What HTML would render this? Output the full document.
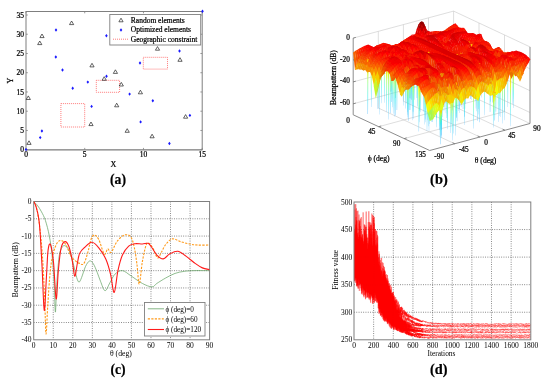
<!DOCTYPE html>
<html><head><meta charset="utf-8"><style>
html,body{margin:0;padding:0;background:#fff;}
svg{display:block;}
text{stroke:#000;stroke-width:0.22px;}
text.l{stroke:none;}
</style></head><body>
<svg width="550" height="384" viewBox="0 0 550 384" font-family="Liberation Serif, serif" fill="#000">
<defs>
<clipPath id="clipc"><rect x="33.7" y="201.5" width="175.9" height="138.3"/></clipPath>
<clipPath id="clipd"><rect x="354" y="202" width="176.8" height="137.8"/></clipPath>
</defs>
<rect width="550" height="384" fill="#fff"/>
<rect x="26" y="11.5" width="176.2" height="138.2" fill="none" stroke="#7f7f7f" stroke-width="1"/>
<path d="M26 149.7H202.2" stroke="#9a9a9a" stroke-width="1.6"/>
<path d="M26 149.7v-1.8M26 11.5v1.8" stroke="#7f7f7f" stroke-width="0.8"/>
<text x="26" y="157.4" font-size="7.5" text-anchor="middle" >0</text>
<path d="M84.73 149.7v-1.8M84.73 11.5v1.8" stroke="#7f7f7f" stroke-width="0.8"/>
<text x="84.73" y="157.4" font-size="7.5" text-anchor="middle" >5</text>
<path d="M143.47 149.7v-1.8M143.47 11.5v1.8" stroke="#7f7f7f" stroke-width="0.8"/>
<text x="143.47" y="157.4" font-size="7.5" text-anchor="middle" >10</text>
<path d="M202.2 149.7v-1.8M202.2 11.5v1.8" stroke="#7f7f7f" stroke-width="0.8"/>
<text x="202.2" y="157.4" font-size="7.5" text-anchor="middle" >15</text>
<path d="M26 149.7h1.8M202.2 149.7h-1.8" stroke="#7f7f7f" stroke-width="0.8"/>
<text x="23.9" y="152.3" font-size="7.5" text-anchor="end" >0</text>
<path d="M26 130.46h1.8M202.2 130.46h-1.8" stroke="#7f7f7f" stroke-width="0.8"/>
<text x="23.9" y="133.06" font-size="7.5" text-anchor="end" >5</text>
<path d="M26 111.21h1.8M202.2 111.21h-1.8" stroke="#7f7f7f" stroke-width="0.8"/>
<text x="23.9" y="113.81" font-size="7.5" text-anchor="end" >10</text>
<path d="M26 91.97h1.8M202.2 91.97h-1.8" stroke="#7f7f7f" stroke-width="0.8"/>
<text x="23.9" y="94.57" font-size="7.5" text-anchor="end" >15</text>
<path d="M26 72.73h1.8M202.2 72.73h-1.8" stroke="#7f7f7f" stroke-width="0.8"/>
<text x="23.9" y="75.33" font-size="7.5" text-anchor="end" >20</text>
<path d="M26 53.49h1.8M202.2 53.49h-1.8" stroke="#7f7f7f" stroke-width="0.8"/>
<text x="23.9" y="56.09" font-size="7.5" text-anchor="end" >25</text>
<path d="M26 34.24h1.8M202.2 34.24h-1.8" stroke="#7f7f7f" stroke-width="0.8"/>
<text x="23.9" y="36.84" font-size="7.5" text-anchor="end" >30</text>
<path d="M26 15h1.8M202.2 15h-1.8" stroke="#7f7f7f" stroke-width="0.8"/>
<text x="23.9" y="17.6" font-size="7.5" text-anchor="end" >35</text>
<text x="113.5" y="166.5" font-size="8" text-anchor="middle" >X</text>
<text transform="translate(13.2 80.5) rotate(-90)" font-size="8" text-anchor="middle">Y</text>
<text x="110" y="184.1" font-size="15" font-weight="bold" textLength="16" lengthAdjust="spacingAndGlyphs">(a)</text>
<rect x="60.9" y="103.6" width="23.8" height="23.4" fill="none" stroke="#ff5a5a" stroke-width="0.8" stroke-dasharray="1 1"/>
<rect x="96.3" y="80.3" width="23.3" height="12" fill="none" stroke="#ff5a5a" stroke-width="0.8" stroke-dasharray="1 1"/>
<rect x="143.3" y="57.3" width="24.2" height="11.8" fill="none" stroke="#ff5a5a" stroke-width="0.8" stroke-dasharray="1 1"/>
<path d="M42 34L44.1 37.6L39.9 37.6ZM39.75 41L41.85 44.6L37.65 44.6ZM71.6 21L73.7 24.6L69.5 24.6ZM92 63.3L94.1 66.9L89.9 66.9ZM104.2 76.7L106.3 80.3L102.1 80.3ZM115.4 69.8L117.5 73.4L113.3 73.4ZM121.3 82.4L123.4 86L119.2 86ZM140.4 90.2L142.5 93.8L138.3 93.8ZM157.5 46.6L159.6 50.2L155.4 50.2ZM180 57.7L182.1 61.3L177.9 61.3ZM28.3 95.9L30.4 99.5L26.2 99.5ZM29 140.8L31.1 144.4L26.9 144.4ZM91 122L93.1 125.6L88.9 125.6ZM116.7 103.2L118.8 106.8L114.6 106.8ZM127.2 128.7L129.3 132.3L125.1 132.3ZM152.1 134.2L154.2 137.8L150 137.8ZM185.6 114.6L187.7 118.2L183.5 118.2Z" fill="none" stroke="#222" stroke-width="0.7"/>
<path fill="#1a1aff" d="M56 28.3L57.3 30L56 31.7L54.7 30ZM106.4 34L107.7 35.7L106.4 37.4L105.1 35.7ZM55.8 55.3L57.1 57L55.8 58.7L54.5 57ZM62.5 68.3L63.8 70L62.5 71.7L61.2 70ZM72.7 86.5L74 88.2L72.7 89.9L71.4 88.2ZM87.8 80.4L89.1 82.1L87.8 83.8L86.5 82.1ZM106.5 74.6L107.8 76.3L106.5 78L105.2 76.3ZM140 61.3L141.3 63L140 64.7L138.7 63ZM179.5 49.3L180.8 51L179.5 52.7L178.2 51ZM129.6 92.4L130.9 94.1L129.6 95.8L128.3 94.1ZM152.8 99.1L154.1 100.8L152.8 102.5L151.5 100.8ZM140.6 120.2L141.9 121.9L140.6 123.6L139.3 121.9ZM169.4 141.8L170.7 143.5L169.4 145.2L168.1 143.5ZM189.9 113.7L191.2 115.4L189.9 117.1L188.6 115.4ZM91.6 104.7L92.9 106.4L91.6 108.1L90.3 106.4ZM41.9 129.3L43.2 131L41.9 132.7L40.6 131ZM40.2 135.9L41.5 137.6L40.2 139.3L38.9 137.6ZM26 147.9L27.3 149.6L26 151.3L24.7 149.6ZM202.5 9.6L203.8 11.3L202.5 13L201.2 11.3Z"/>
<rect x="109.8" y="14.5" width="90.9" height="30.5" fill="#fff" stroke="#7f7f7f" stroke-width="0.9"/>
<path d="M121 18.2L123.1 21.8L118.9 21.8Z" fill="none" stroke="#222" stroke-width="0.7"/>
<path fill="#1a1aff" d="M121 28.3L122.3 30L121 31.7L119.7 30Z"/>
<path d="M113 39.2h15" stroke="#ff5a5a" stroke-width="0.8" stroke-dasharray="1 1"/>
<text x="130.8" y="22.6" font-size="7.5" text-anchor="start" >Random elements</text>
<text x="130.8" y="32.2" font-size="7.5" text-anchor="start" >Optimized elements</text>
<text x="130.8" y="41.6" font-size="7.5" text-anchor="start" >Geographic constraint</text>
<path d="M53.24 201.5V339.8M72.79 201.5V339.8M92.33 201.5V339.8M111.88 201.5V339.8M131.42 201.5V339.8M150.97 201.5V339.8M170.51 201.5V339.8M190.06 201.5V339.8M33.7 218.79H209.6M33.7 236.07H209.6M33.7 253.36H209.6M33.7 270.65H209.6M33.7 287.94H209.6M33.7 305.23H209.6M33.7 322.51H209.6" stroke="#3a3a3a" stroke-width="0.65" stroke-dasharray="0.9 1.4"/>
<rect x="33.7" y="201.5" width="175.9" height="138.3" fill="none" stroke="#7f7f7f" stroke-width="1"/>
<text class="l" x="33.7" y="347.9" font-size="7.5" text-anchor="middle" >0</text>
<text class="l" x="53.24" y="347.9" font-size="7.5" text-anchor="middle" >10</text>
<text class="l" x="72.79" y="347.9" font-size="7.5" text-anchor="middle" >20</text>
<text class="l" x="92.33" y="347.9" font-size="7.5" text-anchor="middle" >30</text>
<text class="l" x="111.88" y="347.9" font-size="7.5" text-anchor="middle" >40</text>
<text class="l" x="131.42" y="347.9" font-size="7.5" text-anchor="middle" >50</text>
<text class="l" x="150.97" y="347.9" font-size="7.5" text-anchor="middle" >60</text>
<text class="l" x="170.51" y="347.9" font-size="7.5" text-anchor="middle" >70</text>
<text class="l" x="190.06" y="347.9" font-size="7.5" text-anchor="middle" >80</text>
<text class="l" x="209.6" y="347.9" font-size="7.5" text-anchor="middle" >90</text>
<text class="l" x="31.5" y="204" font-size="7.5" text-anchor="end" >0</text>
<text class="l" x="31.5" y="221.29" font-size="7.5" text-anchor="end" >-5</text>
<text class="l" x="31.5" y="238.57" font-size="7.5" text-anchor="end" >-10</text>
<text class="l" x="31.5" y="255.86" font-size="7.5" text-anchor="end" >-15</text>
<text class="l" x="31.5" y="273.15" font-size="7.5" text-anchor="end" >-20</text>
<text class="l" x="31.5" y="290.44" font-size="7.5" text-anchor="end" >-25</text>
<text class="l" x="31.5" y="307.73" font-size="7.5" text-anchor="end" >-30</text>
<text class="l" x="31.5" y="325.01" font-size="7.5" text-anchor="end" >-35</text>
<text class="l" x="31.5" y="342.3" font-size="7.5" text-anchor="end" >-40</text>
<text class="l" x="120.9" y="356" font-size="7.7" text-anchor="middle" >&#952; (deg)</text>
<text class="l" transform="translate(18.3 269.75) rotate(-90)" font-size="7.6" text-anchor="middle" textLength="55" lengthAdjust="spacingAndGlyphs">Beampattern (dB)</text>
<text x="110.4" y="374.3" font-size="15" font-weight="bold" textLength="15.1" lengthAdjust="spacingAndGlyphs">(c)</text>
<g fill="none" clip-path="url(#clipc)">
<path d="M33.7 201.5C34.35 202.19 36.31 203.92 37.61 205.65C38.91 207.38 40.21 209.39 41.52 211.87C42.82 214.35 44.12 216.48 45.43 220.52C46.73 224.55 48.2 230.02 49.34 236.07C50.48 242.13 51.45 248.75 52.27 256.82C53.08 264.89 53.7 275.26 54.22 284.48C54.74 293.7 54.97 312.14 55.39 312.14C55.82 312.14 56.14 293.7 56.76 284.48C57.38 275.26 58.23 262.99 59.11 256.82C59.99 250.65 61.06 249.33 62.04 247.48C63.02 245.64 63.83 245.35 64.97 245.76C66.11 246.16 67.58 247.2 68.88 249.91C70.18 252.61 71.49 257.4 72.79 262.01C74.09 266.62 75.66 274.22 76.7 277.56C77.74 280.91 78.23 282.06 79.04 282.06C79.86 282.06 80.51 280.16 81.58 277.56C82.66 274.97 84.16 269.27 85.49 266.5C86.83 263.73 88.29 261.43 89.6 260.97C90.9 260.51 92.04 261.83 93.31 263.74C94.58 265.64 96.01 269.44 97.22 272.38C98.42 275.32 99.24 278.31 100.54 281.37C101.84 284.42 103.47 290.47 105.04 290.7C106.6 290.93 108.26 285.52 109.92 282.75C111.58 279.99 112.92 276.12 115 274.11C117.09 272.09 119.7 270.3 122.43 270.65C125.17 271 128.1 274.05 131.42 276.18C134.74 278.31 138.95 281.66 142.37 283.44C145.79 285.23 149.53 286.9 151.94 286.9C154.35 286.9 154.52 284.94 156.83 283.44C159.14 281.94 162.79 279.58 165.82 277.91C168.85 276.24 171.94 274.51 175.01 273.42C178.07 272.32 181.03 271.8 184.19 271.34C187.35 270.88 189.73 270.77 193.96 270.65C198.2 270.53 206.99 270.65 209.6 270.65" stroke="#5f9f5f" stroke-width="0.7"/>
<path d="M33.7 201.5C34.19 202.65 35.65 204.38 36.63 208.41C37.61 212.45 38.59 217.64 39.56 225.7C40.54 233.77 41.65 244.72 42.5 256.82C43.34 268.92 44.06 285.46 44.64 298.31C45.23 311.16 45.49 332.77 46.01 333.92C46.53 335.07 47.06 315.77 47.77 305.23C48.49 294.68 49.4 279.29 50.31 270.65C51.22 262.01 52.1 257.97 53.24 253.36C54.38 248.75 55.79 245.12 57.15 242.99C58.52 240.86 59.99 240.28 61.45 240.57C62.92 240.86 64.45 242.3 65.95 244.72C67.45 247.14 68.91 252.44 70.44 255.09C71.97 257.74 73.6 259.24 75.13 260.62C76.67 262.01 78.2 262.87 79.63 263.39C81.06 263.91 82.37 265.58 83.73 263.74C85.1 261.89 86.63 256.36 87.84 252.33C89.04 248.29 89.89 242.41 90.97 239.53C92.04 236.65 92.98 235.04 94.29 235.04C95.59 235.04 97.12 236.36 98.78 239.53C100.44 242.7 102.76 252.5 104.26 254.05C105.75 255.61 106.63 249.16 107.77 248.87C108.91 248.58 109.57 253.54 111.1 252.33C112.63 251.12 114.78 244.49 116.96 241.61C119.14 238.73 121.91 235.84 124.19 235.04C126.47 234.23 128.98 234.81 130.64 236.77C132.3 238.73 133.12 242.3 134.16 246.79C135.2 251.29 136.05 257.51 136.89 263.74C137.74 269.96 138.33 284.48 139.24 284.13C140.15 283.79 141.23 268.17 142.37 261.66C143.51 255.15 145.01 248.12 146.08 245.06C147.16 242.01 147.68 242.82 148.82 243.34C149.96 243.85 151.46 245.76 152.92 248.18C154.39 250.6 156.21 257.17 157.61 257.86C159.01 258.55 159.96 254.57 161.33 252.33C162.69 250.08 164 246.62 165.82 244.37C167.64 242.13 169.83 239.3 172.27 238.84C174.71 238.38 177.58 240.74 180.48 241.61C183.38 242.47 186.77 243.45 189.66 244.03C192.56 244.6 194.55 244.89 197.87 245.06C201.2 245.24 207.65 245.06 209.6 245.06" stroke="#ff9a1a" stroke-width="1.1" stroke-dasharray="2.2 1.3"/>
<path d="M33.7 201.5C34.09 202.36 35.2 203.81 36.05 206.69C36.89 209.57 38.06 213.89 38.78 218.79C39.5 223.69 39.79 228.01 40.35 236.07C40.9 244.14 41.45 254.8 42.1 267.19C42.76 279.58 43.54 308.68 44.25 310.41C44.97 312.14 45.82 287.07 46.4 277.56C46.99 268.06 47.28 258.89 47.77 253.36C48.26 247.83 48.75 245.41 49.34 244.37C49.92 243.34 50.57 243.91 51.29 247.14C52.01 250.37 52.82 255.09 53.64 263.74C54.45 272.38 55.39 297.85 56.18 299C56.96 300.15 57.51 279.12 58.33 270.65C59.14 262.18 59.95 253.02 61.06 248.18C62.17 243.34 63.67 241.9 64.97 241.61C66.27 241.32 67.67 243.34 68.88 246.45C70.09 249.56 71.23 255.32 72.2 260.28C73.18 265.23 73.9 275.61 74.74 276.18C75.59 276.76 76.47 267.54 77.28 263.74C78.1 259.93 78.42 256.07 79.63 253.36C80.83 250.65 82.46 249.33 84.52 247.48C86.57 245.64 89.56 242.24 91.94 242.3C94.32 242.36 96.44 244.95 98.78 247.83C101.13 250.71 104.06 255.21 106.01 259.59C107.97 263.97 109.14 268.63 110.51 274.11C111.88 279.58 112.99 293.01 114.22 292.43C115.46 291.86 116.57 276.87 117.94 270.65C119.3 264.43 120.64 259.18 122.43 255.09C124.22 251 126.57 248 128.69 246.1C130.8 244.2 132.86 244.03 135.14 243.68C137.42 243.34 140.22 244.08 142.37 244.03C144.52 243.97 146.54 242.87 148.03 243.34C149.53 243.8 149.89 244.83 151.36 246.79C152.82 248.75 154.84 253.07 156.83 255.09C158.82 257.11 161.16 259.07 163.28 258.89C165.4 258.72 167.12 255.32 169.53 254.05C171.94 252.79 175.01 250.94 177.74 251.29C180.48 251.63 183.05 254.11 185.95 256.13C188.85 258.15 192.4 261.43 195.14 263.39C197.87 265.35 199.96 266.85 202.37 267.88C204.78 268.92 208.39 269.32 209.6 269.61" stroke="#ff1a1a" stroke-width="1.1"/>
</g>
<rect x="144.5" y="302.5" width="60.5" height="33.5" fill="#fff" stroke="#7f7f7f" stroke-width="0.9"/>
<path d="M147.8 308.8h16.2" stroke="#5f9f5f" stroke-width="0.75"/>
<path d="M147.8 318.9h16" stroke="#ff9a1a" stroke-width="1.25" stroke-dasharray="2.2 1.3"/>
<path d="M147.8 329.5h16.2" stroke="#ff1a1a" stroke-width="1.1"/>
<text class="l" x="165.5" y="312" font-size="7.2" text-anchor="start" >&#981; (deg)=0</text>
<text class="l" x="165.5" y="322" font-size="7.2" text-anchor="start" >&#981; (deg)=60</text>
<text class="l" x="165.5" y="332" font-size="7.2" text-anchor="start" >&#981; (deg)=120</text>
<path d="M373.64 202V339.8M393.29 202V339.8M412.93 202V339.8M432.58 202V339.8M452.22 202V339.8M471.87 202V339.8M491.51 202V339.8M511.16 202V339.8M354 312.24H530.8M354 284.68H530.8M354 257.12H530.8M354 229.56H530.8" stroke="#3a3a3a" stroke-width="0.65" stroke-dasharray="0.9 1.4"/>
<g fill="none" stroke="#ff0000" stroke-width="0.35" clip-path="url(#clipd)"><path d="M354 245.83L354.1 249.85L354.2 244.93L354.29 248.19L354.39 236.63L354.49 257.12L354.59 236.16L354.69 268.3L354.79 204.24L354.88 244.61L354.98 269.89L355.08 268.17L355.18 260.66L355.28 251.47L355.38 235.66L355.47 244.29L355.57 243.47L355.67 259.83L355.77 204.13L355.87 241.9L355.96 262.31L356.06 269.23L356.16 255.33L356.26 256.05L356.36 208.32L356.46 263.87L356.55 252.88L356.65 220.1L356.75 246.3L356.85 261.86L356.95 259.3L357.04 211.13L357.14 263.29L357.24 271.48L357.34 266.54L357.44 255.01L357.54 242.82L357.63 246.76L357.73 256.56L357.83 263.26L357.93 210.61L358.03 236.72L358.13 258.24L358.22 247.55L358.32 232.46L358.42 264.6L358.52 261.64L358.62 273L358.71 250.75L358.81 250.05L358.91 256.7L359.01 219.88L359.11 238.69L359.21 270.33L359.3 241.06L359.4 269.04L359.5 235.83L359.6 235.5L359.7 251.04L359.8 273.45L359.89 235.25L359.99 246.89L360.09 241.67L360.19 265.54L360.29 246.53L360.38 268.74L360.48 240.82L360.58 266.69L360.68 270.27L360.78 267.47L360.88 277.04L360.97 263.24L361.07 274.12L361.17 239.82L361.27 217.07L361.37 253.97L361.46 279.1L361.56 239.36L361.66 237.07L361.76 252.09L361.86 247.9L361.96 235.7L362.05 256.58L362.15 240.45L362.25 249.59L362.35 239.98L362.45 250.67L362.55 242.21L362.64 246.04L362.74 256.22L362.84 265.16L362.94 254.79L363.04 253.49L363.13 212.33L363.23 265.41L363.33 256.57L363.43 244.69L363.53 248.92L363.63 255.99L363.72 273.48L363.82 261.11L363.92 241.32L364.02 284.01L364.12 252.77L364.22 276.7L364.31 253.72L364.41 242.87L364.51 253.54L364.61 264.65L364.71 241.94L364.8 266.95L364.9 270.21L365 261.77L365.1 245.2L365.2 240.45L365.3 277.4L365.39 272.45L365.49 265.94L365.59 262.21L365.69 245.91L365.79 225.45L365.88 284.3L365.98 283.89L366.08 258.83L366.18 248.38L366.28 279.6L366.38 284.95L366.47 274.89L366.57 284.02L366.67 265.05L366.77 255.16L366.87 240.73L366.97 277.01L367.06 278.05L367.16 264.09L367.26 278.16L367.36 270.24L367.46 261.94L367.55 250.7L367.65 249.03L367.75 282.87L367.85 252.46L367.95 265.41L368.05 243.54L368.14 259.97L368.24 249.06L368.34 265.13L368.44 277.65L368.54 248.16L368.64 253.05L368.73 244.31L368.83 211.22L368.93 249.66L369.03 243.95L369.13 271.13L369.22 266.72L369.32 250.93L369.42 286.8L369.52 285.14L369.62 279.93L369.72 250.16L369.81 281.22L369.91 253.37L370.01 255.08L370.11 264.69L370.21 284.52L370.3 263.14L370.4 253.34L370.5 263.43L370.6 261.67L370.7 270.44L370.8 245.15L370.89 247.62L370.99 225L371.09 279.47L371.19 264.75L371.29 288.07L371.39 225.36L371.48 250.31L371.58 265.55L371.68 286.46L371.78 269.45L371.88 213.51L371.97 266.64L372.07 268.64L372.17 245.72L372.27 274.48L372.37 259.73L372.47 283.85L372.56 289.17L372.66 279.15L372.76 274.53L372.86 259.88L372.96 254.44L373.06 265.38L373.15 280.91L373.25 269.13L373.35 270.35L373.45 282.97L373.55 259.65L373.64 264.75L373.74 260.73L373.84 279.47L373.94 251.08L374.04 275.38L374.14 245.78L374.23 242.22L374.33 284.22L374.43 255.58L374.53 285.95L374.63 270.36L374.72 284.51L374.82 257.86L374.92 280.91L375.02 247.3L375.12 239.97L375.22 254.71L375.31 258.18L375.41 286.94L375.51 288.44L375.61 266.3L375.71 283.33L375.81 280.67L375.9 244.64L376 285.61L376.1 246.65L376.2 255.78L376.3 269.74L376.39 271.91L376.49 290.81L376.59 254.83L376.69 272.43L376.79 275.05L376.89 285.83L376.98 292.59L377.08 259.92L377.18 258.11L377.28 277.64L377.38 274.05L377.48 234.82L377.57 258.74L377.67 264.75L377.77 280.14L377.87 262.02L377.97 267.08L378.06 281.66L378.16 295.02L378.26 280.31L378.36 285.12L378.46 275.61L378.56 264.32L378.65 287.3L378.75 279.36L378.85 286.43L378.95 251.31L379.05 274.27L379.14 266.04L379.24 276.33L379.34 288.61L379.44 296.19L379.54 299.94L379.64 272.82L379.73 286.34L379.83 258.99L379.93 258.02L380.03 300.75L380.13 278.86L380.23 273.6L380.32 288.5L380.42 287.94L380.52 301.98L380.62 290.68L380.72 285.3L380.81 295.27L380.91 286.87L381.01 282.24L381.11 304.15L381.21 303.39L381.31 281.74L381.4 277.62L381.5 303.55L381.6 257.92L381.7 278.12L381.8 291.16L381.9 271.45L381.99 277.93L382.09 292.01L382.19 262.21L382.29 302.7L382.39 292.94L382.48 304.81L382.58 302.86L382.68 287.42L382.78 299.21L382.88 294.9L382.98 291.94L383.07 262.88L383.17 300.51L383.27 282.46L383.37 290.12L383.47 291.72L383.56 295.73L383.66 277.8L383.76 283.26L383.86 282.3L383.96 280.72L384.06 275.76L384.15 300.15L384.25 297.77L384.35 266.85L384.45 269.84L384.55 271.66L384.65 307.15L384.74 306.38L384.84 297.74L384.94 291.5L385.04 283.5L385.14 305.12L385.23 287.28L385.33 306.59L385.43 306.14L385.53 282.44L385.63 287.71L385.73 284.69L385.82 295.19L385.92 291.18L386.02 301.96L386.12 296.86L386.22 281.32L386.32 277.9L386.41 307.81L386.51 306.14L386.61 279.71L386.71 287.02L386.81 281.67L386.9 302.94L387 295.08L387.1 301.46L387.2 280.94L387.3 297.56L387.4 287.15L387.49 274.96L387.59 299.55L387.69 291.53L387.79 284.51L387.89 278.39L387.98 296.37L388.08 298.6L388.18 308.43L388.28 280.93L388.38 309.25L388.48 309.14L388.57 292.46L388.67 295.37L388.77 288.64L388.87 302L388.97 285.99L389.07 309.7L389.16 305.17L389.26 290.41L389.36 309.67L389.46 302.48L389.56 288.95L389.65 290.16L389.75 303.46L389.85 307.99L389.95 301.32L390.05 289.96L390.15 301.29L390.24 309.05L390.34 291.1L390.44 295.53L390.54 285.24L390.64 284.87L390.74 285.91L390.83 300.05L390.93 289.61L391.03 304.16L391.13 303.9L391.23 301.69L391.32 286.84L391.42 288.21L391.52 306.25L391.62 303.25L391.72 303.26L391.82 303.44L391.91 302.71L392.01 303.05L392.11 308.2L392.21 298.75L392.31 292.96L392.4 299.68L392.5 292.42L392.6 299.46L392.7 309.13L392.8 295.02L392.9 292.29L392.99 306.85L393.09 313.08L393.19 301.58L393.29 301.08L393.39 300.71L393.49 291.81L393.58 299.16L393.68 295.94L393.78 312.48L393.88 302L393.98 296.95L394.07 312.23L394.17 312.34L394.27 298.68L394.37 295.52L394.47 312.47L394.57 301.38L394.66 311.4L394.76 299.54L394.86 301.64L394.96 309.66L395.06 310.2L395.16 299.89L395.25 304.6L395.35 300.19L395.45 307.11L395.55 308.19L395.65 296.98L395.74 302.39L395.84 305.62L395.94 304.95L396.04 301.93L396.14 302.27L396.24 298.98L396.33 307.39L396.43 300.76L396.53 303.45L396.63 300.65L396.73 301.54L396.82 301.27L396.92 300.61L397.02 299.75L397.12 304.56L397.22 306.34L397.32 303.8L397.41 302.65L397.51 308.01L397.61 308.09L397.71 311.78L397.81 304.05L397.91 300.99L398 308.92L398.1 311.54L398.2 311.11L398.3 308.51L398.4 310.16L398.49 302.25L398.59 312.99L398.69 310.15L398.79 312.42L398.89 306.44L398.99 305.11L399.08 311.81L399.18 313.14L399.28 308.89L399.38 307.63L399.48 304.29L399.58 313.53L399.67 312.81L399.77 312.08L399.87 311.79L399.97 311.66L400.07 306.98L400.16 308.28L400.26 311.93L400.36 312.34L400.46 311.49L400.56 312.55L400.66 307.27L400.75 311.39L400.85 309.36L400.95 307.1L401.05 310.13L401.15 312.07L401.24 306.88L401.34 306.79L401.44 311.57L401.54 309.99L401.64 306.85L401.74 310.67L401.83 312.75L401.93 314.09L402.03 307.48L402.13 308.68L402.23 311.78L402.33 310.85L402.42 311.02L402.52 312.74L402.62 308.02L402.72 310.34L402.82 313.15L402.91 314.63L403.01 311.8L403.11 312.49L403.21 310.01L403.31 310.6L403.41 311.33L403.5 314.08L403.6 314.15L403.7 313.26L403.8 313.7L403.9 310.24L404 312.37L404.09 311.76L404.19 309.82L404.29 314.04L404.39 312.61L404.49 314.84L404.58 311.46L404.68 315.81L404.78 311.37L404.88 311.33L404.98 311.55L405.08 315.64L405.17 314.71L405.27 312.4L405.37 315.77L405.47 313.83L405.57 313.97L405.66 311.52L405.76 313.53L405.86 312.22L405.96 315.14L406.06 312.76L406.16 314.73L406.25 312.31L406.35 316.51L406.45 312.95L406.55 316.07L406.65 314.52L406.75 314.69L406.84 316.54L406.94 313.39L407.04 315.96L407.14 316.04L407.24 317.21L407.33 316.2L407.43 315.49L407.53 314.4L407.63 316.06L407.73 314.63L407.83 317.28L407.92 316.03L408.02 315.77L408.12 313.6L408.22 314.26L408.32 315.07L408.42 317.86L408.51 316.34L408.61 314.98L408.71 317.01L408.81 315.69L408.91 316.17L409 318.04L409.1 314.1L409.2 314.93L409.3 317.34L409.4 315.76L409.5 317.08L409.59 316.79L409.69 316.2L409.79 317.17L409.89 317.06L409.99 316.89L410.08 315.91L410.18 317.47L410.28 317.71L410.38 315.82L410.48 317.32L410.58 315.17L410.67 316.57L410.77 316.06L410.87 317.46L410.97 315.81L411.07 318.35L411.17 318.22L411.26 318.4L411.36 316.52L411.46 316.47L411.56 318.22L411.66 317.55L411.75 316.22L411.85 317.03L411.95 318.63L412.05 318.25L412.15 318.49L412.25 318.62L412.34 317.82L412.44 318.83L412.54 316.42L412.64 317.88L412.74 317.69L412.84 317.35L412.93 317.07L413.03 316.97L413.13 318.21L413.23 318.4L413.33 318.22L413.42 319.35L413.52 318.34L413.62 317.57L413.72 316.86L413.82 317.42L413.92 317.82L414.01 318L414.11 319.62L414.21 318.83L414.31 318.84L414.41 318.07L414.5 319.56L414.6 318.88L414.7 318.58L414.8 317.89L414.9 317.84L415 318.44L415.09 319.67L415.19 318.13L415.29 317.82L415.39 318.78L415.49 319.33L415.59 319L415.68 319.96L415.78 318.54L415.88 317.89L415.98 319.13L416.08 318.67L416.17 318.41L416.27 320.07L416.37 318.23L416.47 319.07L416.57 320.2L416.67 320.53L416.76 320.16L416.86 319.38L416.96 319.13L417.06 320.08L417.16 318.64L417.26 320.09L417.35 319.88L417.45 320.76L417.55 318.72L417.65 320.81L417.75 318.99L417.84 319.91L417.94 319.91L418.04 319.95L418.14 320.71L418.24 319.21L418.34 319.06L418.43 319.52L418.53 320.08L418.63 321.26L418.73 319.64L418.83 320.95L418.92 319.56L419.02 321.15L419.12 320.41L419.22 319.86L419.32 321.4L419.42 320.61L419.51 321.74L419.61 321.87L419.71 321.55L419.81 319.72L419.91 319.85L420.01 320.51L420.1 321.33L420.2 320.52L420.3 320.4L420.4 321.22L420.5 320.77L420.59 320.31L420.69 322.09L420.79 321.7L420.89 321.12L420.99 321.86L421.09 321.34L421.18 320.96L421.28 321.85L421.38 321.11L421.48 321.69L421.58 321.04L421.68 321.57L421.77 320.92L421.87 322.25L421.97 320.9L422.07 322.05L422.17 320.33L422.26 321.12L422.36 321.41L422.46 321.56L422.56 321.13L422.66 321.01L422.76 320.89L422.95 320.94L423.15 321.54L423.34 320.53L423.54 320.9L423.74 320.91L423.93 321.85L424.13 321.84L424.33 321.61L424.52 320.99L424.72 321.77L424.92 321.82L425.11 322.04L425.31 321.17L425.51 322.33L425.7 322.87L425.9 321.64L426.1 321.36L426.29 321.71L426.49 322L426.68 321.76L426.88 322.62L427.08 322.13L427.27 323.11L427.47 323.05L427.67 322.51L427.86 322.46L428.06 322.68L428.26 323.31L428.45 322.25L428.65 322.57L428.85 323.1L429.04 323.02L429.24 322.91L429.43 323.21L429.63 323.52L429.83 322.19L430.02 322.15L430.22 322.67L430.42 322.4L430.61 323.14L430.81 322.58L431.01 323.52L431.2 322.76L431.4 323.07L431.6 322.61L431.79 323.85L431.99 322.84L432.18 323.83L432.38 323.24L432.58 322.66L432.77 324.03L432.97 323.69L433.17 323.62L433.36 323.6L433.56 323.98L433.76 322.8L433.95 322.93L434.15 323.54L434.35 323.6L434.54 323.29L434.74 324.07L434.94 324.1L435.13 322.87L435.33 323.73L435.52 323.46L435.72 322.85L435.92 322.8L436.11 323.53L436.31 323.92L436.51 323.81L436.7 322.92L436.9 322.97L437.1 323.98L437.29 323.08L437.49 323.78L437.69 323.62L437.88 324.06L438.08 323.06L438.27 322.91L438.47 324.04L438.67 323.44L438.86 324.08L439.06 323.11L439.26 324.3L439.45 324.23L439.65 323.36L439.85 323.96L440.04 323.14L440.24 323.19L440.44 323.43L440.63 324.25L440.83 323.47L441.02 323.14L441.22 323.85L441.42 324.37L441.61 324.18L441.81 324.07L442.01 323.51L442.2 324.25L442.4 324.28L442.6 324.22L442.79 323.62L442.99 323.46L443.19 324.05L443.38 323.66L443.58 323.35L443.78 323.78L443.97 324.3L444.17 324.21L444.36 323.33L444.56 323.69L444.76 324.24L444.95 323.73L445.15 324.5L445.35 323.25L445.54 324.01L445.74 323.89L445.94 323.88L446.13 324.57L446.33 323.79L446.53 324.23L446.72 324.28L446.92 323.5L447.11 324.51L447.31 324.23L447.51 323.57L447.7 324.29L447.9 324.24L448.1 323.86L448.29 324.37L448.49 323.38L448.69 323.25L448.88 324.58L449.08 323.99L449.28 323.58L449.47 324.09L449.67 323.33L449.86 323.93L450.06 324.38L450.26 323.86L450.45 323.73L450.65 324.13L450.85 323.71L451.04 323.54L451.24 323.91L451.44 323.93L451.63 323.46L451.83 323.68L452.03 323.91L452.22 323.31L452.42 324.39L452.62 323.55L452.81 324.4L453.01 323.79L453.2 324.3L453.4 324.02L453.6 323.56L453.79 323.54L453.99 323.54L454.19 324.3L454.38 323.95L454.58 324.33L454.78 323.83L454.97 323.94L455.17 324.58L455.37 323.81L455.56 323.64L455.76 323.84L455.95 323.43L456.15 324.38L456.35 324.42L456.54 324.61L456.74 323.95L456.94 324.03L457.13 324.02L457.33 324.27L457.53 323.53L457.72 324.53L457.92 323.38L458.12 323.85L458.31 323.89L458.51 323.54L458.7 324.31L458.9 324.43L459.1 324.21L459.29 324.57L459.49 324.2L459.69 323.78L459.88 323.91L460.08 324.27L460.28 323.83L460.47 324.51L460.67 323.51L460.87 324.4L461.06 324.28L461.26 324.41L461.46 323.69L461.65 323.5L461.85 323.56L462.04 324.55L462.24 324.07L462.44 324.14L462.63 324.34L462.83 323.31L463.03 324.58L463.22 323.97L463.42 323.6L463.62 323.29L463.81 324.44L464.01 324.01L464.21 323.62L464.4 324.58L464.6 324.31L464.79 323.42L464.99 324.44L465.19 324.1L465.38 324.23L465.58 324.06L465.78 324.53L465.97 324.59L466.17 323.28L466.37 323.6L466.56 323.64L466.76 324.32L466.96 324.29L467.15 323.89L467.35 324.31L467.54 324.01L467.74 323.37L467.94 324.14L468.13 324.18L468.33 323.31L468.53 323.81L468.72 324.58L468.92 324.09L469.12 323.76L469.31 324.56L469.51 324.17L469.71 323.7L469.9 323.47L470.1 323.84L470.3 323.44L470.49 324.01L470.69 324.11L470.88 323.5L471.08 324.12L471.28 323.58L471.47 324.35L471.67 324.17L471.87 324.39L472.06 323.9L472.26 324.42L472.46 324.36L472.65 324.35L472.85 324.01L473.05 324.22L473.24 324.04L473.44 323.3L473.63 323.72L473.83 323.48L474.03 324.36L474.22 324.12L474.42 324.54L474.62 323.71L474.81 324.15L475.01 324.27L475.21 324.61L475.4 324.39L475.6 324.29L475.8 324.11L475.99 323.4L476.19 323.68L476.38 324.28L476.58 324.15L476.78 324.43L476.97 323.39L477.17 324.16L477.37 323.62L477.56 323.67L477.76 323.43L477.96 324.61L478.15 324.21L478.35 324.13L478.55 324.53L478.74 323.46L478.94 324.2L479.14 323.61L479.33 323.95L479.53 324.56L479.72 324.11L479.92 324.32L480.12 324.58L480.31 324.44L480.51 323.85L480.71 324.6L480.9 324.22L481.1 324.08L481.3 323.92L481.49 324.46L481.69 323.7L481.89 324.29L482.08 323.68L482.28 323.76L482.47 324.44L482.67 324.37L482.87 324.27L483.06 323.7L483.26 324.1L483.46 324.13L483.65 323.5L483.85 324.34L484.05 324.25L484.24 324.18L484.44 324.35L484.64 324.58L484.83 324.61L485.03 323.81L485.22 323.89L485.42 323.58L485.62 323.36L485.81 324.25L486.01 323.76L486.21 323.43L486.4 324.35L486.6 323.73L486.8 323.76L486.99 323.39L487.19 323.5L487.39 324.33L487.58 323.81L487.78 324.52L487.98 324.08L488.17 324.13L488.37 324.56L488.56 324.14L488.76 324.21L488.96 323.99L489.15 324.27L489.35 324.43L489.55 324.11L489.74 324.02L489.94 324.42L490.14 323.77L490.33 324.33L490.53 324.52L490.73 324.19L490.92 324.09L491.12 324.44L491.31 323.88L491.51 323.73L491.71 323.92L491.9 323.73L492.1 324.61L492.3 324.13L492.49 324.17L492.69 324.56L492.89 324.12L493.08 324.57L493.28 324L493.48 323.88L493.67 324.03L493.87 324.22L494.06 324.31L494.26 324.61L494.46 324.19L494.65 323.49L494.85 323.91L495.05 324.3L495.24 323.78L495.44 324.4L495.64 324.03L495.83 323.85L496.03 323.41L496.23 324.17L496.42 323.9L496.62 323.43L496.82 323.65L497.01 323.83L497.21 323.84L497.4 324.11L497.6 324.11L497.8 324.29L497.99 323.57L498.19 323.51L498.39 324.15L498.58 323.47L498.78 324.59L498.98 324.47L499.17 323.99L499.37 324.25L499.57 324.18L499.76 323.39L499.96 324.45L500.15 324.4L500.35 324.35L500.55 323.77L500.74 324.34L500.94 324.64L501.14 323.95L501.33 324.14L501.53 324.34L501.73 324.01L501.92 323.81L502.12 323.94L502.32 323.85L502.51 323.93L502.71 323.58L502.9 323.41L503.1 324.22L503.3 324.2L503.49 323.51L503.69 324.24L503.89 323.73L504.08 323.76L504.28 323.77L504.48 323.42L504.67 323.59L504.87 324.44L505.07 323.85L505.26 324.02L505.46 323.93L505.66 324.17L505.85 324.28L506.05 323.69L506.24 323.97L506.44 324.34L506.64 324.33L506.83 324.23L507.03 324.42L507.23 323.99L507.42 324.48L507.62 324.56L507.82 324.56L508.01 324.51L508.21 323.75L508.41 324.5L508.6 324.07L508.8 323.67L508.99 324.04L509.19 324.44L509.39 323.55L509.58 323.55L509.78 324.58L509.98 324.32L510.17 324.01L510.37 323.64L510.57 324.15L510.76 323.74L510.96 324.33L511.16 323.74L511.35 324.23L511.55 324.22L511.74 323.69L511.94 323.59L512.14 323.6L512.33 323.93L512.53 324.12L512.73 323.76L512.92 323.86L513.12 323.6L513.32 323.64L513.51 324.49L513.71 324.17L513.91 323.81L514.1 324.36L514.3 324.41L514.5 324.63L514.69 323.91L514.89 323.47L515.08 323.43L515.28 324.48L515.48 323.79L515.67 324.12L515.87 323.86L516.07 324.15L516.26 323.48L516.46 323.41L516.66 324.58L516.85 323.76L517.05 324.5L517.25 324.59L517.44 324.29L517.64 323.74L517.83 323.41L518.03 324.5L518.23 324.24L518.42 324.61L518.62 323.97L518.82 324.05L519.01 324.18L519.21 324.26L519.41 323.65L519.6 323.61L519.8 324.29L520 324.16L520.19 323.88L520.39 323.7L520.58 323.43L520.78 324.17L520.98 323.79L521.17 323.97L521.37 323.66L521.57 324.47L521.76 324.43L521.96 324.51L522.16 323.5L522.35 324.34L522.55 324.05L522.75 324.5L522.94 324.25L523.14 324.62L523.34 323.95L523.53 324.47L523.73 323.88L523.92 324.31L524.12 324.37L524.32 324.06L524.51 324.2L524.71 324.33L524.91 324.58L525.1 324.57L525.3 323.55L525.5 324.27L525.69 324.55L525.89 324.42L526.09 324.06L526.28 323.43L526.48 324.4L526.67 323.59L526.87 324.06L527.07 324.14L527.26 323.66L527.46 324.16L527.66 324.58L527.85 323.98L528.05 323.85L528.25 323.89L528.44 324.31L528.64 323.5L528.84 323.6L529.03 323.44L529.23 324.11L529.42 323.63L529.62 323.77L529.82 324.43L530.01 324.62L530.21 324.44L530.41 324.5L530.6 324.56L530.8 324.21"/><path d="M354 257.53L354.1 270.07L354.2 230.9L354.29 248.93L354.39 238.04L354.49 254.5L354.59 236.79L354.69 230.29L354.79 231.88L354.88 242.23L354.98 233.79L355.08 247.85L355.18 255.89L355.28 244.73L355.38 257.15L355.47 257.73L355.57 234.6L355.67 268.99L355.77 241.73L355.87 241.78L355.96 244.57L356.06 269.09L356.16 258.84L356.26 273.5L356.36 256.84L356.46 251.26L356.55 226.34L356.65 260.77L356.75 270.02L356.85 220.81L356.95 226.32L357.04 244.74L357.14 263.5L357.24 234.54L357.34 267.67L357.44 232.94L357.54 248.41L357.63 248.13L357.73 249.45L357.83 239.13L357.93 254.54L358.03 271.7L358.13 246.72L358.22 247.9L358.32 260.31L358.42 250.97L358.52 254.84L358.62 250.04L358.71 251.66L358.81 236.88L358.91 257.4L359.01 214.52L359.11 245.81L359.21 223.59L359.3 273.07L359.4 221.39L359.5 241.66L359.6 237.44L359.7 243.77L359.8 235.14L359.89 240.76L359.99 268.56L360.09 259.59L360.19 241.28L360.29 267.68L360.38 277.08L360.48 245.13L360.58 269.8L360.68 242.29L360.78 256.2L360.88 245.14L360.97 264.75L361.07 279.79L361.17 242.38L361.27 276.44L361.37 264.25L361.46 253.98L361.56 278.96L361.66 231.09L361.76 242.49L361.86 273.68L361.96 263.12L362.05 267.43L362.15 254.25L362.25 255.59L362.35 275.15L362.45 251.65L362.55 277.82L362.64 240.46L362.74 267.55L362.84 238.18L362.94 250.26L363.04 270.15L363.13 277.91L363.23 265.1L363.33 265.96L363.43 261.55L363.53 269.15L363.63 274.49L363.72 272.3L363.82 272.36L363.92 254.13L364.02 242.12L364.12 251.09L364.22 264.99L364.31 266.42L364.41 265.45L364.51 230.93L364.61 254.68L364.71 266.99L364.8 244.25L364.9 266.67L365 247.86L365.1 258.75L365.2 282.01L365.3 282.6L365.39 269.13L365.49 255.24L365.59 244.46L365.69 285.94L365.79 264.86L365.88 265.12L365.98 255.4L366.08 241.22L366.18 211.56L366.28 248.04L366.38 254.15L366.47 238.07L366.57 268.52L366.67 277.31L366.77 234.1L366.87 281.01L366.97 252.49L367.06 280L367.16 258.26L367.26 275.98L367.36 253.2L367.46 282.5L367.55 287.54L367.65 243.09L367.75 287.27L367.85 262.78L367.95 283.22L368.05 274.14L368.14 282.7L368.24 282.52L368.34 264.18L368.44 251.46L368.54 269.02L368.64 278.53L368.73 262.17L368.83 248.1L368.93 248.17L369.03 242.41L369.13 269.71L369.22 247.64L369.32 229.09L369.42 282.11L369.52 254.03L369.62 282.1L369.72 288.37L369.81 275.22L369.91 222.59L370.01 287.71L370.11 286.21L370.21 284.65L370.3 274.15L370.4 258.36L370.5 244.16L370.6 265.92L370.7 271.17L370.8 254.39L370.89 272.58L370.99 267.31L371.09 269.63L371.19 288.32L371.29 287.79L371.39 264.06L371.48 280.03L371.58 272.77L371.68 267.33L371.78 254.35L371.88 290.77L371.97 243.79L372.07 262.16L372.17 231.42L372.27 273.31L372.37 261.53L372.47 276.07L372.56 266.22L372.66 289.12L372.76 279.36L372.86 252.57L372.96 249.43L373.06 277.87L373.15 287.84L373.25 217.94L373.35 276.48L373.45 253.2L373.55 289.52L373.64 290.02L373.74 265.06L373.84 260.84L373.94 246.38L374.04 263.84L374.14 256.23L374.23 259.09L374.33 216.99L374.43 254.31L374.53 255.84L374.63 270.49L374.72 286.27L374.82 256.88L374.92 286.33L375.02 260.27L375.12 286.4L375.22 277.13L375.31 229.12L375.41 281.76L375.51 266.64L375.61 285.8L375.71 269.68L375.81 271.57L375.9 260.49L376 268.81L376.1 273.65L376.2 286.92L376.3 284.58L376.39 283.42L376.49 285.55L376.59 267.27L376.69 276.65L376.79 257.61L376.89 269.32L376.98 253.07L377.08 265.68L377.18 284.47L377.28 271.97L377.38 293.47L377.48 281.13L377.57 279.4L377.67 274.86L377.77 236.35L377.87 278.84L377.97 269.01L378.06 286.87L378.16 297.75L378.26 277.93L378.36 287.35L378.46 264.78L378.56 270.84L378.65 272.29L378.75 294.22L378.85 279.86L378.95 274.9L379.05 270.76L379.14 278.83L379.24 270.31L379.34 293.81L379.44 279.37L379.54 296.2L379.64 286.58L379.73 294.87L379.83 300.28L379.93 295.69L380.03 295.6L380.13 276.54L380.23 277.24L380.32 285.48L380.42 281.73L380.52 284.3L380.62 280.87L380.72 303.75L380.81 294.24L380.91 298.44L381.01 294.35L381.11 276.83L381.21 288.69L381.31 299.1L381.4 302.97L381.5 286.53L381.6 279.36L381.7 289.71L381.8 277.26L381.9 280.99L381.99 287.33L382.09 306.32L382.19 278.47L382.29 282.46L382.39 292.41L382.48 292.44L382.58 292.65L382.68 293.64L382.78 287.95L382.88 294.4L382.98 294.56L383.07 281.1L383.17 304.79L383.27 299.34L383.37 282.8L383.47 265.89L383.56 267.32L383.66 268.66L383.76 271.84L383.86 268.78L383.96 308.58L384.06 288.49L384.15 284.35L384.25 280.5L384.35 283.83L384.45 284.02L384.55 270.74L384.65 306.56L384.74 288.59L384.84 270.46L384.94 309.18L385.04 306L385.14 275L385.23 271.65L385.33 309.94L385.43 309.73L385.53 277.62L385.63 283.55L385.73 290.53L385.82 288.32L385.92 281.49L386.02 279.74L386.12 311.73L386.22 309.21L386.32 281.01L386.41 274.22L386.51 280.08L386.61 296.8L386.71 299.84L386.81 299.67L386.9 312.51L387 284.21L387.1 303.63L387.2 291.79L387.3 294.3L387.4 301.66L387.49 289.41L387.59 297.8L387.69 306.13L387.79 282.85L387.89 308.74L387.98 309.9L388.08 306.42L388.18 298.63L388.28 288.11L388.38 304.36L388.48 307.92L388.57 293.67L388.67 307.61L388.77 298.84L388.87 308.26L388.97 287.45L389.07 311.08L389.16 309.7L389.26 307.63L389.36 306.95L389.46 294.26L389.56 296.3L389.65 292.9L389.75 301.23L389.85 316.13L389.95 294.82L390.05 311.34L390.15 312.39L390.24 306.58L390.34 289.34L390.44 308.44L390.54 309.12L390.64 292.91L390.74 290.96L390.83 308.99L390.93 316.54L391.03 297.91L391.13 298.34L391.23 311.11L391.32 298.57L391.42 310.2L391.52 312.87L391.62 304.63L391.72 300.8L391.82 308.13L391.91 299.19L392.01 320.59L392.11 307.98L392.21 311.2L392.31 319.39L392.4 297.93L392.5 317.53L392.6 316.06L392.7 299.6L392.8 297.84L392.9 298.81L392.99 313.15L393.09 299.35L393.19 318.07L393.29 304.88L393.39 299.78L393.49 317.14L393.58 318.51L393.68 306.5L393.78 302.19L393.88 305.84L393.98 301.23L394.07 312.09L394.17 313.96L394.27 319.37L394.37 316.27L394.47 302.73L394.57 320.57L394.66 318.36L394.76 315.22L394.86 321.2L394.96 316.26L395.06 318.75L395.16 319.98L395.25 312.48L395.35 312.39L395.45 312.06L395.55 308.71L395.65 313.13L395.74 305.88L395.84 321.22L395.94 318.85L396.04 321.43L396.14 317.59L396.24 310.24L396.33 307.79L396.43 314.81L396.53 320.42L396.63 317.84L396.73 314.28L396.82 318.62L396.92 311.26L397.02 308.83L397.12 316.55L397.22 314.65L397.32 311.4L397.41 316.93L397.51 320.82L397.61 310.73L397.71 310.47L397.81 323.06L397.91 313.59L398 318.29L398.1 322.65L398.2 321.29L398.3 321.21L398.4 314.56L398.49 320.84L398.59 323.12L398.69 320.84L398.79 314.29L398.89 317.79L398.99 316.16L399.08 318.33L399.18 321.49L399.28 323.34L399.38 320.28L399.48 323.11L399.58 320.86L399.67 317.22L399.77 319.85L399.87 318.88L399.97 317.46L400.07 320.57L400.16 320.25L400.26 315.26L400.36 318.25L400.46 319.88L400.56 318.82L400.66 319.63L400.75 320.85L400.85 315.77L400.95 321.84L401.05 315.85L401.15 316.68L401.24 316.57L401.34 322.63L401.44 319.86L401.54 316.13L401.64 321.76L401.74 322.73L401.83 318.55L401.93 322.33L402.03 319.81L402.13 323L402.23 317.39L402.33 322.19L402.42 323.54L402.52 319.57L402.62 321.94L402.72 320.62L402.82 321.1L402.91 318.5L403.01 321.16L403.11 322.07L403.21 324.42L403.31 321.52L403.41 322.96L403.5 321.23L403.6 320.97L403.7 322.05L403.8 324.3L403.9 322.01L404 322.18L404.09 321.35L404.19 319.52L404.29 323.48L404.39 322.6L404.49 324.64L404.58 320.68L404.68 323.85L404.78 320.61L404.88 320.83L404.98 323.83L405.08 320.36L405.17 322.55L405.27 323L405.37 322.35L405.47 320.33L405.57 322.77L405.66 322.85L405.76 323.88L405.86 321.08L405.96 322.85L406.06 323.7L406.16 324.47L406.25 324.41L406.35 321.36L406.45 321.56L406.55 320.74L406.65 321.1L406.75 322.27L406.84 321.77L406.94 322.23L407.04 321.81L407.14 321.9L407.24 324.87L407.33 321.93L407.43 324.33L407.53 324.63L407.63 321.6L407.73 325.69L407.83 323.52L407.92 324.31L408.02 322.36L408.12 323.2L408.22 321.94L408.32 321.9L408.42 323.18L408.51 325.68L408.61 323.17L408.71 325.54L408.81 321.95L408.91 322.46L409 324.79L409.1 325.33L409.2 323.32L409.3 323.11L409.4 322.26L409.5 323.73L409.59 325.7L409.69 323.41L409.79 326L409.89 322.97L409.99 323.39L410.08 323.37L410.18 323.09L410.28 324.25L410.38 322.94L410.48 324.08L410.58 324.65L410.67 325.05L410.77 325.17L410.87 326.31L410.97 325.83L411.07 323.68L411.17 325.6L411.26 324.2L411.36 323.81L411.46 324.09L411.56 324.68L411.66 325.33L411.75 325.47L411.85 325.74L411.95 324.32L412.05 324.22L412.15 323.46L412.25 325.31L412.34 323.55L412.44 323.62L412.54 325.44L412.64 323.55L412.74 324.52L412.84 323.57L412.93 324.12L413.03 325.34L413.13 325.5L413.23 324.84L413.33 324.95L413.42 326.19L413.52 323.95L413.62 324.85L413.72 325.03L413.82 324.3L413.92 325.65L414.01 325.79L414.11 324.78L414.21 325.69L414.31 325.47L414.41 326.16L414.5 326.22L414.6 325.42L414.7 324.98L414.8 323.88L414.9 324.71L415 325.31L415.09 325.34L415.19 325.79L415.29 325.18L415.39 323.93L415.49 326.11L415.59 325.31L415.68 324.67L415.78 324.49L415.88 325.03L415.98 324.82L416.08 324.08L416.17 324.18L416.27 325.84L416.37 325.12L416.47 323.98L416.57 325.17L416.67 326.03L416.76 324.6L416.86 326.37L416.96 326.15L417.06 325.16L417.16 325.86L417.26 324.76L417.35 324.75L417.45 325.75L417.55 324.65L417.65 324.94L417.75 324.8L417.84 325.41L417.94 325.47L418.04 326.25L418.14 325.37L418.24 324.22L418.34 324.38L418.43 326.37L418.53 326.33L418.63 325.85L418.73 324.85L418.83 325.45L418.92 326.18L419.02 325.48L419.12 325.14L419.22 324.74L419.32 325.53L419.42 324.96L419.51 324.89L419.61 325.04L419.71 326.35L419.81 324.83L419.91 326.16L420.01 326.33L420.1 325.37L420.2 326.41L420.3 326.28L420.4 325.56L420.5 325.38L420.59 326.2L420.69 324.3L420.79 324.53L420.89 325.34L420.99 325.12L421.09 325.72L421.18 324.25L421.28 326.15L421.38 325.74L421.48 325.92L421.58 324.52L421.68 325.3L421.77 325.51L421.87 325.53L421.97 324.48L422.07 325.84L422.17 324.69L422.26 324.87L422.36 325.43L422.46 325.6L422.56 325.45L422.66 325.42L422.76 325.7L422.95 325.06L423.15 325.5L423.34 325.72L423.54 324.76L423.74 325.41L423.93 325.37L424.13 324.56L424.33 325.41L424.52 325.57L424.72 324.54L424.92 324.39L425.11 324.77L425.31 325.51L425.51 325L425.7 324.87L425.9 325.71L426.1 324.91L426.29 324.49L426.49 325.04L426.68 325.02L426.88 325.45L427.08 325.05L427.27 325.82L427.47 324.85L427.67 325.26L427.86 324.49L428.06 325.61L428.26 324.97L428.45 326.16L428.65 325.47L428.85 324.88L429.04 325.74L429.24 325.15L429.43 325.79L429.63 325.5L429.83 324.54L430.02 325.82L430.22 324.68L430.42 326.03L430.61 325.21L430.81 324.84L431.01 324.82L431.2 325.5L431.4 325.2L431.6 325.02L431.79 324.95L431.99 324.98L432.18 325.23L432.38 325.7L432.58 325.05L432.77 325.25L432.97 325.28L433.17 324.65L433.36 325.86L433.56 324.94L433.76 325.6L433.95 325.02L434.15 324.7L434.35 325.67L434.54 325.25L434.74 325.31L434.94 325.36L435.13 325.82L435.33 325.17L435.52 324.79L435.72 325.12L435.92 325.65L436.11 324.92L436.31 325.47L436.51 325.86L436.7 325.2L436.9 325.41L437.1 325.31L437.29 324.66L437.49 325.26L437.69 324.71L437.88 325.57L438.08 324.99L438.27 325.96L438.47 325.64L438.67 325.09L438.86 325.09L439.06 324.89L439.26 325.53L439.45 325.68L439.65 325.56L439.85 325.31L440.04 326.04L440.24 325.54L440.44 325.14L440.63 325.86L440.83 325.63L441.02 324.84L441.22 324.75L441.42 325.72L441.61 325.82L441.81 325.91L442.01 325.95L442.2 324.95L442.4 325.03L442.6 325.7L442.79 325.38L442.99 325.09L443.19 326.03L443.38 324.92L443.58 324.86L443.78 325.78L443.97 325.08L444.17 325.09L444.36 325.6L444.56 324.84L444.76 325.77L444.95 325.41L445.15 325.64L445.35 325.46L445.54 324.94L445.74 325.28L445.94 325.22L446.13 324.69L446.33 325.76L446.53 325.77L446.72 325.21L446.92 325.87L447.11 324.73L447.31 325.6L447.51 325.46L447.7 325.48L447.9 324.92L448.1 324.8L448.29 325.13L448.49 325.84L448.69 325.59L448.88 325.1L449.08 325.78L449.28 324.85L449.47 324.87L449.67 325.77L449.86 325.58L450.06 325.76L450.26 325.08L450.45 326.02L450.65 325.12L450.85 326L451.04 324.91L451.24 325.33L451.44 325.27L451.63 325.95L451.83 326.02L452.03 325.6L452.22 324.72L452.42 325.25L452.62 324.89L452.81 326L453.01 325.95L453.2 326.06L453.4 325.12L453.6 325.84L453.79 325.71L453.99 325.17L454.19 325.13L454.38 325.64L454.58 325.44L454.78 325.69L454.97 325.31L455.17 325.6L455.37 325.59L455.56 325.75L455.76 325.69L455.95 325.73L456.15 326.07L456.35 325.66L456.54 325.28L456.74 325.72L456.94 325.94L457.13 324.93L457.33 325.45L457.53 325.39L457.72 325.66L457.92 324.87L458.12 325.06L458.31 325.24L458.51 325.19L458.7 325.14L458.9 325.41L459.1 325.53L459.29 325.56L459.49 325.4L459.69 325.45L459.88 325.37L460.08 325.37L460.28 325.02L460.47 324.87L460.67 325.79L460.87 326.07L461.06 325.69L461.26 326.06L461.46 325.01L461.65 325.25L461.85 325.71L462.04 325.84L462.24 324.91L462.44 324.96L462.63 325.17L462.83 325.16L463.03 325.09L463.22 325.48L463.42 325.56L463.62 325.35L463.81 324.9L464.01 324.75L464.21 324.85L464.4 324.97L464.6 326L464.79 325.77L464.99 324.78L465.19 325.37L465.38 325.41L465.58 325.68L465.78 324.93L465.97 325.4L466.17 324.76L466.37 326L466.56 324.76L466.76 326.09L466.96 325.91L467.15 325.58L467.35 325.24L467.54 325.96L467.74 325.35L467.94 324.84L468.13 325.52L468.33 325.08L468.53 325.31L468.72 325.32L468.92 325.88L469.12 325.48L469.31 324.89L469.51 325.2L469.71 325.82L469.9 325.51L470.1 325.38L470.3 325.66L470.49 325.33L470.69 325.26L470.88 326.09L471.08 325.82L471.28 325.23L471.47 325.82L471.67 326.02L471.87 325.09L472.06 325.67L472.26 324.83L472.46 325.36L472.65 325.98L472.85 325.26L473.05 325.76L473.24 325.02L473.44 325.14L473.63 325.1L473.83 326.04L474.03 326.07L474.22 325.05L474.42 325.93L474.62 325.85L474.81 326.08L475.01 325.9L475.21 325.49L475.4 324.84L475.6 325.69L475.8 325.77L475.99 325.01L476.19 325.87L476.38 325.27L476.58 325.3L476.78 324.87L476.97 326.06L477.17 325.37L477.37 325.61L477.56 325.02L477.76 325.79L477.96 325.17L478.15 325.88L478.35 325.46L478.55 324.84L478.74 325.8L478.94 325.75L479.14 324.91L479.33 325.23L479.53 326.04L479.72 325.88L479.92 325.81L480.12 325.74L480.31 325.01L480.51 325.2L480.71 324.83L480.9 325.24L481.1 325.3L481.3 325.62L481.49 325.18L481.69 325.47L481.89 326.05L482.08 325.48L482.28 325.62L482.47 325.43L482.67 326.06L482.87 326.09L483.06 324.83L483.26 325.64L483.46 325.69L483.65 325.93L483.85 325.35L484.05 324.92L484.24 325.89L484.44 325.47L484.64 325.47L484.83 325.12L485.03 325.38L485.22 325.81L485.42 325.88L485.62 325.17L485.81 326.02L486.01 324.99L486.21 326.08L486.4 325.88L486.6 325.51L486.8 325.02L486.99 325.31L487.19 325.15L487.39 325.13L487.58 325.18L487.78 326.06L487.98 325.04L488.17 325.93L488.37 325.91L488.56 326.07L488.76 326.09L488.96 324.98L489.15 325.62L489.35 326.01L489.55 326.06L489.74 325.02L489.94 325.34L490.14 324.93L490.33 326.07L490.53 325.97L490.73 325.75L490.92 325.87L491.12 325.97L491.31 325.86L491.51 325.29L491.71 325.9L491.9 325.9L492.1 325.42L492.3 325.63L492.49 325.92L492.69 325.38L492.89 325.46L493.08 325.61L493.28 325.5L493.48 326.07L493.67 325.32L493.87 325.87L494.06 325.68L494.26 326.1L494.46 324.97L494.65 325.36L494.85 325.61L495.05 325.41L495.24 324.9L495.44 325.94L495.64 325.62L495.83 325.2L496.03 325.63L496.23 325.2L496.42 324.94L496.62 326.06L496.82 325.75L497.01 325.74L497.21 325.15L497.4 325.1L497.6 325.21L497.8 324.92L497.99 325.87L498.19 325.61L498.39 325.02L498.58 325.13L498.78 325.97L498.98 324.85L499.17 325.16L499.37 325L499.57 325.65L499.76 325.33L499.96 324.88L500.15 324.96L500.35 325.37L500.55 324.97L500.74 324.83L500.94 325.03L501.14 325.27L501.33 324.88L501.53 325.92L501.73 325.59L501.92 325.39L502.12 325.94L502.32 325.11L502.51 326.03L502.71 325.3L502.9 325.75L503.1 325.69L503.3 325.33L503.49 325.86L503.69 325.54L503.89 325.01L504.08 324.85L504.28 325.77L504.48 325.64L504.67 325.22L504.87 325.86L505.07 325.03L505.26 325.85L505.46 325.4L505.66 325.67L505.85 326.1L506.05 326.1L506.24 326.1L506.44 325.69L506.64 325.75L506.83 324.85L507.03 325.29L507.23 326.02L507.42 325.2L507.62 325.81L507.82 325.49L508.01 325.19L508.21 325.02L508.41 324.92L508.6 325.57L508.8 325.7L508.99 325.6L509.19 325.7L509.39 325.16L509.58 325.52L509.78 325.24L509.98 325.91L510.17 325.11L510.37 324.88L510.57 325.84L510.76 325.32L510.96 325.89L511.16 326.05L511.35 325.58L511.55 325.87L511.74 325.18L511.94 325.38L512.14 325.25L512.33 324.88L512.53 326.02L512.73 325.97L512.92 326.05L513.12 325.52L513.32 325.06L513.51 325.24L513.71 325.41L513.91 325.02L514.1 325.63L514.3 325.95L514.5 325.29L514.69 326.06L514.89 325.81L515.08 326.06L515.28 325.89L515.48 326.01L515.67 325.43L515.87 325.93L516.07 325.34L516.26 325.07L516.46 325.66L516.66 325.94L516.85 325.26L517.05 325.18L517.25 324.99L517.44 325.4L517.64 325.37L517.83 325.02L518.03 325.25L518.23 324.88L518.42 325.73L518.62 325.13L518.82 325.3L519.01 325.51L519.21 326.07L519.41 325.5L519.6 325.76L519.8 325.34L520 325.46L520.19 325.46L520.39 326.01L520.58 325.92L520.78 325.34L520.98 325.24L521.17 324.86L521.37 325.11L521.57 325.73L521.76 325.52L521.96 325.46L522.16 325.09L522.35 325.6L522.55 324.95L522.75 325.49L522.94 325.59L523.14 325.49L523.34 325.64L523.53 324.85L523.73 326.03L523.92 325.59L524.12 325.99L524.32 325.25L524.51 325.9L524.71 325.9L524.91 325.56L525.1 325.34L525.3 325.15L525.5 325.54L525.69 325.72L525.89 325.63L526.09 324.99L526.28 325.82L526.48 326.07L526.67 325L526.87 325.49L527.07 325.92L527.26 325.91L527.46 324.99L527.66 325.16L527.85 326L528.05 325.26L528.25 325.82L528.44 325.53L528.64 325.34L528.84 326.02L529.03 324.94L529.23 325.67L529.42 325.9L529.62 325.13L529.82 325.94L530.01 326.03L530.21 325.28L530.41 325.51L530.6 324.98L530.8 325.12"/><path d="M354 269.86L354.1 252.41L354.2 234.03L354.29 245.49L354.39 233.96L354.49 246.78L354.59 242.49L354.69 239.64L354.79 251.9L354.88 250.26L354.98 209.64L355.08 250.27L355.18 266.5L355.28 241.8L355.38 256.19L355.47 243.36L355.57 269.2L355.67 267.18L355.77 253.5L355.87 259.21L355.96 267.34L356.06 217.03L356.16 245.22L356.26 249.15L356.36 249.48L356.46 234.16L356.55 248.01L356.65 258.31L356.75 248.29L356.85 261.09L356.95 241.97L357.04 240.19L357.14 248.96L357.24 263.21L357.34 242.47L357.44 264.03L357.54 272.21L357.63 249.75L357.73 273.94L357.83 244.73L357.93 239.68L358.03 257.41L358.13 265.52L358.22 266.2L358.32 277.2L358.42 243.5L358.52 270.42L358.62 275.58L358.71 252.61L358.81 259.33L358.91 265.36L359.01 261.01L359.11 236.77L359.21 239.07L359.3 254.61L359.4 244.37L359.5 255.61L359.6 276.41L359.7 273.72L359.8 220.78L359.89 238.28L359.99 252.27L360.09 246.49L360.19 274.37L360.29 263.05L360.38 249.72L360.48 256.29L360.58 244.91L360.68 275.68L360.78 275.13L360.88 228.94L360.97 261.63L361.07 270.18L361.17 267.95L361.27 246.65L361.37 258.4L361.46 243.21L361.56 271.43L361.66 256.8L361.76 265.05L361.86 274.77L361.96 272.44L362.05 279.49L362.15 275.47L362.25 257.95L362.35 239.41L362.45 267.5L362.55 247.05L362.64 234.18L362.74 247.63L362.84 275.96L362.94 278.14L363.04 244.15L363.13 264.07L363.23 269.83L363.33 256.19L363.43 250.35L363.53 265.37L363.63 269.55L363.72 254.94L363.82 271.87L363.92 280.43L364.02 269.14L364.12 285.83L364.22 267.43L364.31 248.14L364.41 272.67L364.51 272.99L364.61 259.9L364.71 269.78L364.8 282.86L364.9 251.8L365 253.79L365.1 284.08L365.2 273.19L365.3 253.33L365.39 266.85L365.49 265.96L365.59 275.96L365.69 244.83L365.79 243.02L365.88 280.43L365.98 235.45L366.08 282.93L366.18 267.74L366.28 256.45L366.38 246.17L366.47 264.68L366.57 275.41L366.67 269.12L366.77 260.77L366.87 285.81L366.97 254.37L367.06 278.48L367.16 286.98L367.26 263.35L367.36 262.51L367.46 288.8L367.55 273.59L367.65 271.64L367.75 287.32L367.85 275.57L367.95 288.52L368.05 289.07L368.14 272.75L368.24 264.86L368.34 285.32L368.44 263.48L368.54 273.77L368.64 266.15L368.73 250.16L368.83 255.5L368.93 268.31L369.03 262.69L369.13 251.14L369.22 288.28L369.32 261.04L369.42 246.95L369.52 267.98L369.62 245.09L369.72 263.82L369.81 254.61L369.91 255.55L370.01 248.41L370.11 280.47L370.21 248.71L370.3 278.14L370.4 257.05L370.5 288.71L370.6 265.99L370.7 268.4L370.8 286.76L370.89 246.28L370.99 270.21L371.09 259.19L371.19 275.81L371.29 269.05L371.39 263.06L371.48 246.68L371.58 251.74L371.68 280.46L371.78 260.94L371.88 275.42L371.97 234.3L372.07 288.25L372.17 256.83L372.27 290.79L372.37 280.98L372.47 248.75L372.56 288L372.66 215.03L372.76 269.85L372.86 255.35L372.96 279.91L373.06 260.63L373.15 261.82L373.25 245.46L373.35 282.37L373.45 215.84L373.55 252L373.64 253.04L373.74 290.06L373.84 252.5L373.94 291.51L374.04 257.84L374.14 249.96L374.23 231.86L374.33 261.24L374.43 275.67L374.53 290.11L374.63 258.64L374.72 271.2L374.82 271.76L374.92 267.19L375.02 292.98L375.12 281.57L375.22 282.67L375.31 260.49L375.41 261.43L375.51 252.62L375.61 259.01L375.71 276.5L375.81 289.52L375.9 290.29L376 251.14L376.1 265.11L376.2 249.73L376.3 249.07L376.39 293.13L376.49 266L376.59 267.74L376.69 294.69L376.79 268.36L376.89 237.71L376.98 263.28L377.08 242.69L377.18 280.2L377.28 283.64L377.38 256.8L377.48 286.69L377.57 294.3L377.67 282.81L377.77 275.27L377.87 267.83L377.97 261.66L378.06 279.59L378.16 299.93L378.26 266.87L378.36 282.88L378.46 291.73L378.56 299.64L378.65 292.01L378.75 274.82L378.85 281.78L378.95 277.13L379.05 299.42L379.14 274.91L379.24 253.77L379.34 285.65L379.44 284.94L379.54 273.18L379.64 296.99L379.73 265.01L379.83 283.91L379.93 298.85L380.03 286.31L380.13 284.66L380.23 274.4L380.32 276.88L380.42 280.24L380.52 288.15L380.62 303.59L380.72 302.85L380.81 290.47L380.91 282.38L381.01 279.72L381.11 292.02L381.21 306.6L381.31 306.39L381.4 279.53L381.5 304.3L381.6 286.78L381.7 284.9L381.8 295.84L381.9 300.12L381.99 282.12L382.09 285.83L382.19 303.11L382.29 280.68L382.39 280.4L382.48 307.27L382.58 307.78L382.68 291.49L382.78 275.85L382.88 303.29L382.98 308.88L383.07 298.01L383.17 283.33L383.27 287.04L383.37 307.34L383.47 309.01L383.56 283.65L383.66 272.28L383.76 308.43L383.86 280.27L383.96 300.79L384.06 281.37L384.15 275.34L384.25 280.11L384.35 300.86L384.45 304.75L384.55 270.69L384.65 273.13L384.74 273.07L384.84 289.25L384.94 309.75L385.04 296.76L385.14 274.69L385.23 309.45L385.33 300.27L385.43 310.69L385.53 276.95L385.63 298.39L385.73 309.43L385.82 298.63L385.92 304.84L386.02 295.91L386.12 288.91L386.22 287.48L386.32 309.59L386.41 292.72L386.51 311.37L386.61 296.65L386.71 282.78L386.81 303.79L386.9 282.69L387 304.75L387.1 299.28L387.2 284.5L387.3 314.09L387.4 293.78L387.49 294.61L387.59 288.25L387.69 279.95L387.79 289.41L387.89 306.65L387.98 307.66L388.08 297.65L388.18 304.97L388.28 295.46L388.38 312L388.48 290.9L388.57 300.77L388.67 313.59L388.77 311.23L388.87 283.57L388.97 286.76L389.07 285.94L389.16 302.59L389.26 283.06L389.36 310.1L389.46 292.06L389.56 285.3L389.65 309.14L389.75 315.76L389.85 311.95L389.95 313.38L390.05 291.02L390.15 297.37L390.24 301.55L390.34 312.72L390.44 296.87L390.54 312.21L390.64 312.4L390.74 298.93L390.83 297.67L390.93 293.32L391.03 292.82L391.13 312.72L391.23 308.09L391.32 312.7L391.42 303.15L391.52 316.06L391.62 293.23L391.72 298.52L391.82 295.34L391.91 304.08L392.01 293.11L392.11 295.39L392.21 295.8L392.31 296.64L392.4 311.84L392.5 308.7L392.6 316.01L392.7 298.66L392.8 305.98L392.9 293.78L392.99 310.71L393.09 307.48L393.19 297.46L393.29 295.35L393.39 300.49L393.49 297.86L393.58 297.2L393.68 311.98L393.78 304.5L393.88 316.77L393.98 303.6L394.07 297.9L394.17 307.55L394.27 315.18L394.37 306.42L394.47 316.86L394.57 308.83L394.66 316.57L394.76 309.87L394.86 302.09L394.96 303.78L395.06 301.74L395.16 309.42L395.25 309.81L395.35 317.04L395.45 303.61L395.55 307.73L395.65 310.73L395.74 315.44L395.84 309.99L395.94 316.88L396.04 315.91L396.14 316.6L396.24 310.89L396.33 315.66L396.43 304.57L396.53 308.19L396.63 304.28L396.73 309.3L396.82 315.39L396.92 313.66L397.02 305.39L397.12 309.26L397.22 308.5L397.32 308.82L397.41 317.06L397.51 314.98L397.61 311.89L397.71 306.51L397.81 305.39L397.91 310.09L398 314.37L398.1 317.04L398.2 310.82L398.3 312.72L398.4 306.6L398.49 315.27L398.59 315.35L398.69 317.58L398.79 317.47L398.89 308.73L398.99 308.15L399.08 316.2L399.18 317.77L399.28 311.75L399.38 315.37L399.48 311.55L399.58 308.56L399.67 310.4L399.77 315.28L399.87 312.06L399.97 315.32L400.07 310.78L400.16 315.77L400.26 309.97L400.36 311.92L400.46 310.04L400.56 315.22L400.66 309.76L400.75 313.25L400.85 316.23L400.95 312.89L401.05 315.9L401.15 317.64L401.24 318.31L401.34 313.64L401.44 316.74L401.54 317.94L401.64 312.65L401.74 317.71L401.83 313.07L401.93 316.82L402.03 316.22L402.13 312.16L402.23 313.05L402.33 313.14L402.42 312.27L402.52 314.98L402.62 312.87L402.72 315.07L402.82 315.44L402.91 317.17L403.01 316.9L403.11 315.82L403.21 317.87L403.31 315.58L403.41 314.36L403.5 315.32L403.6 318.34L403.7 319.58L403.8 317.68L403.9 317.38L404 315.1L404.09 316.92L404.19 317.18L404.29 316.78L404.39 317.17L404.49 316.57L404.58 317.34L404.68 317.46L404.78 319.3L404.88 320L404.98 318.36L405.08 315.99L405.17 315.73L405.27 319.29L405.37 317.84L405.47 318.18L405.57 318.57L405.66 320.05L405.76 316.93L405.86 320.61L405.96 319.92L406.06 319.7L406.16 320.12L406.25 320.21L406.35 320.82L406.45 318.66L406.55 320.44L406.65 318.18L406.75 318.44L406.84 318.38L406.94 319.12L407.04 318.54L407.14 320.09L407.24 319.34L407.33 318.35L407.43 320.59L407.53 318.26L407.63 318.98L407.73 317.28L407.83 318.95L407.92 319.3L408.02 318.39L408.12 320.55L408.22 320.22L408.32 320.01L408.42 318.77L408.51 318.89L408.61 321.19L408.71 318.02L408.81 317.97L408.91 320.04L409 318.05L409.1 319.63L409.2 320.63L409.3 321.86L409.4 322.17L409.5 319.96L409.59 319.52L409.69 319.97L409.79 319.39L409.89 320.75L409.99 319.66L410.08 320.23L410.18 320.17L410.28 320.54L410.38 320.16L410.48 320.6L410.58 322.31L410.67 320.3L410.77 320.25L410.87 321.26L410.97 319.45L411.07 321.17L411.17 322.28L411.26 321.17L411.36 321.72L411.46 322.4L411.56 320.11L411.66 322.43L411.75 320.79L411.85 322.53L411.95 321.5L412.05 320.09L412.15 322.9L412.25 320.63L412.34 323.21L412.44 320.41L412.54 320.67L412.64 322.05L412.74 321.56L412.84 322.11L412.93 322.98L413.03 322.5L413.13 322.31L413.23 321.19L413.33 323.3L413.42 322.19L413.52 322.43L413.62 322.26L413.72 321.66L413.82 322.23L413.92 323.02L414.01 321.38L414.11 322.38L414.21 323.31L414.31 322.62L414.41 321.82L414.5 324.05L414.6 322.5L414.7 322.98L414.8 323.55L414.9 323.94L415 323.8L415.09 323.31L415.19 323.4L415.29 322.98L415.39 323.89L415.49 323.03L415.59 323.46L415.68 322.68L415.78 322.71L415.88 324.21L415.98 322.35L416.08 323.47L416.17 324.03L416.27 324.25L416.37 323.11L416.47 323.83L416.57 323.23L416.67 324.33L416.76 322.84L416.86 324.35L416.96 322.87L417.06 323.96L417.16 324.07L417.26 323.66L417.35 323.82L417.45 323.78L417.55 323.77L417.65 322.84L417.75 323.37L417.84 324.97L417.94 322.83L418.04 325.2L418.14 325.13L418.24 323.31L418.34 324.63L418.43 325.24L418.53 324.91L418.63 324.18L418.73 323.37L418.83 325.34L418.92 325.02L419.02 325.4L419.12 325.32L419.22 324.73L419.32 324.34L419.42 323.26L419.51 324.02L419.61 323.57L419.71 324.2L419.81 323.49L419.91 324.06L420.01 325.07L420.1 324.79L420.2 324.57L420.3 325.43L420.4 323.61L420.5 324.63L420.59 325.28L420.69 324.65L420.79 323.98L420.89 325.18L420.99 324.51L421.09 325.62L421.18 325.31L421.28 325.45L421.38 324.78L421.48 324.4L421.58 325.43L421.68 324.45L421.77 324.69L421.87 324.36L421.97 323.86L422.07 325.3L422.17 323.91L422.26 325.09L422.36 324.99L422.46 325.72L422.56 325.93L422.66 324.77L422.76 325.93L422.95 326.12L423.15 326.05L423.34 325.15L423.54 325.9L423.74 325.81L423.93 324.83L424.13 325.52L424.33 326.16L424.52 325.15L424.72 324.58L424.92 325.36L425.11 325.74L425.31 325.61L425.51 325.34L425.7 325.13L425.9 325.28L426.1 326.33L426.29 325.39L426.49 326.68L426.68 326.68L426.88 326.01L427.08 326.61L427.27 325.94L427.47 326.44L427.67 325.29L427.86 326.2L428.06 325.55L428.26 325.34L428.45 326.2L428.65 325.68L428.85 326.16L429.04 326.32L429.24 326.79L429.43 325.92L429.63 325.5L429.83 325.9L430.02 326.51L430.22 326.19L430.42 326.47L430.61 326.42L430.81 325.84L431.01 327.03L431.2 326.32L431.4 326.28L431.6 326.84L431.79 325.98L431.99 326.7L432.18 326.49L432.38 326.72L432.58 326.23L432.77 326.48L432.97 326.13L433.17 326.51L433.36 326.01L433.56 326.36L433.76 327.01L433.95 326.47L434.15 326.82L434.35 326.77L434.54 325.85L434.74 326.53L434.94 326.17L435.13 327.02L435.33 326.35L435.52 327.09L435.72 326.96L435.92 327.1L436.11 327.26L436.31 326.02L436.51 325.95L436.7 326.81L436.9 327.33L437.1 326.31L437.29 326.42L437.49 327.31L437.69 326.3L437.88 327.3L438.08 327.06L438.27 326.29L438.47 326.3L438.67 327.06L438.86 326.67L439.06 326.26L439.26 326.54L439.45 326.65L439.65 327.13L439.85 327.3L440.04 327.13L440.24 326.65L440.44 326.55L440.63 326.74L440.83 326.49L441.02 326.6L441.22 326.48L441.42 326.81L441.61 326.2L441.81 326.64L442.01 326.15L442.2 326L442.4 326.23L442.6 326.3L442.79 326.42L442.99 326.62L443.19 327.05L443.38 327.25L443.58 326.46L443.78 327.05L443.97 326.53L444.17 326.62L444.36 326.54L444.56 326.79L444.76 327.06L444.95 326.97L445.15 326.42L445.35 326.15L445.54 326.95L445.74 326.96L445.94 326.77L446.13 326.79L446.33 326.51L446.53 326.34L446.72 326.32L446.92 326.26L447.11 326.38L447.31 326.04L447.51 326.77L447.7 326.77L447.9 326.49L448.1 326.96L448.29 326.24L448.49 326.81L448.69 326.62L448.88 326.67L449.08 326.89L449.28 327.38L449.47 327.01L449.67 326.73L449.86 326.07L450.06 327.21L450.26 326.14L450.45 326.04L450.65 326.3L450.85 327.01L451.04 327.37L451.24 326.17L451.44 327.3L451.63 326.98L451.83 326.09L452.03 326.46L452.22 326.25L452.42 326.24L452.62 327.15L452.81 326.7L453.01 327.27L453.2 326.87L453.4 326.71L453.6 326.27L453.79 327L453.99 326.48L454.19 327.2L454.38 327.04L454.58 327.32L454.78 326.6L454.97 326.59L455.17 326.41L455.37 326.82L455.56 326.11L455.76 326.4L455.95 326.61L456.15 326.19L456.35 327.15L456.54 327L456.74 326.64L456.94 326.57L457.13 326.08L457.33 326.46L457.53 327.34L457.72 326.1L457.92 326.76L458.12 327.12L458.31 326.35L458.51 326.54L458.7 326.23L458.9 326.64L459.1 327.05L459.29 326.75L459.49 326.76L459.69 326.92L459.88 326.6L460.08 327.2L460.28 327.05L460.47 327.24L460.67 327.36L460.87 326.68L461.06 326.39L461.26 326.85L461.46 326.17L461.65 326.57L461.85 326.5L462.04 327.01L462.24 326.17L462.44 326.93L462.63 326.25L462.83 327.07L463.03 326.1L463.22 326.47L463.42 327.16L463.62 326.4L463.81 327.19L464.01 326.88L464.21 326.89L464.4 326.95L464.6 326.91L464.79 327.18L464.99 326.86L465.19 327.28L465.38 326.32L465.58 326.92L465.78 326.44L465.97 326.82L466.17 326.08L466.37 326.21L466.56 326.45L466.76 326.26L466.96 326.16L467.15 326.14L467.35 326.84L467.54 326.6L467.74 327.31L467.94 326.91L468.13 326.96L468.33 326.56L468.53 327.39L468.72 326.38L468.92 327.3L469.12 326.83L469.31 326.75L469.51 326.27L469.71 326.55L469.9 327.21L470.1 326.51L470.3 327.09L470.49 326.57L470.69 326.85L470.88 326.12L471.08 326.8L471.28 327.04L471.47 326.99L471.67 326.12L471.87 326.94L472.06 327.08L472.26 326.69L472.46 326.51L472.65 326.14L472.85 327.3L473.05 326.96L473.24 326.44L473.44 326.74L473.63 326.48L473.83 326.5L474.03 327.28L474.22 327.34L474.42 327.17L474.62 327L474.81 327.16L475.01 327.02L475.21 327.25L475.4 327.37L475.6 326.71L475.8 326.39L475.99 327.19L476.19 327.28L476.38 326.44L476.58 327.3L476.78 327.22L476.97 326.75L477.17 327.01L477.37 326.36L477.56 326.73L477.76 326.71L477.96 326.91L478.15 327.37L478.35 326.32L478.55 326.89L478.74 326.31L478.94 327.27L479.14 326.83L479.33 326.69L479.53 327.2L479.72 327.31L479.92 326.17L480.12 326.16L480.31 326.08L480.51 326.69L480.71 326.44L480.9 326.61L481.1 326.78L481.3 327.18L481.49 326.56L481.69 326.82L481.89 326.51L482.08 327.35L482.28 327.02L482.47 327.26L482.67 326.4L482.87 326.78L483.06 327.03L483.26 326.38L483.46 326.72L483.65 327.03L483.85 326.89L484.05 327.41L484.24 327.33L484.44 327.36L484.64 326.14L484.83 326.25L485.03 326.69L485.22 326.17L485.42 326.7L485.62 326.52L485.81 327.27L486.01 326.84L486.21 326.61L486.4 326.87L486.6 326.56L486.8 326.96L486.99 326.55L487.19 327.14L487.39 326.77L487.58 326.85L487.78 326.72L487.98 327.34L488.17 327.09L488.37 326.48L488.56 327.2L488.76 326.79L488.96 326.11L489.15 326.62L489.35 326.45L489.55 326.41L489.74 326.15L489.94 326.91L490.14 326.9L490.33 326.43L490.53 327.38L490.73 326.8L490.92 327.06L491.12 326.69L491.31 326.46L491.51 326.29L491.71 326.75L491.9 326.51L492.1 327.31L492.3 326.56L492.49 326.21L492.69 326.61L492.89 326.78L493.08 326.75L493.28 326.88L493.48 327.18L493.67 327.16L493.87 326.38L494.06 326.75L494.26 327.36L494.46 326.62L494.65 326.34L494.85 326.57L495.05 327.18L495.24 326.18L495.44 327.18L495.64 326.76L495.83 326.82L496.03 327.2L496.23 327.07L496.42 327.17L496.62 327.2L496.82 327.36L497.01 326.58L497.21 326.56L497.4 327.09L497.6 326.19L497.8 326.87L497.99 326.83L498.19 326.22L498.39 326.58L498.58 326.82L498.78 326.46L498.98 326.47L499.17 327.02L499.37 327.33L499.57 326.48L499.76 326.46L499.96 326.65L500.15 327.27L500.35 326.46L500.55 327.19L500.74 326.4L500.94 326.62L501.14 326.6L501.33 327.32L501.53 326.95L501.73 326.48L501.92 327.28L502.12 327.37L502.32 326.89L502.51 326.33L502.71 326.61L502.9 327.12L503.1 327.31L503.3 326.35L503.49 326.34L503.69 326.53L503.89 327.15L504.08 326.46L504.28 327.41L504.48 327.2L504.67 327.01L504.87 326.2L505.07 327.37L505.26 327.21L505.46 326.49L505.66 326.45L505.85 327.08L506.05 327.32L506.24 326.34L506.44 326.19L506.64 326.27L506.83 326.7L507.03 327.31L507.23 326.48L507.42 326.6L507.62 326.37L507.82 326.46L508.01 326.78L508.21 326.19L508.41 326.84L508.6 326.86L508.8 326.62L508.99 326.43L509.19 326.68L509.39 326.23L509.58 327.08L509.78 326.29L509.98 326.31L510.17 326.98L510.37 327.38L510.57 326.66L510.76 326.64L510.96 326.21L511.16 326.72L511.35 326.51L511.55 326.47L511.74 327.21L511.94 326.58L512.14 326.87L512.33 327.15L512.53 327.08L512.73 326.97L512.92 326.5L513.12 326.73L513.32 327.02L513.51 327.35L513.71 326.44L513.91 326.48L514.1 326.38L514.3 326.44L514.5 327.34L514.69 327.07L514.89 326.84L515.08 327.05L515.28 326.39L515.48 327.17L515.67 327.4L515.87 326.86L516.07 327.36L516.26 327.39L516.46 326.67L516.66 326.67L516.85 326.75L517.05 327.34L517.25 326.73L517.44 326.77L517.64 327.05L517.83 327.15L518.03 327.23L518.23 326.82L518.42 326.97L518.62 326.7L518.82 326.59L519.01 327.08L519.21 326.67L519.41 327.1L519.6 326.5L519.8 327.17L520 326.69L520.19 326.51L520.39 326.44L520.58 326.77L520.78 326.3L520.98 326.21L521.17 326.45L521.37 326.98L521.57 327.1L521.76 326.65L521.96 327.27L522.16 327.21L522.35 327.31L522.55 326.62L522.75 326.95L522.94 326.29L523.14 326.43L523.34 326.77L523.53 327.01L523.73 327.03L523.92 327.36L524.12 327.29L524.32 326.36L524.51 327.06L524.71 327.42L524.91 326.22L525.1 326.96L525.3 326.48L525.5 326.87L525.69 326.24L525.89 327.33L526.09 326.85L526.28 326.64L526.48 327.4L526.67 326.31L526.87 327.01L527.07 326.6L527.26 327.33L527.46 327.33L527.66 327.32L527.85 326.47L528.05 326.28L528.25 326.31L528.44 326.78L528.64 327.32L528.84 326.48L529.03 326.81L529.23 326.48L529.42 326.66L529.62 326.74L529.82 327.22L530.01 327.25L530.21 327.33L530.41 326.9L530.6 327.08L530.8 326.27"/><path d="M354 242.82L354.1 270.09L354.2 265.41L354.29 250.4L354.39 260.28L354.49 246.03L354.59 250.1L354.69 272.12L354.79 260.7L354.88 249.62L354.98 256.54L355.08 254.34L355.18 270.26L355.28 253.59L355.38 251.8L355.47 246.89L355.57 241.15L355.67 269.52L355.77 250.4L355.87 238.47L355.96 259.87L356.06 258.06L356.16 230.28L356.26 254.46L356.36 271.81L356.46 252.26L356.55 277.04L356.65 241.18L356.75 241.86L356.85 265.37L356.95 252.36L357.04 255.18L357.14 268.87L357.24 276.82L357.34 275.72L357.44 238.11L357.54 237.91L357.63 279.67L357.73 264.39L357.83 277.3L357.93 279.63L358.03 259.53L358.13 240.34L358.22 259.01L358.32 265.53L358.42 247.07L358.52 248.83L358.62 273.85L358.71 276.62L358.81 270.68L358.91 246.26L359.01 241.95L359.11 251.62L359.21 251.82L359.3 256.19L359.4 258.29L359.5 241.03L359.6 274.55L359.7 269.28L359.8 254.95L359.89 274.14L359.99 265.91L360.09 262.76L360.19 253.03L360.29 236.74L360.38 256.68L360.48 261.66L360.58 239.99L360.68 265.1L360.78 254.72L360.88 239.91L360.97 275.56L361.07 248.23L361.17 275.21L361.27 245.23L361.37 259.09L361.46 243.88L361.56 242.06L361.66 258.2L361.76 272.97L361.86 245.13L361.96 241.98L362.05 258.14L362.15 243.1L362.25 274.29L362.35 279.36L362.45 261.19L362.55 280.78L362.64 256.12L362.74 282.24L362.84 242.71L362.94 263.47L363.04 287.31L363.13 252.58L363.23 272.76L363.33 245.06L363.43 285.19L363.53 244.71L363.63 280.52L363.72 252.56L363.82 258.73L363.92 280.36L364.02 255.78L364.12 285.59L364.22 270.44L364.31 281.97L364.41 259.69L364.51 225.16L364.61 284.2L364.71 273.05L364.8 262.09L364.9 247.24L365 239.37L365.1 286.47L365.2 279.98L365.3 273.83L365.39 248.69L365.49 278.06L365.59 288.13L365.69 256.96L365.79 261.54L365.88 265.87L365.98 277.72L366.08 265.31L366.18 247.18L366.28 274.65L366.38 256.27L366.47 281.34L366.57 271.46L366.67 270.69L366.77 269.15L366.87 279.5L366.97 257.18L367.06 270.14L367.16 277.99L367.26 282.48L367.36 290.09L367.46 279.47L367.55 252.19L367.65 249.67L367.75 283.28L367.85 267.95L367.95 252.35L368.05 291.65L368.14 276.37L368.24 292.31L368.34 286.53L368.44 282.62L368.54 284.39L368.64 287.46L368.73 282.31L368.83 245.02L368.93 257.52L369.03 245.92L369.13 226.44L369.22 290.92L369.32 269.8L369.42 245.07L369.52 281.74L369.62 227.25L369.72 283.53L369.81 221.97L369.91 261.6L370.01 248.29L370.11 256.36L370.21 270.19L370.3 249.3L370.4 274.87L370.5 285.61L370.6 278.56L370.7 274.71L370.8 247.06L370.89 271L370.99 281.61L371.09 280.18L371.19 273.7L371.29 288.48L371.39 267.47L371.48 274.85L371.58 238.31L371.68 291.04L371.78 268.25L371.88 255.04L371.97 288.75L372.07 248.05L372.17 256.38L372.27 267.43L372.37 279.98L372.47 256.89L372.56 292.16L372.66 260.78L372.76 294.63L372.86 257.16L372.96 279.35L373.06 255.68L373.15 260.17L373.25 273.08L373.35 227.76L373.45 286.5L373.55 281.7L373.64 258.84L373.74 219.76L373.84 248.09L373.94 259.92L374.04 276.13L374.14 290.9L374.23 277.87L374.33 291.98L374.43 279.65L374.53 265.33L374.63 288.26L374.72 262.88L374.82 272.15L374.92 276.2L375.02 293.01L375.12 258.17L375.22 279.97L375.31 281.65L375.41 291L375.51 262.22L375.61 261.6L375.71 266.6L375.81 280.69L375.9 267.23L376 293.5L376.1 255.8L376.2 286.12L376.3 285.5L376.39 292.96L376.49 257.74L376.59 271.2L376.69 260.55L376.79 281.34L376.89 231.24L376.98 271.79L377.08 295.04L377.18 289.6L377.28 272.5L377.38 262.61L377.48 291.96L377.57 285.8L377.67 282.38L377.77 294.19L377.87 270.44L377.97 273.75L378.06 277.26L378.16 289.17L378.26 256.84L378.36 266.12L378.46 278.15L378.56 281.46L378.65 294.85L378.75 297.06L378.85 302.57L378.95 287.98L379.05 254.41L379.14 280.84L379.24 289.53L379.34 289.75L379.44 304.17L379.54 296.8L379.64 301.17L379.73 304.44L379.83 275.97L379.93 304L380.03 279.99L380.13 303.78L380.23 277.74L380.32 281.83L380.42 285.6L380.52 280.56L380.62 263.21L380.72 287.26L380.81 291.52L380.91 291.76L381.01 295.82L381.11 287.93L381.21 281.23L381.31 303.2L381.4 283.7L381.5 281.9L381.6 284.84L381.7 300.95L381.8 304.18L381.9 287.12L381.99 283.97L382.09 302.6L382.19 287.91L382.29 282.36L382.39 296.01L382.48 287.87L382.58 292.11L382.68 287.96L382.78 311.07L382.88 288.89L382.98 288.13L383.07 307.67L383.17 294.02L383.27 308.09L383.37 306.7L383.47 276.04L383.56 271.36L383.66 307.72L383.76 282.57L383.86 289.36L383.96 273.76L384.06 294.32L384.15 295.86L384.25 303.68L384.35 277.75L384.45 300.28L384.55 275.53L384.65 312.6L384.74 277L384.84 313.46L384.94 284.37L385.04 275.26L385.14 301.36L385.23 290.49L385.33 297.92L385.43 312.24L385.53 281.1L385.63 295.24L385.73 283.1L385.82 313.88L385.92 308.94L386.02 306.43L386.12 283.51L386.22 314.81L386.32 314.96L386.41 301.27L386.51 301.14L386.61 283.67L386.71 283.49L386.81 307.37L386.9 288.51L387 303.31L387.1 288.15L387.2 292.42L387.3 314.61L387.4 299.97L387.49 301.9L387.59 300.8L387.69 297.52L387.79 292.84L387.89 303.54L387.98 299.53L388.08 288.75L388.18 294.26L388.28 311.81L388.38 313.93L388.48 309.4L388.57 285.92L388.67 305.75L388.77 289.07L388.87 286.49L388.97 295.82L389.07 307.18L389.16 294.84L389.26 303.18L389.36 288.61L389.46 303.66L389.56 299.52L389.65 298.24L389.75 300.26L389.85 314.82L389.95 302.72L390.05 307.33L390.15 299.76L390.24 297.15L390.34 314.73L390.44 309.95L390.54 313.55L390.64 292.78L390.74 307L390.83 308.41L390.93 293.72L391.03 299.29L391.13 297.42L391.23 307.79L391.32 318.56L391.42 311.89L391.52 320.02L391.62 311.53L391.72 310.36L391.82 309.81L391.91 296.8L392.01 308.87L392.11 318.67L392.21 318.41L392.31 305.65L392.4 309.97L392.5 312.76L392.6 310.78L392.7 312.97L392.8 306.54L392.9 308.76L392.99 321.9L393.09 311.35L393.19 317.22L393.29 309.59L393.39 312.48L393.49 305.83L393.58 301.43L393.68 306.61L393.78 309.53L393.88 312.09L393.98 320.74L394.07 307.58L394.17 319.05L394.27 315.28L394.37 311.14L394.47 317.83L394.57 305.77L394.66 312.33L394.76 304.01L394.86 322.89L394.96 314.33L395.06 317.16L395.16 312.47L395.25 311.24L395.35 312.46L395.45 306.22L395.55 315.46L395.65 316.83L395.74 310.24L395.84 313.83L395.94 318.87L396.04 307.86L396.14 319.74L396.24 322.3L396.33 314.78L396.43 308.92L396.53 310.02L396.63 310.82L396.73 314.19L396.82 315.86L396.92 319.29L397.02 321.23L397.12 317.23L397.22 311.75L397.32 315.89L397.41 310.09L397.51 312.81L397.61 316.45L397.71 315.95L397.81 318.35L397.91 312.2L398 313.35L398.1 321.63L398.2 312.91L398.3 315.78L398.4 319.7L398.49 315.28L398.59 319.2L398.69 316.18L398.79 318.49L398.89 317.19L398.99 314.09L399.08 314.61L399.18 319.26L399.28 320.38L399.38 317L399.48 317.66L399.58 323.77L399.67 319.57L399.77 322.04L399.87 318.43L399.97 323.36L400.07 322.16L400.16 322.7L400.26 322.53L400.36 319.91L400.46 317.2L400.56 319.36L400.66 319.4L400.75 318.45L400.85 321.83L400.95 321.56L401.05 319.69L401.15 323.55L401.24 319.01L401.34 317.72L401.44 318.16L401.54 324.8L401.64 318.11L401.74 323.6L401.83 324.35L401.93 320.71L402.03 322.79L402.13 324.05L402.23 321.01L402.33 321.6L402.42 321.67L402.52 321.91L402.62 321.27L402.72 320.3L402.82 320.76L402.91 320.95L403.01 320.29L403.11 322.56L403.21 321.61L403.31 324.84L403.41 325.08L403.5 322.93L403.6 321.65L403.7 324.33L403.8 320.17L403.9 324.13L404 323.03L404.09 323.22L404.19 320.43L404.29 325.14L404.39 324.64L404.49 322.56L404.58 324.14L404.68 324.31L404.78 325.53L404.88 321.29L404.98 323.95L405.08 323.28L405.17 325.14L405.27 321.51L405.37 325.99L405.47 322.93L405.57 326.31L405.66 323.94L405.76 325.07L405.86 321.92L405.96 324.61L406.06 322.65L406.16 326.8L406.25 325.82L406.35 322.15L406.45 325.27L406.55 326.96L406.65 325.93L406.75 325.49L406.84 324.76L406.94 325.53L407.04 325.95L407.14 325.21L407.24 325.3L407.33 326.7L407.43 325.21L407.53 325.01L407.63 325.09L407.73 324.41L407.83 325.77L407.92 326.9L408.02 323.74L408.12 327.43L408.22 326.67L408.32 326.25L408.42 326.33L408.51 327.25L408.61 324.53L408.71 326.9L408.81 325.91L408.91 325.69L409 327.68L409.1 326.48L409.2 327.7L409.3 326.09L409.4 325.38L409.5 324.93L409.59 324.64L409.69 327.86L409.79 326.56L409.89 325.81L409.99 326.94L410.08 324.85L410.18 326.55L410.28 325.21L410.38 328.15L410.48 327.01L410.58 325.95L410.67 325.49L410.77 326.72L410.87 325.5L410.97 325.88L411.07 327.09L411.17 326.12L411.26 326.8L411.36 328.16L411.46 325.61L411.56 325.83L411.66 325.72L411.75 327.84L411.85 326.17L411.95 328.49L412.05 327.09L412.15 327.72L412.25 327.14L412.34 327.53L412.44 327.06L412.54 327.43L412.64 326.53L412.74 326.85L412.84 327.95L412.93 328.19L413.03 328.11L413.13 327.89L413.23 327.65L413.33 327.47L413.42 326.79L413.52 326.23L413.62 328.21L413.72 328.15L413.82 327.58L413.92 328.98L414.01 327.32L414.11 328.95L414.21 327.5L414.31 327.54L414.41 328.12L414.5 326.54L414.6 328.36L414.7 329.17L414.8 328.96L414.9 328.64L415 327.36L415.09 327.39L415.19 328.42L415.29 327.08L415.39 328.98L415.49 328.83L415.59 327.98L415.68 328.11L415.78 327.48L415.88 328.74L415.98 327.26L416.08 327.98L416.17 327.86L416.27 328.18L416.37 329.13L416.47 328.27L416.57 327.35L416.67 329.71L416.76 328.93L416.86 328.99L416.96 329.13L417.06 327.86L417.16 328.17L417.26 329.45L417.35 328.05L417.45 327.63L417.55 329.63L417.65 329.75L417.75 328.34L417.84 327.67L417.94 328.48L418.04 328.59L418.14 328.84L418.24 328.46L418.34 327.65L418.43 328.41L418.53 328.06L418.63 328.74L418.73 327.76L418.83 328.04L418.92 328.66L419.02 329.15L419.12 329.16L419.22 327.59L419.32 328.39L419.42 329.71L419.51 328.68L419.61 328.9L419.71 328.52L419.81 329.25L419.91 327.83L420.01 328.81L420.1 328.03L420.2 329.33L420.3 327.92L420.4 328.7L420.5 328.71L420.59 328.96L420.69 327.84L420.79 328.69L420.89 328.76L420.99 329.15L421.09 328.95L421.18 329.37L421.28 328.99L421.38 329.4L421.48 329.81L421.58 329.19L421.68 329.93L421.77 328.56L421.87 329.79L421.97 328.06L422.07 329.33L422.17 329.43L422.26 328.84L422.36 329.4L422.46 328.49L422.56 329.39L422.66 328.1L422.76 329.95L422.95 329.93L423.15 328.23L423.34 328.65L423.54 329.54L423.74 328.78L423.93 329.37L424.13 329.08L424.33 329.56L424.52 329.05L424.72 328.86L424.92 328.49L425.11 329.63L425.31 329.03L425.51 329.03L425.7 328.45L425.9 329.2L426.1 328.48L426.29 328.38L426.49 329.33L426.68 329.34L426.88 328.31L427.08 329.02L427.27 329.11L427.47 328.67L427.67 328.98L427.86 329.14L428.06 328.89L428.26 329.58L428.45 329.38L428.65 330L428.85 328.8L429.04 328.63L429.24 328.78L429.43 328.4L429.63 328.75L429.83 329.81L430.02 329.46L430.22 328.5L430.42 329.79L430.61 328.58L430.81 328.71L431.01 329.72L431.2 329.62L431.4 328.82L431.6 328.95L431.79 329.87L431.99 329.13L432.18 329.63L432.38 328.66L432.58 329.13L432.77 329.88L432.97 329.33L433.17 329.88L433.36 328.6L433.56 328.63L433.76 328.87L433.95 329.89L434.15 328.55L434.35 329.52L434.54 328.97L434.74 328.81L434.94 329.1L435.13 329.73L435.33 329.55L435.52 328.85L435.72 329.72L435.92 329.36L436.11 328.57L436.31 329.31L436.51 329.68L436.7 328.97L436.9 329.4L437.1 328.77L437.29 329.38L437.49 328.72L437.69 328.72L437.88 329.65L438.08 329.12L438.27 329.27L438.47 329.72L438.67 328.6L438.86 329.41L439.06 329.03L439.26 329.81L439.45 328.55L439.65 328.51L439.85 328.93L440.04 329.72L440.24 328.96L440.44 329.24L440.63 329.23L440.83 329.59L441.02 329.69L441.22 328.71L441.42 329.05L441.61 328.85L441.81 328.86L442.01 329.34L442.2 329.13L442.4 329.48L442.6 328.98L442.79 329.3L442.99 328.8L443.19 329.49L443.38 329.37L443.58 329.79L443.78 329.85L443.97 329.6L444.17 329.88L444.36 329.31L444.56 329.37L444.76 328.66L444.95 329.85L445.15 328.52L445.35 329.77L445.54 328.74L445.74 329.4L445.94 329.56L446.13 329.05L446.33 329.41L446.53 329.88L446.72 329.72L446.92 328.96L447.11 328.9L447.31 328.52L447.51 329.55L447.7 328.83L447.9 329.43L448.1 329.19L448.29 329.52L448.49 329.33L448.69 328.63L448.88 329.56L449.08 329.32L449.28 328.64L449.47 329.28L449.67 328.78L449.86 329.16L450.06 329.42L450.26 328.91L450.45 329L450.65 329.38L450.85 328.52L451.04 329.78L451.24 328.73L451.44 328.91L451.63 328.92L451.83 329.25L452.03 328.87L452.22 329.85L452.42 328.98L452.62 328.71L452.81 329.35L453.01 328.88L453.2 328.95L453.4 329.22L453.6 328.85L453.79 329.24L453.99 329.75L454.19 329.19L454.38 328.87L454.58 329.69L454.78 329.28L454.97 328.76L455.17 329.9L455.37 328.72L455.56 329.43L455.76 329.41L455.95 328.95L456.15 329.12L456.35 329.52L456.54 329.7L456.74 329.34L456.94 328.69L457.13 328.55L457.33 328.93L457.53 328.96L457.72 328.97L457.92 328.66L458.12 329.7L458.31 329.72L458.51 328.76L458.7 329.89L458.9 329.2L459.1 329.36L459.29 328.66L459.49 329.06L459.69 329.61L459.88 329.83L460.08 329.27L460.28 329.16L460.47 329.28L460.67 329.12L460.87 329.83L461.06 329.43L461.26 328.78L461.46 329.52L461.65 329.66L461.85 329.68L462.04 328.64L462.24 328.73L462.44 329.37L462.63 329.47L462.83 329.42L463.03 328.72L463.22 328.68L463.42 328.62L463.62 328.75L463.81 329L464.01 329.76L464.21 328.64L464.4 329.69L464.6 328.92L464.79 329.44L464.99 329.87L465.19 329.03L465.38 329.58L465.58 328.72L465.78 329.68L465.97 329.02L466.17 329.33L466.37 329.86L466.56 329.54L466.76 329.51L466.96 328.87L467.15 328.88L467.35 328.66L467.54 329.7L467.74 329.64L467.94 329.42L468.13 329.49L468.33 329.65L468.53 328.91L468.72 329.92L468.92 329.2L469.12 329.75L469.31 329.5L469.51 329.53L469.71 329.3L469.9 328.66L470.1 328.93L470.3 329.35L470.49 328.59L470.69 329.59L470.88 329.67L471.08 329.07L471.28 328.89L471.47 328.95L471.67 329.25L471.87 328.96L472.06 329.48L472.26 328.65L472.46 328.93L472.65 328.85L472.85 329.21L473.05 328.7L473.24 329.3L473.44 328.65L473.63 329.34L473.83 328.66L474.03 329.51L474.22 329.24L474.42 329.18L474.62 329.2L474.81 328.8L475.01 328.8L475.21 329.69L475.4 328.99L475.6 329.23L475.8 329.39L475.99 329.78L476.19 328.72L476.38 328.61L476.58 328.97L476.78 329.17L476.97 329.82L477.17 329.51L477.37 329.5L477.56 329.82L477.76 329.44L477.96 329.45L478.15 329.39L478.35 329.84L478.55 329.76L478.74 328.67L478.94 329.2L479.14 329.63L479.33 329.34L479.53 329.45L479.72 329.29L479.92 329.7L480.12 328.95L480.31 328.7L480.51 329.1L480.71 328.67L480.9 328.86L481.1 329.23L481.3 329.25L481.49 329.02L481.69 329.45L481.89 329.84L482.08 329.34L482.28 328.86L482.47 329.05L482.67 329.89L482.87 328.85L483.06 329.88L483.26 329.26L483.46 329.71L483.65 329.54L483.85 329.64L484.05 329.13L484.24 329L484.44 328.78L484.64 329.27L484.83 329.86L485.03 329.89L485.22 329.83L485.42 329.77L485.62 329.71L485.81 329.55L486.01 329.74L486.21 328.83L486.4 329.47L486.6 329.31L486.8 328.91L486.99 329.71L487.19 329.29L487.39 329.89L487.58 329.31L487.78 328.73L487.98 329.2L488.17 329.55L488.37 329.12L488.56 329.29L488.76 329.29L488.96 329.11L489.15 329.02L489.35 328.78L489.55 328.67L489.74 328.69L489.94 328.89L490.14 329.06L490.33 328.9L490.53 329.69L490.73 329.69L490.92 328.85L491.12 329.38L491.31 329.92L491.51 328.98L491.71 329.77L491.9 329.59L492.1 328.75L492.3 329.7L492.49 328.87L492.69 329.6L492.89 328.92L493.08 329.45L493.28 329.22L493.48 329.06L493.67 329.02L493.87 329.68L494.06 329.08L494.26 329.73L494.46 329.63L494.65 328.94L494.85 329.75L495.05 329.41L495.24 329.8L495.44 329.2L495.64 329.72L495.83 329.48L496.03 328.69L496.23 329.38L496.42 329.31L496.62 329.91L496.82 329.61L497.01 329.82L497.21 329.15L497.4 329.75L497.6 329.72L497.8 329.77L497.99 329L498.19 329.11L498.39 329.58L498.58 329.55L498.78 329.6L498.98 329.25L499.17 329.22L499.37 329.78L499.57 329.76L499.76 329.15L499.96 329.6L500.15 329.1L500.35 329.73L500.55 329.83L500.74 329.87L500.94 328.86L501.14 329.27L501.33 329.93L501.53 329.5L501.73 329.15L501.92 329.68L502.12 328.89L502.32 329.95L502.51 329.29L502.71 329.22L502.9 329.72L503.1 328.7L503.3 329.26L503.49 329.79L503.69 329L503.89 329.92L504.08 329.09L504.28 328.9L504.48 329.15L504.67 329.93L504.87 329.88L505.07 328.9L505.26 328.88L505.46 329.62L505.66 328.78L505.85 328.93L506.05 329.82L506.24 328.84L506.44 329.94L506.64 329.55L506.83 329.7L507.03 329.69L507.23 329.33L507.42 329.9L507.62 328.74L507.82 329.69L508.01 329.1L508.21 329.51L508.41 328.8L508.6 329.25L508.8 329.33L508.99 329L509.19 329.25L509.39 329.39L509.58 329.74L509.78 328.95L509.98 329.17L510.17 329.37L510.37 328.71L510.57 329.37L510.76 329.02L510.96 329.75L511.16 329.5L511.35 329.16L511.55 329.63L511.74 328.7L511.94 328.71L512.14 329.15L512.33 329.05L512.53 329.61L512.73 328.99L512.92 328.88L513.12 329.38L513.32 329.25L513.51 329.13L513.71 329.64L513.91 329.9L514.1 329.72L514.3 329.3L514.5 329.16L514.69 328.88L514.89 329.62L515.08 329.74L515.28 329.43L515.48 329.75L515.67 329.63L515.87 329.34L516.07 329.1L516.26 329.82L516.46 329.73L516.66 329.36L516.85 329.3L517.05 329.73L517.25 329.13L517.44 329.25L517.64 328.75L517.83 328.76L518.03 329.17L518.23 329.84L518.42 329.3L518.62 329.61L518.82 329.6L519.01 329.85L519.21 329.09L519.41 329.13L519.6 329.61L519.8 329.66L520 328.72L520.19 329.26L520.39 329.08L520.58 329.64L520.78 328.78L520.98 329.06L521.17 329.32L521.37 329.81L521.57 329.41L521.76 329.91L521.96 329.68L522.16 328.98L522.35 329.81L522.55 329.69L522.75 329.52L522.94 328.75L523.14 329.74L523.34 329.43L523.53 329.29L523.73 329.89L523.92 329.25L524.12 329.86L524.32 329.55L524.51 329.55L524.71 328.72L524.91 329.4L525.1 329.57L525.3 329.54L525.5 329.57L525.69 329.74L525.89 329.55L526.09 329.09L526.28 329.51L526.48 329.66L526.67 329.89L526.87 328.98L527.07 329.57L527.26 329.61L527.46 328.9L527.66 328.75L527.85 329.27L528.05 329.85L528.25 328.92L528.44 329.01L528.64 329.91L528.84 329.59L529.03 328.92L529.23 329.36L529.42 329.72L529.62 328.74L529.82 329.68L530.01 329.72L530.21 329.09L530.41 328.74L530.6 329.08L530.8 329.91"/><path d="M354 266.99L354.1 236.31L354.2 248.46L354.29 275.1L354.39 263.45L354.49 243.66L354.59 250.7L354.69 250.97L354.79 242.67L354.88 250.1L354.98 236.5L355.08 247.52L355.18 277.19L355.28 234.19L355.38 252.97L355.47 224.74L355.57 277.52L355.67 263.16L355.77 267.25L355.87 236.43L355.96 231.51L356.06 272.13L356.16 257.97L356.26 246L356.36 245.32L356.46 252.85L356.55 274.68L356.65 238.97L356.75 251.6L356.85 243.02L356.95 271.68L357.04 250.81L357.14 250.71L357.24 253.4L357.34 262.16L357.44 240.13L357.54 247.49L357.63 273.89L357.73 278.12L357.83 243.23L357.93 251.26L358.03 239.56L358.13 266.27L358.22 270.83L358.32 266.79L358.42 246.19L358.52 274.88L358.62 239.68L358.71 258.73L358.81 251.72L358.91 266.79L359.01 256.09L359.11 249.11L359.21 250.43L359.3 245.7L359.4 268.54L359.5 275.15L359.6 241.12L359.7 283.75L359.8 260.04L359.89 260.46L359.99 247.84L360.09 242.07L360.19 264.52L360.29 275.02L360.38 273.28L360.48 274.45L360.58 281.22L360.68 245.29L360.78 266.09L360.88 242.2L360.97 251.32L361.07 273.91L361.17 266.47L361.27 261.38L361.37 284.4L361.46 275.1L361.56 268.65L361.66 282.03L361.76 285.55L361.86 244.12L361.96 279.31L362.05 265.81L362.15 251.76L362.25 274.76L362.35 277.84L362.45 267.05L362.55 266.69L362.64 273.06L362.74 275.33L362.84 288.59L362.94 284.55L363.04 265.45L363.13 249.67L363.23 269.67L363.33 251.05L363.43 272.97L363.53 252.89L363.63 247.69L363.72 251.99L363.82 265.77L363.92 253.6L364.02 247.05L364.12 274.25L364.22 271.38L364.31 251.5L364.41 274.4L364.51 260.5L364.61 262.6L364.71 260.26L364.8 269.41L364.9 257.62L365 281.44L365.1 246.41L365.2 253.45L365.3 283.41L365.39 267.11L365.49 275.85L365.59 253.15L365.69 291.15L365.79 231L365.88 251.82L365.98 292.03L366.08 248.58L366.18 261.48L366.28 248.28L366.38 246.5L366.47 275.97L366.57 268.65L366.67 267.76L366.77 282.79L366.87 281.98L366.97 270.89L367.06 280.51L367.16 258.14L367.26 282.34L367.36 273.84L367.46 289.3L367.55 282.03L367.65 255.27L367.75 266.89L367.85 258.38L367.95 247.49L368.05 258.57L368.14 288.47L368.24 288.04L368.34 283.11L368.44 256.53L368.54 267.98L368.64 266.06L368.73 272.43L368.83 271.95L368.93 240.74L369.03 266.69L369.13 280.09L369.22 270.82L369.32 292.6L369.42 268.09L369.52 276.22L369.62 294.07L369.72 263.79L369.81 270.2L369.91 230.51L370.01 268.05L370.11 247.59L370.21 294.43L370.3 275.48L370.4 274.9L370.5 249.94L370.6 281.89L370.7 267.08L370.8 256.49L370.89 250.99L370.99 262.27L371.09 261.77L371.19 223.47L371.29 282.44L371.39 263.82L371.48 262.82L371.58 269.93L371.68 269.77L371.78 289L371.88 265.82L371.97 269.15L372.07 292.55L372.17 261.55L372.27 249.42L372.37 267.62L372.47 275.43L372.56 280.53L372.66 270.29L372.76 271.88L372.86 256.08L372.96 262.41L373.06 297.5L373.15 293.41L373.25 293.82L373.35 260.27L373.45 254.5L373.55 273.81L373.64 291.42L373.74 291.74L373.84 283.52L373.94 249.7L374.04 285.95L374.14 231.91L374.23 249.07L374.33 285.62L374.43 223.42L374.53 250.94L374.63 286.34L374.72 283.01L374.82 278.34L374.92 255.13L375.02 289.06L375.12 291.11L375.22 276.33L375.31 252.48L375.41 294.51L375.51 267.1L375.61 261.29L375.71 282.49L375.81 259.65L375.9 270.63L376 252.29L376.1 276.77L376.2 252.68L376.3 289.03L376.39 296.72L376.49 274.97L376.59 281.83L376.69 270L376.79 286.93L376.89 270.05L376.98 276.64L377.08 276.71L377.18 263.03L377.28 289L377.38 299.11L377.48 282.26L377.57 295.58L377.67 301.55L377.77 291.77L377.87 293.33L377.97 287.67L378.06 281.45L378.16 268.94L378.26 278.65L378.36 302.53L378.46 286.05L378.56 278.68L378.65 271.8L378.75 289.84L378.85 273.88L378.95 291.87L379.05 282.07L379.14 292.47L379.24 289.41L379.34 301.99L379.44 301.04L379.54 275.72L379.64 303.32L379.73 287.78L379.83 306.61L379.93 285.71L380.03 286.96L380.13 309.27L380.23 282.39L380.32 298.23L380.42 260.12L380.52 284.01L380.62 283.23L380.72 304.69L380.81 285.65L380.91 283.25L381.01 306.09L381.11 306.12L381.21 287.35L381.31 299.5L381.4 290.65L381.5 270.23L381.6 304.84L381.7 293.84L381.8 305.69L381.9 294.47L381.99 296.99L382.09 312.26L382.19 293.4L382.29 284.53L382.39 308.41L382.48 301.22L382.58 268.21L382.68 311.96L382.78 294.31L382.88 296L382.98 297.07L383.07 308.15L383.17 307.67L383.27 296.12L383.37 271.08L383.47 275.56L383.56 283.22L383.66 314.31L383.76 307.97L383.86 289.6L383.96 291.97L384.06 279.05L384.15 313.87L384.25 288.58L384.35 312.33L384.45 283.53L384.55 311.83L384.65 295.27L384.74 283.53L384.84 274.9L384.94 282.99L385.04 283.84L385.14 303.97L385.23 290.19L385.33 294.37L385.43 296.47L385.53 292.59L385.63 298.86L385.73 301.7L385.82 286.54L385.92 291.39L386.02 278.64L386.12 280.81L386.22 286.02L386.32 313.19L386.41 298.05L386.51 298.61L386.61 287.65L386.71 283.42L386.81 310.97L386.9 318.29L387 286.08L387.1 282.46L387.2 306.71L387.3 297.2L387.4 305.52L387.49 305.86L387.59 296.86L387.69 295.19L387.79 287.94L387.89 307.7L387.98 303.33L388.08 305.2L388.18 286.42L388.28 303.44L388.38 289.61L388.48 288.25L388.57 321.37L388.67 295.9L388.77 318.91L388.87 305.98L388.97 301.81L389.07 320.67L389.16 304.21L389.26 300.79L389.36 312.43L389.46 306.48L389.56 311.42L389.65 319.54L389.75 316.49L389.85 295.03L389.95 305L390.05 308.33L390.15 300.47L390.24 299.9L390.34 302.74L390.44 313.84L390.54 309.95L390.64 316.73L390.74 324.56L390.83 299.49L390.93 324.23L391.03 315.91L391.13 302.38L391.23 317.93L391.32 301.21L391.42 326.19L391.52 322.71L391.62 314.67L391.72 309.74L391.82 305.72L391.91 303.22L392.01 305.5L392.11 322.27L392.21 301.55L392.31 326.02L392.4 315.42L392.5 318.54L392.6 326.74L392.7 322.38L392.8 303.22L392.9 304.08L392.99 319.3L393.09 303.94L393.19 310.34L393.29 326.9L393.39 313.9L393.49 323.12L393.58 321.58L393.68 311.91L393.78 323.38L393.88 320.32L393.98 327.94L394.07 321.25L394.17 321.75L394.27 325.86L394.37 326.28L394.47 320.01L394.57 326.75L394.66 309.68L394.76 323.41L394.86 321.37L394.96 327.4L395.06 313.11L395.16 325.16L395.25 327.38L395.35 322L395.45 312.22L395.55 312.39L395.65 320.71L395.74 318.86L395.84 327.88L395.94 313.68L396.04 316.47L396.14 325.2L396.24 315.49L396.33 326.83L396.43 321.73L396.53 325.01L396.63 320.73L396.73 325.8L396.82 321.46L396.92 325.89L397.02 329.47L397.12 328.03L397.22 318.35L397.32 323.32L397.41 322.5L397.51 320.57L397.61 326.14L397.71 327.06L397.81 324.22L397.91 319.89L398 320.28L398.1 323.78L398.2 322.08L398.3 326.4L398.4 318.23L398.49 321.99L398.59 320.19L398.69 325.32L398.79 323.01L398.89 321.62L398.99 323.72L399.08 321.29L399.18 326.74L399.28 321.27L399.38 326.37L399.48 324.36L399.58 328.33L399.67 325.69L399.77 320.85L399.87 329.6L399.97 328.06L400.07 324.63L400.16 323.61L400.26 323.44L400.36 323.55L400.46 323.35L400.56 324.55L400.66 328.73L400.75 325.27L400.85 327.7L400.95 330.16L401.05 325.87L401.15 321.99L401.24 326.39L401.34 324.05L401.44 325.28L401.54 330.08L401.64 326.08L401.74 322.76L401.83 325.46L401.93 328.25L402.03 323.82L402.13 325.67L402.23 323.89L402.33 324.63L402.42 326.59L402.52 327.47L402.62 327.14L402.72 328.61L402.82 325.25L402.91 329.96L403.01 324.66L403.11 328.7L403.21 328.13L403.31 327.15L403.41 328.97L403.5 327.24L403.6 330.55L403.7 325.79L403.8 330.3L403.9 325.88L404 326.01L404.09 326.48L404.19 326.73L404.29 329.97L404.39 327.86L404.49 330.73L404.58 326.95L404.68 326.76L404.78 329.99L404.88 328.75L404.98 330.7L405.08 327.61L405.17 327.49L405.27 330.94L405.37 328.04L405.47 326.68L405.57 330.4L405.66 326.63L405.76 329.97L405.86 331.32L405.96 331L406.06 327.61L406.16 330.5L406.25 327.19L406.35 329.35L406.45 331.13L406.55 327.56L406.65 329.99L406.75 330.98L406.84 331.62L406.94 330.22L407.04 329.49L407.14 329.37L407.24 329L407.33 331.37L407.43 331.76L407.53 327.74L407.63 329.89L407.73 328.58L407.83 327.86L407.92 329.25L408.02 328.65L408.12 330.97L408.22 331.04L408.32 329.77L408.42 327.79L408.51 327.91L408.61 331.08L408.71 329.42L408.81 330.9L408.91 330.64L409 331L409.1 328.14L409.2 330.63L409.3 330.32L409.4 331.82L409.5 328.83L409.59 331.81L409.69 328.95L409.79 331.22L409.89 331.24L409.99 331.96L410.08 330.8L410.18 328.59L410.28 330.78L410.38 330.9L410.48 329.43L410.58 331.27L410.67 329.42L410.77 328.71L410.87 329.11L410.97 331.92L411.07 329.41L411.17 329.4L411.26 329.41L411.36 330.14L411.46 331.68L411.56 329.85L411.66 330.17L411.75 330.48L411.85 329.61L411.95 331.44L412.05 330.85L412.15 330.08L412.25 329.3L412.34 329.05L412.44 329.38L412.54 331.21L412.64 330.76L412.74 330.47L412.84 330.66L412.93 331.72L413.03 330.94L413.13 329.4L413.23 330.94L413.33 329.57L413.42 329.55L413.52 330.59L413.62 329.51L413.72 329.36L413.82 331.98L413.92 330.43L414.01 329.46L414.11 331.2L414.21 331.07L414.31 331.64L414.41 329.71L414.5 330.57L414.6 330.5L414.7 330.5L414.8 329.72L414.9 330.73L415 330.66L415.09 330.93L415.19 331.24L415.29 329.6L415.39 330.44L415.49 330.83L415.59 331.87L415.68 330.46L415.78 331.99L415.88 330.89L415.98 331.55L416.08 331.09L416.17 331.53L416.27 331.52L416.37 330.98L416.47 331.78L416.57 331.44L416.67 330.27L416.76 331.81L416.86 329.96L416.96 331.04L417.06 331.53L417.16 330.15L417.26 331.13L417.35 331.15L417.45 332.04L417.55 331.61L417.65 329.76L417.75 330.84L417.84 330.98L417.94 330.61L418.04 331.81L418.14 331.66L418.24 329.95L418.34 330.51L418.43 331.26L418.53 329.96L418.63 331.32L418.73 330.95L418.83 330.15L418.92 330L419.02 331.34L419.12 329.7L419.22 331.5L419.32 331.37L419.42 330.79L419.51 330.68L419.61 330.73L419.71 330.9L419.81 330.19L419.91 331.4L420.01 330.98L420.1 330.43L420.2 329.94L420.3 331.38L420.4 331.16L420.5 330.9L420.59 331.35L420.69 330.8L420.79 329.85L420.89 331.42L420.99 330.1L421.09 329.97L421.18 330.86L421.28 331.16L421.38 331.67L421.48 330.72L421.58 330.08L421.68 331.09L421.77 331.36L421.87 330.13L421.97 331.57L422.07 330.7L422.17 330.27L422.26 330.81L422.36 331.27L422.46 330.63L422.56 331.18L422.66 330.48L422.76 330.22L422.95 330.21L423.15 330.27L423.34 331.61L423.54 331.31L423.74 330.5L423.93 330.56L424.13 330.05L424.33 330.96L424.52 331.71L424.72 331.68L424.92 331.72L425.11 330.77L425.31 331.18L425.51 331.73L425.7 330.07L425.9 331.66L426.1 331.13L426.29 330.34L426.49 330.51L426.68 331.36L426.88 330.01L427.08 330.94L427.27 330.27L427.47 330.99L427.67 330.59L427.86 330.05L428.06 331.62L428.26 330.73L428.45 330.7L428.65 330.06L428.85 330.68L429.04 331.25L429.24 331.45L429.43 330.77L429.63 331.4L429.83 331.1L430.02 330.12L430.22 331.36L430.42 331.32L430.61 330.59L430.81 330.85L431.01 330.23L431.2 331.12L431.4 330.47L431.6 330.99L431.79 330.13L431.99 330.24L432.18 331.31L432.38 331.05L432.58 330.9L432.77 330.91L432.97 330.73L433.17 330.59L433.36 331.37L433.56 330.65L433.76 330.4L433.95 330.99L434.15 331.2L434.35 331.22L434.54 330.71L434.74 331.41L434.94 331.28L435.13 331.15L435.33 330.6L435.52 330.52L435.72 330.81L435.92 331.37L436.11 331.08L436.31 331.5L436.51 330.17L436.7 330.93L436.9 330.39L437.1 331.24L437.29 331.19L437.49 331.38L437.69 331.04L437.88 330.61L438.08 330.8L438.27 331.13L438.47 331.41L438.67 331.2L438.86 330.5L439.06 331.34L439.26 330.18L439.45 330.4L439.65 331.35L439.85 331.59L440.04 330.42L440.24 331.53L440.44 330.64L440.63 330.88L440.83 331.01L441.02 330.77L441.22 331.57L441.42 330.53L441.61 330.4L441.81 331.54L442.01 331.2L442.2 330.41L442.4 331.32L442.6 331.39L442.79 330.46L442.99 330.2L443.19 330.2L443.38 331.32L443.58 331.41L443.78 331.58L443.97 331.43L444.17 331.13L444.36 330.25L444.56 330.54L444.76 331.34L444.95 331.04L445.15 330.83L445.35 331.38L445.54 331.52L445.74 331.33L445.94 331.18L446.13 331.55L446.33 330.23L446.53 330.24L446.72 330.94L446.92 330.99L447.11 330.83L447.31 330.43L447.51 331.03L447.7 330.31L447.9 330.26L448.1 331.22L448.29 330.79L448.49 330.27L448.69 331.18L448.88 330.22L449.08 330.91L449.28 330.67L449.47 331.47L449.67 331.05L449.86 330.69L450.06 331.32L450.26 330.25L450.45 331.05L450.65 330.82L450.85 330.52L451.04 331.17L451.24 330.63L451.44 330.59L451.63 330.53L451.83 331.17L452.03 331.14L452.22 330.8L452.42 330.99L452.62 330.95L452.81 330.82L453.01 330.56L453.2 331.41L453.4 331.32L453.6 331.44L453.79 330.89L453.99 331.33L454.19 330.32L454.38 331.33L454.58 330.99L454.78 330.55L454.97 331.22L455.17 331.5L455.37 331.29L455.56 330.64L455.76 331.13L455.95 330.31L456.15 331.4L456.35 331.2L456.54 330.93L456.74 331.16L456.94 331.21L457.13 331.47L457.33 330.92L457.53 330.59L457.72 331.11L457.92 330.26L458.12 330.76L458.31 331.12L458.51 331.12L458.7 331.24L458.9 331.49L459.1 330.97L459.29 330.89L459.49 330.53L459.69 331.51L459.88 331.58L460.08 330.38L460.28 331.13L460.47 330.63L460.67 330.42L460.87 331.24L461.06 331.38L461.26 330.56L461.46 331.21L461.65 330.94L461.85 331.62L462.04 330.83L462.24 331.02L462.44 331.34L462.63 331.36L462.83 330.36L463.03 330.4L463.22 331.2L463.42 331.19L463.62 331.16L463.81 331.16L464.01 331.11L464.21 330.32L464.4 331.61L464.6 331.13L464.79 330.88L464.99 330.8L465.19 331.18L465.38 330.65L465.58 331.05L465.78 331.43L465.97 330.39L466.17 331.35L466.37 330.68L466.56 330.37L466.76 331.4L466.96 330.61L467.15 330.58L467.35 331.16L467.54 330.39L467.74 331.45L467.94 330.93L468.13 330.31L468.33 330.92L468.53 330.45L468.72 331.09L468.92 330.76L469.12 330.98L469.31 330.68L469.51 330.64L469.71 330.67L469.9 330.61L470.1 331.35L470.3 330.76L470.49 330.57L470.69 330.63L470.88 331.4L471.08 330.9L471.28 331.62L471.47 330.33L471.67 330.77L471.87 331.31L472.06 330.83L472.26 331.22L472.46 330.89L472.65 330.58L472.85 330.49L473.05 330.32L473.24 330.76L473.44 330.92L473.63 330.95L473.83 331.44L474.03 331.6L474.22 330.45L474.42 330.34L474.62 330.53L474.81 331.39L475.01 330.81L475.21 331.38L475.4 331.21L475.6 330.59L475.8 330.4L475.99 331.63L476.19 330.61L476.38 330.7L476.58 330.72L476.78 331.45L476.97 331.18L477.17 330.65L477.37 331.38L477.56 331.42L477.76 331.01L477.96 331.42L478.15 331.3L478.35 331.44L478.55 331.36L478.74 331.51L478.94 331.1L479.14 331.2L479.33 331.46L479.53 331.41L479.72 331.11L479.92 331.55L480.12 331.25L480.31 331.58L480.51 330.66L480.71 331.48L480.9 331.02L481.1 331.46L481.3 330.74L481.49 330.35L481.69 330.71L481.89 331.53L482.08 331.38L482.28 331.42L482.47 330.47L482.67 331.53L482.87 330.63L483.06 330.62L483.26 330.54L483.46 331.08L483.65 331.09L483.85 331.18L484.05 330.78L484.24 331L484.44 330.71L484.64 331.06L484.83 330.53L485.03 330.85L485.22 331.28L485.42 331.08L485.62 331.33L485.81 330.43L486.01 331.58L486.21 331.11L486.4 331.07L486.6 330.84L486.8 331.5L486.99 330.76L487.19 331.46L487.39 331.27L487.58 331.23L487.78 331.54L487.98 330.33L488.17 331.56L488.37 330.45L488.56 330.74L488.76 330.42L488.96 330.86L489.15 330.92L489.35 331.05L489.55 330.92L489.74 331.2L489.94 331.4L490.14 330.87L490.33 330.6L490.53 330.36L490.73 330.45L490.92 330.84L491.12 331.37L491.31 330.9L491.51 331.42L491.71 330.51L491.9 330.65L492.1 331.14L492.3 331.21L492.49 330.48L492.69 331.06L492.89 331.53L493.08 330.76L493.28 331.08L493.48 331.48L493.67 330.52L493.87 331.36L494.06 331.38L494.26 330.94L494.46 331.31L494.65 331.2L494.85 331.05L495.05 330.42L495.24 330.86L495.44 331.07L495.64 330.55L495.83 330.43L496.03 330.44L496.23 331.59L496.42 330.59L496.62 330.63L496.82 330.71L497.01 330.69L497.21 330.78L497.4 331.36L497.6 330.43L497.8 330.6L497.99 331.31L498.19 330.94L498.39 331.38L498.58 331.32L498.78 330.82L498.98 331.44L499.17 331.61L499.37 330.83L499.57 330.83L499.76 330.46L499.96 331.59L500.15 331.22L500.35 331.47L500.55 330.45L500.74 330.59L500.94 331.43L501.14 331.02L501.33 330.74L501.53 330.83L501.73 331L501.92 330.93L502.12 331.35L502.32 331.54L502.51 331.42L502.71 330.97L502.9 331.44L503.1 330.49L503.3 331.25L503.49 331.6L503.69 330.79L503.89 330.77L504.08 330.67L504.28 331.05L504.48 330.45L504.67 330.76L504.87 330.43L505.07 330.61L505.26 331.27L505.46 331.07L505.66 331.35L505.85 330.81L506.05 331.12L506.24 331.03L506.44 331.15L506.64 331.39L506.83 330.87L507.03 330.7L507.23 331.17L507.42 331.45L507.62 330.84L507.82 330.83L508.01 330.92L508.21 330.57L508.41 330.42L508.6 330.65L508.8 330.86L508.99 330.43L509.19 330.9L509.39 330.96L509.58 331.35L509.78 331.2L509.98 331.15L510.17 331.28L510.37 331.27L510.57 331.38L510.76 331.48L510.96 330.91L511.16 331.06L511.35 330.6L511.55 330.7L511.74 330.44L511.94 330.47L512.14 331.47L512.33 330.78L512.53 330.45L512.73 331.5L512.92 331.43L513.12 331.58L513.32 331.38L513.51 330.42L513.71 330.51L513.91 331.43L514.1 331.6L514.3 331.47L514.5 330.52L514.69 331.2L514.89 330.89L515.08 331.16L515.28 331.08L515.48 330.81L515.67 330.43L515.87 331.52L516.07 331.08L516.26 330.71L516.46 330.62L516.66 330.82L516.85 331.25L517.05 331.57L517.25 331.32L517.44 330.91L517.64 330.49L517.83 330.87L518.03 330.86L518.23 331.13L518.42 330.67L518.62 330.4L518.82 331.01L519.01 330.8L519.21 330.94L519.41 331.29L519.6 330.48L519.8 331.51L520 331.08L520.19 330.46L520.39 330.89L520.58 331.12L520.78 331.34L520.98 331.14L521.17 330.67L521.37 330.76L521.57 330.83L521.76 330.43L521.96 331.14L522.16 331.25L522.35 330.83L522.55 330.45L522.75 330.73L522.94 330.54L523.14 330.58L523.34 331.57L523.53 330.81L523.73 331.29L523.92 330.76L524.12 330.63L524.32 330.61L524.51 331.36L524.71 331.14L524.91 331.4L525.1 330.58L525.3 330.73L525.5 330.91L525.69 330.92L525.89 330.69L526.09 331.04L526.28 331.37L526.48 330.43L526.67 330.65L526.87 330.99L527.07 330.9L527.26 331.34L527.46 331.31L527.66 331.52L527.85 330.78L528.05 330.6L528.25 331.27L528.44 331.35L528.64 331.06L528.84 331.24L529.03 330.67L529.23 331.29L529.42 331.27L529.62 331.1L529.82 330.54L530.01 330.72L530.21 331.45L530.41 331.42L530.6 331.52L530.8 330.78"/><path d="M354 270.64L354.1 242.41L354.2 247.5L354.29 250.83L354.39 247.39L354.49 255.07L354.59 253.4L354.69 237.96L354.79 258.36L354.88 258.5L354.98 250.59L355.08 269.08L355.18 247.9L355.28 247.15L355.38 260.9L355.47 272.54L355.57 268.39L355.67 235.18L355.77 276.36L355.87 276.06L355.96 267.2L356.06 276.59L356.16 277.84L356.26 258.36L356.36 253.5L356.46 278.59L356.55 244.08L356.65 242.13L356.75 276.31L356.85 242.61L356.95 277.45L357.04 247.52L357.14 254.5L357.24 264.32L357.34 258.12L357.44 246.25L357.54 274.9L357.63 268.15L357.73 283.36L357.83 240.14L357.93 274.32L358.03 257.67L358.13 276.57L358.22 268.23L358.32 278.64L358.42 244.48L358.52 256.38L358.62 276.32L358.71 265.35L358.81 264.7L358.91 281.72L359.01 274.82L359.11 249.95L359.21 269.41L359.3 248.65L359.4 280.73L359.5 271.14L359.6 283.49L359.7 249.33L359.8 273.08L359.89 244.88L359.99 267.58L360.09 253.8L360.19 242.69L360.29 226.19L360.38 260.69L360.48 264.84L360.58 246.91L360.68 283.4L360.78 259.09L360.88 281.71L360.97 283.53L361.07 272.25L361.17 270.25L361.27 283.89L361.37 285.68L361.46 287.61L361.56 289.23L361.66 246.53L361.76 268.88L361.86 255.31L361.96 273.74L362.05 282.24L362.15 274.21L362.25 263.41L362.35 284.85L362.45 280.38L362.55 276.23L362.64 263.46L362.74 275.7L362.84 275.8L362.94 251.61L363.04 256.83L363.13 269.57L363.23 278.33L363.33 255.02L363.43 262.93L363.53 272.39L363.63 275.98L363.72 268.33L363.82 269.64L363.92 274.89L364.02 285.62L364.12 278.61L364.22 278.52L364.31 224.29L364.41 282.3L364.51 277.75L364.61 280.26L364.71 257.42L364.8 283.17L364.9 266.66L365 255.39L365.1 270.49L365.2 266.7L365.3 275.9L365.39 262.32L365.49 263.98L365.59 274.96L365.69 261.84L365.79 284.75L365.88 291.99L365.98 250.43L366.08 263.66L366.18 258.12L366.28 274.23L366.38 287.3L366.47 269.97L366.57 271.97L366.67 282.56L366.77 260.63L366.87 276.62L366.97 236.89L367.06 284.5L367.16 283.33L367.26 275.2L367.36 255.36L367.46 266.34L367.55 250.08L367.65 250.92L367.75 286.33L367.85 256.36L367.95 281.78L368.05 292.78L368.14 276.97L368.24 250.44L368.34 285.75L368.44 269.34L368.54 250.56L368.64 280.95L368.73 272.7L368.83 290.2L368.93 271.6L369.03 252.02L369.13 275.3L369.22 265.76L369.32 274.63L369.42 289.51L369.52 266.06L369.62 249.24L369.72 286.97L369.81 291.89L369.91 280.24L370.01 287.6L370.11 287.88L370.21 247.92L370.3 277.37L370.4 272.97L370.5 252.8L370.6 270.96L370.7 265.34L370.8 291.85L370.89 287.34L370.99 284.99L371.09 287.61L371.19 278.11L371.29 263.27L371.39 259.06L371.48 257.13L371.58 278.41L371.68 252.73L371.78 271.26L371.88 287.14L371.97 283.54L372.07 279.95L372.17 255.42L372.27 298.02L372.37 270.8L372.47 253.64L372.56 272.75L372.66 262.83L372.76 291.76L372.86 285.32L372.96 263.39L373.06 259.34L373.15 271.82L373.25 256.03L373.35 293.81L373.45 291.82L373.55 282.59L373.64 295.32L373.74 281.59L373.84 289.07L373.94 263.88L374.04 274.67L374.14 298.28L374.23 262.47L374.33 296.42L374.43 257.01L374.53 269.92L374.63 267.56L374.72 277.53L374.82 262.98L374.92 286.24L375.02 279.29L375.12 280.39L375.22 245.86L375.31 298.03L375.41 293.99L375.51 278.99L375.61 292.55L375.71 262.15L375.81 265.39L375.9 230.69L376 283.65L376.1 264.34L376.2 230.75L376.3 271.9L376.39 260.84L376.49 292.37L376.59 282.52L376.69 249.09L376.79 288.36L376.89 264.17L376.98 244.89L377.08 295.09L377.18 293.72L377.28 267.3L377.38 284.35L377.48 266.11L377.57 269.17L377.67 285.16L377.77 301.11L377.87 281.78L377.97 272.71L378.06 280.06L378.16 297.02L378.26 281.37L378.36 289.54L378.46 282.32L378.56 299.77L378.65 278.93L378.75 308.38L378.85 274.67L378.95 280.72L379.05 284.83L379.14 296.3L379.24 277.6L379.34 261.71L379.44 284.91L379.54 278.42L379.64 297.4L379.73 309.11L379.83 305.33L379.93 288.05L380.03 297.46L380.13 284.97L380.23 299.64L380.32 289.99L380.42 311.24L380.52 301.05L380.62 293.05L380.72 294.82L380.81 282.5L380.91 285.49L381.01 308.94L381.11 307.54L381.21 289.65L381.31 295.87L381.4 312.62L381.5 309.98L381.6 297.67L381.7 299L381.8 308.36L381.9 284.74L381.99 296.03L382.09 301.84L382.19 312.37L382.29 307.52L382.39 310.36L382.48 305.06L382.58 280.62L382.68 304.66L382.78 313.52L382.88 282.75L382.98 306.35L383.07 300.46L383.17 293.84L383.27 314.47L383.37 299.76L383.47 287.8L383.56 284.86L383.66 314.1L383.76 276.99L383.86 281.47L383.96 284.34L384.06 316.47L384.15 304.37L384.25 308.19L384.35 279.54L384.45 305.73L384.55 300.52L384.65 308.58L384.74 286.9L384.84 312.53L384.94 298.37L385.04 286.66L385.14 303.01L385.23 308.73L385.33 297.21L385.43 310.49L385.53 288.92L385.63 285.68L385.73 309.1L385.82 316.6L385.92 303.92L386.02 318.38L386.12 285.53L386.22 281.7L386.32 296.02L386.41 298.94L386.51 296.61L386.61 305.54L386.71 298.87L386.81 296.24L386.9 287.61L387 308.71L387.1 314.45L387.2 303.46L387.3 318.36L387.4 308.74L387.49 301.59L387.59 289.12L387.69 299.12L387.79 284.84L387.89 292.43L387.98 285.48L388.08 289.44L388.18 309.41L388.28 314.87L388.38 296.72L388.48 295.51L388.57 307.31L388.67 293.2L388.77 299.5L388.87 293.8L388.97 321.7L389.07 293.65L389.16 292.61L389.26 314.24L389.36 294.46L389.46 313.53L389.56 294.7L389.65 295.49L389.75 295.87L389.85 319.4L389.95 316.36L390.05 305.47L390.15 315.25L390.24 311.04L390.34 293.58L390.44 295.32L390.54 318.04L390.64 318L390.74 300.11L390.83 306.51L390.93 322.94L391.03 295.68L391.13 318.13L391.23 321L391.32 298.71L391.42 300.62L391.52 320.86L391.62 307.97L391.72 298.28L391.82 297.16L391.91 299.8L392.01 301.91L392.11 299.65L392.21 313.83L392.31 306.03L392.4 302.6L392.5 303.76L392.6 309.57L392.7 303.83L392.8 306.1L392.9 302.38L392.99 303.06L393.09 304.13L393.19 320.5L393.29 317.05L393.39 313.58L393.49 324.82L393.58 318.53L393.68 305.48L393.78 303.39L393.88 314.17L393.98 313.71L394.07 322.48L394.17 313.5L394.27 305.33L394.37 318.46L394.47 311.39L394.57 308.28L394.66 315.71L394.76 316.26L394.86 310.83L394.96 321.38L395.06 318.32L395.16 320.43L395.25 323.61L395.35 320.29L395.45 309.58L395.55 311.25L395.65 317.59L395.74 322.77L395.84 315.84L395.94 319.85L396.04 314.07L396.14 310.41L396.24 318.78L396.33 319.41L396.43 311.43L396.53 311.13L396.63 313.88L396.73 319.55L396.82 310.63L396.92 323.76L397.02 310.11L397.12 314.19L397.22 323.81L397.32 322.3L397.41 313.63L397.51 311.9L397.61 323.35L397.71 316.48L397.81 313.51L397.91 316.13L398 312.99L398.1 313.81L398.2 322.5L398.3 323.67L398.4 314.12L398.49 321.88L398.59 314.62L398.69 313.84L398.79 320.5L398.89 316.31L398.99 322.65L399.08 319.4L399.18 323.74L399.28 318.36L399.38 323.65L399.48 320.72L399.58 325.01L399.67 315.22L399.77 319.08L399.87 321.99L399.97 323.2L400.07 317.78L400.16 320.76L400.26 320.14L400.36 325.22L400.46 322.25L400.56 321.4L400.66 318.1L400.75 323.96L400.85 325.4L400.95 321.18L401.05 324.05L401.15 325.64L401.24 325.1L401.34 322.09L401.44 322.63L401.54 324.02L401.64 320.64L401.74 325.84L401.83 324.03L401.93 322.59L402.03 324.56L402.13 319.37L402.23 324.03L402.33 323.29L402.42 319.97L402.52 323.05L402.62 325.07L402.72 323.55L402.82 320.34L402.91 321.52L403.01 324.88L403.11 326.4L403.21 321.31L403.31 325.13L403.41 326.48L403.5 324.51L403.6 322.54L403.7 324.9L403.8 322.43L403.9 321.72L404 323.32L404.09 322.18L404.19 323.91L404.29 326.83L404.39 323.53L404.49 325.96L404.58 322.92L404.68 322.5L404.78 324.94L404.88 323.69L404.98 327.31L405.08 324.51L405.17 324.12L405.27 322.79L405.37 327.37L405.47 326.74L405.57 323.83L405.66 324.66L405.76 325.56L405.86 322.94L405.96 327.6L406.06 323.59L406.16 327.48L406.25 326.87L406.35 324.85L406.45 327.9L406.55 324.44L406.65 326.73L406.75 324.42L406.84 325.43L406.94 327.13L407.04 324.64L407.14 324.11L407.24 324.77L407.33 328.07L407.43 326.51L407.53 328.28L407.63 326.58L407.73 327.39L407.83 326.33L407.92 324.88L408.02 325.49L408.12 325.34L408.22 328.61L408.32 326.8L408.42 327.15L408.51 325.89L408.61 325.27L408.71 329.02L408.81 325.51L408.91 327.76L409 329.03L409.1 326.69L409.2 327.09L409.3 325.45L409.4 326.15L409.5 327.52L409.59 326.37L409.69 326.01L409.79 327.5L409.89 328.31L409.99 327.1L410.08 326.43L410.18 327L410.28 327.41L410.38 329.11L410.48 327.13L410.58 327.65L410.67 327.27L410.77 328.26L410.87 329.76L410.97 329.06L411.07 327.97L411.17 329.49L411.26 328.97L411.36 328.74L411.46 329.66L411.56 329.26L411.66 328.77L411.75 327.36L411.85 328.04L411.95 330L412.05 329.16L412.15 327.95L412.25 330.44L412.34 328.38L412.44 328.41L412.54 329.83L412.64 330.55L412.74 329.76L412.84 329.75L412.93 328.87L413.03 330.52L413.13 330.29L413.23 328.8L413.33 330.68L413.42 329.19L413.52 329.82L413.62 329.95L413.72 329.77L413.82 329.98L413.92 328.78L414.01 328.49L414.11 329.44L414.21 329.16L414.31 328.76L414.41 330.74L414.5 329.81L414.6 331L414.7 329.1L414.8 328.76L414.9 330.78L415 330.05L415.09 329.56L415.19 329.81L415.29 331.08L415.39 330.18L415.49 330.39L415.59 329.73L415.68 329.01L415.78 331.13L415.88 329.97L415.98 330.19L416.08 330.41L416.17 330.93L416.27 330.29L416.37 331.16L416.47 329.78L416.57 330.76L416.67 329.34L416.76 330.94L416.86 331.04L416.96 331.12L417.06 329.81L417.16 329.55L417.26 329.51L417.35 330.4L417.45 330.13L417.55 330.84L417.65 330.43L417.75 331.48L417.84 329.66L417.94 330.77L418.04 330.66L418.14 331.6L418.24 330.63L418.34 331.42L418.43 329.56L418.53 331.75L418.63 331.11L418.73 331.79L418.83 331.52L418.92 330.84L419.02 331.88L419.12 330.58L419.22 330.68L419.32 330.32L419.42 331.33L419.51 330.68L419.61 331.39L419.71 330.61L419.81 329.95L419.91 331.82L420.01 330.7L420.1 330.46L420.2 331.73L420.3 332.2L420.4 331.19L420.5 331.21L420.59 331.01L420.69 330.7L420.79 331.68L420.89 330.66L420.99 330.89L421.09 331.95L421.18 332L421.28 331.54L421.38 330.68L421.48 330.67L421.58 331.44L421.68 331.47L421.77 331.57L421.87 331.05L421.97 332.64L422.07 331.19L422.17 331.62L422.26 331.55L422.36 330.96L422.46 332.56L422.56 331.73L422.66 330.83L422.76 332.34L422.95 331.58L423.15 332.29L423.34 331.3L423.54 331.58L423.74 332.61L423.93 332.61L424.13 332.21L424.33 332.02L424.52 331.34L424.72 331.07L424.92 331.85L425.11 332.76L425.31 332.06L425.51 331.14L425.7 332.81L425.9 332.13L426.1 332.47L426.29 331.77L426.49 332.59L426.68 332.9L426.88 332.66L427.08 332.05L427.27 332.25L427.47 331.51L427.67 332.65L427.86 331.89L428.06 331.42L428.26 333L428.45 332.21L428.65 332.7L428.85 332.41L429.04 332.63L429.24 331.82L429.43 332.66L429.63 331.48L429.83 332.76L430.02 332.63L430.22 332.09L430.42 332.92L430.61 332.85L430.81 332.61L431.01 332.11L431.2 331.89L431.4 332.25L431.6 332.72L431.79 332.32L431.99 331.72L432.18 332.63L432.38 333.01L432.58 333.13L432.77 332.54L432.97 331.83L433.17 331.84L433.36 332.19L433.56 332.85L433.76 332.65L433.95 332.88L434.15 332.56L434.35 332.08L434.54 333.14L434.74 332.44L434.94 332.88L435.13 332.3L435.33 332.06L435.52 332.1L435.72 332.69L435.92 331.91L436.11 333.17L436.31 332.77L436.51 332.98L436.7 332.21L436.9 332.5L437.1 332.33L437.29 333.11L437.49 333.04L437.69 332.12L437.88 332.27L438.08 331.88L438.27 332.57L438.47 332.34L438.67 332.58L438.86 331.95L439.06 332.77L439.26 332.49L439.45 332.07L439.65 332.66L439.85 332.58L440.04 333.05L440.24 331.83L440.44 332.48L440.63 332.52L440.83 332.96L441.02 332.61L441.22 332.69L441.42 332.93L441.61 332.68L441.81 332.69L442.01 332.29L442.2 333.09L442.4 331.79L442.6 332L442.79 333.18L442.99 332.55L443.19 332.16L443.38 333.13L443.58 331.94L443.78 331.83L443.97 333.09L444.17 332.74L444.36 331.83L444.56 332.79L444.76 332.16L444.95 332.07L445.15 333.19L445.35 332.52L445.54 332.73L445.74 332.04L445.94 333.08L446.13 332.25L446.33 333.16L446.53 332.34L446.72 332.53L446.92 331.89L447.11 331.81L447.31 332.04L447.51 332.22L447.7 332.67L447.9 332.37L448.1 332.6L448.29 332.16L448.49 331.83L448.69 332.27L448.88 332.99L449.08 332.43L449.28 332.45L449.47 331.94L449.67 332.75L449.86 332.64L450.06 332.23L450.26 332.35L450.45 332.51L450.65 332.36L450.85 332.88L451.04 333.07L451.24 332.59L451.44 332.46L451.63 332.18L451.83 332.64L452.03 332.73L452.22 331.87L452.42 331.94L452.62 332.91L452.81 332.01L453.01 332.72L453.2 333.13L453.4 332.09L453.6 332.47L453.79 331.91L453.99 332.6L454.19 333.14L454.38 332.66L454.58 332.23L454.78 332.87L454.97 332.29L455.17 332.88L455.37 332.27L455.56 333.18L455.76 332.22L455.95 332.92L456.15 332.66L456.35 331.86L456.54 333.05L456.74 333.1L456.94 331.86L457.13 332.08L457.33 332.42L457.53 332.48L457.72 332.57L457.92 332.31L458.12 332.08L458.31 333.01L458.51 332.71L458.7 332.51L458.9 332.98L459.1 333.05L459.29 332.32L459.49 331.85L459.69 332.08L459.88 332.77L460.08 332.74L460.28 331.85L460.47 332.08L460.67 332.38L460.87 333.09L461.06 333.02L461.26 332.18L461.46 332.7L461.65 332.3L461.85 332.98L462.04 332.27L462.24 332.5L462.44 333.05L462.63 333.03L462.83 332.86L463.03 332.67L463.22 332.47L463.42 331.91L463.62 332.94L463.81 332.94L464.01 332.48L464.21 332.9L464.4 333.2L464.6 332.51L464.79 332.64L464.99 332.32L465.19 332.51L465.38 333.1L465.58 332.61L465.78 333.08L465.97 333.1L466.17 332.04L466.37 331.97L466.56 331.91L466.76 332.21L466.96 332.37L467.15 332.52L467.35 332.5L467.54 332.77L467.74 332.02L467.94 332.58L468.13 331.97L468.33 332.72L468.53 332.87L468.72 332.34L468.92 332.25L469.12 332.55L469.31 332.91L469.51 333.09L469.71 332.35L469.9 333.03L470.1 332.07L470.3 332.59L470.49 332.23L470.69 332.84L470.88 331.98L471.08 332.88L471.28 331.87L471.47 333.12L471.67 332.22L471.87 332.81L472.06 331.95L472.26 332.4L472.46 332.22L472.65 332.47L472.85 332.18L473.05 332.83L473.24 332.7L473.44 332.32L473.63 333.13L473.83 332.82L474.03 332.94L474.22 332.97L474.42 332.87L474.62 333.18L474.81 332.46L475.01 332.65L475.21 332.22L475.4 331.93L475.6 332.41L475.8 332.33L475.99 332.01L476.19 331.93L476.38 332.62L476.58 332.06L476.78 332.64L476.97 332.6L477.17 332.87L477.37 332.22L477.56 332.88L477.76 332.79L477.96 332.62L478.15 333.19L478.35 332.12L478.55 333.21L478.74 333.03L478.94 332.02L479.14 332.18L479.33 333.18L479.53 332.92L479.72 332.66L479.92 333.19L480.12 332.9L480.31 332.75L480.51 331.91L480.71 333.14L480.9 332.29L481.1 332.93L481.3 332.38L481.49 333.2L481.69 332.22L481.89 331.99L482.08 333.13L482.28 331.93L482.47 332.08L482.67 332.81L482.87 332.58L483.06 333.21L483.26 332.97L483.46 333.14L483.65 332.76L483.85 332.88L484.05 333.12L484.24 333.13L484.44 332.97L484.64 333.14L484.83 333.04L485.03 332.11L485.22 332.66L485.42 333.1L485.62 332.08L485.81 332.99L486.01 332.92L486.21 333.16L486.4 332.12L486.6 332.63L486.8 332.46L486.99 332.55L487.19 332.1L487.39 332.03L487.58 332.17L487.78 332.52L487.98 332.3L488.17 332.93L488.37 332.09L488.56 332.54L488.76 333.18L488.96 332.79L489.15 331.98L489.35 332.84L489.55 333.06L489.74 331.93L489.94 332.66L490.14 332.47L490.33 332.75L490.53 332.88L490.73 332.8L490.92 332L491.12 332.58L491.31 332.29L491.51 332.42L491.71 332.9L491.9 332.04L492.1 332.03L492.3 333.04L492.49 333.16L492.69 332.28L492.89 333.02L493.08 332.09L493.28 332.59L493.48 332.55L493.67 332.86L493.87 332.5L494.06 332.82L494.26 333.2L494.46 332.53L494.65 332.09L494.85 332.36L495.05 332.62L495.24 332.12L495.44 333.16L495.64 332.95L495.83 332.75L496.03 333.19L496.23 333.11L496.42 332.19L496.62 332.61L496.82 332.38L497.01 332.98L497.21 332.05L497.4 332.03L497.6 332.79L497.8 332.97L497.99 332.78L498.19 332.86L498.39 332.73L498.58 332.34L498.78 332.24L498.98 332.07L499.17 332.43L499.37 332.17L499.57 332.39L499.76 333.12L499.96 333L500.15 332.92L500.35 333.09L500.55 332.89L500.74 332.37L500.94 332.27L501.14 332.65L501.33 332.53L501.53 332.4L501.73 332.35L501.92 332.68L502.12 332.76L502.32 332.56L502.51 332.48L502.71 333.05L502.9 332.64L503.1 332.59L503.3 332.26L503.49 332.86L503.69 332L503.89 332.31L504.08 332.43L504.28 332.59L504.48 333.01L504.67 332.79L504.87 332.83L505.07 332.62L505.26 333.13L505.46 333.2L505.66 331.96L505.85 333.22L506.05 332.85L506.24 332.72L506.44 331.98L506.64 332.79L506.83 332.86L507.03 332.61L507.23 332.43L507.42 332.12L507.62 332.36L507.82 333.13L508.01 332.09L508.21 332.08L508.41 333.1L508.6 332.19L508.8 332.07L508.99 332.17L509.19 332.05L509.39 332.84L509.58 332.43L509.78 332.25L509.98 332.18L510.17 332.47L510.37 332.12L510.57 332.4L510.76 332.75L510.96 332.04L511.16 332.71L511.35 333.1L511.55 332.08L511.74 332.76L511.94 332.23L512.14 332.12L512.33 332.25L512.53 332.37L512.73 332.82L512.92 332.59L513.12 332.74L513.32 332.22L513.51 332.84L513.71 332.68L513.91 332.26L514.1 333.09L514.3 332.25L514.5 332.54L514.69 332.39L514.89 332.38L515.08 332.93L515.28 332.12L515.48 332.46L515.67 332.79L515.87 333.1L516.07 332.98L516.26 333.19L516.46 332.87L516.66 333.06L516.85 333.2L517.05 333.17L517.25 333.11L517.44 332.96L517.64 333.11L517.83 332.85L518.03 333.1L518.23 333.04L518.42 332.51L518.62 332.77L518.82 332.39L519.01 332.95L519.21 332.43L519.41 332.89L519.6 332.7L519.8 332.92L520 333.12L520.19 332L520.39 332.92L520.58 333.23L520.78 332.47L520.98 333.17L521.17 333.11L521.37 332.95L521.57 332.99L521.76 332.78L521.96 332.82L522.16 332.86L522.35 332.28L522.55 332.77L522.75 332.13L522.94 332.37L523.14 332.15L523.34 332.71L523.53 332.82L523.73 332.52L523.92 332.01L524.12 333.14L524.32 332.4L524.51 332.23L524.71 332.56L524.91 333.09L525.1 332.01L525.3 332.84L525.5 332.11L525.69 332.66L525.89 333.09L526.09 332.59L526.28 332.88L526.48 332.86L526.67 332.15L526.87 332.14L527.07 332.54L527.26 332.44L527.46 332.43L527.66 332.69L527.85 332.3L528.05 332.5L528.25 332.03L528.44 332.26L528.64 332.16L528.84 333.19L529.03 332.67L529.23 333.06L529.42 332.87L529.62 333.15L529.82 332.18L530.01 332.69L530.21 332.56L530.41 332.24L530.6 332.31L530.8 332.19"/><path d="M354 275.81L354.1 255.91L354.2 230.12L354.29 270.29L354.39 249.56L354.49 270.37L354.59 264.97L354.69 278.06L354.79 246.56L354.88 241.25L354.98 239.51L355.08 260.6L355.18 267L355.28 270.83L355.38 227.58L355.47 251.1L355.57 248.7L355.67 269.59L355.77 261.52L355.87 271.57L355.96 277.94L356.06 266.86L356.16 277.78L356.26 283.19L356.36 260.3L356.46 252.21L356.55 260.59L356.65 262.73L356.75 270.01L356.85 246.35L356.95 281.56L357.04 270.34L357.14 283.98L357.24 271.5L357.34 263.06L357.44 245.47L357.54 285.08L357.63 279.22L357.73 258.91L357.83 261.32L357.93 282.43L358.03 270.89L358.13 262.79L358.22 260.18L358.32 250.16L358.42 248.84L358.52 258.24L358.62 272.02L358.71 273.57L358.81 276.09L358.91 245.18L359.01 264.89L359.11 270.58L359.21 263.12L359.3 237.09L359.4 247.46L359.5 249.3L359.6 281.35L359.7 261.61L359.8 275.64L359.89 260.65L359.99 257.88L360.09 281.97L360.19 288.15L360.29 288.25L360.38 218.52L360.48 263.38L360.58 244.1L360.68 269.09L360.78 259.63L360.88 270.61L360.97 275.97L361.07 246.38L361.17 290.63L361.27 259.4L361.37 268.79L361.46 246.63L361.56 249.51L361.66 276.22L361.76 288.12L361.86 277.95L361.96 254.15L362.05 259.65L362.15 282.5L362.25 284.46L362.35 279.02L362.45 255.43L362.55 248.39L362.64 262.46L362.74 240.73L362.84 278.52L362.94 273.02L363.04 262.46L363.13 276.72L363.23 253.77L363.33 272.76L363.43 286.26L363.53 282.69L363.63 251.66L363.72 279.69L363.82 267.15L363.92 289.58L364.02 287.32L364.12 277.12L364.22 256.62L364.31 262.43L364.41 274.52L364.51 284.7L364.61 262.16L364.71 254.24L364.8 282.13L364.9 290.06L365 276.06L365.1 283.25L365.2 270.69L365.3 269.54L365.39 262.38L365.49 267.4L365.59 274.63L365.69 254.21L365.79 293.22L365.88 292.34L365.98 276.58L366.08 275.42L366.18 263.77L366.28 277.19L366.38 278.46L366.47 251.09L366.57 268.89L366.67 253.68L366.77 277.03L366.87 271.42L366.97 288.94L367.06 258.67L367.16 238.03L367.26 282.36L367.36 256.02L367.46 291.25L367.55 274.15L367.65 267.76L367.75 287.88L367.85 271.75L367.95 263.51L368.05 288.85L368.14 277.9L368.24 222.71L368.34 222.05L368.44 260.25L368.54 260.18L368.64 290.43L368.73 255.2L368.83 296.47L368.93 282L369.03 289.91L369.13 258.23L369.22 275.88L369.32 260L369.42 271.64L369.52 291.82L369.62 254.98L369.72 250.44L369.81 283.03L369.91 294.28L370.01 276.97L370.11 249.72L370.21 294.63L370.3 224.92L370.4 282.66L370.5 233.83L370.6 270.28L370.7 258.86L370.8 272.08L370.89 298.76L370.99 279.85L371.09 259.64L371.19 296.23L371.29 246.06L371.39 295.06L371.48 268.01L371.58 259.14L371.68 295.52L371.78 278.81L371.88 292.87L371.97 262.72L372.07 281.31L372.17 288.27L372.27 282.8L372.37 295.5L372.47 274.29L372.56 257.09L372.66 279.89L372.76 282.81L372.86 284.03L372.96 294.52L373.06 297.86L373.15 292.01L373.25 294.57L373.35 273.07L373.45 288.11L373.55 275.57L373.64 259.25L373.74 295.05L373.84 299.63L373.94 258.35L374.04 277.42L374.14 280.31L374.23 257.52L374.33 254L374.43 250.17L374.53 289.75L374.63 278.73L374.72 292.21L374.82 229.05L374.92 262.68L375.02 283.66L375.12 261.7L375.22 258.32L375.31 291.14L375.41 264.08L375.51 276.72L375.61 265.48L375.71 255.19L375.81 284.37L375.9 280.29L376 259.59L376.1 300.62L376.2 276.99L376.3 292.7L376.39 301.94L376.49 293.32L376.59 284.43L376.69 295.21L376.79 293.04L376.89 284.5L376.98 262.99L377.08 302.83L377.18 275.22L377.28 280.87L377.38 257.46L377.48 289.4L377.57 244.6L377.67 277.14L377.77 289.1L377.87 284.06L377.97 286.18L378.06 299.1L378.16 281.65L378.26 288.25L378.36 295.08L378.46 299.05L378.56 257.71L378.65 264.76L378.75 282.97L378.85 273.24L378.95 278.43L379.05 299.45L379.14 289.01L379.24 300.16L379.34 284.36L379.44 282.2L379.54 299.41L379.64 312.27L379.73 310.48L379.83 306.19L379.93 296.04L380.03 297.7L380.13 301.14L380.23 306.85L380.32 307.36L380.42 299.08L380.52 268.83L380.62 306.04L380.72 295.15L380.81 266.65L380.91 287.53L381.01 305.65L381.11 308.34L381.21 309.21L381.31 307.5L381.4 286.09L381.5 313.01L381.6 309.8L381.7 271.61L381.8 286.62L381.9 315.37L381.99 292.94L382.09 306.81L382.19 305.24L382.29 294.37L382.39 300.84L382.48 312.52L382.58 289.81L382.68 273.83L382.78 317.25L382.88 289.88L382.98 299.71L383.07 302.28L383.17 304.38L383.27 291.89L383.37 301.24L383.47 276.55L383.56 305.81L383.66 313.04L383.76 318.41L383.86 314.26L383.96 309.15L384.06 298.25L384.15 318.26L384.25 280.85L384.35 295.35L384.45 292.44L384.55 279.18L384.65 307.37L384.74 302.37L384.84 280.02L384.94 282.59L385.04 287.54L385.14 308.76L385.23 283.65L385.33 319.77L385.43 316L385.53 298.76L385.63 319.15L385.73 316.34L385.82 282.17L385.92 307.36L386.02 315.99L386.12 287.4L386.22 314.68L386.32 288.64L386.41 307.06L386.51 311.72L386.61 290.49L386.71 313.35L386.81 285.72L386.9 319.77L387 320.5L387.1 317.54L387.2 287.6L387.3 313.32L387.4 314.54L387.49 310.15L387.59 322.8L387.69 302.13L387.79 308.96L387.89 293.83L387.98 294.03L388.08 306.31L388.18 303.24L388.28 291.47L388.38 312.41L388.48 292.43L388.57 306.79L388.67 322.99L388.77 319.78L388.87 299.89L388.97 292.43L389.07 325.43L389.16 321.5L389.26 300.73L389.36 298.88L389.46 321.8L389.56 314.43L389.65 307.82L389.75 308.62L389.85 314.34L389.95 309.2L390.05 298.25L390.15 299.98L390.24 318.88L390.34 298.08L390.44 319.51L390.54 318.51L390.64 315.34L390.74 303.6L390.83 327.22L390.93 302.24L391.03 306.03L391.13 315.17L391.23 316.83L391.32 308.29L391.42 307.39L391.52 313.03L391.62 328.31L391.72 317.43L391.82 321.39L391.91 317.37L392.01 306.19L392.11 325.02L392.21 305.06L392.31 319.7L392.4 311.6L392.5 312.82L392.6 310.7L392.7 311.3L392.8 323.96L392.9 314.15L392.99 321.2L393.09 307.16L393.19 327.05L393.29 327.93L393.39 327.01L393.49 329.29L393.58 327.63L393.68 320.9L393.78 316.9L393.88 320.32L393.98 328.84L394.07 327.51L394.17 329.6L394.27 317.46L394.37 324.39L394.47 319.17L394.57 323.47L394.66 313.02L394.76 321.2L394.86 326.1L394.96 315.11L395.06 321.17L395.16 318.96L395.25 313.31L395.35 329.25L395.45 324.35L395.55 324.39L395.65 325.45L395.74 330.01L395.84 324.46L395.94 318L396.04 314.17L396.14 316.5L396.24 316.51L396.33 327.76L396.43 330.03L396.53 321.62L396.63 315.8L396.73 330.51L396.82 324.17L396.92 325.6L397.02 319.55L397.12 319.59L397.22 320.27L397.32 320.05L397.41 331.03L397.51 321.63L397.61 319.88L397.71 327.16L397.81 330.93L397.91 320.79L398 320.19L398.1 331.28L398.2 324.73L398.3 327.99L398.4 323.23L398.49 326L398.59 321.92L398.69 322.43L398.79 329.76L398.89 325.2L398.99 330.35L399.08 330.8L399.18 324.52L399.28 327.59L399.38 322.54L399.48 322.4L399.58 323.6L399.67 327.24L399.77 330.74L399.87 328.85L399.97 332.07L400.07 327.17L400.16 324.47L400.26 331.86L400.36 323.17L400.46 332.21L400.56 323.27L400.66 329.43L400.75 329.94L400.85 324.08L400.95 328.15L401.05 328.27L401.15 324.46L401.24 324.15L401.34 332.13L401.44 326.99L401.54 331.65L401.64 327.91L401.74 329.28L401.83 326.59L401.93 327.04L402.03 327.64L402.13 326.43L402.23 329.28L402.33 330.32L402.42 332.06L402.52 329.7L402.62 327.61L402.72 332.35L402.82 330.76L402.91 326.32L403.01 330.37L403.11 326.77L403.21 328.36L403.31 331.53L403.41 331.24L403.5 328.07L403.6 328.77L403.7 331.28L403.8 330.03L403.9 329.02L404 329.28L404.09 328.44L404.19 330.91L404.29 328.02L404.39 329.8L404.49 330.2L404.58 328.09L404.68 330.27L404.78 330.73L404.88 333.38L404.98 333.4L405.08 328.96L405.17 331.05L405.27 331.82L405.37 333.07L405.47 333.13L405.57 332.01L405.66 331.63L405.76 330.79L405.86 333.51L405.96 333.17L406.06 332.44L406.16 334.01L406.25 331.45L406.35 330.21L406.45 329.96L406.55 331.34L406.65 333.35L406.75 330.05L406.84 331.65L406.94 330.6L407.04 333.68L407.14 334.25L407.24 333.94L407.33 334.43L407.43 332.1L407.53 332.25L407.63 330.66L407.73 331.75L407.83 332.4L407.92 334.6L408.02 330.7L408.12 332.69L408.22 334.56L408.32 332.13L408.42 330.88L408.51 334.52L408.61 331.95L408.71 332.42L408.81 334.82L408.91 333.79L409 334.37L409.1 332.96L409.2 332.98L409.3 333.7L409.4 332.17L409.5 331.66L409.59 334.88L409.69 333.48L409.79 334.09L409.89 333.02L409.99 333.63L410.08 332.37L410.18 333.6L410.28 334.49L410.38 332.31L410.48 334.12L410.58 333.71L410.67 332.4L410.77 333.85L410.87 334.67L410.97 333.76L411.07 334.81L411.17 333.39L411.26 335.19L411.36 334.68L411.46 332.62L411.56 333.41L411.66 333.88L411.75 332.51L411.85 334.97L411.95 334.55L412.05 334.57L412.15 333.12L412.25 334.26L412.34 335.33L412.44 334.48L412.54 335.3L412.64 335.14L412.74 334.36L412.84 332.99L412.93 334.6L413.03 333.92L413.13 334.26L413.23 334.26L413.33 333.39L413.42 335.16L413.52 335.29L413.62 335.06L413.72 334.72L413.82 334.91L413.92 335.08L414.01 335.16L414.11 334.08L414.21 334.74L414.31 334.03L414.41 335.24L414.5 334.81L414.6 335.21L414.7 333.55L414.8 335.02L414.9 334.95L415 335.42L415.09 334.28L415.19 335.05L415.29 334L415.39 334.75L415.49 334.22L415.59 334.43L415.68 333.41L415.78 335.16L415.88 333.62L415.98 335.32L416.08 334.4L416.17 334.08L416.27 335.77L416.37 335.05L416.47 334.8L416.57 335.45L416.67 333.96L416.76 335.57L416.86 334.8L416.96 335.39L417.06 334.11L417.16 334.15L417.26 333.93L417.35 334.59L417.45 334.4L417.55 333.68L417.65 334.89L417.75 333.6L417.84 335.21L417.94 334.91L418.04 333.79L418.14 335.71L418.24 334.87L418.34 334.22L418.43 334.54L418.53 335.89L418.63 335.06L418.73 334.01L418.83 334.93L418.92 335.2L419.02 335.39L419.12 334.23L419.22 335.88L419.32 334.23L419.42 335.34L419.51 334.89L419.61 334.1L419.71 334.17L419.81 334.26L419.91 335.63L420.01 335.72L420.1 334.06L420.2 334.77L420.3 335.41L420.4 335.15L420.5 335.19L420.59 334.19L420.69 334.36L420.79 335.09L420.89 334.4L420.99 334.28L421.09 335.45L421.18 335.63L421.28 334.91L421.38 335.92L421.48 334.46L421.58 335.29L421.68 335.14L421.77 334.12L421.87 335.54L421.97 335.77L422.07 334.14L422.17 336L422.26 334.07L422.36 334.79L422.46 335.9L422.56 334.37L422.66 335.44L422.76 335.26L422.95 334.11L423.15 335.81L423.34 335.28L423.54 334.08L423.74 334.99L423.93 334.8L424.13 335.88L424.33 333.98L424.52 334.69L424.72 334.25L424.92 335.72L425.11 335.65L425.31 335.41L425.51 334.43L425.7 335.8L425.9 334.15L426.1 334.24L426.29 335.21L426.49 335.16L426.68 334.74L426.88 334.83L427.08 335.55L427.27 335.09L427.47 335.65L427.67 334.1L427.86 335.48L428.06 334.34L428.26 334.94L428.45 334.99L428.65 335.18L428.85 334.35L429.04 335.09L429.24 335.55L429.43 335.15L429.63 335.65L429.83 335.28L430.02 335.36L430.22 334.24L430.42 335.03L430.61 334.57L430.81 335.71L431.01 335.25L431.2 334.52L431.4 334.79L431.6 334.28L431.79 335.13L431.99 334.43L432.18 335.46L432.38 334.91L432.58 334.96L432.77 335.05L432.97 334.38L433.17 334.34L433.36 334.84L433.56 334.35L433.76 335.27L433.95 335.2L434.15 334.3L434.35 335.24L434.54 334.29L434.74 335.6L434.94 335.28L435.13 334.8L435.33 334.45L435.52 335.67L435.72 335.41L435.92 335.66L436.11 335.44L436.31 334.96L436.51 335.36L436.7 335.53L436.9 334.74L437.1 335.5L437.29 334.32L437.49 334.48L437.69 334.43L437.88 334.39L438.08 334.4L438.27 334.46L438.47 335.32L438.67 335.69L438.86 335.57L439.06 335.7L439.26 335.2L439.45 335.09L439.65 334.69L439.85 335.14L440.04 335.58L440.24 335.13L440.44 334.74L440.63 334.85L440.83 335.67L441.02 335.11L441.22 334.69L441.42 335.46L441.61 335.2L441.81 334.59L442.01 334.51L442.2 335.3L442.4 335.6L442.6 335.38L442.79 334.62L442.99 334.65L443.19 335.5L443.38 335.23L443.58 335.11L443.78 335.02L443.97 335.22L444.17 335.65L444.36 335.16L444.56 334.94L444.76 334.42L444.95 335.7L445.15 334.58L445.35 335.13L445.54 335.42L445.74 334.59L445.94 335.7L446.13 335.42L446.33 335.07L446.53 335.27L446.72 334.66L446.92 335.67L447.11 334.98L447.31 335.57L447.51 335.67L447.7 335.41L447.9 335.57L448.1 335.54L448.29 335.19L448.49 334.32L448.69 334.34L448.88 335.36L449.08 335.38L449.28 335.16L449.47 335.45L449.67 334.67L449.86 335.05L450.06 334.85L450.26 335.11L450.45 335.41L450.65 335.52L450.85 335.49L451.04 335.17L451.24 335.04L451.44 335.67L451.63 335.13L451.83 335.39L452.03 334.76L452.22 334.41L452.42 335.12L452.62 335.63L452.81 334.92L453.01 334.9L453.2 335.14L453.4 334.94L453.6 334.56L453.79 335.39L453.99 335.21L454.19 334.68L454.38 335.63L454.58 334.77L454.78 335.48L454.97 335.33L455.17 334.6L455.37 334.65L455.56 335.15L455.76 334.7L455.95 335.48L456.15 334.88L456.35 334.95L456.54 334.43L456.74 334.53L456.94 335L457.13 335.39L457.33 335.48L457.53 334.41L457.72 335.58L457.92 335.35L458.12 334.95L458.31 335.65L458.51 334.44L458.7 334.77L458.9 334.54L459.1 335.1L459.29 334.81L459.49 335.71L459.69 334.59L459.88 334.55L460.08 335.05L460.28 334.82L460.47 335.43L460.67 335.33L460.87 335.18L461.06 334.68L461.26 334.41L461.46 335.48L461.65 334.43L461.85 334.81L462.04 335.53L462.24 334.65L462.44 335.33L462.63 335.68L462.83 335.17L463.03 335.58L463.22 334.5L463.42 335.47L463.62 335.4L463.81 335.63L464.01 335.07L464.21 335.04L464.4 335.42L464.6 334.76L464.79 334.47L464.99 335.52L465.19 335.38L465.38 335.46L465.58 335.16L465.78 335.14L465.97 335.25L466.17 334.98L466.37 334.5L466.56 334.96L466.76 335.57L466.96 335.05L467.15 335.01L467.35 335.06L467.54 335.39L467.74 335.22L467.94 335.29L468.13 334.94L468.33 334.4L468.53 335.13L468.72 335.26L468.92 335.65L469.12 335.55L469.31 335.4L469.51 334.99L469.71 334.88L469.9 335.21L470.1 334.63L470.3 334.41L470.49 335.25L470.69 334.59L470.88 335.04L471.08 335.42L471.28 335.55L471.47 335.08L471.67 334.83L471.87 335.22L472.06 334.85L472.26 334.77L472.46 335.68L472.65 335.24L472.85 334.88L473.05 334.66L473.24 335.57L473.44 334.87L473.63 335.3L473.83 334.46L474.03 335.01L474.22 334.44L474.42 334.67L474.62 335.03L474.81 335.32L475.01 335.39L475.21 335.39L475.4 335.6L475.6 334.42L475.8 334.64L475.99 334.87L476.19 335.56L476.38 334.48L476.58 335.05L476.78 334.92L476.97 335.45L477.17 334.53L477.37 335.7L477.56 335.2L477.76 335.18L477.96 334.48L478.15 334.99L478.35 335.01L478.55 335.17L478.74 334.86L478.94 335.72L479.14 334.59L479.33 334.54L479.53 335.13L479.72 335.15L479.92 335.06L480.12 334.99L480.31 334.68L480.51 334.72L480.71 335.29L480.9 335.47L481.1 334.51L481.3 335.54L481.49 334.75L481.69 335.05L481.89 335.41L482.08 335.42L482.28 335.56L482.47 334.98L482.67 335.03L482.87 335.63L483.06 335.03L483.26 335.59L483.46 334.5L483.65 334.62L483.85 335.44L484.05 334.89L484.24 335.19L484.44 335.57L484.64 334.93L484.83 334.49L485.03 334.83L485.22 334.51L485.42 334.95L485.62 334.73L485.81 335.6L486.01 335.66L486.21 335.57L486.4 334.76L486.6 334.58L486.8 335.52L486.99 335.17L487.19 334.63L487.39 334.86L487.58 335.23L487.78 334.52L487.98 334.74L488.17 335.69L488.37 334.98L488.56 335.08L488.76 334.99L488.96 335.03L489.15 334.72L489.35 334.74L489.55 335.62L489.74 334.58L489.94 335.14L490.14 334.75L490.33 335.48L490.53 335.28L490.73 335.19L490.92 334.46L491.12 334.53L491.31 334.83L491.51 335.36L491.71 335.22L491.9 335.48L492.1 334.71L492.3 334.95L492.49 334.78L492.69 335.23L492.89 335.74L493.08 335.31L493.28 335.4L493.48 335.27L493.67 335.35L493.87 335.32L494.06 334.64L494.26 335.71L494.46 335.32L494.65 335.04L494.85 335.38L495.05 334.91L495.24 334.8L495.44 335.3L495.64 334.86L495.83 335.37L496.03 335.2L496.23 334.71L496.42 335.62L496.62 335.06L496.82 335.12L497.01 334.78L497.21 335.47L497.4 334.91L497.6 335.06L497.8 334.64L497.99 334.63L498.19 334.71L498.39 335.06L498.58 335.4L498.78 334.7L498.98 335.23L499.17 335.35L499.37 335.32L499.57 334.61L499.76 335.58L499.96 334.65L500.15 334.89L500.35 334.77L500.55 334.94L500.74 334.67L500.94 335.71L501.14 335.1L501.33 334.85L501.53 335.38L501.73 334.59L501.92 335.6L502.12 335.21L502.32 335.55L502.51 334.92L502.71 334.73L502.9 335.54L503.1 334.63L503.3 335.17L503.49 334.64L503.69 335.04L503.89 334.81L504.08 335.35L504.28 335.23L504.48 335.26L504.67 334.58L504.87 335.43L505.07 334.79L505.26 334.87L505.46 334.56L505.66 334.67L505.85 335.02L506.05 335.72L506.24 334.54L506.44 334.64L506.64 334.91L506.83 335.32L507.03 335.71L507.23 334.99L507.42 334.57L507.62 335.49L507.82 335.57L508.01 335.38L508.21 334.63L508.41 334.67L508.6 334.55L508.8 334.9L508.99 335.01L509.19 335.03L509.39 335.08L509.58 335.15L509.78 334.65L509.98 335.58L510.17 334.71L510.37 335.15L510.57 334.76L510.76 334.63L510.96 335.5L511.16 335.67L511.35 334.7L511.55 335.72L511.74 335.02L511.94 335.56L512.14 335.24L512.33 334.91L512.53 334.66L512.73 334.8L512.92 335.24L513.12 334.66L513.32 334.94L513.51 334.73L513.71 334.97L513.91 335.72L514.1 334.66L514.3 335.11L514.5 335.07L514.69 334.79L514.89 334.55L515.08 335.17L515.28 335.09L515.48 335.04L515.67 335.28L515.87 335.6L516.07 334.7L516.26 335.49L516.46 335.61L516.66 335.69L516.85 334.81L517.05 335.14L517.25 334.86L517.44 335.01L517.64 334.89L517.83 334.73L518.03 335.73L518.23 335.39L518.42 335.41L518.62 335.25L518.82 335.66L519.01 334.62L519.21 335.34L519.41 334.96L519.6 335.63L519.8 334.99L520 334.93L520.19 335.69L520.39 335.62L520.58 335.2L520.78 334.8L520.98 335.55L521.17 335.11L521.37 335.71L521.57 335.08L521.76 334.56L521.96 335.53L522.16 335.1L522.35 335.2L522.55 335.62L522.75 335.58L522.94 334.96L523.14 335.27L523.34 335L523.53 335.41L523.73 335.31L523.92 335.51L524.12 334.82L524.32 334.61L524.51 334.62L524.71 335.35L524.91 335.58L525.1 334.54L525.3 334.54L525.5 335.24L525.69 334.82L525.89 334.93L526.09 334.56L526.28 334.89L526.48 335.65L526.67 335.19L526.87 335.71L527.07 334.7L527.26 334.81L527.46 335.59L527.66 335.16L527.85 334.76L528.05 335.3L528.25 335.07L528.44 335.68L528.64 335.07L528.84 335.69L529.03 334.59L529.23 334.65L529.42 335.17L529.62 334.53L529.82 335.47L530.01 334.51L530.21 334.93L530.41 335.19L530.6 334.57L530.8 334.66"/><path d="M354 270.63L354.1 246.08L354.2 257.7L354.29 255.64L354.39 250.18L354.49 248.65L354.59 256.03L354.69 281.31L354.79 265.9L354.88 263.55L354.98 281.06L355.08 264.17L355.18 279.39L355.28 270.17L355.38 279.87L355.47 274.51L355.57 255.3L355.67 258.8L355.77 261.88L355.87 247.51L355.96 261.52L356.06 250.01L356.16 261.76L356.26 273.8L356.36 221.79L356.46 256.9L356.55 277.16L356.65 249.21L356.75 275.75L356.85 227.82L356.95 260.02L357.04 262.1L357.14 235.42L357.24 259.47L357.34 256.26L357.44 265.53L357.54 250.25L357.63 281.17L357.73 246.17L357.83 250.03L357.93 278.34L358.03 286.29L358.13 260.51L358.22 270.49L358.32 248.5L358.42 264.38L358.52 262.05L358.62 251.37L358.71 285.02L358.81 248.31L358.91 247.34L359.01 278.55L359.11 259.51L359.21 248.61L359.3 272.65L359.4 273.88L359.5 257.74L359.6 256.61L359.7 251.26L359.8 279.72L359.89 268.46L359.99 274.75L360.09 285.66L360.19 267.08L360.29 260.47L360.38 260.13L360.48 277.16L360.58 283.53L360.68 275.29L360.78 265.48L360.88 252.44L360.97 254.83L361.07 258.25L361.17 251.76L361.27 244.49L361.37 266.34L361.46 279.59L361.56 288.58L361.66 290.69L361.76 275.35L361.86 263.44L361.96 252.46L362.05 273.49L362.15 241.58L362.25 270.39L362.35 270.9L362.45 254L362.55 266.39L362.64 259.1L362.74 254.76L362.84 290.3L362.94 264.55L363.04 265.28L363.13 287.75L363.23 268.67L363.33 288.47L363.43 259.17L363.53 253.03L363.63 252.67L363.72 277.68L363.82 264.8L363.92 271.56L364.02 291.34L364.12 255.52L364.22 289.63L364.31 269.83L364.41 260.64L364.51 264.12L364.61 269.12L364.71 290.28L364.8 275.32L364.9 258.04L365 229.94L365.1 295.17L365.2 293.46L365.3 279.02L365.39 270.61L365.49 274.85L365.59 268.98L365.69 251.77L365.79 294.12L365.88 227.11L365.98 298.17L366.08 284.63L366.18 292.8L366.28 272.83L366.38 252.23L366.47 275.73L366.57 264.83L366.67 259.22L366.77 258.26L366.87 280.08L366.97 291.4L367.06 258.07L367.16 254.54L367.26 294.76L367.36 273.17L367.46 262.57L367.55 273.75L367.65 291.32L367.75 296.73L367.85 285.47L367.95 278.64L368.05 292.92L368.14 269.37L368.24 284.53L368.34 252.67L368.44 252.34L368.54 287.35L368.64 281.39L368.73 280.85L368.83 282.95L368.93 275.14L369.03 298.44L369.13 255.18L369.22 285.58L369.32 297.28L369.42 260.82L369.52 289.35L369.62 292.79L369.72 280.74L369.81 268.37L369.91 298.19L370.01 255.79L370.11 265.75L370.21 255.93L370.3 272.66L370.4 270.12L370.5 257.08L370.6 269.61L370.7 257.99L370.8 293.33L370.89 291.3L370.99 287.86L371.09 228.53L371.19 257.31L371.29 258.72L371.39 261.02L371.48 263L371.58 279.16L371.68 242.15L371.78 264.46L371.88 294.23L371.97 270.11L372.07 265.45L372.17 268.69L372.27 258.48L372.37 297.57L372.47 276L372.56 286.27L372.66 281.25L372.76 278.6L372.86 297.78L372.96 303.02L373.06 263.48L373.15 267.93L373.25 254.01L373.35 275.22L373.45 293.19L373.55 283.47L373.64 287.42L373.74 242.12L373.84 268.01L373.94 295.62L374.04 303.01L374.14 258.91L374.23 269.58L374.33 274.51L374.43 265.41L374.53 268.74L374.63 252.93L374.72 300.93L374.82 273.41L374.92 272.39L375.02 263.43L375.12 281.61L375.22 244.81L375.31 289.34L375.41 261.31L375.51 301.14L375.61 267.96L375.71 279.45L375.81 269.39L375.9 257L376 270.69L376.1 279.83L376.2 297.83L376.3 292.36L376.39 294.35L376.49 299.34L376.59 293.17L376.69 279.56L376.79 297.9L376.89 290.08L376.98 280.69L377.08 276.05L377.18 267.68L377.28 291.62L377.38 286.6L377.48 286.36L377.57 286.18L377.67 289.33L377.77 278.29L377.87 286.25L377.97 296.37L378.06 276.34L378.16 308.24L378.26 286.21L378.36 286.03L378.46 289.04L378.56 283.28L378.65 277.22L378.75 290.61L378.85 299.76L378.95 288.77L379.05 269.68L379.14 296.26L379.24 311.68L379.34 300.91L379.44 290.3L379.54 284.05L379.64 285.6L379.73 293.5L379.83 313.57L379.93 285.75L380.03 285.55L380.13 300.73L380.23 285.81L380.32 311.4L380.42 315.73L380.52 306.18L380.62 290.07L380.72 303L380.81 315.5L380.91 302.35L381.01 305.63L381.11 290.16L381.21 271.05L381.31 291.48L381.4 307L381.5 298.11L381.6 314.96L381.7 290.92L381.8 308.54L381.9 298.57L381.99 300.83L382.09 301.79L382.19 308.61L382.29 303.16L382.39 299.43L382.48 304L382.58 290.53L382.68 307.83L382.78 296.9L382.88 304.02L382.98 318.99L383.07 312.46L383.17 293.08L383.27 302.49L383.37 300.51L383.47 310.34L383.56 283.16L383.66 302.21L383.76 283.28L383.86 289.27L383.96 303.22L384.06 283.5L384.15 300.79L384.25 303.49L384.35 319.81L384.45 314.74L384.55 317.99L384.65 296.48L384.74 290.06L384.84 321.67L384.94 280.5L385.04 297.52L385.14 317.65L385.23 302.26L385.33 306.34L385.43 310.81L385.53 284.15L385.63 282.71L385.73 290.04L385.82 286.17L385.92 296.57L386.02 317.69L386.12 321.3L386.22 318.22L386.32 299.12L386.41 291.92L386.51 295.5L386.61 314.87L386.71 306.97L386.81 322.24L386.9 314.11L387 300.27L387.1 318.93L387.2 320.35L387.3 311.55L387.4 297.71L387.49 323.48L387.59 307.01L387.69 312.66L387.79 321.02L387.89 320.41L387.98 300.59L388.08 312.01L388.18 309.36L388.28 298.34L388.38 316.99L388.48 313.9L388.57 315.06L388.67 291.51L388.77 296.82L388.87 308.98L388.97 320.73L389.07 301.67L389.16 304.5L389.26 295.78L389.36 301.89L389.46 309.61L389.56 323.54L389.65 315.85L389.75 317.46L389.85 305.26L389.95 301.27L390.05 296.73L390.15 324.42L390.24 313.03L390.34 307.4L390.44 302.49L390.54 303.44L390.64 320.4L390.74 321.83L390.83 300.58L390.93 314.18L391.03 309.12L391.13 325.25L391.23 302.41L391.32 316.47L391.42 306.79L391.52 324.13L391.62 306.66L391.72 318.49L391.82 321.24L391.91 316.14L392.01 300.55L392.11 311.04L392.21 326.38L392.31 325.12L392.4 306.35L392.5 314.52L392.6 317.02L392.7 304.23L392.8 303.52L392.9 303.4L392.99 325.84L393.09 318.59L393.19 306.15L393.29 309.41L393.39 321.66L393.49 307.29L393.58 306.36L393.68 305.99L393.78 310.26L393.88 326.28L393.98 326.04L394.07 308.25L394.17 318.88L394.27 320.26L394.37 312.37L394.47 315.46L394.57 320.97L394.66 319.71L394.76 319.7L394.86 308.71L394.96 324.88L395.06 318.8L395.16 318.92L395.25 311.23L395.35 315.13L395.45 312.98L395.55 319.4L395.65 322.18L395.74 322.98L395.84 310.56L395.94 324.94L396.04 313.49L396.14 326.5L396.24 323.34L396.33 323.31L396.43 311.8L396.53 316.05L396.63 319.17L396.73 312.09L396.82 325.55L396.92 315.82L397.02 318.66L397.12 319.41L397.22 323.15L397.32 321.51L397.41 325.45L397.51 326.5L397.61 318.06L397.71 315.25L397.81 324.99L397.91 321.03L398 318.95L398.1 317.62L398.2 324.29L398.3 322.39L398.4 321.74L398.49 315.53L398.59 325.1L398.69 317.51L398.79 318.16L398.89 324.14L398.99 320.37L399.08 322.73L399.18 326.25L399.28 323.43L399.38 326.32L399.48 320.36L399.58 319.03L399.67 326.52L399.77 323.28L399.87 318.55L399.97 321.44L400.07 318.63L400.16 327.04L400.26 321.81L400.36 318.44L400.46 325.63L400.56 320.5L400.66 324.9L400.75 320.68L400.85 323.96L400.95 323.16L401.05 321.64L401.15 323.33L401.24 320.3L401.34 324.1L401.44 326.43L401.54 324.75L401.64 322.94L401.74 324.97L401.83 323.23L401.93 327.88L402.03 327.61L402.13 321.96L402.23 324.71L402.33 326.74L402.42 324.06L402.52 327.95L402.62 327.62L402.72 325.3L402.82 326.22L402.91 326.42L403.01 327.79L403.11 325.45L403.21 326.52L403.31 324.11L403.41 323.05L403.5 324.03L403.6 328.01L403.7 325.89L403.8 327.95L403.9 327.01L404 325.31L404.09 328.74L404.19 328.43L404.29 323.51L404.39 327.34L404.49 323.92L404.58 329.31L404.68 328.08L404.78 328.7L404.88 325.55L404.98 328.57L405.08 329.14L405.17 324.95L405.27 325.88L405.37 327.6L405.47 326.42L405.57 325.09L405.66 326.46L405.76 325.75L405.86 329.44L405.96 326.7L406.06 330.45L406.16 326L406.25 325.67L406.35 327.19L406.45 327.38L406.55 329.53L406.65 326.33L406.75 327.55L406.84 325.93L406.94 326.13L407.04 329.93L407.14 328.8L407.24 330.82L407.33 327.42L407.43 330.66L407.53 328.79L407.63 330.58L407.73 328.28L407.83 330.06L407.92 330.5L408.02 329.48L408.12 330.53L408.22 328.21L408.32 330.22L408.42 327.66L408.51 330.97L408.61 330.64L408.71 329.54L408.81 327.43L408.91 327.44L409 330.98L409.1 329.28L409.2 328.54L409.3 329.42L409.4 329.94L409.5 327.84L409.59 331.4L409.69 329.18L409.79 331.54L409.89 328.15L409.99 328.22L410.08 328.59L410.18 330.16L410.28 330.72L410.38 330.01L410.48 330.02L410.58 330.45L410.67 330.65L410.77 329.1L410.87 331.35L410.97 331.03L411.07 331.14L411.17 330.62L411.26 330.65L411.36 330.08L411.46 330.8L411.56 329.1L411.66 330.28L411.75 331.45L411.85 329.17L411.95 330.46L412.05 329.63L412.15 331.6L412.25 331.45L412.34 331.13L412.44 330.67L412.54 331.61L412.64 329.89L412.74 331.98L412.84 331.12L412.93 330.71L413.03 330.08L413.13 330.49L413.23 331.6L413.33 330.64L413.42 331.09L413.52 332.19L413.62 332.89L413.72 330.54L413.82 331.86L413.92 331.57L414.01 332.35L414.11 330.51L414.21 330.8L414.31 332.89L414.41 331.84L414.5 333L414.6 332.36L414.7 332.31L414.8 331.12L414.9 330.91L415 332.86L415.09 333.18L415.19 332.95L415.29 332.58L415.39 333.65L415.49 332.71L415.59 332.91L415.68 332.53L415.78 332.28L415.88 333.01L415.98 332.97L416.08 333.89L416.17 332.59L416.27 333.65L416.37 333.58L416.47 332.97L416.57 332.6L416.67 333.06L416.76 332.98L416.86 332.83L416.96 333.89L417.06 334.02L417.16 332.76L417.26 333.08L417.35 333.59L417.45 332.85L417.55 334.32L417.65 333.69L417.75 334.68L417.84 333.84L417.94 333.09L418.04 333.56L418.14 332.91L418.24 334.7L418.34 333.42L418.43 333.49L418.53 333.8L418.63 333.37L418.73 334.33L418.83 333.49L418.92 333.04L419.02 334.86L419.12 334.81L419.22 334.33L419.32 333.82L419.42 332.94L419.51 333.59L419.61 333.09L419.71 334.21L419.81 333.44L419.91 332.9L420.01 333.3L420.1 334.78L420.2 334.29L420.3 334.66L420.4 333.27L420.5 333.62L420.59 334.87L420.69 333.92L420.79 333.63L420.89 333.62L420.99 333.39L421.09 333.46L421.18 333.41L421.28 334.1L421.38 333.89L421.48 334.04L421.58 335.01L421.68 334.81L421.77 333.71L421.87 334.72L421.97 334.85L422.07 334.76L422.17 333.75L422.26 334.75L422.36 335.46L422.46 334.29L422.56 334.15L422.66 334.02L422.76 334.31L422.95 335.49L423.15 335.45L423.34 334.71L423.54 333.73L423.74 334.02L423.93 334.67L424.13 335.43L424.33 334.39L424.52 334.64L424.72 335.95L424.92 335.94L425.11 334.62L425.31 334.33L425.51 334.66L425.7 335.59L425.9 335.93L426.1 335.91L426.29 335.42L426.49 334.54L426.68 335.66L426.88 335.22L427.08 336.2L427.27 336.19L427.47 335.65L427.67 335.78L427.86 336L428.06 335.41L428.26 336.25L428.45 336.24L428.65 336.04L428.85 335.55L429.04 336.13L429.24 336.53L429.43 335.15L429.63 335.85L429.83 336.22L430.02 336.22L430.22 336.79L430.42 335.87L430.61 336.72L430.81 335.59L431.01 335.79L431.2 336.33L431.4 335.72L431.6 336.39L431.79 336.12L431.99 335.86L432.18 336.59L432.38 336.2L432.58 336.04L432.77 335.77L432.97 335.46L433.17 336.44L433.36 335.89L433.56 336.77L433.76 336.26L433.95 336.29L434.15 336.44L434.35 336.21L434.54 336.54L434.74 336.75L434.94 336.11L435.13 336.41L435.33 335.78L435.52 335.69L435.72 335.79L435.92 336.69L436.11 336.53L436.31 336.69L436.51 336.6L436.7 336.75L436.9 336.76L437.1 337.02L437.29 335.71L437.49 336.11L437.69 336.78L437.88 336L438.08 336.52L438.27 336.37L438.47 336.24L438.67 336.05L438.86 337.06L439.06 336.11L439.26 336.67L439.45 337.19L439.65 336.63L439.85 336.24L440.04 336.78L440.24 336.3L440.44 337.17L440.63 336.28L440.83 336.41L441.02 337.28L441.22 337.04L441.42 337.19L441.61 336.11L441.81 336.49L442.01 336.32L442.2 337.17L442.4 337.09L442.6 336.04L442.79 337.28L442.99 337.06L443.19 336.45L443.38 336.6L443.58 336.55L443.78 336.41L443.97 336.18L444.17 336.78L444.36 336.51L444.56 337.13L444.76 336.05L444.95 336.08L445.15 337.22L445.35 336.93L445.54 337.17L445.74 336.57L445.94 337.15L446.13 336.5L446.33 336.79L446.53 337.17L446.72 337.3L446.92 337.04L447.11 336.48L447.31 337.15L447.51 336.81L447.7 336.82L447.9 336.6L448.1 335.95L448.29 336.05L448.49 336.46L448.69 335.94L448.88 337.18L449.08 336.42L449.28 336.18L449.47 337.29L449.67 335.99L449.86 336.36L450.06 335.99L450.26 336.98L450.45 337.09L450.65 336.37L450.85 337.09L451.04 336.51L451.24 336.87L451.44 337.1L451.63 337.04L451.83 336.09L452.03 337.1L452.22 337.18L452.42 336.76L452.62 337.01L452.81 336.58L453.01 336.29L453.2 336.02L453.4 336.38L453.6 336.89L453.79 336.95L453.99 336.71L454.19 336.91L454.38 336.54L454.58 336.7L454.78 336.11L454.97 336.24L455.17 336.47L455.37 335.99L455.56 336.08L455.76 336.94L455.95 336.13L456.15 336.07L456.35 336.25L456.54 336.06L456.74 337.25L456.94 336.02L457.13 336.41L457.33 337.06L457.53 336.29L457.72 336.09L457.92 336.51L458.12 336.01L458.31 336.38L458.51 336.51L458.7 336.16L458.9 335.99L459.1 336.18L459.29 336.56L459.49 336.37L459.69 336.98L459.88 337.06L460.08 337.16L460.28 336.81L460.47 336.25L460.67 336.41L460.87 336.22L461.06 336.93L461.26 336.88L461.46 336.12L461.65 337.15L461.85 336.09L462.04 336.19L462.24 336.87L462.44 336.19L462.63 336.03L462.83 336.53L463.03 336.26L463.22 337.13L463.42 336.02L463.62 337.26L463.81 336.45L464.01 336.29L464.21 336.33L464.4 336.99L464.6 336.49L464.79 337.04L464.99 336.96L465.19 336.29L465.38 336.2L465.58 337.03L465.78 336.23L465.97 336.54L466.17 336.68L466.37 336.81L466.56 336.46L466.76 336.52L466.96 337.14L467.15 336.06L467.35 336.15L467.54 336.44L467.74 336.54L467.94 336.17L468.13 336.52L468.33 336.38L468.53 336.78L468.72 337.12L468.92 336.06L469.12 336.04L469.31 336.34L469.51 336.34L469.71 337.2L469.9 336.28L470.1 336.23L470.3 336.89L470.49 336.87L470.69 337.25L470.88 336.65L471.08 336.07L471.28 336.21L471.47 336.67L471.67 336.07L471.87 336.53L472.06 337.1L472.26 336.79L472.46 336.21L472.65 336.5L472.85 337.09L473.05 337.04L473.24 336.41L473.44 336.61L473.63 337.01L473.83 337.04L474.03 337.15L474.22 336.16L474.42 336.27L474.62 336.24L474.81 336.35L475.01 337.23L475.21 337.22L475.4 336.37L475.6 336.48L475.8 336.21L475.99 336.29L476.19 336.75L476.38 336.49L476.58 336.05L476.78 337.26L476.97 336.49L477.17 336.62L477.37 336.66L477.56 336.45L477.76 336.78L477.96 337.14L478.15 336.34L478.35 336.07L478.55 336.68L478.74 336.17L478.94 336.2L479.14 336.58L479.33 336.17L479.53 336.87L479.72 336.83L479.92 336.67L480.12 336.71L480.31 337.13L480.51 337.19L480.71 336.52L480.9 337.04L481.1 336.63L481.3 336.87L481.49 336.78L481.69 336.85L481.89 336.11L482.08 337.27L482.28 337.17L482.47 337.31L482.67 337.13L482.87 336.52L483.06 336.79L483.26 336.1L483.46 337.08L483.65 336.85L483.85 336.09L484.05 336.67L484.24 336.84L484.44 336.57L484.64 336.07L484.83 336.23L485.03 336.77L485.22 336.22L485.42 336.04L485.62 336.87L485.81 336.88L486.01 336.14L486.21 336.79L486.4 337.23L486.6 336.91L486.8 336.38L486.99 337.05L487.19 336.59L487.39 337.19L487.58 336.75L487.78 336.46L487.98 337.23L488.17 336.57L488.37 337.02L488.56 336.75L488.76 336.44L488.96 337.31L489.15 336.74L489.35 336.61L489.55 336.04L489.74 336.64L489.94 336.18L490.14 336.18L490.33 336.19L490.53 336.65L490.73 337.13L490.92 336.96L491.12 337.21L491.31 337.24L491.51 336.75L491.71 336.4L491.9 336.41L492.1 336.32L492.3 337.07L492.49 337.15L492.69 337.29L492.89 336.68L493.08 336.95L493.28 336.36L493.48 336.35L493.67 336.9L493.87 336.99L494.06 336.67L494.26 336.21L494.46 336.18L494.65 336.38L494.85 336.41L495.05 336.46L495.24 337.29L495.44 336.42L495.64 337.31L495.83 337.3L496.03 337.03L496.23 336.94L496.42 336.34L496.62 336.42L496.82 337.04L497.01 336.07L497.21 337.3L497.4 336.65L497.6 336.27L497.8 337.18L497.99 336.51L498.19 336.97L498.39 336.62L498.58 337.3L498.78 336.37L498.98 336.58L499.17 336.77L499.37 337.12L499.57 337.17L499.76 336.84L499.96 336.84L500.15 336.88L500.35 337.01L500.55 336.74L500.74 336.93L500.94 336.47L501.14 336.84L501.33 337.3L501.53 337.14L501.73 337.32L501.92 336.81L502.12 336.73L502.32 336.94L502.51 336.62L502.71 336.4L502.9 336.74L503.1 336.58L503.3 336.17L503.49 337.33L503.69 337L503.89 337.2L504.08 336.63L504.28 336.28L504.48 336.56L504.67 336.35L504.87 336.82L505.07 336.14L505.26 336.46L505.46 336.26L505.66 337.15L505.85 337.06L506.05 336.44L506.24 337.05L506.44 336.42L506.64 336.63L506.83 336.1L507.03 336.73L507.23 336.67L507.42 336.9L507.62 336.21L507.82 337.09L508.01 337.2L508.21 336.13L508.41 336.12L508.6 336.92L508.8 337.12L508.99 336.83L509.19 337.04L509.39 336.75L509.58 336.52L509.78 336.78L509.98 336.62L510.17 336.87L510.37 336.45L510.57 336.82L510.76 336.98L510.96 336.8L511.16 336.69L511.35 336.5L511.55 336.08L511.74 336.88L511.94 336.64L512.14 337.11L512.33 336.36L512.53 336.36L512.73 336.72L512.92 337.03L513.12 337.17L513.32 336.83L513.51 337.03L513.71 336.26L513.91 336.8L514.1 336.18L514.3 336.29L514.5 336.66L514.69 337.22L514.89 336.43L515.08 336.89L515.28 336.09L515.48 336.54L515.67 336.49L515.87 336.77L516.07 337.25L516.26 337.18L516.46 336.8L516.66 337.07L516.85 337.33L517.05 336.29L517.25 336.79L517.44 336.48L517.64 336.11L517.83 336.44L518.03 336.85L518.23 336.92L518.42 336.97L518.62 336.87L518.82 337.23L519.01 337.22L519.21 336.94L519.41 336.91L519.6 336.34L519.8 337.14L520 336.28L520.19 337.07L520.39 337.32L520.58 336.62L520.78 337L520.98 337.06L521.17 336.6L521.37 337.05L521.57 337.12L521.76 336.38L521.96 336.35L522.16 336.26L522.35 337.01L522.55 336.86L522.75 336.77L522.94 336.99L523.14 336.98L523.34 336.72L523.53 337.19L523.73 336.7L523.92 336.85L524.12 336.13L524.32 336.88L524.51 337.31L524.71 336.63L524.91 336.57L525.1 336.25L525.3 336.55L525.5 337.07L525.69 336.95L525.89 337L526.09 336.46L526.28 336.66L526.48 336.82L526.67 336.36L526.87 336.42L527.07 336.84L527.26 337.14L527.46 337.11L527.66 336.88L527.85 336.93L528.05 337.08L528.25 337.29L528.44 336.64L528.64 336.78L528.84 336.67L529.03 336.17L529.23 336.19L529.42 336.87L529.62 336.92L529.82 336.47L530.01 336.97L530.21 337.06L530.41 336.61L530.6 337.08L530.8 336.71"/><path d="M354 271.49L354.1 265.73L354.2 254.93L354.29 279.37L354.39 243.86L354.49 280.72L354.59 270.9L354.69 269.34L354.79 260.17L354.88 268.65L354.98 251.14L355.08 255.26L355.18 247.26L355.28 282.71L355.38 278.23L355.47 250.34L355.57 251.16L355.67 253.95L355.77 247.85L355.87 248.92L355.96 246.78L356.06 245.89L356.16 270.69L356.26 261.11L356.36 258.67L356.46 286.39L356.55 257.17L356.65 253.25L356.75 285.82L356.85 248.21L356.95 248.65L357.04 280.32L357.14 256.76L357.24 270.56L357.34 259.07L357.44 286.44L357.54 245.74L357.63 284.33L357.73 255.05L357.83 288.5L357.93 259.29L358.03 259.98L358.13 245.73L358.22 252.72L358.32 264.58L358.42 284.83L358.52 288.54L358.62 254.78L358.71 260.51L358.81 269.78L358.91 264.91L359.01 278.47L359.11 252.64L359.21 248.38L359.3 290.91L359.4 260.6L359.5 258.91L359.6 251.07L359.7 253.65L359.8 284.8L359.89 269.29L359.99 261.37L360.09 250.42L360.19 255.94L360.29 284.1L360.38 255.2L360.48 272.51L360.58 264.36L360.68 250.65L360.78 261.31L360.88 280.78L360.97 261.55L361.07 250.76L361.17 276.41L361.27 252.01L361.37 270.65L361.46 294.22L361.56 257.23L361.66 237.93L361.76 293.08L361.86 258.28L361.96 279.63L362.05 262.94L362.15 268.27L362.25 260.36L362.35 270.64L362.45 234.7L362.55 247.18L362.64 294.54L362.74 285.24L362.84 292.54L362.94 259.3L363.04 280.28L363.13 241.23L363.23 259.56L363.33 273.75L363.43 280.2L363.53 295.67L363.63 294.11L363.72 264.17L363.82 245.46L363.92 297.24L364.02 230.13L364.12 289.62L364.22 272.54L364.31 287.22L364.41 294.58L364.51 254.98L364.61 232.96L364.71 258.99L364.8 272.29L364.9 290.67L365 239.48L365.1 253.75L365.2 296.34L365.3 274.59L365.39 297.81L365.49 299.22L365.59 252.38L365.69 289.43L365.79 272.17L365.88 226.94L365.98 252.2L366.08 275.02L366.18 274.77L366.28 260.03L366.38 278.88L366.47 263L366.57 262.24L366.67 263.92L366.77 276.76L366.87 262.45L366.97 297.44L367.06 262.08L367.16 270.09L367.26 272.76L367.36 297.23L367.46 276.2L367.55 263.66L367.65 291.51L367.75 280.04L367.85 252.93L367.95 256.26L368.05 237.76L368.14 298.06L368.24 289.55L368.34 275.45L368.44 262.16L368.54 277.34L368.64 256.25L368.73 271.57L368.83 289.99L368.93 268.59L369.03 265.86L369.13 299.47L369.22 258.74L369.32 254.56L369.42 293.32L369.52 282.47L369.62 238.49L369.72 264.8L369.81 255.47L369.91 266.53L370.01 272.04L370.11 300.21L370.21 253.39L370.3 276.25L370.4 287.11L370.5 278.29L370.6 291.54L370.7 302.71L370.8 265.33L370.89 260.67L370.99 270.58L371.09 297.13L371.19 260.92L371.29 278.57L371.39 248.58L371.48 280.79L371.58 238.79L371.68 267.08L371.78 274.5L371.88 257.1L371.97 280.13L372.07 281.4L372.17 289.93L372.27 295.88L372.37 284.06L372.47 292.4L372.56 303.88L372.66 280.68L372.76 283.56L372.86 268.02L372.96 300.21L373.06 264.19L373.15 272.72L373.25 275.79L373.35 272.6L373.45 299.42L373.55 278.63L373.64 288.99L373.74 294.53L373.84 281.49L373.94 297.04L374.04 279.59L374.14 264.69L374.23 297.03L374.33 302.47L374.43 268.76L374.53 290.35L374.63 278.44L374.72 259.3L374.82 268.55L374.92 290.41L375.02 270.56L375.12 284.96L375.22 285.5L375.31 287.32L375.41 285.65L375.51 295.29L375.61 290.24L375.71 262.72L375.81 272.21L375.9 284.04L376 273.85L376.1 275.59L376.2 285.75L376.3 266.06L376.39 279.52L376.49 246.48L376.59 274.32L376.69 271.45L376.79 277.56L376.89 279.5L376.98 287.61L377.08 270.6L377.18 302.69L377.28 261.92L377.38 273.93L377.48 271.37L377.57 287.6L377.67 283.43L377.77 299.17L377.87 300.09L377.97 282.44L378.06 295.95L378.16 295.85L378.26 297.64L378.36 277.07L378.46 290.76L378.56 305.84L378.65 278.54L378.75 277.84L378.85 313.67L378.95 279.73L379.05 307.23L379.14 309.44L379.24 306.85L379.34 301.86L379.44 308.04L379.54 300.71L379.64 275.69L379.73 288.46L379.83 285.89L379.93 308.3L380.03 299.96L380.13 293.21L380.23 305.84L380.32 304.86L380.42 294.62L380.52 299.11L380.62 315.08L380.72 305.71L380.81 308.86L380.91 302.07L381.01 312.03L381.11 308.29L381.21 308.27L381.31 302.63L381.4 299.52L381.5 317.17L381.6 315.2L381.7 315.05L381.8 310.32L381.9 306.7L381.99 310.98L382.09 301.53L382.19 293.64L382.29 299.99L382.39 298.79L382.48 315.61L382.58 296.35L382.68 305.86L382.78 298.38L382.88 313.35L382.98 310.54L383.07 306.49L383.17 317.17L383.27 302.37L383.37 320.38L383.47 310.53L383.56 316.1L383.66 310.27L383.76 298.84L383.86 320.21L383.96 293.35L384.06 305.08L384.15 285.53L384.25 319.92L384.35 320.99L384.45 303.18L384.55 283.66L384.65 290.17L384.74 281.29L384.84 313.91L384.94 282.56L385.04 321.38L385.14 292.86L385.23 294.4L385.33 315.94L385.43 320.79L385.53 291.2L385.63 296.29L385.73 298.21L385.82 287.26L385.92 314.49L386.02 321.13L386.12 288.15L386.22 316.44L386.32 316.7L386.41 292.78L386.51 309.12L386.61 317.9L386.71 303.56L386.81 302.02L386.9 318.25L387 289.72L387.1 321.45L387.2 321.94L387.3 299.52L387.4 324.12L387.49 308.37L387.59 316.53L387.69 303.29L387.79 321.69L387.89 317.58L387.98 293.13L388.08 300.78L388.18 307.82L388.28 301.85L388.38 320.13L388.48 310.99L388.57 303.27L388.67 323.88L388.77 309.53L388.87 322.26L388.97 317.52L389.07 306.54L389.16 294.55L389.26 295.83L389.36 301.31L389.46 326.64L389.56 301.58L389.65 320.12L389.75 305.07L389.85 322.58L389.95 305.62L390.05 322.98L390.15 302.28L390.24 310.93L390.34 328.22L390.44 309.01L390.54 309.97L390.64 305.43L390.74 309.18L390.83 306.98L390.93 322.04L391.03 303.83L391.13 321.63L391.23 323.33L391.32 304.73L391.42 328.79L391.52 328.74L391.62 307.04L391.72 316.85L391.82 315.53L391.91 316.35L392.01 316.29L392.11 324.48L392.21 315.42L392.31 310.04L392.4 324.97L392.5 326.38L392.6 328.1L392.7 317.99L392.8 325.99L392.9 326.54L392.99 307.48L393.09 310.84L393.19 323.58L393.29 310.02L393.39 320.03L393.49 318.76L393.58 325.9L393.68 323.8L393.78 308.87L393.88 330.27L393.98 329.5L394.07 313.01L394.17 318.31L394.27 321.12L394.37 310.76L394.47 310.71L394.57 326.13L394.66 322.4L394.76 325.51L394.86 324.69L394.96 319.27L395.06 326.04L395.16 326.28L395.25 320.33L395.35 315.43L395.45 323.34L395.55 325.53L395.65 320.32L395.74 322.74L395.84 321.61L395.94 321.15L396.04 320.9L396.14 316.43L396.24 328.61L396.33 325.99L396.43 329.49L396.53 317.13L396.63 330.05L396.73 320.74L396.82 321.32L396.92 324.24L397.02 328.95L397.12 322.8L397.22 325.86L397.32 322.48L397.41 328.28L397.51 329.69L397.61 321.92L397.71 318.94L397.81 324.15L397.91 323.47L398 319.19L398.1 327.7L398.2 320.47L398.3 321.84L398.4 330.91L398.49 322.28L398.59 324.29L398.69 328.88L398.79 321.52L398.89 324.58L398.99 326L399.08 325.85L399.18 321.28L399.28 329.6L399.38 328.75L399.48 326.7L399.58 329.13L399.67 331.95L399.77 330.78L399.87 322.52L399.97 325.84L400.07 326.35L400.16 328.12L400.26 326.92L400.36 323.51L400.46 330.49L400.56 325.83L400.66 330.31L400.75 330.69L400.85 329.08L400.95 327.7L401.05 326.88L401.15 332.3L401.24 330.36L401.34 328.06L401.44 332.59L401.54 328.44L401.64 325.26L401.74 328.31L401.83 332.39L401.93 328.87L402.03 330.82L402.13 327.6L402.23 329.45L402.33 330.6L402.42 333.02L402.52 331.25L402.62 332.71L402.72 331.74L402.82 327.21L402.91 330.6L403.01 326.89L403.11 331.66L403.21 331.7L403.31 330.91L403.41 332.64L403.5 330.13L403.6 332.79L403.7 333.08L403.8 328.12L403.9 331.29L404 329.36L404.09 329.34L404.19 330.96L404.29 331.2L404.39 329.63L404.49 332.27L404.58 332.54L404.68 330.33L404.78 328.96L404.88 332.19L404.98 332.9L405.08 332.27L405.17 330.74L405.27 330.11L405.37 331.85L405.47 333.35L405.57 332.49L405.66 333.68L405.76 333.54L405.86 331.96L405.96 330.82L406.06 330.71L406.16 330.88L406.25 330.72L406.35 334.45L406.45 332.63L406.55 332.87L406.65 331.42L406.75 332.11L406.84 334.5L406.94 331.86L407.04 334.18L407.14 331.51L407.24 333.87L407.33 331.96L407.43 332.58L407.53 331.09L407.63 330.93L407.73 330.91L407.83 332.71L407.92 331.48L408.02 332.41L408.12 333.9L408.22 332.35L408.32 334.57L408.42 331.51L408.51 335.26L408.61 331.5L408.71 334.64L408.81 333.92L408.91 335.19L409 333.47L409.1 333.83L409.2 332.23L409.3 335.01L409.4 332.09L409.5 334.48L409.59 334.82L409.69 335.82L409.79 335.91L409.89 336.01L409.99 334.24L410.08 333.1L410.18 332.88L410.28 332.63L410.38 334.03L410.48 335.35L410.58 333.46L410.67 334.98L410.77 334.14L410.87 335.98L410.97 334.69L411.07 334.13L411.17 336.36L411.26 334.58L411.36 334.19L411.46 336.36L411.56 334.21L411.66 334.13L411.75 335.69L411.85 335.83L411.95 334.58L412.05 333.55L412.15 335.83L412.25 334.25L412.34 336.43L412.44 334.67L412.54 335.61L412.64 334.02L412.74 334.47L412.84 335.82L412.93 335.62L413.03 334.58L413.13 335.96L413.23 335.72L413.33 335.53L413.42 335.4L413.52 335.8L413.62 335.28L413.72 335.69L413.82 334.56L413.92 335.36L414.01 335.92L414.11 335.94L414.21 334.69L414.31 335.68L414.41 336.96L414.5 335.45L414.6 336.21L414.7 335.24L414.8 337.04L414.9 336.14L415 336.94L415.09 336.91L415.19 335.79L415.29 336.98L415.39 337.16L415.49 336.25L415.59 335.92L415.68 335.82L415.78 335.73L415.88 335.17L415.98 334.97L416.08 336.19L416.17 337.25L416.27 336.94L416.37 336.43L416.47 336.88L416.57 335.01L416.67 335.97L416.76 336.59L416.86 336.5L416.96 336.68L417.06 337.48L417.16 336.1L417.26 336.97L417.35 337.17L417.45 337.29L417.55 335.98L417.65 336.59L417.75 335.98L417.84 337.72L417.94 336.62L418.04 336.86L418.14 336.41L418.24 336.91L418.34 337.58L418.43 335.64L418.53 335.76L418.63 337.19L418.73 337.44L418.83 337.08L418.92 337.3L419.02 337.09L419.12 337.14L419.22 337.27L419.32 335.88L419.42 338.13L419.51 337.16L419.61 338.14L419.71 336.31L419.81 336.48L419.91 337.61L420.01 336.37L420.1 337.89L420.2 336.63L420.3 336.01L420.4 337.89L420.5 337.89L420.59 336.38L420.69 336.89L420.79 336.59L420.89 336.55L420.99 336.24L421.09 337.48L421.18 336.89L421.28 337.09L421.38 337.44L421.48 337.31L421.58 336.89L421.68 336.83L421.77 336.47L421.87 336.47L421.97 337.25L422.07 338.2L422.17 337.64L422.26 337.64L422.36 337.4L422.46 338.07L422.56 337.76L422.66 336.71L422.76 337.92L422.95 337.07L423.15 336.59L423.34 337.64L423.54 337.69L423.74 338.29L423.93 336.94L424.13 336.9L424.33 336.87L424.52 338.18L424.72 336.68L424.92 338.21L425.11 336.86L425.31 337.52L425.51 337.44L425.7 337.57L425.9 336.83L426.1 337.8L426.29 337.26L426.49 337.54L426.68 337.66L426.88 336.75L427.08 337.25L427.27 337.11L427.47 338.42L427.67 338.38L427.86 338.45L428.06 337L428.26 338.45L428.45 337.81L428.65 338.52L428.85 337.19L429.04 338.45L429.24 338.09L429.43 337.4L429.63 337.41L429.83 338.39L430.02 337.51L430.22 337.03L430.42 337.19L430.61 337.78L430.81 336.98L431.01 337.68L431.2 337.03L431.4 337.56L431.6 337.57L431.79 337.62L431.99 337.13L432.18 337.71L432.38 337.44L432.58 337.76L432.77 338L432.97 337.92L433.17 337.02L433.36 338.37L433.56 337.39L433.76 338.17L433.95 337.43L434.15 337.72L434.35 337.84L434.54 337.21L434.74 337.02L434.94 338.29L435.13 338.1L435.33 337.96L435.52 338.1L435.72 337.21L435.92 338.17L436.11 337.11L436.31 338.22L436.51 338.33L436.7 337.79L436.9 338L437.1 337.16L437.29 337.91L437.49 338.26L437.69 338.03L437.88 337.7L438.08 337.54L438.27 337.82L438.47 337.3L438.67 337.39L438.86 338.04L439.06 338.11L439.26 337.18L439.45 337.13L439.65 337.63L439.85 337.37L440.04 338.2L440.24 337.87L440.44 337.99L440.63 337.59L440.83 337.87L441.02 338.04L441.22 338.05L441.42 337.3L441.61 338.28L441.81 337.29L442.01 337.45L442.2 337.38L442.4 337.54L442.6 338.16L442.79 337.56L442.99 337.87L443.19 337.93L443.38 338.17L443.58 338.28L443.78 337.4L443.97 337.24L444.17 337.08L444.36 338.15L444.56 337.08L444.76 338.29L444.95 337.56L445.15 337.05L445.35 337.92L445.54 337.5L445.74 338.24L445.94 337.64L446.13 338.25L446.33 338L446.53 337.36L446.72 338.22L446.92 337.72L447.11 338.4L447.31 337.33L447.51 337.17L447.7 337.7L447.9 338.2L448.1 338.01L448.29 337.87L448.49 337.55L448.69 337.35L448.88 338.3L449.08 338.41L449.28 337.54L449.47 338.09L449.67 337.96L449.86 337.48L450.06 337.5L450.26 338.24L450.45 337.53L450.65 337.87L450.85 338.2L451.04 338.14L451.24 338.36L451.44 338.4L451.63 337.79L451.83 338.25L452.03 337.73L452.22 337.97L452.42 338.27L452.62 337.7L452.81 338.36L453.01 337.17L453.2 337.48L453.4 337.08L453.6 338.05L453.79 337.86L453.99 338.29L454.19 337.48L454.38 337.42L454.58 338.31L454.78 337.58L454.97 337.48L455.17 337.68L455.37 338L455.56 337.23L455.76 337.62L455.95 337.81L456.15 337.24L456.35 337.09L456.54 337.61L456.74 337.55L456.94 337.47L457.13 337.2L457.33 337.38L457.53 337.67L457.72 337.82L457.92 337.59L458.12 337.86L458.31 337.87L458.51 338.01L458.7 337.31L458.9 337.82L459.1 337.73L459.29 337.96L459.49 337.33L459.69 337.73L459.88 337.32L460.08 337.32L460.28 338.35L460.47 337.49L460.67 338.31L460.87 337.9L461.06 338.22L461.26 338.39L461.46 337.25L461.65 337.27L461.85 338.11L462.04 337.8L462.24 338.02L462.44 338.03L462.63 337.33L462.83 338.11L463.03 337.43L463.22 338.08L463.42 337.7L463.62 337.97L463.81 337.17L464.01 337.82L464.21 337.71L464.4 337.66L464.6 338.44L464.79 337.26L464.99 337.74L465.19 337.36L465.38 337.46L465.58 337.89L465.78 337.43L465.97 337.23L466.17 337.41L466.37 337.19L466.56 338.17L466.76 338.4L466.96 337.39L467.15 337.14L467.35 337.31L467.54 337.16L467.74 337.27L467.94 338.37L468.13 337.29L468.33 337.93L468.53 337.35L468.72 338.18L468.92 337.91L469.12 337.7L469.31 338L469.51 337.98L469.71 337.25L469.9 337.44L470.1 337.19L470.3 338.4L470.49 338.01L470.69 337.13L470.88 337.14L471.08 337.22L471.28 338.2L471.47 337.86L471.67 337.12L471.87 338.01L472.06 337.96L472.26 337.44L472.46 337.22L472.65 338.11L472.85 337.94L473.05 338.29L473.24 337.55L473.44 337.54L473.63 337.7L473.83 337.37L474.03 337.83L474.22 337.14L474.42 337.6L474.62 338.36L474.81 337.98L475.01 338.36L475.21 337.87L475.4 338.36L475.6 338.26L475.8 337.55L475.99 337.41L476.19 337.93L476.38 337.27L476.58 337.93L476.78 338.07L476.97 337.76L477.17 337.34L477.37 338.31L477.56 337.14L477.76 338.38L477.96 338.07L478.15 338.2L478.35 337.21L478.55 337.82L478.74 337.8L478.94 337.5L479.14 337.15L479.33 338.16L479.53 337.81L479.72 337.57L479.92 337.8L480.12 337.21L480.31 337.53L480.51 337.56L480.71 338.33L480.9 338L481.1 338.39L481.3 338.36L481.49 337.87L481.69 337.24L481.89 337.2L482.08 337.21L482.28 338.38L482.47 337.27L482.67 337.16L482.87 338.13L483.06 337.89L483.26 337.84L483.46 338.13L483.65 338.21L483.85 338.26L484.05 337.43L484.24 337.84L484.44 337.4L484.64 337.2L484.83 337.66L485.03 337.76L485.22 338.04L485.42 338.42L485.62 338.38L485.81 337.16L486.01 338.14L486.21 338.38L486.4 338.38L486.6 337.48L486.8 337.5L486.99 337.35L487.19 337.87L487.39 337.27L487.58 337.16L487.78 337.78L487.98 338.44L488.17 337.19L488.37 337.91L488.56 337.72L488.76 338.01L488.96 337.46L489.15 337.65L489.35 338.33L489.55 338.14L489.74 337.53L489.94 337.98L490.14 337.34L490.33 338.37L490.53 337.35L490.73 338.15L490.92 337.88L491.12 337.61L491.31 338.05L491.51 337.35L491.71 337.36L491.9 337.33L492.1 338.23L492.3 337.87L492.49 338.41L492.69 338.08L492.89 337.6L493.08 337.62L493.28 337.73L493.48 337.84L493.67 337.69L493.87 338.45L494.06 338.44L494.26 337.47L494.46 337.88L494.65 338.24L494.85 337.94L495.05 337.8L495.24 337.6L495.44 337.49L495.64 338.43L495.83 337.7L496.03 337.97L496.23 338.04L496.42 337.35L496.62 337.69L496.82 337.53L497.01 337.87L497.21 337.56L497.4 337.96L497.6 337.8L497.8 338.21L497.99 338.35L498.19 338.47L498.39 338.11L498.58 337.91L498.78 338.37L498.98 337.33L499.17 337.72L499.37 338.13L499.57 337.46L499.76 338.22L499.96 337.65L500.15 337.43L500.35 337.43L500.55 337.58L500.74 337.73L500.94 337.24L501.14 338.42L501.33 338.4L501.53 338.09L501.73 338.1L501.92 337.75L502.12 337.66L502.32 337.33L502.51 338.38L502.71 337.89L502.9 337.39L503.1 337.87L503.3 338.32L503.49 337.95L503.69 338.3L503.89 338.47L504.08 338.1L504.28 338.31L504.48 338.01L504.67 337.37L504.87 337.68L505.07 337.7L505.26 337.21L505.46 337.75L505.66 337.88L505.85 337.54L506.05 337.99L506.24 338.19L506.44 337.84L506.64 337.81L506.83 338.12L507.03 337.46L507.23 338.02L507.42 337.61L507.62 338.4L507.82 337.92L508.01 338.08L508.21 338.24L508.41 338.04L508.6 337.69L508.8 338L508.99 337.31L509.19 337.67L509.39 338.23L509.58 338.2L509.78 337.46L509.98 338.17L510.17 337.35L510.37 338.13L510.57 338.36L510.76 337.86L510.96 337.72L511.16 337.57L511.35 338.3L511.55 337.79L511.74 337.64L511.94 338.26L512.14 338.09L512.33 337.4L512.53 337.26L512.73 338.39L512.92 337.36L513.12 338.17L513.32 337.71L513.51 337.51L513.71 337.56L513.91 337.45L514.1 337.6L514.3 337.44L514.5 337.65L514.69 337.97L514.89 337.41L515.08 337.69L515.28 338.15L515.48 338.48L515.67 337.45L515.87 337.27L516.07 337.55L516.26 337.57L516.46 337.39L516.66 337.31L516.85 337.72L517.05 337.36L517.25 337.83L517.44 337.91L517.64 337.43L517.83 337.47L518.03 337.29L518.23 338.03L518.42 337.49L518.62 337.29L518.82 337.54L519.01 338.26L519.21 338.21L519.41 337.49L519.6 337.84L519.8 338.29L520 337.38L520.19 338.32L520.39 338.45L520.58 338.02L520.78 338.11L520.98 337.38L521.17 338.08L521.37 337.73L521.57 337.35L521.76 338.42L521.96 338.28L522.16 337.6L522.35 337.36L522.55 338.04L522.75 337.34L522.94 337.72L523.14 337.71L523.34 338.31L523.53 337.55L523.73 337.95L523.92 338.3L524.12 338.32L524.32 338.2L524.51 337.89L524.71 338.35L524.91 338.25L525.1 337.53L525.3 337.52L525.5 337.47L525.69 337.72L525.89 337.73L526.09 338.27L526.28 337.52L526.48 337.49L526.67 337.76L526.87 337.83L527.07 338.4L527.26 338.43L527.46 338.05L527.66 337.36L527.85 338.06L528.05 337.37L528.25 337.33L528.44 338.16L528.64 337.91L528.84 337.45L529.03 337.69L529.23 337.78L529.42 338.17L529.62 338.32L529.82 337.8L530.01 337.84L530.21 337.61L530.41 338.21L530.6 337.92L530.8 338.26"/></g>
<rect x="354" y="202" width="176.8" height="137.8" fill="none" stroke="#7f7f7f" stroke-width="1"/>
<text class="l" x="354" y="347.9" font-size="7.5" text-anchor="middle" >0</text>
<text class="l" x="373.64" y="347.9" font-size="7.5" text-anchor="middle" >200</text>
<text class="l" x="393.29" y="347.9" font-size="7.5" text-anchor="middle" >400</text>
<text class="l" x="412.93" y="347.9" font-size="7.5" text-anchor="middle" >600</text>
<text class="l" x="432.58" y="347.9" font-size="7.5" text-anchor="middle" >800</text>
<text class="l" x="452.22" y="347.9" font-size="7.5" text-anchor="middle" >1000</text>
<text class="l" x="471.87" y="347.9" font-size="7.5" text-anchor="middle" >1200</text>
<text class="l" x="491.51" y="347.9" font-size="7.5" text-anchor="middle" >1400</text>
<text class="l" x="511.16" y="347.9" font-size="7.5" text-anchor="middle" >1600</text>
<text class="l" x="530.8" y="347.9" font-size="7.5" text-anchor="middle" >1800</text>
<text class="l" x="352.3" y="342.3" font-size="7.5" text-anchor="end" >250</text>
<text class="l" x="352.3" y="314.74" font-size="7.5" text-anchor="end" >300</text>
<text class="l" x="352.3" y="287.18" font-size="7.5" text-anchor="end" >350</text>
<text class="l" x="352.3" y="259.62" font-size="7.5" text-anchor="end" >400</text>
<text class="l" x="352.3" y="232.06" font-size="7.5" text-anchor="end" >450</text>
<text class="l" x="352.3" y="204.5" font-size="7.5" text-anchor="end" >500</text>
<text class="l" x="441.5" y="355.8" font-size="7.4" text-anchor="middle" >Iterations</text>
<text class="l" transform="translate(337.6 269.85) rotate(-90)" font-size="7.6" text-anchor="middle" textLength="40" lengthAdjust="spacingAndGlyphs">Fitness value</text>
<text x="430.1" y="374.1" font-size="15" font-weight="bold" textLength="17.5" lengthAdjust="spacingAndGlyphs">(d)</text>
<defs><filter id="bl" x="-5%" y="-5%" width="110%" height="110%"><feGaussianBlur stdDeviation="5"/></filter><linearGradient id="sg" x1="0" y1="0" x2="0" y2="1"><stop offset="0" stop-color="#ffb000"/><stop offset="0.2" stop-color="#e8f800"/><stop offset="0.45" stop-color="#80ff80"/><stop offset="0.7" stop-color="#20e8f0"/><stop offset="1" stop-color="#40b0ff"/></linearGradient></defs><path d="M353.2 103.8L453.6 76.8M453.6 76.8L530 112.5M353.2 81.9L453.6 54.9M453.6 54.9L530 90.7M353.2 60L453.6 33M453.6 33L530 68.8M353.2 38.1L453.6 11.1M453.6 11.1L530 46.9M378.3 108L378.3 31.4M378.3 108L454.8 143.8M403.4 101.2L403.4 24.6M403.4 101.2L479.9 137M428.5 94.5L428.5 17.9M428.5 94.5L504.9 130.2M453.6 87.8L453.6 11.1M453.6 87.8L530 123.5M479 99.7L479 23M378.7 126.7L479 99.7M504.5 111.6L504.5 34.9M404.2 138.6L504.5 111.6" stroke="#c8c8c8" stroke-width="0.6" fill="none"/>
<path d="M353.2 38.1L353.2 114.8M353.2 114.8L429.7 150.5M429.7 150.5L530 123.5M530 123.5L530 46.9" stroke="#808080" stroke-width="0.9" fill="none"/>
<path d="M353.2 103.8L355.8 103.1M353.2 81.9L355.8 81.2M353.2 60L355.8 59.3M353.2 38.1L355.8 37.4M378.7 126.7L381.2 126M404.2 138.6L406.7 137.9M454.8 143.8L452.5 142.7M479.9 137L477.6 135.9M504.9 130.2L502.6 129.2" stroke="#606060" stroke-width="0.7" fill="none"/>
<g transform="scale(0.1)" filter="url(#bl)">
<path d="M4515 258 4537 253 4557 234 4533 243Z" fill="#f20e00"/>
<path d="M4498 268 4520 266 4540 246 4518 252Z" fill="#f21600"/>
<path d="M4532 248 4554 268 4575 255 4553 232Z" fill="#fa0a00"/>
<path d="M4481 280 4503 278 4523 259 4502 261Z" fill="#f21e00"/>
<path d="M4515 261 4537 279 4558 265 4536 244Z" fill="#fa1200"/>
<path d="M4465 292 4486 292 4507 272 4485 273Z" fill="#f22600"/>
<path d="M4549 263 4571 287 4592 278 4570 250Z" fill="#fe1600"/>
<path d="M4498 274 4520 287 4541 274 4519 257Z" fill="#fa1a00"/>
<path d="M4448 305 4470 305 4490 285 4468 286Z" fill="#f22e00"/>
<path d="M4532 273 4554 295 4575 283 4553 259Z" fill="#fa1a00"/>
<path d="M4482 288 4504 296 4525 283 4503 269Z" fill="#fa1e00"/>
<path d="M4431 317 4453 317 4473 298 4452 298Z" fill="#f23600"/>
<path d="M4566 283 4589 274 4609 281 4587 272Z" fill="#f21600"/>
<path d="M4516 282 4538 304 4559 292 4537 270Z" fill="#fa1e00"/>
<path d="M4465 302 4487 304 4508 291 4486 283Z" fill="#f62600"/>
<path d="M4414 322 4438 321 4457 311 4434 311Z" fill="#ee3a00"/>
<path d="M4550 292 4572 275 4593 277 4568 279Z" fill="#f21600"/>
<path d="M4499 290 4521 312 4542 300 4520 278Z" fill="#f62200"/>
<path d="M4448 314 4470 312 4491 298 4469 296Z" fill="#f62a00"/>
<path d="M4397 318 4420 325 4440 316 4417 325Z" fill="#ea3600"/>
<path d="M4584 278 4608 285 4627 281 4603 285Z" fill="#ee0e00"/>
<path d="M4534 302 4555 278 4576 277 4554 295Z" fill="#ee1600"/>
<path d="M4482 299 4504 320 4525 308 4503 287Z" fill="#f62600"/>
<path d="M4432 318 4454 306 4474 307 4450 316Z" fill="#f22e00"/>
<path d="M4381 316 4407 319 4424 321 4397 318Z" fill="#ee3200"/>
<path d="M4567 279 4590 285 4610 281 4587 274Z" fill="#ee0a00"/>
<path d="M4517 310 4538 283 4559 280 4537 304Z" fill="#ee1600"/>
<path d="M4466 307 4487 327 4508 316 4487 295Z" fill="#f62a00"/>
<path d="M4415 322 4437 308 4458 309 4435 321Z" fill="#ee2a00"/>
<path d="M4601 281 4623 291 4644 281 4621 277Z" fill="#f60a00"/>
<path d="M4364 314 4388 321 4407 319 4381 314Z" fill="#ee2a00"/>
<path d="M4550 283 4573 287 4593 281 4571 275Z" fill="#ee0600"/>
<path d="M4501 318 4522 291 4542 285 4521 312Z" fill="#ee1a00"/>
<path d="M4449 309 4471 331 4492 324 4470 303Z" fill="#f62a00"/>
<path d="M4398 319 4420 325 4441 311 4419 325Z" fill="#f22a00"/>
<path d="M4585 280 4606 298 4628 287 4605 277Z" fill="#f60600"/>
<path d="M4347 313 4372 311 4390 318 4366 311Z" fill="#ee2600"/>
<path d="M4534 289 4560 286 4577 282 4554 278Z" fill="#ee0600"/>
<path d="M4484 325 4508 307 4525 293 4504 320Z" fill="#ee1e00"/>
<path d="M4432 311 4454 334 4475 329 4453 306Z" fill="#f62a00"/>
<path d="M4619 285 4641 308 4661 305 4640 277Z" fill="#fa0e00"/>
<path d="M4381 317 4407 318 4424 321 4398 317Z" fill="#ee2600"/>
<path d="M4568 281 4590 303 4611 295 4589 276Z" fill="#fa0600"/>
<path d="M4330 317 4354 309 4373 315 4350 310Z" fill="#ee2200"/>
<path d="M4517 297 4540 283 4560 283 4537 283Z" fill="#ee0600"/>
<path d="M4466 328 4489 328 4509 308 4486 327Z" fill="#ee2600"/>
<path d="M4415 320 4437 336 4458 331 4436 308Z" fill="#f62a00"/>
<path d="M4602 293 4624 312 4645 305 4623 282Z" fill="#fa0e00"/>
<path d="M4365 314 4391 316 4408 319 4383 321Z" fill="#f21e00"/>
<path d="M4551 283 4573 306 4594 300 4572 278Z" fill="#f60600"/>
<path d="M4314 320 4340 316 4357 313 4330 317Z" fill="#ee1e00"/>
<path d="M4501 313 4522 287 4543 285 4519 292Z" fill="#ee0a00"/>
<path d="M4449 330 4472 333 4492 323 4467 324Z" fill="#ee2600"/>
<path d="M4637 301 4658 328 4678 338 4657 299Z" fill="#f21a00"/>
<path d="M4399 317 4421 339 4441 333 4420 316Z" fill="#f22600"/>
<path d="M4585 298 4607 315 4628 309 4606 289Z" fill="#fa0e00"/>
<path d="M4348 313 4370 327 4391 317 4368 310Z" fill="#f61a00"/>
<path d="M4535 286 4556 306 4577 303 4555 280Z" fill="#f60200"/>
<path d="M4297 323 4323 318 4340 316 4314 320Z" fill="#ee1e00"/>
<path d="M4485 327 4506 294 4526 289 4504 315Z" fill="#ea0e00"/>
<path d="M4433 332 4459 328 4476 328 4451 326Z" fill="#ee2600"/>
<path d="M4619 306 4641 324 4662 326 4640 299Z" fill="#f61600"/>
<path d="M4382 314 4404 341 4425 336 4403 314Z" fill="#f62200"/>
<path d="M4568 300 4591 314 4611 312 4589 294Z" fill="#f60a00"/>
<path d="M4331 315 4353 334 4374 323 4352 309Z" fill="#f61a00"/>
<path d="M4518 291 4540 307 4560 303 4539 283Z" fill="#f20000"/>
<path d="M4280 314 4303 326 4323 319 4301 326Z" fill="#ee1600"/>
<path d="M4468 331 4489 304 4509 295 4488 328Z" fill="#ea1200"/>
<path d="M4654 322 4676 339 4696 336 4674 339Z" fill="#ee2200"/>
<path d="M4416 335 4439 338 4459 329 4435 328Z" fill="#f62600"/>
<path d="M4603 310 4625 324 4645 321 4623 303Z" fill="#f61200"/>
<path d="M4365 321 4387 344 4408 339 4386 312Z" fill="#fa2200"/>
<path d="M4552 301 4574 314 4595 311 4573 297Z" fill="#f60600"/>
<path d="M4315 318 4336 336 4357 331 4335 312Z" fill="#f61a00"/>
<path d="M4501 298 4523 306 4544 304 4522 287Z" fill="#ee0000"/>
<path d="M4264 310 4286 309 4306 323 4282 311Z" fill="#ea0e00"/>
<path d="M4450 331 4472 339 4492 305 4471 333Z" fill="#ea1600"/>
<path d="M4637 318 4660 331 4679 337 4657 319Z" fill="#ee1a00"/>
<path d="M4399 337 4421 347 4442 333 4420 330Z" fill="#fa2600"/>
<path d="M4586 308 4608 329 4629 320 4607 306Z" fill="#f60e00"/>
<path d="M4349 329 4370 346 4391 341 4370 318Z" fill="#fa2200"/>
<path d="M4535 302 4557 314 4578 310 4556 297Z" fill="#f60200"/>
<path d="M4298 321 4321 319 4340 334 4319 315Z" fill="#f21600"/>
<path d="M4484 310 4508 298 4527 302 4505 294Z" fill="#ea0000"/>
<path d="M4249 266 4269 309 4289 317 4268 315Z" fill="#de0000"/>
<path d="M4671 335 4697 335 4714 335 4687 335ZM4433 333 4455 352 4476 334 4454 325Z" fill="#ee1e00"/>
<path d="M4620 318 4643 328 4663 328 4641 315Z" fill="#f20e00"/>
<path d="M4383 339 4405 354 4426 343 4403 333Z" fill="#fa2600"/>
<path d="M4570 307 4591 350 4612 325 4590 305Z" fill="#fa0e00"/>
<path d="M4332 330 4354 351 4375 343 4353 325Z" fill="#f61e00"/>
<path d="M4518 301 4541 314 4561 310 4539 298Z" fill="#f20000"/>
<path d="M4281 312 4304 326 4324 324 4301 326Z" fill="#ee0a00"/>
<path d="M4469 338 4490 301 4510 299 4488 304Z" fill="#ea0200"/>
<path d="M4233 232 4252 262 4271 309 4250 274Z" fill="#be0000"/>
<path d="M4654 326 4677 339 4697 336 4674 339Z" fill="#ee1600"/>
<path d="M4417 343 4439 356 4460 349 4438 329Z" fill="#f22200"/>
<path d="M4603 325 4626 317 4646 324 4624 315Z" fill="#f20a00"/>
<path d="M4366 341 4388 357 4409 350 4387 335Z" fill="#f62600"/>
<path d="M4554 306 4574 362 4594 348 4573 305Z" fill="#fa1200"/>
<path d="M4316 320 4337 353 4358 348 4336 327Z" fill="#f21a00"/>
<path d="M4502 301 4524 315 4545 311 4522 297Z" fill="#ee0000"/>
<path d="M4265 303 4289 318 4307 324 4281 315Z" fill="#ea0000"/>
<path d="M4688 335 4714 335 4731 335 4705 335Z" fill="#ee1600"/>
<path d="M4453 352 4473 309 4492 302 4472 339Z" fill="#ea0a00"/>
<path d="M4215 218 4235 225 4254 270 4234 231Z" fill="#9a0000"/>
<path d="M4637 322 4660 335 4680 336 4658 323Z" fill="#ee0e00"/>
<path d="M4400 349 4422 360 4443 352 4421 338Z" fill="#f22200"/>
<path d="M4588 349 4608 316 4629 319 4607 320Z" fill="#f20e00"/>
<path d="M4349 346 4372 353 4392 354 4370 337Z" fill="#f62200"/>
<path d="M4537 306 4558 360 4577 361 4557 305Z" fill="#f61200"/>
<path d="M4299 319 4320 350 4340 352 4319 319Z" fill="#ee1200"/>
<path d="M4485 305 4507 316 4528 311 4506 297Z" fill="#e60000"/>
<path d="M4250 263 4270 310 4289 317 4268 309Z" fill="#d20000"/>
<path d="M4671 335 4698 335 4714 335 4688 335Z" fill="#ee1200"/>
<path d="M4435 354 4456 319 4475 310 4455 352Z" fill="#e60e00"/>
<path d="M4197 226 4219 213 4239 231 4217 216Z" fill="#8a0000"/>
<path d="M4621 319 4643 341 4664 331 4641 319Z" fill="#ee0a00"/>
<path d="M4383 352 4405 366 4426 355 4404 345Z" fill="#ee2200"/>
<path d="M4571 361 4592 321 4612 318 4591 350Z" fill="#f21200"/>
<path d="M4332 349 4355 336 4375 350 4349 348Z" fill="#f21a00"/>
<path d="M4520 307 4541 336 4560 359 4540 305Z" fill="#f20600"/>
<path d="M4282 312 4304 317 4323 349 4302 317Z" fill="#ea0600"/>
<path d="M4705 335 4729 331 4748 341 4725 331Z" fill="#ee0e00"/>
<path d="M4468 314 4491 317 4511 311 4489 301Z" fill="#e20000"/>
<path d="M4233 226 4254 273 4271 309 4250 262Z" fill="#ae0000"/>
<path d="M4655 330 4678 339 4698 335 4674 339Z" fill="#ee0a00"/>
<path d="M4418 358 4439 323 4459 321 4438 356Z" fill="#e60e00"/>
<path d="M4181 252 4202 241 4222 215 4201 221Z" fill="#920000"/>
<path d="M4604 319 4626 340 4646 338 4625 317Z" fill="#ee0600"/>
<path d="M4367 347 4389 370 4409 363 4387 348Z" fill="#ea2200"/>
<path d="M4554 357 4575 335 4595 322 4574 362ZM4316 346 4338 338 4359 340 4337 353Z" fill="#ee1200"/>
<path d="M4503 309 4524 330 4544 334 4523 306Z" fill="#ee0000"/>
<path d="M4265 303 4289 318 4308 323 4282 317Z" fill="#de0000"/>
<path d="M4689 335 4715 335 4732 335 4705 335Z" fill="#ee0a00"/>
<path d="M4452 326 4475 311 4494 311 4472 309Z" fill="#e20000"/>
<path d="M4215 215 4236 226 4255 272 4235 225Z" fill="#8e0000"/>
<path d="M4638 338 4660 313 4681 336 4658 335Z" fill="#ea0200"/>
<path d="M4402 365 4423 323 4442 324 4422 360Z" fill="#e60e00"/>
<path d="M4165 297 4185 285 4204 233 4184 245Z" fill="#ae0000"/>
<path d="M4587 324 4609 336 4630 338 4608 316Z" fill="#ea0000"/>
<path d="M4351 338 4372 360 4392 369 4371 344Z" fill="#ea1a00"/>
<path d="M4538 328 4558 377 4579 337 4557 360Z" fill="#ee1600"/>
<path d="M4300 318 4321 353 4342 344 4320 350Z" fill="#ee0a00"/>
<path d="M4723 333 4745 349 4765 353 4744 335Z" fill="#ee0e00"/>
<path d="M4486 311 4508 329 4528 327 4506 307Z" fill="#ea0000"/>
<path d="M4250 264 4270 310 4290 318 4269 310Z" fill="#c60000"/>
<path d="M4672 335 4698 335 4715 335 4689 335Z" fill="#ee0200"/>
<path d="M4435 329 4457 315 4477 314 4455 328Z" fill="#de0000"/>
<path d="M4197 238 4219 254 4240 229 4218 213Z" fill="#8e0000"/>
<path d="M4622 338 4643 315 4664 315 4642 341Z" fill="#e60000"/>
<path d="M4385 369 4406 333 4425 324 4405 366Z" fill="#e60e00"/>
<path d="M4149 350 4168 348 4187 276 4168 288Z" fill="#de0000"/>
<path d="M4571 342 4593 324 4613 332 4591 321Z" fill="#e60000"/>
<path d="M4333 342 4355 336 4375 358 4354 336Z" fill="#ee0a00"/>
<path d="M4522 321 4541 381 4561 376 4541 327Z" fill="#f21200"/>
<path d="M4283 311 4304 341 4324 352 4303 317Z" fill="#ea0000"/>
<path d="M4706 334 4728 348 4749 346 4727 331Z" fill="#f20600"/>
<path d="M4469 314 4491 331 4512 326 4490 308Z" fill="#e60000"/>
<path d="M4234 226 4254 275 4272 310 4249 266Z" fill="#aa0000"/>
<path d="M4656 314 4677 339 4698 336 4676 339Z" fill="#e60000"/>
<path d="M4418 329 4440 313 4461 318 4439 332Z" fill="#da0000"/>
<path d="M4182 283 4203 297 4223 246 4202 232Z" fill="#aa0000"/>
<path d="M4605 333 4627 318 4647 317 4625 340Z" fill="#e20000"/>
<path d="M4367 355 4389 370 4409 334 4388 370Z" fill="#e61200"/>
<path d="M4130 349 4152 364 4173 342 4151 341Z" fill="#f60e00"/>
<path d="M4556 376 4576 327 4596 326 4574 335Z" fill="#ea0600"/>
<path d="M4316 349 4338 357 4359 339 4337 338Z" fill="#f20a00"/>
<path d="M4740 344 4763 356 4783 347 4761 356Z" fill="#ee0a00"/>
<path d="M4504 321 4525 361 4544 380 4524 321Z" fill="#f20600"/>
<path d="M4267 303 4288 326 4307 340 4286 310Z" fill="#da0000"/>
<path d="M4690 334 4711 350 4732 345 4710 331Z" fill="#f20000"/>
<path d="M4452 318 4474 336 4495 328 4473 311Z" fill="#e60000"/>
<path d="M4215 247 4237 292 4257 273 4236 226Z" fill="#a20000"/>
<path d="M4639 318 4661 340 4681 337 4660 313Z" fill="#e20000"/>
<path d="M4402 340 4423 317 4444 316 4422 332Z" fill="#da0000"/>
<path d="M4166 347 4186 360 4205 289 4185 276ZM4588 329 4610 320 4631 321 4609 336Z" fill="#de0000"/>
<path d="M4352 337 4372 368 4393 367 4370 351Z" fill="#ea0e00"/>
<path d="M4113 353 4136 347 4156 361 4134 345Z" fill="#f60e00"/>
<path d="M4539 380 4559 337 4578 328 4558 377Z" fill="#ea0e00"/>
<path d="M4301 333 4322 383 4343 352 4321 344Z" fill="#f60e00"/>
<path d="M4724 343 4747 353 4766 353 4744 340Z" fill="#f20200"/>
<path d="M4487 324 4508 354 4528 360 4507 320Z" fill="#ee0000"/>
<path d="M4251 266 4271 331 4291 325 4267 303Z" fill="#ca0000"/>
<path d="M4673 333 4695 356 4716 347 4694 331Z" fill="#f20000"/>
<path d="M4436 316 4457 340 4478 332 4456 315Z" fill="#e20000"/>
<path d="M4198 294 4220 335 4241 287 4219 245Z" fill="#be0000"/>
<path d="M4622 321 4644 343 4665 337 4643 315Z" fill="#e60000"/>
<path d="M4387 369 4406 316 4426 318 4405 342Z" fill="#de0000"/>
<path d="M4147 360 4169 374 4190 355 4168 339Z" fill="#fa0e00"/>
<path d="M4571 332 4593 320 4614 323 4591 333Z" fill="#d60000"/>
<path d="M4334 353 4356 345 4376 366 4355 336Z" fill="#ee0600"/>
<path d="M4097 366 4119 348 4139 350 4117 349Z" fill="#ee0a00"/>
<path d="M4758 353 4780 357 4800 339 4777 343Z" fill="#ee0200"/>
<path d="M4520 357 4542 347 4562 338 4541 381Z" fill="#e60a00"/>
<path d="M4285 318 4305 391 4324 382 4304 332Z" fill="#f60a00"/>
<path d="M4707 345 4729 354 4750 349 4727 339Z" fill="#f60000"/>
<path d="M4470 329 4491 357 4512 351 4491 322Z" fill="#f20000"/>
<path d="M4234 284 4254 355 4274 329 4253 266Z" fill="#ce0000"/>
<path d="M4657 333 4678 367 4699 352 4677 331Z" fill="#f60000"/>
<path d="M4419 320 4441 336 4461 338 4440 313Z" fill="#da0000"/>
<path d="M4183 359 4203 379 4224 329 4202 288Z" fill="#ee0000"/>
<path d="M4605 322 4627 346 4648 340 4626 318ZM4369 366 4390 328 4409 317 4389 370Z" fill="#e20000"/>
<path d="M4131 349 4152 378 4173 372 4151 355Z" fill="#f60e00"/>
<path d="M4555 344 4576 321 4597 322 4574 335Z" fill="#d60000"/>
<path d="M4318 382 4341 356 4359 348 4338 348Z" fill="#f20a00"/>
<path d="M4080 378 4106 362 4122 350 4098 367Z" fill="#ea0e00"/>
<path d="M4741 347 4763 369 4784 352 4761 347Z" fill="#f20200"/>
<path d="M4504 348 4526 359 4547 351 4524 361Z" fill="#ee0200"/>
<path d="M4268 322 4288 395 4307 390 4287 317Z" fill="#fa0600"/>
<path d="M4690 351 4712 357 4733 350 4711 341Z" fill="#f60000"/>
<path d="M4453 334 4475 362 4495 355 4474 327Z" fill="#f20000"/>
<path d="M4215 331 4237 360 4257 354 4237 283Z" fill="#e60000"/>
<path d="M4640 335 4661 385 4682 364 4660 331Z" fill="#fe0200"/>
<path d="M4402 320 4427 328 4445 333 4423 317Z" fill="#d20000"/>
<path d="M4165 370 4187 381 4207 376 4186 351Z" fill="#fa1200"/>
<path d="M4589 322 4610 346 4631 344 4609 320Z" fill="#de0000"/>
<path d="M4351 351 4373 338 4393 330 4372 368Z" fill="#e20000"/>
<path d="M4114 351 4136 351 4156 377 4135 347Z" fill="#ee0600"/>
<path d="M4775 354 4798 339 4818 344 4796 336Z" fill="#ea0000"/>
<path d="M4539 354 4560 327 4580 323 4558 346Z" fill="#d60000"/>
<path d="M4301 388 4322 397 4342 356 4319 375Z" fill="#f21a00"/>
<path d="M4064 388 4089 374 4105 361 4081 379Z" fill="#ea1600"/>
<path d="M4725 348 4746 377 4767 366 4745 344ZM4487 351 4509 378 4530 353 4508 345Z" fill="#f60200"/>
<path d="M4251 347 4271 395 4290 395 4271 322Z" fill="#f60a00"/>
<path d="M4674 364 4696 363 4716 352 4694 347Z" fill="#fa0000"/>
<path d="M4438 328 4458 391 4479 359 4457 331Z" fill="#f60000"/>
<path d="M4200 378 4221 386 4242 354 4220 326Z" fill="#fa0600"/>
<path d="M4624 338 4644 398 4664 384 4644 334Z" fill="#fe0600"/>
<path d="M4385 334 4408 333 4428 324 4406 316Z" fill="#ce0000"/>
<path d="M4148 372 4170 397 4191 376 4169 365Z" fill="#f61600"/>
<path d="M4572 324 4594 343 4614 344 4593 320Z" fill="#da0000"/>
<path d="M4335 362 4357 340 4377 341 4354 354Z" fill="#e20000"/>
<path d="M4097 365 4121 352 4140 355 4118 348Z" fill="#ea0000"/>
<path d="M4759 367 4781 345 4801 341 4775 353Z" fill="#ee0000"/>
<path d="M4522 357 4543 333 4563 329 4542 356Z" fill="#da0000"/>
<path d="M4284 391 4307 396 4327 393 4304 382Z" fill="#ee1e00"/>
<path d="M4047 399 4069 393 4089 372 4065 382Z" fill="#ee1a00"/>
<path d="M4708 351 4729 376 4750 375 4728 346Z" fill="#f60200"/>
<path d="M4471 355 4492 405 4513 374 4491 348Z" fill="#fa0a00"/>
<path d="M4233 353 4255 357 4274 395 4254 346Z" fill="#f20600"/>
<path d="M4657 383 4680 373 4699 357 4678 358Z" fill="#f60600"/>
<path d="M4421 321 4441 371 4460 390 4440 327Z" fill="#ea0000"/>
<path d="M4182 375 4204 400 4225 382 4203 370Z" fill="#fa1600"/>
<path d="M4608 338 4628 406 4647 397 4627 337Z" fill="#fa0600"/>
<path d="M4369 344 4391 346 4411 327 4389 328Z" fill="#d60000"/>
<path d="M4132 352 4154 366 4173 396 4150 378Z" fill="#ee0a00"/>
<path d="M4794 340 4814 384 4833 395 4813 340Z" fill="#f60200"/>
<path d="M4555 331 4577 344 4598 340 4576 321Z" fill="#d60000"/>
<path d="M4320 396 4340 346 4359 342 4338 355Z" fill="#e60000"/>
<path d="M4081 377 4103 372 4123 354 4101 359Z" fill="#ee0200"/>
<path d="M4742 375 4764 355 4784 347 4762 369Z" fill="#f20000"/>
<path d="M4506 377 4526 338 4546 335 4525 359Z" fill="#e20000"/>
<path d="M4267 392 4289 364 4310 393 4288 395Z" fill="#ea1600"/>
<path d="M4030 410 4054 402 4072 387 4050 392Z" fill="#ee2200"/>
<path d="M4691 358 4713 370 4733 373 4712 348Z" fill="#f20000"/>
<path d="M4453 387 4475 397 4495 403 4475 353Z" fill="#fa1600"/>
<path d="M4217 385 4238 374 4259 360 4237 351Z" fill="#f20200"/>
<path d="M4640 396 4662 396 4682 366 4661 376Z" fill="#f61200"/>
<path d="M4404 326 4425 354 4444 370 4424 320Z" fill="#de0000"/>
<path d="M4165 393 4187 403 4208 396 4186 372Z" fill="#fa1a00"/>
<path d="M4591 335 4611 390 4630 405 4610 337Z" fill="#f20000"/>
<path d="M4352 345 4374 354 4395 340 4372 338Z" fill="#de0000"/>
<path d="M4115 355 4137 354 4157 372 4135 351Z" fill="#e60000"/>
<path d="M4776 347 4798 379 4817 383 4797 339Z" fill="#ee0000"/>
<path d="M4538 338 4560 349 4581 339 4559 327Z" fill="#d60000"/>
<path d="M4302 395 4323 354 4342 347 4322 397Z" fill="#e20600"/>
<path d="M4064 391 4086 390 4106 365 4084 370Z" fill="#ee0e00"/>
<path d="M4725 371 4747 390 4767 357 4743 376Z" fill="#f60200"/>
<path d="M4490 404 4509 356 4528 339 4508 378Z" fill="#ee0000"/>
<path d="M4251 359 4272 357 4293 368 4271 395Z" fill="#e60200"/>
<path d="M4014 423 4037 413 4055 396 4033 403Z" fill="#ee2a00"/>
<path d="M4674 370 4697 372 4717 366 4695 354Z" fill="#f20000"/>
<path d="M4438 363 4459 416 4480 394 4457 382Z" fill="#fa1600"/>
<path d="M4200 397 4221 414 4241 366 4220 377Z" fill="#f61600"/>
<path d="M4623 402 4645 413 4666 390 4644 389Z" fill="#f21e00"/>
<path d="M4386 340 4408 360 4429 352 4407 324Z" fill="#de0000"/>
<path d="M4150 366 4170 410 4191 401 4168 396Z" fill="#ee1600"/>
<path d="M4811 376 4832 409 4852 415 4831 387Z" fill="#f21a00"/>
<path d="M4574 336 4594 369 4613 389 4593 334Z" fill="#e60000"/>
<path d="M4335 351 4358 355 4378 350 4356 340Z" fill="#da0000"/>
<path d="M4098 369 4120 370 4141 357 4119 352Z" fill="#e60000"/>
<path d="M4759 358 4781 379 4801 377 4780 345Z" fill="#ee0000"/>
<path d="M4522 343 4544 350 4565 345 4542 333Z" fill="#d20000"/>
<path d="M4284 369 4306 353 4327 356 4305 396Z" fill="#de0000"/>
<path d="M4047 400 4069 399 4090 384 4068 384Z" fill="#f21600"/>
<path d="M4709 363 4730 408 4751 386 4729 367Z" fill="#f60a00"/>
<path d="M4471 393 4493 420 4511 356 4492 405Z" fill="#f21600"/>
<path d="M4234 371 4257 359 4276 361 4254 357Z" fill="#e20000"/>
<path d="M3997 436 4018 433 4038 407 4017 416Z" fill="#ee3200"/>
<path d="M4659 395 4680 368 4700 365 4678 364Z" fill="#f60200"/>
<path d="M4422 346 4442 420 4461 415 4441 362Z" fill="#f60e00"/>
<path d="M4183 398 4205 411 4225 411 4204 391Z" fill="#fa1e00"/>
<path d="M4608 382 4628 420 4649 410 4627 397Z" fill="#f21e00"/>
<path d="M4369 349 4391 376 4412 356 4390 337Z" fill="#e60000"/>
<path d="M4133 355 4154 360 4173 410 4153 366Z" fill="#ea0000"/>
<path d="M4794 372 4815 406 4835 407 4814 375Z" fill="#f60e00"/>
<path d="M4556 343 4578 373 4598 367 4577 335Z" fill="#e20000"/>
<path d="M4318 360 4344 351 4361 350 4339 347Z" fill="#d60000"/>
<path d="M4082 388 4103 389 4123 363 4102 363Z" fill="#f20000"/>
<path d="M4743 388 4764 382 4785 374 4763 355Z" fill="#f60000"/>
<path d="M4506 363 4527 341 4548 345 4526 338Z" fill="#d20000"/>
<path d="M4267 361 4290 353 4310 357 4289 373Z" fill="#d60000"/>
<path d="M4030 411 4052 412 4073 393 4051 394Z" fill="#f21a00"/>
<path d="M4693 364 4713 415 4733 406 4712 361Z" fill="#fa0a00"/>
<path d="M4454 412 4476 422 4497 417 4475 388Z" fill="#f62200"/>
<path d="M4218 413 4239 415 4258 360 4238 365Z" fill="#f20a00"/>
<path d="M3980 444 4002 429 4022 427 3999 429Z" fill="#ee3a00"/>
<path d="M4642 412 4663 377 4682 369 4661 396Z" fill="#f20a00"/>
<path d="M4405 352 4425 395 4444 420 4424 345Z" fill="#f60000"/>
<path d="M4166 405 4188 423 4209 407 4187 394Z" fill="#f21e00"/>
<path d="M4828 402 4849 424 4870 418 4847 407Z" fill="#f22200"/>
<path d="M4592 361 4612 408 4631 420 4611 381Z" fill="#ee0e00"/>
<path d="M4353 349 4374 377 4395 374 4373 345Z" fill="#e60000"/>
<path d="M4115 366 4138 371 4158 365 4136 354Z" fill="#de0000"/>
<path d="M4777 371 4798 405 4818 404 4797 370Z" fill="#fa0600"/>
<path d="M4540 343 4561 386 4582 370 4560 340Z" fill="#e60000"/>
<path d="M4302 358 4324 350 4345 352 4322 363Z" fill="#d20000"/>
<path d="M4064 396 4086 399 4107 383 4085 381Z" fill="#f20a00"/>
<path d="M4727 406 4748 382 4768 375 4746 381Z" fill="#fa0600"/>
<path d="M4491 420 4510 358 4529 342 4509 356Z" fill="#e20000"/>
<path d="M4251 364 4275 356 4294 356 4270 365Z" fill="#da0000"/>
<path d="M4014 431 4035 438 4056 405 4035 405Z" fill="#f62a00"/>
<path d="M4676 369 4697 420 4716 414 4696 363Z" fill="#fe0a00"/>
<path d="M4437 415 4459 428 4480 418 4458 407Z" fill="#f62600"/>
<path d="M4200 406 4222 426 4243 411 4221 405Z" fill="#f62200"/>
<path d="M3963 447 3986 446 4005 431 3983 446Z" fill="#ea3a00"/>
<path d="M4625 418 4646 418 4665 378 4645 413Z" fill="#f21600"/>
<path d="M4387 369 4408 425 4429 392 4408 351Z" fill="#fe0200"/>
<path d="M4151 361 4171 370 4190 423 4170 410Z" fill="#e60a00"/>
<path d="M4811 399 4832 428 4853 421 4831 400Z" fill="#f61e00"/>
<path d="M4574 366 4596 373 4614 407 4594 361Z" fill="#ee0000"/>
<path d="M4336 351 4358 370 4378 375 4357 346Z" fill="#de0000"/>
<path d="M4099 387 4120 390 4141 364 4119 361Z" fill="#ee0000"/>
<path d="M4760 375 4781 406 4802 403 4781 370Z" fill="#fa0200"/>
<path d="M4523 343 4544 368 4564 385 4543 341Z" fill="#da0000"/>
<path d="M4285 357 4309 352 4328 354 4305 362Z" fill="#ce0000"/>
<path d="M4048 409 4070 417 4090 393 4069 390Z" fill="#f61200"/>
<path d="M4709 413 4731 411 4751 383 4729 407Z" fill="#fa1200"/>
<path d="M4472 421 4493 429 4512 358 4492 420Z" fill="#ee1200"/>
<path d="M4236 415 4257 386 4276 356 4255 359Z" fill="#e60000"/>
<path d="M3997 434 4019 415 4040 435 4014 426Z" fill="#ee2e00"/>
<path d="M4659 379 4680 419 4699 419 4679 368Z" fill="#fa0a00"/>
<path d="M4422 387 4443 431 4463 426 4441 420Z" fill="#fa1e00"/>
<path d="M4183 419 4205 432 4226 423 4204 402ZM4844 419 4867 413 4887 424 4865 413Z" fill="#f22200"/>
<path d="M3946 451 3972 445 3989 441 3963 447Z" fill="#ea3e00"/>
<path d="M4608 401 4629 433 4650 413 4626 420Z" fill="#f21e00"/>
<path d="M4372 369 4392 435 4411 424 4391 367Z" fill="#fa0e00"/>
<path d="M4132 365 4158 372 4175 377 4153 360Z" fill="#da0000"/>
<path d="M4795 398 4816 432 4836 426 4815 397Z" fill="#f61a00"/>
<path d="M4556 382 4578 401 4599 376 4577 364Z" fill="#ee0000"/>
<path d="M4319 353 4341 365 4362 367 4340 349Z" fill="#d20000"/>
<path d="M4082 396 4104 402 4125 384 4103 380Z" fill="#f60200"/>
<path d="M4743 384 4765 417 4786 404 4764 373Z" fill="#fa0600"/>
<path d="M4506 364 4530 362 4548 365 4527 341ZM4268 360 4291 364 4311 355 4288 353Z" fill="#d20000"/>
<path d="M4031 436 4053 444 4073 411 4052 403Z" fill="#f62600"/>
<path d="M4692 415 4714 433 4735 405 4713 406Z" fill="#fa1a00"/>
<path d="M4455 423 4477 438 4498 424 4476 413Z" fill="#f62600"/>
<path d="M4218 424 4239 436 4258 377 4236 407Z" fill="#f21600"/>
<path d="M3981 444 4004 436 4022 417 4000 437Z" fill="#ea2a00"/>
<path d="M4641 415 4663 425 4684 416 4662 377Z" fill="#fa1200"/>
<path d="M4404 421 4426 436 4446 429 4425 386Z" fill="#fa1e00"/>
<path d="M4169 371 4189 383 4208 432 4188 423Z" fill="#e20a00"/>
<path d="M4828 425 4850 411 4871 417 4845 421Z" fill="#f21a00"/>
<path d="M3929 455 3955 449 3972 445 3946 451Z" fill="#ee3e00"/>
<path d="M4592 373 4613 391 4631 432 4611 408Z" fill="#ee0a00"/>
<path d="M4355 362 4375 416 4394 434 4374 368Z" fill="#f20200"/>
<path d="M4116 387 4138 392 4158 367 4137 362Z" fill="#e60000"/>
<path d="M4778 399 4799 438 4819 430 4798 396Z" fill="#fa1a00"/>
<path d="M4542 360 4561 438 4583 397 4561 377Z" fill="#f20000"/>
<path d="M4302 355 4325 363 4345 362 4323 350Z" fill="#ce0000"/>
<path d="M4065 414 4087 426 4107 395 4086 390Z" fill="#f60e00"/>
<path d="M4726 407 4748 431 4769 413 4747 382Z" fill="#fe0e00"/>
<path d="M4492 429 4511 373 4530 355 4510 358Z" fill="#de0000"/>
<path d="M4252 384 4274 378 4294 358 4272 355Z" fill="#d60000"/>
<path d="M4014 418 4036 410 4056 442 4035 438Z" fill="#ee2200"/>
<path d="M4676 413 4697 441 4718 429 4696 411Z" fill="#fa1e00"/>
<path d="M4438 426 4460 442 4481 434 4459 419Z" fill="#fa2600"/>
<path d="M4201 427 4223 441 4244 433 4222 417Z" fill="#ee2600"/>
<path d="M4862 415 4885 433 4904 446 4883 419Z" fill="#ee2200"/>
<path d="M3964 447 3986 446 4006 430 3983 446Z" fill="#ea2e00"/>
<path d="M4625 429 4646 440 4667 419 4646 409Z" fill="#f61e00"/>
<path d="M4387 431 4409 440 4430 432 4408 416Z" fill="#fa2600"/>
<path d="M4150 367 4172 369 4192 390 4170 371Z" fill="#d60000"/>
<path d="M4811 430 4833 411 4854 414 4832 428Z" fill="#f21a00"/>
<path d="M3913 458 3938 457 3955 449 3931 458Z" fill="#ea3a00"/>
<path d="M4574 398 4596 381 4616 397 4595 373Z" fill="#ea0000"/>
<path d="M4338 357 4362 381 4377 416 4357 361Z" fill="#de0000"/>
<path d="M4099 398 4121 406 4142 386 4120 381Z" fill="#f20000"/>
<path d="M4761 410 4782 445 4802 436 4781 397Z" fill="#fa1a00"/>
<path d="M4525 354 4545 370 4563 437 4544 359Z" fill="#de0000"/>
<path d="M4286 360 4308 368 4329 359 4306 351Z" fill="#ca0000"/>
<path d="M4049 442 4070 450 4091 420 4069 408Z" fill="#f62200"/>
<path d="M4710 429 4731 437 4752 427 4730 402Z" fill="#fa1a00"/>
<path d="M4473 436 4494 438 4512 373 4493 429Z" fill="#ee1200"/>
<path d="M4237 436 4257 443 4275 370 4256 377Z" fill="#f20a00"/>
<path d="M3998 435 4020 415 4040 412 4018 415Z" fill="#ea1600"/>
<path d="M4659 418 4681 447 4701 439 4680 410Z" fill="#fa1e00"/>
<path d="M4421 431 4443 446 4464 438 4442 422Z" fill="#f62600"/>
<path d="M4186 384 4206 398 4225 440 4205 432Z" fill="#e20e00"/>
<path d="M4845 414 4868 427 4888 431 4866 413Z" fill="#ee1600"/>
<path d="M3947 451 3973 445 3990 441 3963 447Z" fill="#ea2e00"/>
<path d="M4680 416 4697 416 4692 592 4690 920 4687 920 4685 592Z" fill="url(#sg)"/>
<path d="M4610 392 4630 438 4650 438 4629 433Z" fill="#ee1600"/>
<path d="M4372 408 4392 448 4413 436 4389 434Z" fill="#ee1e00"/>
<path d="M4133 390 4155 396 4176 372 4154 364Z" fill="#e20000"/>
<path d="M4795 436 4816 415 4837 413 4815 432Z" fill="#f21600"/>
<path d="M3896 450 3918 462 3939 454 3916 462Z" fill="#ea3600"/>
<path d="M4559 437 4579 436 4598 382 4578 392Z" fill="#ee0a00"/>
<path d="M4320 357 4342 373 4362 382 4341 356Z" fill="#ce0000"/>
<path d="M4083 424 4104 437 4125 399 4103 393Z" fill="#fa0e00"/>
<path d="M4744 425 4765 451 4786 442 4765 408Z" fill="#fa1e00"/>
<path d="M4506 379 4528 379 4549 375 4527 354Z" fill="#ce0000"/>
<path d="M4269 375 4291 378 4312 362 4290 355Z" fill="#d20000"/>
<path d="M4033 411 4054 417 4073 449 4053 444Z" fill="#ee1e00"/>
<path d="M4693 438 4715 440 4736 433 4714 424Z" fill="#fa2200"/>
<path d="M4455 437 4477 447 4498 432 4476 429Z" fill="#f22200"/>
<path d="M4218 436 4240 449 4261 439 4239 427Z" fill="#ee2600"/>
<path d="M4881 425 4901 462 4920 482 4900 438Z" fill="#ea3200"/>
<path d="M3981 444 4005 436 4023 416 4001 437Z" fill="#ea1e00"/>
<path d="M4642 435 4664 452 4685 444 4663 416Z" fill="#f62200"/>
<path d="M4405 435 4429 440 4447 442 4425 427Z" fill="#f22200"/>
<path d="M4168 371 4189 374 4209 405 4188 392Z" fill="#d60000"/>
<path d="M4828 415 4851 424 4871 424 4849 411Z" fill="#ee0e00"/>
<path d="M3930 455 3956 449 3973 445 3947 451Z" fill="#ee2e00"/>
<path d="M4592 382 4613 387 4632 437 4612 391Z" fill="#e60000"/>
<path d="M4356 375 4376 435 4395 447 4375 407Z" fill="#ea0a00"/>
<path d="M4117 403 4138 411 4159 390 4137 383Z" fill="#ee0000"/>
<path d="M4778 443 4800 423 4820 417 4798 438Z" fill="#f21a00"/>
<path d="M3879 443 3905 453 3922 459 3896 449Z" fill="#ea2e00"/>
<path d="M4543 370 4562 396 4582 435 4561 438Z" fill="#ea0600"/>
<path d="M4303 363 4325 374 4346 369 4324 355Z" fill="#ca0000"/>
<path d="M4066 448 4088 457 4108 431 4087 417ZM4727 431 4749 456 4769 448 4748 422Z" fill="#f62200"/>
<path d="M4492 437 4512 406 4531 371 4511 373Z" fill="#e20000"/>
<path d="M4255 443 4274 419 4293 370 4273 369Z" fill="#ea0000"/>
<path d="M4015 419 4038 425 4058 422 4036 410Z" fill="#ee0e00"/>
<path d="M4752 426 4762 426 4760 602 4758 928 4756 928 4753 602Z" fill="url(#sg)"/>
<path d="M4676 443 4698 430 4719 435 4694 433Z" fill="#f61e00"/>
<path d="M4439 442 4461 433 4482 443 4459 433Z" fill="#ee2200"/>
<path d="M4203 399 4224 419 4243 448 4222 441Z" fill="#e61200"/>
<path d="M4864 420 4885 450 4904 461 4884 425Z" fill="#ee1e00"/>
<path d="M3964 447 3987 446 4007 430 3984 446Z" fill="#ee2200"/>
<path d="M4626 431 4647 452 4668 449 4646 431Z" fill="#ea2200"/>
<path d="M4389 446 4410 406 4431 438 4409 440Z" fill="#ea1600"/>
<path d="M4151 393 4172 400 4193 378 4172 369Z" fill="#da0000"/>
<path d="M4812 420 4834 425 4855 420 4832 411Z" fill="#f20a00"/>
<path d="M3913 458 3936 460 3956 449 3930 454Z" fill="#ee2e00"/>
<path d="M4645 428 4666 428 4659 627 4656 997 4654 997 4652 627Z" fill="url(#sg)"/>
<path d="M4577 435 4597 396 4617 389 4595 381Z" fill="#e20000"/>
<path d="M4339 365 4359 380 4377 434 4358 375Z" fill="#d60000"/>
<path d="M4100 435 4122 447 4142 404 4121 397Z" fill="#fa0e00"/>
<path d="M4761 449 4783 426 4803 426 4782 445Z" fill="#f21a00"/>
<path d="M3863 438 3888 442 3905 453 3881 441Z" fill="#ea2600"/>
<path d="M4524 373 4548 379 4565 404 4545 370Z" fill="#d20000"/>
<path d="M4286 374 4308 382 4329 369 4307 359Z" fill="#ce0000"/>
<path d="M4050 418 4071 449 4091 455 4070 450ZM4711 433 4732 461 4753 453 4731 428Z" fill="#f22200"/>
<path d="M4474 445 4495 440 4514 398 4494 438Z" fill="#ee1200"/>
<path d="M4236 447 4257 458 4277 411 4255 443Z" fill="#f21e00"/>
<path d="M4898 454 4919 484 4938 499 4915 482Z" fill="#e64200"/>
<path d="M3998 434 4021 430 4041 419 4019 414Z" fill="#f60e00"/>
<path d="M4660 449 4681 418 4702 434 4680 447Z" fill="#ee1a00"/>
<path d="M4422 435 4444 460 4465 436 4442 437Z" fill="#ea1e00"/>
<path d="M4186 376 4207 381 4226 427 4205 407Z" fill="#d60000"/>
<path d="M4846 417 4868 441 4888 448 4867 418Z" fill="#f21200"/>
<path d="M3947 451 3969 456 3990 440 3967 441Z" fill="#f22600"/>
<path d="M4610 388 4630 395 4649 451 4630 438Z" fill="#e20600"/>
<path d="M4371 429 4393 460 4412 406 4392 448Z" fill="#ea1600"/>
<path d="M4134 408 4156 418 4177 394 4155 387Z" fill="#ea0000"/>
<path d="M4795 429 4817 431 4838 420 4816 415Z" fill="#f20a00"/>
<path d="M3897 450 3919 462 3940 455 3917 462Z" fill="#ee2a00"/>
<path d="M4559 397 4580 457 4599 397 4579 436Z" fill="#ee0600"/>
<path d="M4321 368 4343 384 4363 387 4341 364Z" fill="#ca0000"/>
<path d="M4083 454 4105 463 4126 442 4104 428Z" fill="#fa2200"/>
<path d="M4745 454 4766 418 4787 429 4765 451Z" fill="#ea1600"/>
<path d="M3846 433 3872 439 3889 446 3863 437Z" fill="#ea1a00"/>
<path d="M4508 404 4529 403 4550 381 4528 370Z" fill="#da0000"/>
<path d="M4271 418 4291 411 4311 375 4291 369Z" fill="#de0000"/>
<path d="M4033 417 4054 455 4075 447 4053 417Z" fill="#f61600"/>
<path d="M4694 432 4715 466 4736 458 4714 431Z" fill="#ee2200"/>
<path d="M4456 439 4478 409 4499 436 4477 447Z" fill="#ea1200"/>
<path d="M4220 420 4241 451 4261 456 4239 449Z" fill="#ea1a00"/>
<path d="M4881 442 4906 458 4921 483 4901 453Z" fill="#ea2e00"/>
<path d="M3981 442 4003 463 4023 423 4002 427Z" fill="#fa1a00"/>
<path d="M4643 450 4664 416 4685 420 4664 452Z" fill="#e21200"/>
<path d="M4407 407 4427 409 4446 459 4426 441Z" fill="#e60e00"/>
<path d="M4168 397 4190 404 4211 384 4189 374Z" fill="#d60000"/>
<path d="M4829 419 4851 438 4872 439 4850 415Z" fill="#f60a00"/>
<path d="M3931 456 3953 445 3974 451 3951 446Z" fill="#ee2600"/>
<path d="M4592 402 4614 391 4635 401 4613 387Z" fill="#d20000"/>
<path d="M4357 381 4376 404 4395 460 4375 435Z" fill="#e60200"/>
<path d="M4118 446 4139 457 4159 410 4138 402Z" fill="#fa0e00"/>
<path d="M4778 430 4800 448 4821 425 4799 423Z" fill="#f20e00"/>
<path d="M3880 443 3906 453 3923 459 3897 449Z" fill="#ea2200"/>
<path d="M4543 379 4563 394 4581 457 4562 396Z" fill="#e60000"/>
<path d="M4304 378 4326 390 4347 380 4325 365Z" fill="#ce0000"/>
<path d="M4067 443 4088 467 4109 460 4087 448Z" fill="#fa2600"/>
<path d="M4729 460 4749 417 4769 419 4748 456Z" fill="#ea1200"/>
<path d="M3829 432 3853 431 3872 441 3848 431Z" fill="#ee1200"/>
<path d="M4491 438 4512 439 4532 395 4511 397Z" fill="#ee0000"/>
<path d="M4254 457 4275 466 4294 403 4274 410Z" fill="#f60e00"/>
<path d="M4915 477 4936 500 4957 488 4935 500Z" fill="#ea4600"/>
<path d="M4016 423 4037 460 4058 453 4037 416Z" fill="#fe1600"/>
<path d="M4678 420 4701 435 4718 465 4698 430Z" fill="#ea1200"/>
<path d="M4441 458 4461 453 4480 410 4459 433Z" fill="#e61200"/>
<path d="M4204 382 4224 388 4243 450 4223 428Z" fill="#da0000"/>
<path d="M4441 437 4455 437 4452 598 4449 896 4447 896 4445 598Z" fill="url(#sg)"/>
<path d="M4864 434 4886 455 4905 463 4884 441Z" fill="#ee1a00"/>
<path d="M3965 451 3987 459 4007 461 3986 437Z" fill="#f22200"/>
<path d="M4627 396 4648 402 4669 421 4647 452Z" fill="#de0000"/>
<path d="M4391 460 4411 434 4431 410 4410 406Z" fill="#ea0600"/>
<path d="M4151 415 4173 425 4194 398 4172 391Z" fill="#ea0000"/>
<path d="M4812 426 4834 442 4855 435 4833 416Z" fill="#fa0a00"/>
<path d="M3914 459 3939 451 3957 449 3934 460Z" fill="#ea2200"/>
<path d="M4577 457 4597 446 4616 391 4596 396Z" fill="#ee0000"/>
<path d="M4338 377 4362 395 4379 412 4359 380Z" fill="#ce0000"/>
<path d="M4100 460 4122 469 4143 452 4121 438Z" fill="#fa2200"/>
<path d="M4388 426 4398 426 4397 642 4394 1045 4392 1045 4390 642Z" fill="url(#sg)"/>
<path d="M4762 420 4785 437 4804 446 4782 426Z" fill="#ee0a00"/>
<path d="M3863 438 3889 443 3906 453 3882 441Z" fill="#ee1a00"/>
<path d="M4524 399 4546 408 4567 400 4545 378ZM4288 409 4309 411 4329 384 4308 373Z" fill="#d60000"/>
<path d="M4050 449 4072 470 4092 464 4071 440Z" fill="#fa2200"/>
<path d="M4712 465 4734 452 4752 418 4732 461Z" fill="#ea1600"/>
<path d="M3812 440 3835 442 3855 435 3833 428Z" fill="#f60e00"/>
<path d="M4474 411 4495 416 4516 437 4494 440Z" fill="#ee0200"/>
<path d="M4237 444 4258 467 4279 463 4257 449Z" fill="#ee2200"/>
<path d="M4899 457 4920 485 4939 499 4916 483Z" fill="#ea3600"/>
<path d="M3999 460 4021 475 4042 457 4020 421Z" fill="#f61e00"/>
<path d="M4660 419 4682 415 4702 442 4681 418Z" fill="#e60200"/>
<path d="M4425 409 4445 445 4465 450 4444 460Z" fill="#ea0e00"/>
<path d="M4185 401 4207 410 4228 392 4206 381Z" fill="#d20000"/>
<path d="M4847 432 4869 451 4889 453 4867 432Z" fill="#f21200"/>
<path d="M3948 450 3970 441 3991 456 3968 455Z" fill="#ea1a00"/>
<path d="M4609 394 4631 392 4652 409 4627 403Z" fill="#d20000"/>
<path d="M4374 405 4394 459 4414 428 4393 460Z" fill="#ea0e00"/>
<path d="M4136 456 4156 467 4176 417 4156 409Z" fill="#f60e00"/>
<path d="M4796 443 4818 470 4838 436 4817 422Z" fill="#fa1200"/>
<path d="M3897 450 3919 462 3940 454 3918 462Z" fill="#ee1e00"/>
<path d="M4561 395 4583 435 4601 444 4579 457Z" fill="#ee0600"/>
<path d="M4321 385 4343 401 4364 392 4342 375Z" fill="#ce0000"/>
<path d="M4084 462 4106 476 4127 465 4105 454Z" fill="#f62a00"/>
<path d="M4745 421 4768 419 4787 435 4765 418Z" fill="#ea0000"/>
<path d="M3847 433 3868 461 3889 445 3867 435Z" fill="#f61200"/>
<path d="M4509 438 4529 434 4550 400 4529 394Z" fill="#ea0000"/>
<path d="M4272 466 4292 474 4311 403 4291 402Z" fill="#f60a00"/>
<path d="M4393 423 4402 423 4401 630 4399 1014 4396 1014 4394 630Z" fill="url(#sg)"/>
<path d="M4932 497 4957 487 4974 480 4948 490Z" fill="#ea3e00"/>
<path d="M4033 455 4055 468 4076 467 4054 446Z" fill="#f62200"/>
<path d="M4695 436 4716 483 4737 446 4715 466Z" fill="#ea1e00"/>
<path d="M4707 440 4724 440 4719 598 4717 890 4714 890 4712 598Z" fill="url(#sg)"/>
<path d="M3795 446 3818 456 3838 436 3816 434Z" fill="#fa1200"/>
<path d="M4458 452 4479 414 4500 419 4478 409Z" fill="#ea0000"/>
<path d="M4222 389 4241 396 4260 466 4240 451Z" fill="#de0000"/>
<path d="M4881 449 4903 447 4922 484 4900 456Z" fill="#ea1e00"/>
<path d="M3982 455 4004 427 4024 474 4003 463Z" fill="#ea1a00"/>
<path d="M4644 405 4666 409 4686 421 4664 425Z" fill="#da0000"/>
<path d="M4406 430 4428 419 4448 444 4427 409Z" fill="#ea0000"/>
<path d="M4169 422 4190 432 4211 403 4190 395Z" fill="#e60000"/>
<path d="M4830 436 4852 453 4873 447 4851 429Z" fill="#fa0e00"/>
<path d="M3931 455 3957 449 3974 444 3948 451Z" fill="#ea1600"/>
<path d="M4595 445 4615 419 4634 393 4613 390Z" fill="#de0000"/>
<path d="M4357 388 4377 401 4395 459 4376 404Z" fill="#da0000"/>
<path d="M4118 466 4140 474 4161 462 4139 448Z" fill="#fa2200"/>
<path d="M4781 429 4801 491 4821 467 4800 439ZM3881 442 3902 472 3923 459 3901 447Z" fill="#f61a00"/>
<path d="M4542 401 4564 422 4583 435 4563 394Z" fill="#de0000"/>
<path d="M4305 408 4326 416 4347 395 4325 381Z" fill="#d60000"/>
<path d="M4067 466 4089 459 4110 473 4088 458Z" fill="#f22600"/>
<path d="M4729 451 4750 422 4771 422 4749 417Z" fill="#ea0000"/>
<path d="M3830 435 3852 470 3872 458 3851 430Z" fill="#fa1200"/>
<path d="M4492 417 4513 455 4534 428 4511 439Z" fill="#f20200"/>
<path d="M4254 461 4275 478 4296 471 4274 457Z" fill="#ea2200"/>
<path d="M4915 479 4937 500 4958 488 4936 500Z" fill="#ea3a00"/>
<path d="M4017 473 4038 438 4059 465 4037 451Z" fill="#ea1a00"/>
<path d="M4679 416 4700 455 4718 483 4698 435Z" fill="#ea0e00"/>
<path d="M3779 452 3801 467 3822 451 3800 441Z" fill="#fa1600"/>
<path d="M4440 440 4462 466 4481 415 4461 453Z" fill="#ee0a00"/>
<path d="M4203 406 4225 415 4246 400 4224 388Z" fill="#ce0000"/>
<path d="M4864 445 4888 455 4907 452 4884 455Z" fill="#ee1200"/>
<path d="M3965 446 3988 437 4008 429 3986 459Z" fill="#e60a00"/>
<path d="M4627 394 4649 399 4669 416 4647 411Z" fill="#d20000"/>
<path d="M4390 457 4411 483 4430 420 4410 425Z" fill="#f20e00"/>
<path d="M4153 465 4174 475 4193 424 4173 416Z" fill="#f60e00"/>
<path d="M4813 467 4835 481 4856 447 4834 433Z" fill="#fa1a00"/>
<path d="M3914 458 3936 478 3957 447 3935 449Z" fill="#f61a00"/>
<path d="M4576 429 4598 489 4617 410 4596 437Z" fill="#f20a00"/>
<path d="M4338 395 4360 413 4381 407 4359 387Z" fill="#ce0000"/>
<path d="M4101 472 4123 484 4144 469 4122 460Z" fill="#f22600"/>
<path d="M4764 420 4785 455 4803 490 4783 428Z" fill="#f20e00"/>
<path d="M3864 455 3886 471 3906 470 3885 440Z" fill="#f61a00"/>
<path d="M4525 431 4547 436 4568 417 4546 399Z" fill="#e60000"/>
<path d="M4290 474 4309 482 4328 408 4309 402Z" fill="#f60600"/>
<path d="M4949 490 4975 479 4991 472 4966 483Z" fill="#ee2e00"/>
<path d="M4050 465 4072 440 4093 464 4071 470Z" fill="#e61a00"/>
<path d="M4714 482 4734 442 4753 422 4732 444Z" fill="#ee0e00"/>
<path d="M3813 451 3835 475 3855 467 3834 433Z" fill="#f61600"/>
<path d="M4475 417 4496 418 4515 454 4495 416Z" fill="#ea0000"/>
<path d="M4239 396 4259 403 4277 478 4258 467Z" fill="#e20000"/>
<path d="M4900 448 4920 487 4940 499 4919 485Z" fill="#e62a00"/>
<path d="M4000 429 4021 417 4042 443 4021 475Z" fill="#e20600"/>
<path d="M4662 410 4683 437 4702 454 4682 415Z" fill="#e20000"/>
<path d="M3762 460 3784 468 3805 463 3783 448Z" fill="#f61a00"/>
<path d="M4424 420 4445 425 4464 466 4444 445Z" fill="#f60200"/>
<path d="M4186 429 4208 439 4228 409 4207 401Z" fill="#e60000"/>
<path d="M4847 448 4869 461 4890 450 4868 442Z" fill="#f60e00"/>
<path d="M3949 451 3975 444 3992 440 3965 447Z" fill="#ee0a00"/>
<path d="M4610 416 4632 416 4653 402 4631 392Z" fill="#d20000"/>
<path d="M4375 402 4394 419 4413 482 4394 459Z" fill="#ea0200"/>
<path d="M4135 469 4157 477 4178 472 4156 458Z" fill="#f62200"/>
<path d="M4796 487 4818 508 4839 475 4817 461Z" fill="#fa2e00"/>
<path d="M3898 468 3920 481 3941 474 3919 453Z" fill="#f62200"/>
<path d="M4561 414 4583 440 4599 489 4580 427Z" fill="#f60600"/>
<path d="M4322 412 4344 424 4365 408 4343 392Z" fill="#da0000"/>
<path d="M4279 459 4289 459 4287 670 4285 1063 4283 1063 4280 670Z" fill="url(#sg)"/>
<path d="M4084 463 4106 442 4126 482 4105 476Z" fill="#e61a00"/>
<path d="M4746 424 4768 447 4787 454 4767 419Z" fill="#ee0000"/>
<path d="M3847 466 3869 445 3890 469 3868 452Z" fill="#ee1600"/>
<path d="M4508 452 4530 482 4550 428 4529 425Z" fill="#f60600"/>
<path d="M4402 462 4420 462 4414 617 4412 904 4410 904 4407 617Z" fill="url(#sg)"/>
<path d="M4271 473 4293 488 4314 477 4292 465Z" fill="#ea2600"/>
<path d="M4932 497 4958 486 4975 479 4949 490Z" fill="#ea2e00"/>
<path d="M4033 442 4055 424 4077 445 4055 468Z" fill="#e20600"/>
<path d="M4696 448 4717 482 4736 443 4716 483Z" fill="#ee1600"/>
<path d="M3796 463 3819 470 3839 472 3817 447Z" fill="#f21600"/>
<path d="M4592 468 4603 468 4601 685 4599 1089 4596 1089 4594 685Z" fill="url(#sg)"/>
<path d="M4459 466 4479 449 4499 420 4478 414Z" fill="#ea0000"/>
<path d="M4220 411 4242 421 4263 408 4241 396Z" fill="#ce0000"/>
<path d="M4882 448 4903 448 4922 486 4902 447Z" fill="#ea1200"/>
<path d="M3983 443 4006 426 4025 420 4000 433Z" fill="#de0000"/>
<path d="M4645 400 4667 422 4686 435 4665 409Z" fill="#d60000"/>
<path d="M3745 470 3769 469 3788 463 3766 456Z" fill="#ee1a00"/>
<path d="M4408 482 4428 489 4448 426 4428 419Z" fill="#f60e00"/>
<path d="M4171 474 4191 484 4211 432 4190 423Z" fill="#fa0e00"/>
<path d="M4831 479 4852 496 4873 454 4851 444Z" fill="#fa1a00"/>
<path d="M3932 476 3954 488 3974 442 3953 445Z" fill="#f61600"/>
<path d="M4596 489 4615 487 4633 408 4614 410Z" fill="#f20600"/>
<path d="M4356 407 4378 426 4398 425 4377 401Z" fill="#d20000"/>
<path d="M4118 480 4140 491 4161 471 4139 465Z" fill="#ee2200"/>
<path d="M4805 483 4823 483 4817 655 4815 974 4813 974 4810 655Z" fill="url(#sg)"/>
<path d="M4782 447 4802 493 4821 507 4800 491Z" fill="#ee2600"/>
<path d="M3881 467 3903 447 3923 479 3902 472Z" fill="#ea1600"/>
<path d="M4542 431 4564 447 4585 446 4563 413Z" fill="#ea0000"/>
<path d="M4307 481 4327 487 4346 416 4326 407Z" fill="#f60600"/>
<path d="M4966 482 4988 469 5009 489 4987 470Z" fill="#ee2200"/>
<path d="M4068 444 4090 436 4111 446 4089 468Z" fill="#e20600"/>
<path d="M4729 447 4751 457 4772 443 4750 422Z" fill="#f20000"/>
<path d="M3831 473 3852 446 3873 447 3851 470Z" fill="#ea1200"/>
<path d="M4493 419 4513 437 4532 481 4512 455Z" fill="#f20600"/>
<path d="M4257 404 4276 412 4294 488 4275 478Z" fill="#e20200"/>
<path d="M4916 480 4937 500 4958 488 4936 500Z" fill="#ea2e00"/>
<path d="M4017 420 4039 416 4060 428 4038 447Z" fill="#d60000"/>
<path d="M4680 428 4700 496 4720 481 4699 446ZM3779 464 3802 454 3822 466 3797 465Z" fill="#ee1200"/>
<path d="M4442 427 4463 435 4484 444 4462 466Z" fill="#f60000"/>
<path d="M4204 437 4225 447 4246 415 4224 406Z" fill="#e20000"/>
<path d="M4864 457 4886 468 4907 451 4885 446Z" fill="#f60a00"/>
<path d="M3966 446 3988 454 4008 428 3984 438Z" fill="#ee0000"/>
<path d="M4596 464 4608 464 4606 672 4603 1058 4601 1058 4599 672Z" fill="url(#sg)"/>
<path d="M4627 411 4649 424 4670 419 4648 399Z" fill="#d20000"/>
<path d="M3729 475 3753 465 3772 464 3746 467Z" fill="#ea1a00"/>
<path d="M4392 419 4412 440 4431 488 4411 483Z" fill="#ea0a00"/>
<path d="M4152 472 4177 478 4195 481 4173 466Z" fill="#f61e00"/>
<path d="M4814 506 4836 507 4857 491 4835 472Z" fill="#f63200"/>
<path d="M3915 476 3937 491 3958 485 3936 469Z" fill="#f62600"/>
<path d="M4579 440 4598 501 4619 484 4597 489Z" fill="#f21e00"/>
<path d="M4339 420 4361 435 4382 421 4360 404Z" fill="#de0000"/>
<path d="M4103 443 4124 441 4143 490 4123 484Z" fill="#e21200"/>
<path d="M4764 439 4785 478 4804 492 4784 447Z" fill="#f21200"/>
<path d="M3864 448 3886 444 3907 451 3885 471Z" fill="#ea0600"/>
<path d="M4527 481 4548 465 4568 440 4547 427Z" fill="#f60600"/>
<path d="M4288 484 4310 499 4331 482 4309 473Z" fill="#ea2600"/>
<path d="M4950 490 4975 479 4992 472 4966 483Z" fill="#ee2200"/>
<path d="M4051 427 4073 421 4094 441 4072 449Z" fill="#d60000"/>
<path d="M4713 481 4734 474 4755 451 4733 442Z" fill="#fa0e00"/>
<path d="M3814 466 3836 453 3856 449 3835 475Z" fill="#ea0e00"/>
<path d="M4475 446 4497 452 4518 442 4496 418Z" fill="#e60000"/>
<path d="M4237 417 4259 427 4280 416 4258 403Z" fill="#ca0000"/>
<path d="M4413 458 4435 458 4428 636 4425 968 4423 968 4421 636Z" fill="url(#sg)"/>
<path d="M4901 449 4921 488 4940 498 4919 487Z" fill="#ea1e00"/>
<path d="M4000 431 4022 437 4043 419 4021 417Z" fill="#da0000"/>
<path d="M4663 414 4686 451 4701 496 4682 428Z" fill="#ea0000"/>
<path d="M3763 466 3785 454 3806 457 3783 468Z" fill="#ee0e00"/>
<path d="M4426 488 4446 474 4466 436 4445 425Z" fill="#f60600"/>
<path d="M4188 483 4208 492 4228 439 4208 430Z" fill="#fa0e00"/>
<path d="M4848 494 4870 514 4890 461 4869 452Z" fill="#fa2200"/>
<path d="M3950 487 3971 496 3991 446 3970 441Z" fill="#f61200"/>
<path d="M4613 487 4632 465 4652 416 4632 407Z" fill="#ee0000"/>
<path d="M3712 465 3734 479 3755 468 3733 479Z" fill="#ea1600"/>
<path d="M4374 419 4395 438 4415 447 4394 419Z" fill="#da0000"/>
<path d="M4136 488 4158 497 4179 473 4157 468Z" fill="#ee1e00"/>
<path d="M4797 488 4819 460 4839 505 4818 508Z" fill="#e62600"/>
<path d="M3900 448 3920 488 3941 489 3919 481Z" fill="#ee1a00"/>
<path d="M4561 439 4583 467 4600 500 4581 439Z" fill="#f20a00"/>
<path d="M4324 486 4344 492 4363 427 4343 415Z" fill="#f60200"/>
<path d="M4985 471 5006 499 5025 511 5004 483Z" fill="#ee2600"/>
<path d="M4085 439 4108 437 4128 446 4106 451Z" fill="#da0000"/>
<path d="M4747 450 4768 514 4789 474 4767 438Z" fill="#fa1200"/>
<path d="M3848 451 3870 460 3891 448 3868 445Z" fill="#f20000"/>
<path d="M4511 438 4531 493 4552 458 4530 482Z" fill="#f20e00"/>
<path d="M4274 412 4293 420 4312 498 4293 488Z" fill="#e20200"/>
<path d="M4933 497 4959 486 4975 479 4950 490Z" fill="#ee2200"/>
<path d="M4034 419 4057 431 4077 426 4055 433Z" fill="#d20000"/>
<path d="M4601 473 4621 473 4614 683 4612 1073 4610 1073 4607 683Z" fill="url(#sg)"/>
<path d="M4696 493 4717 508 4737 466 4716 473Z" fill="#f62200"/>
<path d="M3797 457 3819 470 3840 456 3818 470Z" fill="#ee0a00"/>
<path d="M4458 438 4480 454 4501 448 4478 440Z" fill="#ee0000"/>
<path d="M4221 445 4243 455 4263 421 4242 412Z" fill="#e20000"/>
<path d="M4882 463 4904 479 4924 487 4903 448Z" fill="#f60e00"/>
<path d="M3984 451 4005 464 4026 431 4004 426Z" fill="#ea0000"/>
<path d="M4645 417 4667 443 4686 451 4666 413Z" fill="#de0000"/>
<path d="M3746 470 3768 456 3789 457 3766 470Z" fill="#ee0a00"/>
<path d="M4409 440 4429 489 4450 469 4428 489Z" fill="#ee1200"/>
<path d="M4170 473 4192 474 4213 490 4189 475Z" fill="#f61a00"/>
<path d="M4831 502 4855 496 4874 512 4852 487Z" fill="#ee2e00"/>
<path d="M3933 485 3955 501 3976 492 3953 479Z" fill="#fa2600"/>
<path d="M4594 498 4616 518 4635 457 4615 478Z" fill="#f22200"/>
<path d="M3696 456 3721 468 3738 476 3712 464Z" fill="#ea0e00"/>
<path d="M4356 430 4378 448 4399 434 4377 417Z" fill="#de0000"/>
<path d="M4121 442 4141 446 4160 496 4140 491Z" fill="#e20e00"/>
<path d="M4780 474 4802 455 4823 462 4801 493Z" fill="#ea0e00"/>
<path d="M3883 445 3904 493 3924 487 3903 447Z" fill="#f60e00"/>
<path d="M4543 461 4567 450 4586 464 4564 438Z" fill="#ee0000"/>
<path d="M4306 495 4328 510 4348 486 4327 478Z" fill="#ea2600"/>
<path d="M4423 457 4443 457 4437 638 4434 973 4432 973 4430 638Z" fill="url(#sg)"/>
<path d="M4967 480 4989 495 5009 497 4988 469Z" fill="#f21e00"/>
<path d="M4069 424 4090 426 4111 443 4089 445Z" fill="#d20000"/>
<path d="M4731 466 4751 525 4771 513 4751 448Z" fill="#fa2200"/>
<path d="M3831 457 3853 469 3874 455 3852 446Z" fill="#f60200"/>
<path d="M4493 445 4515 466 4533 492 4513 437Z" fill="#f20200"/>
<path d="M4255 423 4277 434 4298 425 4276 412Z" fill="#ca0000"/>
<path d="M4916 482 4938 499 4959 487 4937 500Z" fill="#f22200"/>
<path d="M4017 433 4039 451 4060 425 4038 416Z" fill="#de0000"/>
<path d="M4681 444 4700 524 4721 506 4699 496Z" fill="#f22200"/>
<path d="M3780 457 3802 479 3823 465 3801 454Z" fill="#f20a00"/>
<path d="M4442 472 4463 463 4484 449 4462 435Z" fill="#f20000"/>
<path d="M4205 491 4226 501 4246 447 4225 438Z" fill="#fa0e00"/>
<path d="M4866 513 4887 530 4907 471 4886 459Z" fill="#fe2600"/>
<path d="M3968 494 3989 505 4008 456 3988 445Z" fill="#fa1200"/>
<path d="M4629 463 4650 481 4670 437 4649 415Z" fill="#ee0000"/>
<path d="M3730 476 3754 472 3772 459 3749 473Z" fill="#f20a00"/>
<path d="M4392 431 4413 443 4431 488 4411 440Z" fill="#e60000"/>
<path d="M4153 494 4175 501 4196 476 4174 470Z" fill="#ee1a00"/>
<path d="M4816 461 4836 459 4856 504 4835 507Z" fill="#e21600"/>
<path d="M3916 482 3938 504 3959 497 3937 482Z" fill="#fa2200"/>
<path d="M4579 459 4599 476 4618 517 4598 501Z" fill="#ee1e00"/>
<path d="M3679 447 3701 465 3721 468 3698 454Z" fill="#ee0000"/>
<path d="M4700 484 4709 484 4708 661 4706 989 4703 989 4701 661Z" fill="url(#sg)"/>
<path d="M4341 491 4362 498 4381 440 4361 426Z" fill="#f60600"/>
<path d="M5002 492 5023 537 5043 530 5022 503Z" fill="#f63a00"/>
<path d="M4102 440 4125 451 4145 451 4120 442Z" fill="#da0000"/>
<path d="M4766 513 4785 464 4805 456 4784 469Z" fill="#f21200"/>
<path d="M3866 452 3887 496 3907 492 3886 444Z" fill="#fa0e00"/>
<path d="M4527 490 4548 523 4567 450 4547 456Z" fill="#f61600"/>
<path d="M4292 420 4311 429 4329 509 4310 499Z" fill="#e20200"/>
<path d="M4950 488 4972 498 4993 491 4971 476Z" fill="#f61e00"/>
<path d="M4052 426 4074 444 4095 430 4072 421Z" fill="#d60000"/>
<path d="M3950 480 3959 480 3958 655 3956 981 3953 981 3951 655Z" fill="url(#sg)"/>
<path d="M4713 504 4735 516 4754 524 4734 465Z" fill="#f62a00"/>
<path d="M3814 465 3836 475 3857 464 3835 453Z" fill="#f60600"/>
<path d="M4476 449 4497 467 4518 464 4496 443Z" fill="#f20000"/>
<path d="M4239 453 4260 463 4280 427 4259 418Z" fill="#e20000"/>
<path d="M4900 471 4921 505 4942 496 4920 479Z" fill="#fa1a00"/>
<path d="M4001 460 4023 501 4043 444 4022 428Z" fill="#f60000"/>
<path d="M4664 435 4684 489 4702 523 4683 443ZM3764 458 3785 489 3806 476 3784 454Z" fill="#f60a00"/>
<path d="M4425 485 4446 520 4466 455 4446 465Z" fill="#f21600"/>
<path d="M4188 476 4210 479 4230 498 4207 492Z" fill="#f61a00"/>
<path d="M4849 498 4871 505 4890 529 4869 505Z" fill="#ee3200"/>
<path d="M3950 496 3972 508 3993 501 3971 487Z" fill="#fa2600"/>
<path d="M4613 517 4633 525 4653 473 4632 456Z" fill="#f61e00"/>
<path d="M3713 465 3735 479 3756 468 3733 479Z" fill="#f20a00"/>
<path d="M4374 443 4396 462 4417 448 4395 429Z" fill="#e20000"/>
<path d="M4436 474 4447 474 4445 684 4443 1072 4441 1072 4438 684Z" fill="url(#sg)"/>
<path d="M4138 446 4158 454 4178 500 4158 497Z" fill="#e20a00"/>
<path d="M4798 459 4820 451 4841 464 4818 469Z" fill="#e20000"/>
<path d="M3899 488 3921 510 3942 501 3920 479Z" fill="#fa2200"/>
<path d="M4753 496 4767 496 4763 702 4761 1084 4759 1084 4756 702Z" fill="url(#sg)"/>
<path d="M4561 452 4582 453 4602 483 4580 458Z" fill="#ea0000"/>
<path d="M3662 453 3684 476 3705 461 3683 445Z" fill="#f60000"/>
<path d="M4323 506 4345 521 4366 492 4344 483Z" fill="#ea2600"/>
<path d="M4986 487 5006 545 5026 536 5005 490Z" fill="#fa3600"/>
<path d="M4086 428 4109 444 4128 449 4106 446Z" fill="#d60000"/>
<path d="M4748 524 4769 509 4787 464 4768 514Z" fill="#ee2600"/>
<path d="M3849 463 3870 482 3890 495 3869 451Z" fill="#f60a00"/>
<path d="M4512 458 4531 506 4550 523 4530 484Z" fill="#f21e00"/>
<path d="M4272 429 4294 441 4315 434 4293 420Z" fill="#ca0000"/>
<path d="M4933 494 4955 515 4976 493 4954 483Z" fill="#fa2200"/>
<path d="M4035 447 4057 473 4078 438 4056 422Z" fill="#e60000"/>
<path d="M4697 522 4718 491 4739 513 4717 499Z" fill="#ee2a00"/>
<path d="M3798 476 3820 478 3841 471 3818 461Z" fill="#f60600"/>
<path d="M4459 459 4481 467 4502 464 4480 445Z" fill="#ee0000"/>
<path d="M4223 500 4243 509 4263 455 4242 446Z" fill="#fa0e00"/>
<path d="M4884 529 4904 548 4925 499 4904 470Z" fill="#fe3200"/>
<path d="M3984 503 4006 515 4027 498 4005 455Z" fill="#fa1e00"/>
<path d="M4645 475 4667 533 4688 485 4666 434Z" fill="#fe1200"/>
<path d="M3747 467 3769 491 3789 487 3768 456Z" fill="#f60a00"/>
<path d="M4410 444 4430 458 4448 519 4429 489Z" fill="#ee0a00"/>
<path d="M4171 498 4192 505 4213 482 4192 474Z" fill="#ee1600"/>
<path d="M4833 460 4854 468 4873 513 4853 505Z" fill="#e21200"/>
<path d="M3933 499 3955 512 3976 504 3954 492Z" fill="#f62600"/>
<path d="M4596 477 4616 479 4636 524 4615 518Z" fill="#ee2200"/>
<path d="M3696 459 3721 463 3739 477 3715 462Z" fill="#f20000"/>
<path d="M4358 497 4379 508 4399 455 4378 439Z" fill="#fa0600"/>
<path d="M5018 533 5042 524 5061 527 5038 523Z" fill="#f63e00"/>
<path d="M4120 446 4142 462 4163 460 4140 446Z" fill="#da0000"/>
<path d="M4746 500 4765 500 4759 679 4757 1010 4755 1010 4752 679Z" fill="url(#sg)"/>
<path d="M4781 470 4803 448 4824 455 4799 462Z" fill="#de0000"/>
<path d="M3883 490 3904 515 3925 507 3903 484Z" fill="#fa2200"/>
<path d="M4546 523 4565 534 4584 453 4565 450Z" fill="#f61600"/>
<path d="M3645 460 3667 489 3688 472 3666 450Z" fill="#fe0000"/>
<path d="M4309 429 4328 437 4346 521 4327 510Z" fill="#e20600"/>
<path d="M4969 490 4989 553 5009 544 4989 486Z" fill="#fe3600"/>
<path d="M4069 439 4091 464 4112 440 4090 426Z" fill="#de0000"/>
<path d="M4731 510 4752 551 4772 502 4747 518Z" fill="#ea3200"/>
<path d="M3832 470 3854 477 3874 479 3853 460Z" fill="#f60200"/>
<path d="M4494 460 4515 489 4534 505 4514 457Z" fill="#ee0a00"/>
<path d="M4256 461 4277 471 4298 433 4277 425Z" fill="#e20000"/>
<path d="M4917 499 4938 543 4960 511 4938 490Z" fill="#fe2e00"/>
<path d="M4019 500 4040 520 4060 466 4039 442Z" fill="#fa0e00"/>
<path d="M4680 481 4702 508 4722 494 4700 524Z" fill="#ee1e00"/>
<path d="M3781 487 3804 471 3824 473 3801 470Z" fill="#f20a00"/>
<path d="M4444 519 4464 530 4483 459 4463 454Z" fill="#f61600"/>
<path d="M4334 500 4356 500 4348 669 4346 982 4344 982 4341 669Z" fill="url(#sg)"/>
<path d="M4205 481 4227 486 4247 507 4225 501Z" fill="#f61a00"/>
<path d="M4867 506 4888 535 4908 546 4886 521Z" fill="#f23a00"/>
<path d="M3967 503 3990 514 4010 511 3988 496Z" fill="#f62600"/>
<path d="M4629 523 4651 521 4670 532 4650 472Z" fill="#f22a00"/>
<path d="M3730 474 3752 488 3773 488 3751 464Z" fill="#f20a00"/>
<path d="M3910 490 3924 490 3920 638 3918 914 3916 914 3913 638Z" fill="url(#sg)"/>
<path d="M4391 457 4413 478 4434 462 4412 443Z" fill="#e60000"/>
<path d="M4156 455 4176 466 4195 504 4175 501Z" fill="#e60a00"/>
<path d="M4815 454 4838 458 4857 475 4832 463Z" fill="#de0000"/>
<path d="M3916 505 3939 518 3960 508 3937 495Z" fill="#f22600"/>
<path d="M4579 454 4600 458 4620 487 4599 485Z" fill="#ea0000"/>
<path d="M3679 472 3701 477 3722 466 3700 456Z" fill="#f60000"/>
<path d="M4341 518 4362 534 4383 502 4361 489Z" fill="#ea2600"/>
<path d="M4746 514 4757 514 4755 654 4753 913 4751 913 4748 654Z" fill="url(#sg)"/>
<path d="M5002 542 5025 539 5044 526 5022 528Z" fill="#fa4200"/>
<path d="M4104 438 4125 460 4146 459 4124 443Z" fill="#de0000"/>
<path d="M4767 509 4786 453 4806 449 4785 464Z" fill="#e20000"/>
<path d="M3867 474 3888 520 3908 513 3887 487Z" fill="#f21e00"/>
<path d="M4528 498 4549 538 4569 532 4547 514Z" fill="#f23200"/>
<path d="M3629 468 3650 507 3671 486 3649 457Z" fill="#fe0a00"/>
<path d="M4290 435 4312 447 4332 443 4310 429Z" fill="#ca0000"/>
<path d="M4952 508 4973 559 4992 552 4972 489Z" fill="#fe3a00"/>
<path d="M4052 469 4074 517 4095 457 4073 435Z" fill="#f60000"/>
<path d="M4714 493 4735 476 4754 550 4734 516Z" fill="#e22200"/>
<path d="M3815 474 3838 479 3858 473 3835 466Z" fill="#f60000"/>
<path d="M4476 461 4499 477 4518 487 4497 458Z" fill="#f20000"/>
<path d="M4240 508 4261 517 4280 463 4260 454Z" fill="#fa0e00"/>
<path d="M4900 545 4922 562 4943 540 4921 496Z" fill="#fe4200"/>
<path d="M4001 510 4023 522 4044 517 4022 492Z" fill="#fa2600"/>
<path d="M4664 532 4684 536 4705 501 4684 480Z" fill="#f22600"/>
<path d="M4899 531 4918 531 4912 701 4910 1018 4907 1018 4905 701Z" fill="url(#sg)"/>
<path d="M3764 488 3786 471 3807 475 3785 489Z" fill="#ee0600"/>
<path d="M4428 458 4447 473 4466 529 4446 520Z" fill="#ee1600"/>
<path d="M4188 502 4210 512 4231 489 4209 479Z" fill="#f21600"/>
<path d="M4851 469 4871 496 4890 535 4870 514Z" fill="#e61a00"/>
<path d="M3951 508 3974 513 3994 510 3971 499Z" fill="#ee2200"/>
<path d="M4613 481 4634 484 4654 520 4633 525Z" fill="#e61a00"/>
<path d="M3714 464 3735 486 3756 485 3734 470Z" fill="#f20200"/>
<path d="M4669 504 4691 504 4683 672 4681 983 4679 983 4676 672Z" fill="url(#sg)"/>
<path d="M4376 507 4396 521 4416 470 4396 453Z" fill="#fa0e00"/>
<path d="M5036 528 5058 536 5079 527 5056 523Z" fill="#f23600"/>
<path d="M4137 455 4159 475 4180 472 4158 454Z" fill="#e20000"/>
<path d="M4798 452 4821 448 4841 464 4816 453Z" fill="#d20000"/>
<path d="M3900 511 3922 502 3943 515 3921 501Z" fill="#ee2200"/>
<path d="M4563 534 4583 542 4601 459 4582 453Z" fill="#f61600"/>
<path d="M3663 486 3684 490 3705 471 3683 467Z" fill="#fa0200"/>
<path d="M3897 493 3920 493 3912 642 3910 918 3907 918 3905 642Z" fill="url(#sg)"/>
<path d="M4326 438 4345 446 4364 533 4345 521Z" fill="#e20600"/>
<path d="M4985 550 5007 551 5027 533 5005 536Z" fill="#fa4600"/>
<path d="M4086 459 4108 492 4129 455 4107 436Z" fill="#ea0000"/>
<path d="M4750 550 4769 473 4788 453 4768 509Z" fill="#e21200"/>
<path d="M3851 469 3871 524 3890 519 3870 473Z" fill="#f21600"/>
<path d="M4031 500 4041 500 4039 695 4037 1056 4035 1056 4032 695Z" fill="url(#sg)"/>
<path d="M4512 481 4535 511 4551 537 4531 497Z" fill="#ea1e00"/>
<path d="M3613 475 3634 528 3654 504 3633 465Z" fill="#fe1200"/>
<path d="M4274 469 4295 479 4315 440 4294 432Z" fill="#de0000"/>
<path d="M4934 538 4956 562 4976 557 4955 506Z" fill="#fa4200"/>
<path d="M4036 518 4057 530 4078 514 4057 464Z" fill="#fa1e00"/>
<path d="M4698 506 4719 469 4739 479 4718 500Z" fill="#e60a00"/>
<path d="M3798 476 3821 481 3841 474 3818 469Z" fill="#f20000"/>
<path d="M4462 529 4481 522 4501 469 4480 458Z" fill="#f61200"/>
<path d="M4223 488 4244 495 4264 515 4243 509Z" fill="#fa1a00"/>
<path d="M4884 528 4905 562 4926 560 4904 539Z" fill="#f24600"/>
<path d="M3985 509 4011 513 4028 519 4005 506Z" fill="#ee2200"/>
<path d="M4646 516 4668 498 4688 534 4667 533Z" fill="#ea2a00"/>
<path d="M3747 484 3770 472 3790 474 3768 491Z" fill="#ea0200"/>
<path d="M4409 472 4430 499 4452 478 4430 458Z" fill="#ee0000"/>
<path d="M4173 467 4194 485 4213 510 4192 505Z" fill="#ee0e00"/>
<path d="M4834 459 4856 474 4874 504 4853 468Z" fill="#e60000"/>
<path d="M3935 516 3956 475 3977 510 3955 512Z" fill="#e61600"/>
<path d="M4596 460 4617 466 4637 491 4616 488Z" fill="#e60000"/>
<path d="M3697 472 3719 491 3739 483 3718 462Z" fill="#f60000"/>
<path d="M4358 531 4380 546 4400 515 4379 499Z" fill="#ee2a00"/>
<path d="M5019 535 5041 549 5062 530 5040 523Z" fill="#f63a00"/>
<path d="M4121 454 4142 480 4163 472 4141 453Z" fill="#ea0000"/>
<path d="M4782 458 4804 446 4825 453 4801 449Z" fill="#ce0000"/>
<path d="M3884 518 3905 474 3926 507 3904 515Z" fill="#ea1600"/>
<path d="M4544 532 4566 558 4587 538 4565 525Z" fill="#f23a00"/>
<path d="M3646 504 3668 505 3688 484 3667 480Z" fill="#fa0e00"/>
<path d="M4307 442 4329 454 4350 451 4328 437Z" fill="#ca0000"/>
<path d="M4968 555 4990 561 5011 545 4989 544Z" fill="#f64a00"/>
<path d="M4071 516 4091 534 4112 485 4091 455Z" fill="#fa1200"/>
<path d="M4732 478 4753 483 4772 474 4752 551Z" fill="#e20e00"/>
<path d="M3834 471 3854 525 3873 523 3853 468Z" fill="#f61200"/>
<path d="M4495 470 4518 492 4535 510 4514 480Z" fill="#f20600"/>
<path d="M3597 483 3617 549 3637 526 3616 474Z" fill="#fa1e00"/>
<path d="M4258 516 4278 524 4298 471 4277 462Z" fill="#f60e00"/>
<path d="M4917 559 4939 561 4960 559 4938 534Z" fill="#f24a00"/>
<path d="M4019 517 4041 531 4062 527 4040 511Z" fill="#f62a00"/>
<path d="M4682 535 4702 472 4721 470 4701 508Z" fill="#e60e00"/>
<path d="M3781 475 3805 482 3824 476 3800 472Z" fill="#ea0000"/>
<path d="M4445 474 4465 493 4485 520 4464 530Z" fill="#f21600"/>
<path d="M4205 508 4227 521 4248 498 4226 486Z" fill="#f61600"/>
<path d="M4869 497 4888 544 4907 561 4886 527Z" fill="#e62e00"/>
<path d="M3968 509 3990 481 4011 515 3989 514Z" fill="#e61600"/>
<path d="M4630 486 4651 494 4672 503 4650 521Z" fill="#e21200"/>
<path d="M3731 482 3753 474 3774 475 3751 488Z" fill="#ea0000"/>
<path d="M4393 520 4414 537 4434 492 4413 469Z" fill="#fa1600"/>
<path d="M5053 531 5075 547 5096 526 5074 523Z" fill="#f63200"/>
<path d="M4155 468 4177 491 4197 491 4175 466Z" fill="#ee0000"/>
<path d="M4816 450 4839 459 4858 481 4836 458Z" fill="#d60000"/>
<path d="M3918 509 3939 460 3959 477 3938 518Z" fill="#e20600"/>
<path d="M4581 542 4600 557 4619 466 4599 458Z" fill="#f61600"/>
<path d="M3680 486 3702 499 3723 487 3701 468Z" fill="#fa0200"/>
<path d="M4344 446 4363 455 4381 546 4362 534Z" fill="#e20a00"/>
<path d="M5002 547 5024 562 5045 544 5023 531Z" fill="#f63e00"/>
<path d="M4104 488 4126 532 4146 474 4125 451Z" fill="#fe0200"/>
<path d="M4766 481 4788 457 4807 448 4786 453Z" fill="#ce0000"/>
<path d="M3868 523 3888 473 3908 475 3887 520Z" fill="#ea0e00"/>
<path d="M4529 504 4549 509 4568 557 4548 538Z" fill="#e62a00"/>
<path d="M3630 526 3651 522 3671 498 3650 498Z" fill="#fa1e00"/>
<path d="M4291 477 4312 487 4332 447 4311 438Z" fill="#de0000"/>
<path d="M4951 559 4973 542 4994 557 4970 558Z" fill="#ee4600"/>
<path d="M4053 526 4075 541 4096 531 4074 508Z" fill="#fa2a00"/>
<path d="M5073 517 5085 517 5082 710 5080 1070 5078 1070 5075 710Z" fill="url(#sg)"/>
<path d="M4714 472 4736 473 4757 490 4734 485Z" fill="#de0000"/>
<path d="M3817 473 3837 533 3857 524 3837 470Z" fill="#fa0e00"/>
<path d="M4478 521 4499 515 4519 487 4498 468Z" fill="#f60a00"/>
<path d="M3580 492 3600 574 3620 548 3599 482Z" fill="#fa2a00"/>
<path d="M4240 497 4263 505 4282 522 4260 517Z" fill="#fa1a00"/>
<path d="M4901 558 4923 542 4944 557 4921 562Z" fill="#ea4200"/>
<path d="M4002 511 4024 528 4045 528 4023 513Z" fill="#ee2200"/>
<path d="M4663 503 4685 484 4704 473 4684 536Z" fill="#e60a00"/>
<path d="M3765 476 3787 484 3808 477 3785 471Z" fill="#ea0000"/>
<path d="M4426 493 4448 522 4469 497 4447 473Z" fill="#f60a00"/>
<path d="M4190 486 4210 526 4231 518 4209 503Z" fill="#f61600"/>
<path d="M4852 474 4872 493 4890 544 4870 496Z" fill="#e60e00"/>
<path d="M3951 478 3973 464 3994 486 3972 513Z" fill="#de0000"/>
<path d="M4613 468 4635 475 4654 501 4633 493Z" fill="#ea0000"/>
<path d="M3714 488 3736 491 3757 477 3734 477Z" fill="#f20000"/>
<path d="M4375 543 4397 558 4418 531 4396 512Z" fill="#ee3200"/>
<path d="M5036 545 5058 554 5079 543 5057 527Z" fill="#f23600"/>
<path d="M4138 474 4160 515 4181 486 4159 466Z" fill="#fa0000"/>
<path d="M4799 449 4822 461 4842 465 4820 448Z" fill="#ca0000"/>
<path d="M3900 479 3922 458 3943 462 3922 511Z" fill="#da0000"/>
<path d="M4562 553 4584 574 4605 552 4583 533Z" fill="#ee4200"/>
<path d="M4577 537 4590 537 4587 738 4584 1110 4582 1110 4580 738Z" fill="url(#sg)"/>
<path d="M3663 502 3685 509 3706 494 3684 481Z" fill="#fa0a00"/>
<path d="M4324 449 4347 461 4367 460 4345 446Z" fill="#ca0000"/>
<path d="M4986 557 5008 541 5028 559 5006 542Z" fill="#ea3e00"/>
<path d="M4087 532 4109 547 4130 529 4108 483Z" fill="#fa2200"/>
<path d="M4749 490 4770 487 4790 458 4767 482Z" fill="#de0000"/>
<path d="M3851 524 3872 489 3891 474 3871 524Z" fill="#ee0e00"/>
<path d="M4512 485 4533 524 4554 514 4528 506Z" fill="#ee1200"/>
<path d="M3613 548 3634 542 3654 515 3633 519Z" fill="#fa2e00"/>
<path d="M4275 523 4295 532 4315 479 4295 470Z" fill="#f60a00"/>
<path d="M4935 558 4957 518 4978 547 4956 562Z" fill="#e63600"/>
<path d="M4036 524 4058 547 4079 537 4057 521Z" fill="#fa2e00"/>
<path d="M4697 478 4719 465 4740 478 4716 470Z" fill="#d60000"/>
<path d="M3801 474 3821 534 3840 532 3820 472Z" fill="#fa0e00"/>
<path d="M4461 494 4482 517 4503 511 4481 522Z" fill="#f61200"/>
<path d="M3564 502 3583 605 3602 573 3583 492Z" fill="#fa3a00"/>
<path d="M4223 518 4245 531 4266 508 4244 494Z" fill="#fa1600"/>
<path d="M4884 538 4906 531 4927 547 4905 562Z" fill="#e23200"/>
<path d="M3987 483 4007 488 4027 527 4006 517Z" fill="#e20e00"/>
<path d="M4647 498 4668 522 4689 485 4666 507Z" fill="#ee0a00"/>
<path d="M3748 478 3770 487 3791 480 3769 472Z" fill="#e60000"/>
<path d="M4410 534 4431 554 4452 517 4430 490Z" fill="#fa2200"/>
<path d="M5071 545 5093 525 5113 521 5091 523Z" fill="#ee2600"/>
<path d="M4173 483 4194 514 4213 525 4193 485Z" fill="#fa0a00"/>
<path d="M4834 460 4856 486 4875 501 4853 473Z" fill="#da0000"/>
<path d="M3935 463 3957 459 3978 469 3956 484Z" fill="#d20000"/>
<path d="M4598 556 4618 578 4636 476 4617 466Z" fill="#f61a00"/>
<path d="M3697 495 3719 502 3740 485 3718 482Z" fill="#f60000"/>
<path d="M4361 455 4380 463 4398 557 4379 546Z" fill="#e20e00"/>
<path d="M5020 560 5042 535 5063 550 5040 540Z" fill="#ea3600"/>
<path d="M4122 530 4143 551 4164 509 4142 472Z" fill="#fa1a00"/>
<path d="M4782 462 4805 464 4825 457 4803 446Z" fill="#ca0000"/>
<path d="M3884 478 3906 479 3926 460 3905 483Z" fill="#d60000"/>
<path d="M4547 509 4567 508 4585 574 4566 558Z" fill="#e62a00"/>
<path d="M3647 519 3668 523 3689 503 3667 496Z" fill="#f61200"/>
<path d="M4308 485 4329 495 4350 454 4329 445Z" fill="#de0000"/>
<path d="M4969 548 4991 512 5012 547 4990 561Z" fill="#e22e00"/>
<path d="M4070 535 4092 555 4113 543 4091 525Z" fill="#fe3200"/>
<path d="M4732 475 4753 501 4774 482 4752 492Z" fill="#e60000"/>
<path d="M3833 530 3855 545 3874 489 3850 519Z" fill="#f61e00"/>
<path d="M4494 511 4516 522 4536 522 4515 484Z" fill="#f60e00"/>
<path d="M3597 573 3618 567 3637 535 3617 540Z" fill="#f64200"/>
<path d="M4257 507 4280 525 4299 529 4276 524Z" fill="#fa1a00"/>
<path d="M4919 549 4940 504 4960 520 4939 561Z" fill="#e22600"/>
<path d="M4020 521 4041 553 4062 545 4040 522Z" fill="#ee2a00"/>
<path d="M4681 490 4703 490 4723 467 4701 472Z" fill="#de0000"/>
<path d="M3784 476 3804 511 3823 534 3803 473Z" fill="#f60600"/>
<path d="M4443 518 4465 542 4486 512 4464 493Z" fill="#fa1600"/>
<path d="M3548 512 3567 646 3585 605 3566 501Z" fill="#f64e00"/>
<path d="M4206 520 4228 555 4249 526 4227 512Z" fill="#fa2200"/>
<path d="M4869 494 4889 535 4910 538 4888 544Z" fill="#e61e00"/>
<path d="M3969 466 3991 473 4011 495 3989 490Z" fill="#d60000"/>
<path d="M4631 477 4652 487 4671 521 4650 503Z" fill="#f60000"/>
<path d="M3731 487 3753 492 3774 482 3752 474Z" fill="#ea0000"/>
<path d="M4392 554 4414 567 4435 550 4414 528Z" fill="#ee3600"/>
<path d="M5054 552 5076 530 5096 527 5074 547Z" fill="#ea2a00"/>
<path d="M4155 509 4177 555 4198 509 4176 482Z" fill="#fe1200"/>
<path d="M4817 454 4839 475 4858 484 4837 459Z" fill="#ce0000"/>
<path d="M3918 461 3940 479 3961 463 3938 460Z" fill="#d20000"/>
<path d="M4579 570 4601 582 4622 575 4600 548Z" fill="#ee4600"/>
<path d="M3680 505 3702 516 3723 497 3701 490Z" fill="#f60600"/>
<path d="M4342 456 4364 468 4384 469 4362 455Z" fill="#ca0000"/>
<path d="M5003 547 5025 517 5046 539 5024 562Z" fill="#e22a00"/>
<path d="M4104 542 4126 561 4147 547 4125 523Z" fill="#fe3200"/>
<path d="M4766 486 4787 483 4808 457 4786 456Z" fill="#d60000"/>
<path d="M3867 495 3889 503 3909 472 3888 473Z" fill="#e60000"/>
<path d="M4528 519 4550 548 4571 510 4549 509Z" fill="#ee1a00"/>
<path d="M3630 540 3652 542 3672 517 3651 513Z" fill="#f62200"/>
<path d="M4292 530 4313 539 4332 487 4312 478Z" fill="#f60a00"/>
<path d="M4952 522 4974 502 4995 515 4973 551Z" fill="#e21600"/>
<path d="M4054 542 4075 559 4096 551 4075 532Z" fill="#fa3200"/>
<path d="M4715 468 4737 470 4756 500 4735 473Z" fill="#da0000"/>
<path d="M3816 528 3838 553 3859 541 3837 524Z" fill="#f62a00"/>
<path d="M4477 512 4499 525 4520 518 4498 506Z" fill="#fa1200"/>
<path d="M3580 604 3601 599 3620 559 3600 565Z" fill="#f65a00"/>
<path d="M4240 527 4262 538 4283 520 4261 505Z" fill="#fa1a00"/>
<path d="M4902 537 4923 518 4943 505 4922 551Z" fill="#e61a00"/>
<path d="M4005 489 4025 500 4043 553 4024 528Z" fill="#e21200"/>
<path d="M4664 520 4686 553 4705 482 4685 484Z" fill="#f60a00"/>
<path d="M3766 480 3787 507 3807 509 3786 475Z" fill="#ee0000"/>
<path d="M4427 551 4448 573 4469 536 4448 513Z" fill="#fe2e00"/>
<path d="M3531 524 3550 700 3568 646 3549 512Z" fill="#f66600"/>
<path d="M5088 530 5110 531 5130 517 5108 518Z" fill="#ee1600"/>
<path d="M4191 507 4211 536 4231 554 4210 517Z" fill="#fe1e00"/>
<path d="M4852 478 4873 510 4891 534 4871 493Z" fill="#ea0200"/>
<path d="M3952 461 3974 488 3995 478 3973 464Z" fill="#d60000"/>
<path d="M4616 578 4635 598 4653 487 4634 475Z" fill="#f62200"/>
<path d="M3715 499 3737 501 3757 487 3735 482Z" fill="#f20000"/>
<path d="M3831 524 3853 524 3846 700 3843 1027 3841 1027 3839 700Z" fill="url(#sg)"/>
<path d="M4379 464 4398 472 4416 567 4397 558Z" fill="#e20e00"/>
<path d="M5037 540 5059 531 5080 533 5058 554Z" fill="#ea2600"/>
<path d="M4139 548 4160 566 4181 552 4160 506Z" fill="#fe2e00"/>
<path d="M4800 459 4822 472 4842 472 4821 452Z" fill="#ca0000"/>
<path d="M3901 474 3923 503 3944 473 3922 458Z" fill="#de0000"/>
<path d="M4565 509 4584 516 4603 581 4583 574Z" fill="#e62a00"/>
<path d="M3664 520 3686 533 3707 511 3685 500Z" fill="#f61200"/>
<path d="M4326 493 4347 503 4367 461 4346 452Z" fill="#de0000"/>
<path d="M4986 515 5008 509 5029 521 5007 550Z" fill="#e61600"/>
<path d="M4088 550 4110 567 4131 558 4109 538Z" fill="#fa3600"/>
<path d="M4749 494 4771 575 4790 475 4770 478Z" fill="#f60600"/>
<path d="M3852 544 3872 530 3892 496 3871 489Z" fill="#f20e00"/>
<path d="M4086 537 4107 537 4100 693 4098 983 4095 983 4093 693Z" fill="url(#sg)"/>
<path d="M4584 545 4600 545 4596 749 4593 1129 4591 1129 4589 749Z" fill="url(#sg)"/>
<path d="M4512 514 4534 539 4553 546 4532 515Z" fill="#f61a00"/>
<path d="M3614 565 3635 566 3655 535 3634 533Z" fill="#f63200"/>
<path d="M4274 518 4296 536 4317 536 4294 523Z" fill="#fa1a00"/>
<path d="M4935 508 4958 505 4978 505 4956 527Z" fill="#ea0600"/>
<path d="M4037 548 4059 559 4080 556 4058 538Z" fill="#ee3200"/>
<path d="M4698 487 4720 495 4741 473 4719 465Z" fill="#da0000"/>
<path d="M3802 502 3821 556 3841 551 3820 525Z" fill="#f62200"/>
<path d="M4461 540 4483 556 4503 518 4482 508Z" fill="#fa1e00"/>
<path d="M3564 645 3584 640 3603 591 3583 596Z" fill="#f67a00"/>
<path d="M4223 552 4245 574 4266 531 4244 522Z" fill="#fa2e00"/>
<path d="M4885 528 4906 586 4926 519 4905 531Z" fill="#ee2600"/>
<path d="M3987 474 4012 489 4028 507 4006 497Z" fill="#de0000"/>
<path d="M4649 488 4669 501 4688 553 4667 522Z" fill="#fa0e00"/>
<path d="M4044 535 4065 535 4058 727 4055 1084 4053 1084 4051 727Z" fill="url(#sg)"/>
<path d="M3749 486 3771 514 3791 504 3770 478Z" fill="#f20000"/>
<path d="M4410 563 4432 574 4453 570 4431 545Z" fill="#ee3a00"/>
<path d="M5071 535 5093 541 5114 526 5092 525Z" fill="#ea1a00"/>
<path d="M4173 552 4194 577 4215 530 4194 505Z" fill="#fe2600"/>
<path d="M4835 467 4857 492 4875 509 4855 477Z" fill="#d60000"/>
<path d="M3936 471 3957 536 3978 483 3956 459Z" fill="#ea0000"/>
<path d="M4626 572 4635 572 4634 753 4632 1090 4629 1090 4627 753Z" fill="url(#sg)"/>
<path d="M4596 578 4618 552 4638 596 4617 569Z" fill="#ea4600"/>
<path d="M3698 514 3720 512 3741 494 3719 493Z" fill="#fa0000"/>
<path d="M4359 463 4382 476 4402 478 4379 463Z" fill="#ca0000"/>
<path d="M5021 519 5042 543 5063 536 5041 544Z" fill="#ee1a00"/>
<path d="M4122 556 4144 576 4165 562 4143 542Z" fill="#fa3a00"/>
<path d="M4783 480 4805 486 4826 466 4804 455Z" fill="#d20000"/>
<path d="M3884 499 3906 523 3927 499 3905 470Z" fill="#f20000"/>
<path d="M4546 546 4567 555 4588 518 4567 508Z" fill="#f21a00"/>
<path d="M3647 538 3669 552 3690 527 3668 514Z" fill="#f61e00"/>
<path d="M4110 543 4125 543 4121 720 4119 1048 4117 1048 4114 720Z" fill="url(#sg)"/>
<path d="M4310 537 4330 546 4350 496 4329 486Z" fill="#f60a00"/>
<path d="M4970 505 4992 520 5012 514 4990 521Z" fill="#ee0600"/>
<path d="M4071 556 4093 536 4113 565 4091 546Z" fill="#ee2e00"/>
<path d="M4734 471 4754 485 4772 575 4753 492Z" fill="#f20000"/>
<path d="M3834 550 3857 533 3876 522 3854 545Z" fill="#ee2200"/>
<path d="M4495 519 4518 529 4537 537 4516 513Z" fill="#f61200"/>
<path d="M3597 597 3618 597 3638 558 3617 558Z" fill="#f24a00"/>
<path d="M4257 535 4279 541 4300 532 4278 516Z" fill="#f61a00"/>
<path d="M4919 522 4940 557 4961 506 4940 504Z" fill="#f20e00"/>
<path d="M4022 501 4042 495 4061 559 4041 553Z" fill="#e21200"/>
<path d="M4683 552 4703 590 4722 486 4702 481Z" fill="#fa1600"/>
<path d="M3785 498 3805 565 3824 556 3804 502Z" fill="#f61a00"/>
<path d="M4444 570 4466 593 4486 549 4465 533Z" fill="#fa3a00"/>
<path d="M3548 700 3567 695 3586 632 3567 637Z" fill="#f6a600"/>
<path d="M5105 529 5128 514 5148 512 5125 514Z" fill="#ee0a00"/>
<path d="M4208 529 4229 539 4248 573 4227 555Z" fill="#fa2a00"/>
<path d="M4870 502 4890 518 4908 585 4889 526Z" fill="#ea1a00"/>
<path d="M3970 482 3991 514 4012 491 3990 473Z" fill="#e60000"/>
<path d="M4633 597 4652 590 4671 502 4652 487Z" fill="#f22600"/>
<path d="M3732 494 3754 531 3775 511 3753 483Z" fill="#fa0000"/>
<path d="M4396 472 4415 480 4433 574 4414 567Z" fill="#e20e00"/>
<path d="M4124 547 4137 547 4134 746 4132 1117 4129 1117 4127 746Z" fill="url(#sg)"/>
<path d="M5054 535 5076 550 5097 537 5075 530Z" fill="#ee1e00"/>
<path d="M4231 542 4242 542 4240 743 4238 1115 4235 1115 4233 743Z" fill="url(#sg)"/>
<path d="M4156 560 4178 580 4198 574 4177 546Z" fill="#fe3e00"/>
<path d="M4817 465 4839 485 4859 490 4838 466Z" fill="#ce0000"/>
<path d="M3920 495 3940 571 3961 534 3940 470Z" fill="#fa0a00"/>
<path d="M4582 517 4602 538 4622 559 4601 582Z" fill="#ea2600"/>
<path d="M3682 531 3703 528 3724 505 3702 507Z" fill="#fa0a00"/>
<path d="M4343 502 4364 511 4384 469 4363 460Z" fill="#de0000"/>
<path d="M5005 511 5025 555 5046 540 5024 517Z" fill="#f61600"/>
<path d="M4105 563 4127 553 4147 574 4126 552Z" fill="#ee3600"/>
<path d="M4769 575 4788 596 4806 478 4787 474Z" fill="#f21600"/>
<path d="M3868 527 3890 531 3911 519 3889 494Z" fill="#f60600"/>
<path d="M4530 532 4551 561 4572 551 4549 539Z" fill="#f62600"/>
<path d="M3631 563 3652 576 3673 546 3651 533Z" fill="#f62e00"/>
<path d="M4292 530 4314 547 4334 542 4312 530Z" fill="#f61e00"/>
<path d="M4953 507 4975 547 4996 515 4974 502Z" fill="#f60600"/>
<path d="M4055 557 4076 521 4097 540 4075 559Z" fill="#e62200"/>
<path d="M4715 491 4737 508 4758 489 4736 470Z" fill="#d60000"/>
<path d="M3817 554 3839 529 3860 535 3838 553Z" fill="#ee2200"/>
<path d="M4280 518 4295 518 4291 691 4289 1012 4286 1012 4284 691Z" fill="url(#sg)"/>
<path d="M4479 554 4500 562 4520 522 4499 516Z" fill="#f61e00"/>
<path d="M3581 639 3601 638 3621 589 3601 590Z" fill="#f26a00"/>
<path d="M4242 572 4263 581 4282 534 4262 529Z" fill="#f62e00"/>
<path d="M4903 585 4924 596 4944 550 4923 518Z" fill="#f23200"/>
<path d="M4004 489 4028 494 4046 500 4024 509Z" fill="#de0000"/>
<path d="M4667 502 4686 525 4705 589 4685 553Z" fill="#fa1e00"/>
<path d="M3768 506 3788 572 3807 564 3787 498Z" fill="#f61a00"/>
<path d="M4427 569 4451 571 4469 591 4448 564Z" fill="#f24200"/>
<path d="M4771 565 4787 565 4783 701 4780 954 4778 954 4776 701Z" fill="url(#sg)"/>
<path d="M5089 539 5111 518 5131 516 5108 531Z" fill="#ea0e00"/>
<path d="M4191 575 4212 592 4232 540 4211 527Z" fill="#fe3200"/>
<path d="M4852 484 4873 495 4893 526 4871 510Z" fill="#de0000"/>
<path d="M3954 534 3974 531 3996 509 3974 479Z" fill="#f60000"/>
<path d="M4614 555 4636 524 4655 589 4635 598Z" fill="#e63200"/>
<path d="M3716 505 3737 570 3758 527 3736 492Z" fill="#fe0e00"/>
<path d="M4377 470 4400 483 4419 487 4397 472Z" fill="#ca0000"/>
<path d="M5038 537 5060 561 5081 547 5059 531Z" fill="#f21e00"/>
<path d="M4139 571 4161 591 4182 577 4160 557Z" fill="#f63e00"/>
<path d="M4604 533 4616 533 4613 694 4611 993 4609 993 4606 694Z" fill="url(#sg)"/>
<path d="M4647 549 4666 549 4660 720 4658 1037 4655 1037 4653 720Z" fill="url(#sg)"/>
<path d="M4427 534 4437 534 4435 720 4433 1067 4431 1067 4428 720Z" fill="url(#sg)"/>
<path d="M4800 482 4822 497 4843 481 4821 463Z" fill="#d20000"/>
<path d="M3903 515 3924 578 3943 571 3923 494Z" fill="#f61a00"/>
<path d="M4141 559 4155 559 4151 712 4149 997 4147 997 4144 712Z" fill="url(#sg)"/>
<path d="M4185 560 4204 560 4198 752 4196 1108 4193 1108 4191 752Z" fill="url(#sg)"/>
<path d="M4563 552 4585 558 4606 542 4584 516Z" fill="#f61e00"/>
<path d="M3665 550 3686 548 3707 521 3685 524Z" fill="#fa1a00"/>
<path d="M4327 545 4347 553 4367 504 4347 494Z" fill="#f60a00"/>
<path d="M4989 512 5009 592 5029 553 5008 509Z" fill="#fa1a00"/>
<path d="M4089 539 4110 529 4131 560 4109 567Z" fill="#e62200"/>
<path d="M4752 485 4771 510 4789 596 4771 575Z" fill="#ea1a00"/>
<path d="M3852 539 3873 512 3894 527 3871 521Z" fill="#ea0e00"/>
<path d="M3805 533 3821 533 3817 708 3814 1032 3812 1032 3810 708Z" fill="url(#sg)"/>
<path d="M4513 522 4534 527 4554 560 4533 530Z" fill="#f21600"/>
<path d="M3614 595 3636 607 3656 570 3635 557Z" fill="#f64600"/>
<path d="M4275 537 4297 530 4318 545 4296 527Z" fill="#f21600"/>
<path d="M4936 550 4958 647 4977 539 4957 505Z" fill="#f63200"/>
<path d="M4039 496 4059 500 4080 527 4059 559Z" fill="#e60600"/>
<path d="M4701 589 4720 610 4739 499 4720 486Z" fill="#f61e00"/>
<path d="M3802 564 3822 515 3843 531 3821 556Z" fill="#ee1a00"/>
<path d="M4462 591 4483 614 4503 554 4482 547Z" fill="#fa4200"/>
<path d="M3565 694 3585 692 3604 629 3584 631Z" fill="#f29600"/>
<path d="M5123 519 5149 512 5165 508 5139 515Z" fill="#ea0000"/>
<path d="M4225 540 4246 540 4266 579 4245 574Z" fill="#f62e00"/>
<path d="M3786 548 3807 548 3800 756 3797 1144 3795 1144 3793 756Z" fill="url(#sg)"/>
<path d="M4887 519 4907 509 4925 596 4906 586Z" fill="#e62200"/>
<path d="M3987 512 4009 511 4030 497 4008 487Z" fill="#e60000"/>
<path d="M4651 590 4670 556 4690 527 4669 501Z" fill="#ea1a00"/>
<path d="M3750 524 3771 555 3790 572 3770 505Z" fill="#f21600"/>
<path d="M4705 554 4727 554 4719 710 4717 1000 4715 1000 4712 710Z" fill="url(#sg)"/>
<path d="M4413 481 4432 489 4451 579 4432 574Z" fill="#e20e00"/>
<path d="M5073 549 5094 522 5114 520 5092 541Z" fill="#ea0e00"/>
<path d="M4173 575 4195 592 4216 589 4194 568Z" fill="#fa4600"/>
<path d="M4835 478 4856 504 4877 502 4855 483Z" fill="#d60000"/>
<path d="M3938 571 3958 520 3978 525 3957 527Z" fill="#ee1600"/>
<path d="M4597 540 4619 580 4638 525 4618 561Z" fill="#ee2200"/>
<path d="M3773 535 3785 535 3783 730 3781 1091 3778 1091 3776 730Z" fill="url(#sg)"/>
<path d="M3700 520 3720 594 3740 569 3720 503Z" fill="#fe2200"/>
<path d="M4361 510 4382 520 4402 476 4381 467Z" fill="#de0000"/>
<path d="M4931 560 4942 560 4940 762 4938 1139 4935 1139 4933 762Z" fill="url(#sg)"/>
<path d="M5021 550 5043 573 5064 557 5042 534Z" fill="#f62600"/>
<path d="M4123 556 4144 543 4164 590 4143 576Z" fill="#e62e00"/>
<path d="M4787 596 4806 528 4824 489 4805 477Z" fill="#ee0200"/>
<path d="M3886 524 3907 531 3926 577 3906 514Z" fill="#ee1600"/>
<path d="M4546 556 4568 573 4589 553 4567 546Z" fill="#f22600"/>
<path d="M4558 541 4577 541 4571 730 4569 1081 4566 1081 4564 730Z" fill="url(#sg)"/>
<path d="M3649 575 3670 573 3690 540 3669 543Z" fill="#fa2a00"/>
<path d="M4309 542 4331 557 4352 550 4330 537Z" fill="#f21e00"/>
<path d="M4972 538 4992 664 5012 590 4991 511Z" fill="#fa3a00"/>
<path d="M3921 555 3934 555 3931 736 3929 1072 3927 1072 3924 736Z" fill="url(#sg)"/>
<path d="M4072 523 4093 553 4114 533 4092 545Z" fill="#ea1200"/>
<path d="M4733 502 4755 535 4776 516 4754 485Z" fill="#e20000"/>
<path d="M3835 535 3856 505 3877 515 3855 541Z" fill="#e20600"/>
<path d="M4496 561 4517 563 4538 529 4516 520Z" fill="#f61a00"/>
<path d="M3598 636 3619 645 3639 599 3618 588Z" fill="#f26600"/>
<path d="M4260 580 4280 571 4300 532 4279 532Z" fill="#ee2200"/>
<path d="M4920 594 4941 528 4959 647 4940 548Z" fill="#ea3a00"/>
<path d="M4021 496 4043 517 4064 504 4042 495Z" fill="#e20000"/>
<path d="M4685 525 4704 562 4722 610 4703 590Z" fill="#f23600"/>
<path d="M3785 572 3805 514 3825 515 3804 565Z" fill="#ea1600"/>
<path d="M4445 572 4467 573 4486 613 4464 592Z" fill="#f24600"/>
<path d="M5106 523 5132 517 5149 512 5123 519Z" fill="#ea0000"/>
<path d="M4209 591 4229 601 4248 541 4228 539Z" fill="#f63200"/>
<path d="M4869 497 4891 505 4911 514 4889 527Z" fill="#de0000"/>
<path d="M3971 530 3992 504 4013 505 3991 505Z" fill="#ea0000"/>
<path d="M4632 525 4653 516 4674 553 4652 590Z" fill="#e61a00"/>
<path d="M3734 569 3755 534 3775 552 3754 522Z" fill="#ee1a00"/>
<path d="M4394 477 4418 490 4436 495 4413 481Z" fill="#ca0000"/>
<path d="M5056 559 5077 523 5097 524 5076 550Z" fill="#ea1200"/>
<path d="M4156 586 4178 606 4199 588 4177 571Z" fill="#ee4600"/>
<path d="M4818 492 4840 511 4860 501 4839 476Z" fill="#de0000"/>
<path d="M3921 577 3941 520 3960 521 3940 571Z" fill="#e61a00"/>
<path d="M4580 552 4602 571 4622 579 4601 538Z" fill="#fa2600"/>
<path d="M3683 540 3704 609 3723 593 3703 519Z" fill="#fe2e00"/>
<path d="M4344 552 4365 561 4385 512 4364 502Z" fill="#f60a00"/>
<path d="M5005 590 5026 587 5047 568 5025 546Z" fill="#f63200"/>
<path d="M4106 531 4129 541 4149 548 4127 562Z" fill="#e61600"/>
<path d="M4769 511 4789 588 4808 520 4788 596Z" fill="#ea1e00"/>
<path d="M3869 515 3890 509 3910 538 3889 531Z" fill="#e60000"/>
<path d="M4531 528 4551 536 4571 571 4550 561Z" fill="#ee1a00"/>
<path d="M3632 605 3653 604 3673 565 3652 567Z" fill="#f64200"/>
<path d="M4292 534 4314 526 4334 555 4313 547Z" fill="#ee1200"/>
<path d="M4956 647 4975 572 4993 664 4974 538Z" fill="#ee5200"/>
<path d="M4057 500 4077 541 4096 552 4075 521Z" fill="#ee0600"/>
<path d="M4719 610 4738 609 4757 526 4737 499Z" fill="#f62600"/>
<path d="M3817 519 3840 507 3860 507 3839 538Z" fill="#e20000"/>
<path d="M4160 577 4179 577 4173 718 4171 979 4168 979 4166 718Z" fill="url(#sg)"/>
<path d="M4480 612 4501 635 4519 554 4500 553Z" fill="#fa4600"/>
<path d="M3582 691 3602 697 3621 637 3601 629Z" fill="#f29200"/>
<path d="M5140 513 5162 523 5183 513 5161 505Z" fill="#e60000"/>
<path d="M4242 542 4263 537 4284 568 4262 581Z" fill="#ee2200"/>
<path d="M4904 510 4924 512 4945 531 4924 596Z" fill="#e60e00"/>
<path d="M4004 507 4026 517 4047 514 4025 493Z" fill="#e60000"/>
<path d="M4666 554 4687 524 4706 570 4686 525Z" fill="#e21200"/>
<path d="M3767 552 3789 522 3808 515 3788 572Z" fill="#e61200"/>
<path d="M4431 489 4450 497 4468 582 4449 579Z" fill="#e20a00"/>
<path d="M5089 528 5115 521 5132 517 5106 523Z" fill="#ea0000"/>
<path d="M4191 587 4214 585 4233 599 4211 583Z" fill="#f24600"/>
<path d="M4986 643 4998 643 4995 824 4993 1160 4991 1160 4988 824Z" fill="url(#sg)"/>
<path d="M4852 498 4874 532 4895 510 4873 495ZM3953 526 3978 516 3995 506 3974 531Z" fill="#e60000"/>
<path d="M4616 579 4636 611 4655 516 4635 524Z" fill="#f22200"/>
<path d="M3718 593 3738 541 3757 535 3737 570Z" fill="#ee2200"/>
<path d="M4378 518 4399 528 4419 483 4398 474Z" fill="#de0000"/>
<path d="M5040 572 5060 533 5080 524 5059 561Z" fill="#ee1600"/>
<path d="M4141 545 4162 524 4180 605 4161 591Z" fill="#e22600"/>
<path d="M3705 580 3718 580 3715 752 3713 1070 3711 1070 3708 752Z" fill="url(#sg)"/>
<path d="M4802 527 4823 520 4844 506 4822 488Z" fill="#e20000"/>
<path d="M3902 535 3924 512 3944 521 3924 578Z" fill="#e20a00"/>
<path d="M4564 569 4589 560 4606 568 4585 549Z" fill="#ee2600"/>
<path d="M3666 565 3687 621 3706 608 3686 539Z" fill="#fa3e00"/>
<path d="M4326 552 4348 565 4369 557 4347 544Z" fill="#f21e00"/>
<path d="M4990 664 5009 591 5029 579 5008 583Z" fill="#f25200"/>
<path d="M4089 546 4111 611 4131 543 4110 529Z" fill="#f22200"/>
<path d="M4752 526 4772 603 4791 587 4771 510Z" fill="#f61e00"/>
<path d="M3852 508 3874 520 3895 513 3872 521Z" fill="#de0000"/>
<path d="M4513 561 4535 561 4556 539 4534 527Z" fill="#f21200"/>
<path d="M3616 644 3636 644 3656 596 3635 598Z" fill="#f66200"/>
<path d="M4277 570 4298 555 4317 527 4296 530Z" fill="#ea1200"/>
<path d="M4939 528 4958 531 4979 578 4958 647Z" fill="#e62a00"/>
<path d="M4039 510 4060 537 4080 540 4059 500Z" fill="#ee0000"/>
<path d="M4701 563 4724 589 4742 607 4720 610Z" fill="#ea3e00"/>
<path d="M3801 519 3823 526 3844 509 3821 523Z" fill="#e20000"/>
<path d="M4464 574 4484 576 4503 635 4483 614Z" fill="#f24a00"/>
<path d="M5123 517 5145 532 5166 519 5144 509Z" fill="#ea0000"/>
<path d="M4227 601 4247 599 4266 538 4246 540Z" fill="#f22a00"/>
<path d="M4886 508 4908 532 4929 516 4907 509ZM3987 507 4009 526 4030 512 4008 502Z" fill="#e60000"/>
<path d="M4649 518 4670 517 4691 527 4670 556Z" fill="#ea0000"/>
<path d="M3750 538 3772 546 3792 524 3771 555Z" fill="#ea0a00"/>
<path d="M4411 484 4437 495 4454 504 4429 490Z" fill="#ca0000"/>
<path d="M5072 527 5094 539 5115 521 5092 522Z" fill="#ee0000"/>
<path d="M4174 603 4196 585 4217 589 4195 583Z" fill="#e63e00"/>
<path d="M4835 505 4857 525 4877 530 4856 495ZM3936 524 3962 526 3979 519 3957 529Z" fill="#e60000"/>
<path d="M4599 563 4620 600 4639 610 4619 571Z" fill="#f23a00"/>
<path d="M3701 608 3721 555 3740 542 3720 594Z" fill="#f62e00"/>
<path d="M4362 560 4382 569 4402 520 4381 511Z" fill="#f60a00"/>
<path d="M5023 585 5043 586 5062 534 5041 573Z" fill="#f22600"/>
<path d="M4123 547 4145 524 4166 526 4144 552Z" fill="#e60600"/>
<path d="M4787 588 4806 571 4825 511 4805 519Z" fill="#ee0e00"/>
<path d="M3886 511 3911 526 3928 515 3907 540Z" fill="#e20000"/>
<path d="M4548 538 4569 549 4590 564 4568 573Z" fill="#ea1a00"/>
<path d="M3648 599 3670 635 3690 619 3669 564Z" fill="#fa4e00"/>
<path d="M4310 527 4331 527 4351 563 4331 557Z" fill="#e60e00"/>
<path d="M4973 573 4997 611 5013 593 4992 664Z" fill="#ee4e00"/>
<path d="M4075 533 4094 612 4113 610 4093 544Z" fill="#f22e00"/>
<path d="M4735 607 4755 618 4776 601 4755 526Z" fill="#f63a00"/>
<path d="M3835 510 3857 533 3878 515 3856 505Z" fill="#e60000"/>
<path d="M4498 635 4518 657 4536 552 4517 554Z" fill="#fa4600"/>
<path d="M3668 593 3689 593 3682 784 3680 1139 3677 1139 3675 784Z" fill="url(#sg)"/>
<path d="M3600 696 3619 695 3639 636 3619 636Z" fill="#f28e00"/>
<path d="M5157 518 5179 538 5200 519 5178 509Z" fill="#ea0000"/>
<path d="M4259 540 4281 534 4302 551 4280 571Z" fill="#ee1200"/>
<path d="M4921 513 4942 542 4963 537 4940 537ZM4022 510 4044 528 4064 535 4042 508Z" fill="#ea0000"/>
<path d="M4684 524 4704 522 4723 596 4704 571Z" fill="#e21200"/>
<path d="M3784 527 3806 542 3827 521 3805 514Z" fill="#ee0000"/>
<path d="M4448 498 4467 505 4486 585 4466 582Z" fill="#e20a00"/>
<path d="M5106 521 5128 543 5149 528 5127 513Z" fill="#f20000"/>
<path d="M4208 589 4230 569 4251 596 4229 601Z" fill="#ea3600"/>
<path d="M4870 525 4891 600 4911 525 4890 505Z" fill="#fa0600"/>
<path d="M3971 519 3992 543 4014 522 3992 504Z" fill="#ee0000"/>
<path d="M4635 611 4654 606 4672 518 4653 516Z" fill="#f21e00"/>
<path d="M3733 545 3755 567 3776 540 3754 534Z" fill="#ee0e00"/>
<path d="M4395 526 4416 536 4436 491 4416 482Z" fill="#de0000"/>
<path d="M5056 537 5077 564 5098 533 5077 523Z" fill="#f60600"/>
<path d="M4159 524 4179 512 4198 593 4178 606Z" fill="#e21600"/>
<path d="M4818 515 4841 520 4861 522 4839 502Z" fill="#de0000"/>
<path d="M3920 514 3942 537 3963 523 3937 526Z" fill="#e60000"/>
<path d="M4581 561 4603 545 4622 599 4601 562Z" fill="#e62200"/>
<path d="M3684 621 3704 576 3723 556 3704 609Z" fill="#f63a00"/>
<path d="M4344 560 4366 570 4387 566 4364 552Z" fill="#ee1a00"/>
<path d="M5005 595 5027 630 5047 578 5026 578Z" fill="#ea3e00"/>
<path d="M4109 611 4129 569 4147 525 4127 541Z" fill="#ee1a00"/>
<path d="M4768 601 4790 593 4809 563 4787 579Z" fill="#f23200"/>
<path d="M4781 568 4797 568 4792 751 4790 1091 4788 1091 4785 751Z" fill="url(#sg)"/>
<path d="M3869 514 3891 547 3912 522 3890 509Z" fill="#ea0000"/>
<path d="M4530 558 4552 560 4573 554 4551 536Z" fill="#f20e00"/>
<path d="M3632 641 3654 662 3675 630 3653 595Z" fill="#f66600"/>
<path d="M4092 591 4113 591 4106 729 4104 986 4101 986 4099 729Z" fill="url(#sg)"/>
<path d="M4294 553 4315 545 4336 530 4314 526Z" fill="#ea0200"/>
<path d="M4957 532 4976 634 4995 614 4975 572Z" fill="#f23600"/>
<path d="M4057 529 4077 526 4095 612 4077 532Z" fill="#ea0e00"/>
<path d="M4717 591 4739 569 4758 616 4738 609Z" fill="#ea3a00"/>
<path d="M3818 520 3840 552 3861 529 3839 507Z" fill="#f20000"/>
<path d="M4482 577 4501 580 4520 657 4500 635Z" fill="#f24e00"/>
<path d="M5141 526 5162 556 5184 534 5162 514Z" fill="#f60000"/>
<path d="M4244 598 4264 587 4283 535 4263 537Z" fill="#ee1e00"/>
<path d="M4904 525 4925 585 4946 537 4924 512Z" fill="#fa0200"/>
<path d="M4005 520 4027 568 4047 522 4026 508Z" fill="#f60000"/>
<path d="M4666 521 4689 532 4709 526 4686 533Z" fill="#de0000"/>
<path d="M3767 542 3789 559 3810 537 3788 522Z" fill="#fa0200"/>
<path d="M4429 492 4454 500 4471 512 4445 501Z" fill="#ca0000"/>
<path d="M5090 534 5112 555 5133 539 5111 518Z" fill="#fa0000"/>
<path d="M4192 592 4213 536 4234 574 4212 594Z" fill="#e22200"/>
<path d="M4854 517 4874 527 4892 600 4873 523Z" fill="#f20600"/>
<path d="M3954 521 3976 549 3997 541 3975 515Z" fill="#f60000"/>
<path d="M4616 592 4637 645 4658 600 4636 602Z" fill="#ee4a00"/>
<path d="M3717 558 3738 598 3760 561 3738 541Z" fill="#f21e00"/>
<path d="M4379 568 4400 578 4419 528 4399 519Z" fill="#f60a00"/>
<path d="M5040 585 5061 569 5082 560 5060 533Z" fill="#ee1600"/>
<path d="M4141 530 4163 514 4183 515 4161 533Z" fill="#d60000"/>
<path d="M4804 570 4826 528 4843 513 4823 511Z" fill="#e60000"/>
<path d="M3904 519 3925 574 3946 532 3924 512Z" fill="#f60000"/>
<path d="M4564 552 4586 573 4607 547 4585 567Z" fill="#ea1200"/>
<path d="M3667 634 3691 606 3707 577 3687 621Z" fill="#fa4a00"/>
<path d="M4328 529 4349 530 4369 568 4348 565Z" fill="#e60a00"/>
<path d="M4988 611 5010 596 5030 629 5009 591Z" fill="#ea4200"/>
<path d="M4092 611 4111 541 4131 562 4111 611Z" fill="#e62a00"/>
<path d="M4751 613 4773 667 4792 585 4772 594Z" fill="#f24e00"/>
<path d="M3853 526 3874 590 3895 542 3873 511Z" fill="#fe0200"/>
<path d="M4516 657 4535 675 4553 551 4535 552Z" fill="#f64a00"/>
<path d="M3616 694 3637 707 3657 654 3636 635Z" fill="#f28a00"/>
<path d="M5175 535 5197 541 5218 526 5196 515Z" fill="#ea0000"/>
<path d="M4276 538 4299 538 4319 540 4297 555Z" fill="#ee0200"/>
<path d="M4940 533 4959 650 4977 634 4958 531Z" fill="#fa3200"/>
<path d="M4039 521 4061 545 4082 530 4058 537Z" fill="#e60000"/>
<path d="M4702 522 4722 524 4742 576 4721 596Z" fill="#e20e00"/>
<path d="M3802 536 3823 579 3844 548 3823 517Z" fill="#fe0600"/>
<path d="M4465 506 4484 513 4503 589 4484 585Z" fill="#e20600"/>
<path d="M5124 536 5146 581 5167 553 5145 523Z" fill="#fe0600"/>
<path d="M4225 574 4247 545 4268 584 4246 599Z" fill="#e62200"/>
<path d="M4887 598 4908 639 4929 580 4908 523Z" fill="#f22a00"/>
<path d="M3988 537 4010 573 4030 566 4009 517Z" fill="#fa0600"/>
<path d="M4652 606 4671 578 4690 523 4670 517Z" fill="#f20e00"/>
<path d="M3751 563 3773 577 3794 554 3772 537Z" fill="#fe1200"/>
<path d="M4995 589 5007 589 5005 792 5002 1170 5000 1170 4998 792Z" fill="url(#sg)"/>
<path d="M4413 534 4434 544 4454 499 4433 489Z" fill="#da0000"/>
<path d="M5073 562 5095 562 5116 551 5094 530Z" fill="#fa0600"/>
<path d="M4176 513 4196 505 4218 541 4196 594Z" fill="#de0000"/>
<path d="M4516 645 4537 645 4530 807 4528 1106 4525 1106 4523 807Z" fill="url(#sg)"/>
<path d="M4836 514 4858 515 4878 534 4856 516Z" fill="#d60000"/>
<path d="M3938 530 3959 589 3980 544 3958 519Z" fill="#fe0600"/>
<path d="M4601 545 4620 540 4638 645 4619 600Z" fill="#e22600"/>
<path d="M3700 579 3722 630 3743 595 3721 555Z" fill="#f63200"/>
<path d="M4361 564 4387 567 4404 575 4382 560Z" fill="#ee1a00"/>
<path d="M5025 630 5044 545 5064 561 5042 585Z" fill="#e62200"/>
<path d="M4126 569 4147 531 4165 515 4145 524Z" fill="#e20000"/>
<path d="M4787 593 4807 569 4826 528 4806 571Z" fill="#ea1200"/>
<path d="M3888 539 3908 621 3929 571 3907 518Z" fill="#fe1600"/>
<path d="M4548 555 4570 552 4590 570 4568 549Z" fill="#f60e00"/>
<path d="M3651 661 3671 650 3690 605 3670 626Z" fill="#f66200"/>
<path d="M4310 541 4332 547 4353 534 4331 527Z" fill="#e20000"/>
<path d="M4973 633 4993 593 5014 598 4991 615Z" fill="#ee4200"/>
<path d="M4075 527 4095 530 4115 543 4094 612Z" fill="#e60a00"/>
<path d="M4736 569 4756 543 4774 667 4755 618Z" fill="#e63600"/>
<path d="M3837 544 3857 614 3877 589 3857 524Z" fill="#fe1a00"/>
<path d="M4499 580 4519 585 4537 675 4518 657Z" fill="#ee5200"/>
<path d="M5158 554 5180 556 5201 534 5179 529Z" fill="#f60000"/>
<path d="M4261 586 4281 572 4301 539 4280 534Z" fill="#ee0e00"/>
<path d="M4923 577 4942 681 4961 650 4942 533Z" fill="#f64200"/>
<path d="M4022 564 4044 622 4063 537 4043 519Z" fill="#fa1200"/>
<path d="M4758 610 4770 610 4768 786 4765 1113 4763 1113 4761 786Z" fill="url(#sg)"/>
<path d="M4683 527 4705 540 4726 528 4704 522Z" fill="#da0000"/>
<path d="M3785 553 3807 600 3827 577 3806 533Z" fill="#fe1600"/>
<path d="M4971 611 4981 611 4979 740 4977 978 4975 978 4972 740Z" fill="url(#sg)"/>
<path d="M4446 500 4471 507 4488 520 4463 512Z" fill="#ca0000"/>
<path d="M5109 548 5129 620 5150 578 5128 534Z" fill="#fe1a00"/>
<path d="M4209 538 4230 525 4252 550 4230 578Z" fill="#e20200"/>
<path d="M4873 527 4892 535 4910 639 4891 600Z" fill="#e61a00"/>
<path d="M3972 542 3993 573 4013 571 3992 534Z" fill="#fa0a00"/>
<path d="M4634 644 4654 660 4673 569 4653 597Z" fill="#e64600"/>
<path d="M3735 597 3756 598 3777 570 3755 558Z" fill="#fa2600"/>
<path d="M4396 576 4417 587 4437 536 4416 527Z" fill="#fa0a00"/>
<path d="M5056 565 5079 553 5099 557 5073 559Z" fill="#f20e00"/>
<path d="M4158 519 4181 521 4201 509 4178 521Z" fill="#ca0000"/>
<path d="M4819 534 4841 533 4862 519 4840 511Z" fill="#d60000"/>
<path d="M3921 568 3942 628 3963 586 3942 528Z" fill="#fe2200"/>
<path d="M4582 570 4603 590 4623 541 4603 545Z" fill="#ee0e00"/>
<path d="M3683 607 3705 657 3726 627 3704 576Z" fill="#fa4a00"/>
<path d="M4645 616 4655 616 4653 781 4651 1088 4649 1088 4646 781Z" fill="url(#sg)"/>
<path d="M4346 531 4366 534 4386 571 4365 570Z" fill="#e20200"/>
<path d="M5007 604 5027 546 5046 546 5027 630Z" fill="#e21e00"/>
<path d="M4107 544 4129 539 4149 533 4128 569Z" fill="#ea0000"/>
<path d="M4771 667 4790 672 4808 561 4789 584Z" fill="#ea4a00"/>
<path d="M3870 584 3892 623 3911 620 3891 538Z" fill="#f62e00"/>
<path d="M4534 675 4553 686 4571 552 4552 551Z" fill="#f64600"/>
<path d="M3634 706 3654 699 3673 642 3653 653Z" fill="#f68600"/>
<path d="M5192 536 5214 550 5235 533 5213 522Z" fill="#ea0000"/>
<path d="M4293 542 4316 551 4337 542 4314 536Z" fill="#ee0000"/>
<path d="M4956 649 4977 649 4995 593 4973 633Z" fill="#ee5200"/>
<path d="M4057 538 4078 619 4098 531 4077 526Z" fill="#f20600"/>
<path d="M4719 525 4739 530 4760 548 4738 578Z" fill="#e20000"/>
<path d="M3819 572 3841 612 3860 614 3840 543Z" fill="#f62600"/>
<path d="M4483 514 4502 521 4520 593 4501 589Z" fill="#e20600"/>
<path d="M5142 579 5163 583 5183 549 5162 547Z" fill="#fa0e00"/>
<path d="M4243 547 4265 539 4285 569 4264 587Z" fill="#e20a00"/>
<path d="M4905 637 4926 588 4944 681 4925 576Z" fill="#e64600"/>
<path d="M4919 605 4932 605 4929 752 4927 1025 4924 1025 4922 752Z" fill="url(#sg)"/>
<path d="M4006 567 4027 547 4046 622 4026 559Z" fill="#f21a00"/>
<path d="M4668 577 4689 558 4709 533 4688 523Z" fill="#ee0000"/>
<path d="M3769 570 3790 612 3810 599 3789 550Z" fill="#fe2600"/>
<path d="M4430 542 4451 552 4471 506 4450 497Z" fill="#da0000"/>
<path d="M4770 649 4792 649 4785 823 4782 1146 4780 1146 4778 823Z" fill="url(#sg)"/>
<path d="M5093 554 5112 640 5131 620 5111 546Z" fill="#fa2a00"/>
<path d="M4193 507 4214 505 4235 531 4213 545Z" fill="#c60000"/>
<path d="M4854 518 4875 521 4895 542 4874 536Z" fill="#d20000"/>
<path d="M3955 587 3976 610 3997 566 3976 540Z" fill="#fa1a00"/>
<path d="M4619 540 4638 542 4655 660 4637 645Z" fill="#e22a00"/>
<path d="M3719 628 3739 621 3759 591 3738 589Z" fill="#fa3e00"/>
<path d="M4379 566 4401 564 4421 584 4397 577Z" fill="#ee1600"/>
<path d="M5040 548 5065 554 5083 558 5060 569Z" fill="#ea0600"/>
<path d="M4141 538 4163 545 4183 514 4162 514Z" fill="#da0000"/>
<path d="M4803 568 4824 586 4843 525 4823 527Z" fill="#f20000"/>
<path d="M3904 619 3926 614 3945 627 3925 565Z" fill="#f63a00"/>
<path d="M4566 554 4587 554 4606 588 4585 572Z" fill="#f60e00"/>
<path d="M3666 645 3688 687 3709 654 3688 604Z" fill="#fa6600"/>
<path d="M4328 543 4350 550 4371 538 4348 530Z" fill="#e20000"/>
<path d="M4990 601 5011 556 5030 546 5010 605Z" fill="#e21600"/>
<path d="M4091 532 4112 561 4133 543 4107 547Z" fill="#ea0000"/>
<path d="M4755 544 4773 541 4791 671 4773 667Z" fill="#e23200"/>
<path d="M3853 612 3875 586 3895 622 3874 581Z" fill="#ee3200"/>
<path d="M4517 585 4536 591 4554 686 4535 675Z" fill="#ee5200"/>
<path d="M5175 553 5197 567 5218 545 5196 532Z" fill="#f20000"/>
<path d="M4278 570 4299 562 4319 545 4298 538Z" fill="#ee0000"/>
<path d="M4940 681 4960 606 4981 645 4958 650Z" fill="#e65a00"/>
<path d="M4948 628 4971 628 4963 799 4961 1118 4958 1118 4956 799Z" fill="url(#sg)"/>
<path d="M4042 622 4061 553 4080 619 4061 536Z" fill="#f21e00"/>
<path d="M4052 566 4070 566 4064 730 4062 1033 4060 1033 4057 730Z" fill="url(#sg)"/>
<path d="M4701 535 4723 550 4744 534 4722 524Z" fill="#de0000"/>
<path d="M3802 597 3826 587 3844 610 3823 570Z" fill="#f22a00"/>
<path d="M4464 507 4489 515 4506 527 4481 521Z" fill="#c60000"/>
<path d="M5125 619 5146 640 5166 575 5146 572Z" fill="#f63200"/>
<path d="M4226 527 4248 522 4269 545 4247 554Z" fill="#d20000"/>
<path d="M4890 535 4909 538 4929 595 4908 639Z" fill="#e21600"/>
<path d="M3989 569 4012 568 4031 549 4010 573Z" fill="#f20a00"/>
<path d="M4653 660 4672 615 4690 549 4671 569Z" fill="#e62a00"/>
<path d="M3751 593 3773 617 3794 610 3772 568Z" fill="#fa2e00"/>
<path d="M4414 585 4434 596 4454 544 4434 535Z" fill="#fa0a00"/>
<path d="M5076 554 5096 607 5114 639 5095 553Z" fill="#f22200"/>
<path d="M4175 517 4197 529 4218 508 4196 505Z" fill="#c60000"/>
<path d="M4836 528 4858 541 4879 525 4857 515Z" fill="#d60000"/>
<path d="M3939 627 3960 594 3981 607 3959 580Z" fill="#f63200"/>
<path d="M4792 610 4805 610 4802 744 4800 991 4797 991 4795 744Z" fill="url(#sg)"/>
<path d="M4600 588 4621 609 4640 543 4620 540Z" fill="#ee0e00"/>
<path d="M3702 656 3722 648 3742 613 3721 621Z" fill="#f65600"/>
<path d="M4363 535 4384 538 4404 571 4383 572Z" fill="#e20000"/>
<path d="M5023 549 5045 562 5066 558 5044 545Z" fill="#e60000"/>
<path d="M4124 542 4146 569 4167 540 4145 531Z" fill="#ea0000"/>
<path d="M4789 671 4807 578 4827 578 4807 561Z" fill="#ea2a00"/>
<path d="M3888 622 3909 568 3930 611 3908 621Z" fill="#e63200"/>
<path d="M4063 584 4085 584 4077 772 4075 1122 4073 1122 4070 772Z" fill="url(#sg)"/>
<path d="M4551 686 4570 693 4588 554 4569 551Z" fill="#f64200"/>
<path d="M3650 697 3672 726 3693 682 3671 641Z" fill="#f68a00"/>
<path d="M5209 546 5231 558 5252 544 5230 529Z" fill="#ee0000"/>
<path d="M4311 547 4333 556 4354 545 4332 538Z" fill="#ea0000"/>
<path d="M4975 649 4994 576 5013 557 4992 602Z" fill="#e22600"/>
<path d="M4076 619 4095 632 4114 553 4095 530Z" fill="#f21e00"/>
<path d="M4735 533 4760 545 4778 546 4756 552Z" fill="#da0000"/>
<path d="M3837 610 3858 574 3879 589 3857 614Z" fill="#ea2600"/>
<path d="M4500 521 4519 529 4538 600 4518 594Z" fill="#e20200"/>
<path d="M5159 581 5180 583 5201 561 5180 547Z" fill="#f60a00"/>
<path d="M4261 542 4282 538 4303 558 4281 572Z" fill="#de0000"/>
<path d="M4923 589 4943 556 4964 611 4942 681Z" fill="#e23200"/>
<path d="M4024 549 4045 548 4065 555 4044 622Z" fill="#ea0e00"/>
<path d="M4684 555 4706 556 4727 545 4705 531Z" fill="#ea0000"/>
<path d="M3786 610 3808 589 3828 590 3805 592Z" fill="#f22a00"/>
<path d="M4448 551 4468 560 4488 514 4468 505Z" fill="#da0000"/>
<path d="M5108 634 5130 683 5151 635 5129 611Z" fill="#ee5200"/>
<path d="M5124 625 5134 625 5133 771 5130 1042 5128 1042 5126 771Z" fill="url(#sg)"/>
<path d="M4210 507 4231 510 4252 528 4230 534Z" fill="#c20000"/>
<path d="M4871 523 4894 541 4913 544 4891 544Z" fill="#d60000"/>
<path d="M3974 610 3994 596 4013 560 3993 564Z" fill="#fa1a00"/>
<path d="M4636 543 4655 547 4675 614 4654 660Z" fill="#e61e00"/>
<path d="M3735 618 3757 625 3778 613 3756 589Z" fill="#fa3a00"/>
<path d="M4077 605 4096 605 4090 816 4088 1208 4085 1208 4083 816Z" fill="url(#sg)"/>
<path d="M4396 566 4418 564 4438 595 4417 587Z" fill="#ee1200"/>
<path d="M5058 554 5082 576 5098 606 5078 553Z" fill="#ee0a00"/>
<path d="M4159 542 4180 566 4201 522 4180 512Z" fill="#de0000"/>
<path d="M4821 585 4841 607 4861 533 4841 524Z" fill="#f60200"/>
<path d="M3922 612 3943 559 3964 598 3942 628Z" fill="#ea2600"/>
<path d="M4584 555 4604 559 4623 609 4603 590Z" fill="#fa1200"/>
<path d="M3685 686 3706 680 3725 640 3705 648Z" fill="#f66e00"/>
<path d="M4345 546 4367 554 4388 542 4366 534Z" fill="#de0000"/>
<path d="M5006 561 5028 566 5049 558 5027 546Z" fill="#ea0000"/>
<path d="M4109 554 4129 645 4150 562 4129 539Z" fill="#fa1200"/>
<path d="M4771 541 4791 544 4812 582 4790 672Z" fill="#e21600"/>
<path d="M3870 591 3892 564 3912 569 3891 623Z" fill="#e21a00"/>
<path d="M4534 591 4553 599 4572 692 4553 686Z" fill="#ee5200"/>
<path d="M5193 564 5215 569 5236 553 5214 541Z" fill="#f60000"/>
<path d="M4294 558 4316 562 4337 551 4315 542Z" fill="#e60000"/>
<path d="M4956 613 4977 564 4997 578 4976 649Z" fill="#e62600"/>
<path d="M4059 554 4079 548 4097 632 4078 619Z" fill="#e61a00"/>
<path d="M4718 545 4740 561 4761 542 4739 530Z" fill="#e60000"/>
<path d="M3819 592 3842 582 3862 576 3841 612Z" fill="#ea1e00"/>
<path d="M4481 515 4507 525 4523 535 4498 528Z" fill="#c60000"/>
<path d="M5145 640 5164 580 5184 576 5163 574Z" fill="#ee1e00"/>
<path d="M4088 594 4111 594 4103 770 4101 1099 4098 1099 4096 770Z" fill="url(#sg)"/>
<path d="M4244 524 4265 524 4286 545 4264 548Z" fill="#ca0000"/>
<path d="M4906 539 4926 550 4947 559 4926 597Z" fill="#e60000"/>
<path d="M4006 563 4028 599 4048 550 4027 547Z" fill="#f60200"/>
<path d="M4670 615 4690 579 4709 548 4688 549Z" fill="#ea0a00"/>
<path d="M3769 614 3791 613 3811 591 3789 612Z" fill="#fa2e00"/>
<path d="M4431 595 4452 606 4471 552 4451 543Z" fill="#fa0a00"/>
<path d="M5093 598 5113 608 5131 683 5112 640Z" fill="#e64200"/>
<path d="M4192 525 4214 544 4235 512 4214 505Z" fill="#ca0000"/>
<path d="M4854 536 4876 561 4897 537 4875 521Z" fill="#de0000"/>
<path d="M3955 600 3977 568 3998 591 3976 610Z" fill="#ee1e00"/>
<path d="M4618 608 4638 633 4657 547 4637 542Z" fill="#f61200"/>
<path d="M3719 646 3740 645 3760 619 3739 612Z" fill="#f64600"/>
<path d="M5123 652 5145 652 5137 801 5135 1079 5133 1079 5130 801Z" fill="url(#sg)"/>
<path d="M4380 540 4401 543 4421 571 4400 573Z" fill="#de0000"/>
<path d="M5040 556 5062 573 5083 575 5061 552Z" fill="#ee0000"/>
<path d="M4143 562 4164 652 4183 558 4163 536Z" fill="#fa0e00"/>
<path d="M4803 583 4825 557 4844 606 4822 577Z" fill="#ea1200"/>
<path d="M3904 571 3926 552 3947 561 3925 614Z" fill="#e60a00"/>
<path d="M4569 693 4587 697 4605 560 4587 554Z" fill="#f63e00"/>
<path d="M3669 725 3689 719 3708 672 3688 678Z" fill="#f68e00"/>
<path d="M5227 552 5249 600 5270 558 5248 540Z" fill="#f60000"/>
<path d="M4328 552 4350 561 4371 550 4349 541Z" fill="#e60000"/>
<path d="M4990 584 5012 578 5032 560 5010 556Z" fill="#ee0200"/>
<path d="M4093 632 4113 565 4131 644 4112 552Z" fill="#ee2200"/>
<path d="M4105 582 4120 582 4116 727 4114 997 4111 997 4109 727Z" fill="url(#sg)"/>
<path d="M4752 542 4774 555 4795 549 4772 541Z" fill="#da0000"/>
<path d="M3854 579 3877 573 3896 566 3875 595Z" fill="#e60e00"/>
<path d="M4517 529 4537 536 4555 608 4536 600Z" fill="#e20200"/>
<path d="M5176 581 5198 578 5219 563 5197 558Z" fill="#fa0200"/>
<path d="M4278 541 4300 541 4320 560 4298 562Z" fill="#d60000"/>
<path d="M4940 557 4961 570 4981 566 4960 615Z" fill="#ea0a00"/>
<path d="M4041 550 4062 593 4082 550 4061 553Z" fill="#ea0000"/>
<path d="M4701 552 4724 557 4744 557 4722 541Z" fill="#e60000"/>
<path d="M3803 593 3825 608 3845 584 3823 587Z" fill="#f21e00"/>
<path d="M4465 559 4486 568 4506 522 4485 513Z" fill="#da0000"/>
<path d="M5128 683 5147 580 5166 581 5146 640Z" fill="#e63200"/>
<path d="M4227 512 4251 527 4269 530 4247 531Z" fill="#c20000"/>
<path d="M4889 535 4910 566 4931 556 4909 538Z" fill="#e20000"/>
<path d="M3989 590 4011 633 4032 594 4010 559Z" fill="#fa1e00"/>
<path d="M4652 548 4672 553 4693 575 4672 615Z" fill="#ea0600"/>
<path d="M3752 622 3774 637 3794 606 3773 608Z" fill="#fa3600"/>
<path d="M4414 566 4435 567 4455 605 4434 596Z" fill="#ee0e00"/>
<path d="M5076 569 5096 577 5116 616 5095 607Z" fill="#e21600"/>
<path d="M4176 561 4198 627 4217 536 4197 520ZM4839 606 4859 577 4879 554 4858 532Z" fill="#f20000"/>
<path d="M3939 561 3960 562 3981 572 3960 603Z" fill="#ea0600"/>
<path d="M4118 606 4132 606 4129 815 4126 1202 4124 1202 4122 815Z" fill="url(#sg)"/>
<path d="M4602 560 4622 566 4640 633 4621 609Z" fill="#fa1a00"/>
<path d="M3702 678 3723 678 3743 637 3722 639Z" fill="#f65e00"/>
<path d="M4362 550 4384 560 4405 547 4383 538Z" fill="#da0000"/>
<path d="M5024 561 5045 579 5066 570 5044 553Z" fill="#f20000"/>
<path d="M4126 644 4147 643 4166 651 4146 560Z" fill="#f23a00"/>
<path d="M4787 546 4808 551 4829 561 4807 587Z" fill="#de0000"/>
<path d="M3888 569 3912 561 3930 555 3909 577Z" fill="#ea0000"/>
<path d="M4552 600 4571 610 4589 696 4570 693Z" fill="#ea5200"/>
<path d="M5211 561 5232 622 5252 598 5231 549Z" fill="#fe0e00"/>
<path d="M4311 558 4334 565 4355 557 4332 547Z" fill="#e20000"/>
<path d="M4974 565 4995 632 5015 571 4994 576Z" fill="#ee1200"/>
<path d="M4076 549 4096 563 4117 567 4095 632Z" fill="#e60a00"/>
<path d="M4735 557 4757 572 4778 550 4756 538Z" fill="#e60000"/>
<path d="M3837 586 3859 603 3880 576 3858 574Z" fill="#f21200"/>
<path d="M4498 523 4523 537 4541 542 4515 534Z" fill="#c60000"/>
<path d="M5159 586 5181 592 5202 572 5180 574Z" fill="#f60a00"/>
<path d="M4261 527 4283 532 4303 547 4282 547Z" fill="#c60000"/>
<path d="M4923 551 4944 609 4965 575 4943 556Z" fill="#f20200"/>
<path d="M4023 594 4045 645 4066 587 4044 548Z" fill="#f61a00"/>
<path d="M4685 578 4707 572 4727 550 4706 547Z" fill="#e20000"/>
<path d="M3786 608 3808 635 3829 603 3807 589Z" fill="#fa2a00"/>
<path d="M4449 605 4469 616 4489 560 4468 551Z" fill="#fa0e00"/>
<path d="M5108 612 5130 582 5149 581 5130 683Z" fill="#e22a00"/>
<path d="M4210 541 4232 569 4252 521 4231 510Z" fill="#d20000"/>
<path d="M4871 556 4893 575 4914 562 4892 533Z" fill="#ea0000"/>
<path d="M3975 569 3994 643 4014 632 3994 587Z" fill="#f62600"/>
<path d="M4636 633 4656 661 4674 554 4655 547Z" fill="#fa1e00"/>
<path d="M3735 641 3757 670 3778 630 3756 616Z" fill="#fa4a00"/>
<path d="M4397 545 4418 549 4439 573 4417 573Z" fill="#da0000"/>
<path d="M5058 568 5080 568 5100 583 5077 568Z" fill="#ea0000"/>
<path d="M4160 650 4181 690 4202 620 4180 557Z" fill="#f23a00"/>
<path d="M4821 559 4842 561 4863 572 4841 607Z" fill="#ea0200"/>
<path d="M3922 555 3944 581 3965 566 3942 559Z" fill="#ea0000"/>
<path d="M4586 697 4605 698 4623 566 4604 559Z" fill="#f63a00"/>
<path d="M3686 718 3706 723 3726 670 3706 671Z" fill="#f68200"/>
<path d="M5245 598 5266 597 5287 574 5265 554Z" fill="#fa0600"/>
<path d="M4346 557 4368 567 4389 555 4367 545Z" fill="#e60000"/>
<path d="M5007 573 5029 601 5050 574 5028 557Z" fill="#f60200"/>
<path d="M4111 566 4130 566 4149 643 4129 645Z" fill="#e61e00"/>
<path d="M4769 550 4792 561 4812 557 4790 544Z" fill="#da0000"/>
<path d="M3871 579 3893 590 3913 563 3892 564Z" fill="#f60200"/>
<path d="M4535 536 4554 543 4573 618 4553 608Z" fill="#e20200"/>
<path d="M5195 570 5215 630 5235 621 5214 560Z" fill="#ff1600"/>
<path d="M4295 543 4317 547 4337 563 4316 562Z" fill="#d60000"/>
<path d="M4958 571 4978 674 4998 630 4977 564Z" fill="#f22200"/>
<path d="M4058 586 4079 693 4098 564 4079 548Z" fill="#ee1a00"/>
<path d="M4719 551 4741 551 4761 570 4739 552Z" fill="#e20000"/>
<path d="M3820 604 3842 633 3863 597 3841 582Z" fill="#fa2200"/>
<path d="M4482 567 4503 576 4523 530 4502 521Z" fill="#da0000"/>
<path d="M5143 583 5164 605 5185 587 5163 580Z" fill="#ee0e00"/>
<path d="M4244 522 4266 541 4287 537 4265 524Z" fill="#c60000"/>
<path d="M4906 558 4927 584 4946 608 4926 550Z" fill="#f60000"/>
<path d="M4007 631 4029 600 4048 644 4028 590Z" fill="#ee2a00"/>
<path d="M4635 609 4651 609 4646 804 4644 1167 4641 1167 4639 804Z" fill="url(#sg)"/>
<path d="M4668 556 4694 565 4711 568 4689 579Z" fill="#e60000"/>
<path d="M3769 631 3791 672 3812 630 3790 604Z" fill="#fa4200"/>
<path d="M4432 568 4452 571 4472 616 4452 606Z" fill="#ee0e00"/>
<path d="M5092 579 5114 574 5135 586 5113 617Z" fill="#e60e00"/>
<path d="M4196 626 4215 634 4234 560 4214 535Z" fill="#f60e00"/>
<path d="M4854 574 4877 576 4897 571 4875 552Z" fill="#ea0000"/>
<path d="M3959 562 3978 673 3997 642 3977 568Z" fill="#fa2600"/>
<path d="M4620 566 4639 573 4657 661 4638 633Z" fill="#fa2200"/>
<path d="M3718 673 3740 715 3761 664 3740 636Z" fill="#fa6600"/>
<path d="M4380 555 4402 565 4423 553 4401 543Z" fill="#da0000"/>
<path d="M4169 659 4184 659 4180 801 4178 1065 4175 1065 4173 801Z" fill="url(#sg)"/>
<path d="M5041 576 5063 563 5084 573 5061 564Z" fill="#ea0000"/>
<path d="M4143 638 4164 601 4183 689 4163 652Z" fill="#ea4200"/>
<path d="M4804 555 4826 567 4846 566 4821 563Z" fill="#da0000"/>
<path d="M3906 562 3927 642 3948 574 3926 552Z" fill="#f60600"/>
<path d="M4569 610 4588 622 4607 698 4587 697Z" fill="#ea4e00"/>
<path d="M5228 620 5249 614 5270 590 5248 591Z" fill="#fe1a00"/>
<path d="M4329 561 4351 570 4372 563 4350 552Z" fill="#e20000"/>
<path d="M4992 631 5012 582 5033 596 5011 569Z" fill="#ee1200"/>
<path d="M4092 566 4113 609 4134 569 4113 565Z" fill="#ee0000"/>
<path d="M4753 569 4775 585 4795 555 4774 546Z" fill="#ea0000"/>
<path d="M3854 599 3876 624 3897 584 3875 573Z" fill="#fa1200"/>
<path d="M4516 532 4539 546 4558 549 4533 537Z" fill="#c60000"/>
<path d="M5178 584 5198 642 5218 629 5198 569Z" fill="#fe1e00"/>
<path d="M4279 534 4300 552 4321 553 4296 549Z" fill="#ca0000"/>
<path d="M4064 647 4086 647 4078 822 4076 1148 4074 1148 4071 822Z" fill="url(#sg)"/>
<path d="M4939 603 4961 583 4979 674 4960 570Z" fill="#ee1e00"/>
<path d="M4042 644 4063 571 4080 693 4062 584Z" fill="#ee2e00"/>
<path d="M4702 569 4724 574 4745 554 4723 548Z" fill="#de0000"/>
<path d="M3803 630 3825 673 3846 628 3825 599Z" fill="#fa3a00"/>
<path d="M4466 615 4486 627 4506 569 4486 559Z" fill="#f60e00"/>
<path d="M4975 642 4989 642 4985 844 4983 1220 4981 1220 4978 844Z" fill="url(#sg)"/>
<path d="M5126 584 5148 618 5169 601 5147 580Z" fill="#f21200"/>
<path d="M4227 565 4249 625 4268 533 4248 519Z" fill="#e60000"/>
<path d="M4888 570 4911 580 4931 581 4909 557Z" fill="#ee0000"/>
<path d="M3991 641 4016 624 4031 601 4011 633Z" fill="#ee2e00"/>
<path d="M4654 661 4673 681 4691 563 4672 553Z" fill="#fa2600"/>
<path d="M3753 664 3774 720 3796 667 3774 628Z" fill="#fa6200"/>
<path d="M4415 551 4436 555 4456 578 4435 576Z" fill="#d60000"/>
<path d="M5075 571 5097 569 5118 579 5096 586Z" fill="#e60000"/>
<path d="M4179 689 4200 651 4218 626 4198 618Z" fill="#ea4200"/>
<path d="M4838 564 4860 583 4881 571 4857 576Z" fill="#e60000"/>
<path d="M3942 572 3961 662 3979 673 3960 562Z" fill="#f62600"/>
<path d="M4604 698 4622 697 4640 573 4621 566Z" fill="#f63600"/>
<path d="M3702 719 3724 776 3744 709 3723 669Z" fill="#fa9200"/>
<path d="M5262 592 5283 629 5304 593 5283 571Z" fill="#fe0e00"/>
<path d="M4363 563 4385 573 4406 561 4384 551Z" fill="#e20000"/>
<path d="M5026 600 5046 566 5067 566 5045 570Z" fill="#ea0000"/>
<path d="M4128 567 4148 573 4168 607 4147 643Z" fill="#e21200"/>
<path d="M4787 556 4809 567 4830 564 4808 551Z" fill="#de0000"/>
<path d="M3891 582 3910 685 3930 640 3909 560Z" fill="#f22600"/>
<path d="M4552 543 4571 550 4590 631 4571 619Z" fill="#e20200"/>
<path d="M5211 627 5233 631 5253 607 5231 613Z" fill="#fe2600"/>
<path d="M4313 549 4336 564 4355 567 4332 565Z" fill="#d60000"/>
<path d="M4976 674 4995 575 5014 582 4994 632Z" fill="#e61e00"/>
<path d="M4078 693 4097 582 4118 603 4096 563Z" fill="#f21e00"/>
<path d="M4737 553 4758 556 4778 584 4756 572Z" fill="#e20000"/>
<path d="M3838 628 3859 695 3879 617 3859 594Z" fill="#f63600"/>
<path d="M4500 575 4521 585 4541 539 4520 529Z" fill="#da0000"/>
<path d="M5161 597 5182 653 5201 640 5181 583Z" fill="#fe2600"/>
<path d="M4262 535 4283 557 4304 549 4282 532Z" fill="#ca0000"/>
<path d="M4923 577 4945 578 4966 588 4944 609Z" fill="#ee0600"/>
<path d="M4024 605 4046 576 4065 571 4045 645Z" fill="#ea1200"/>
<path d="M4685 566 4707 583 4728 569 4706 563Z" fill="#e60000"/>
<path d="M3787 666 3809 724 3830 668 3808 626Z" fill="#fa5e00"/>
<path d="M4450 572 4470 576 4489 627 4469 616Z" fill="#ee0e00"/>
<path d="M5110 575 5131 613 5151 616 5130 582Z" fill="#f20a00"/>
<path d="M4213 633 4233 594 4252 623 4232 560Z" fill="#f21200"/>
<path d="M4872 570 4894 592 4915 575 4893 566Z" fill="#f20000"/>
<path d="M3976 673 3995 601 4016 621 3994 643Z" fill="#f23200"/>
<path d="M4637 573 4656 581 4674 681 4656 661Z" fill="#fa2a00"/>
<path d="M3736 709 3758 782 3779 715 3757 661Z" fill="#fa8e00"/>
<path d="M4397 561 4419 572 4440 559 4418 549Z" fill="#da0000"/>
<path d="M3960 647 3979 647 3973 805 3971 1099 3968 1099 3966 805Z" fill="url(#sg)"/>
<path d="M5058 567 5081 579 5101 574 5076 575Z" fill="#e20000"/>
<path d="M4162 602 4182 591 4202 649 4181 690Z" fill="#e22e00"/>
<path d="M3949 620 3964 620 3960 808 3958 1155 3955 1155 3953 808Z" fill="url(#sg)"/>
<path d="M4821 562 4844 563 4863 580 4842 561Z" fill="#de0000"/>
<path d="M3924 641 3944 581 3963 661 3944 572Z" fill="#ee1e00"/>
<path d="M3936 597 3952 597 3947 796 3945 1166 3943 1166 3940 796Z" fill="url(#sg)"/>
<path d="M4586 622 4605 637 4624 697 4605 698Z" fill="#ea4e00"/>
<path d="M3925 608 3937 608 3935 793 3932 1138 3930 1138 3928 793Z" fill="url(#sg)"/>
<path d="M5245 607 5267 658 5288 625 5266 588Z" fill="#fe2200"/>
<path d="M4346 565 4368 577 4389 569 4367 558Z" fill="#e20000"/>
<path d="M5007 587 5030 573 5050 568 5028 601Z" fill="#ea0000"/>
<path d="M4110 608 4131 598 4151 576 4130 566Z" fill="#ee0200"/>
<path d="M4770 582 4792 605 4812 560 4791 552Z" fill="#ee0000"/>
<path d="M3872 619 3894 604 3911 685 3893 581Z" fill="#ee2600"/>
<path d="M4533 540 4556 554 4576 556 4552 543Z" fill="#c60000"/>
<path d="M5194 637 5216 663 5236 624 5215 621Z" fill="#fe3600"/>
<path d="M4296 546 4317 567 4338 561 4316 547Z" fill="#d20000"/>
<path d="M4958 585 4979 584 4998 576 4978 674Z" fill="#ea1200"/>
<path d="M3903 653 3925 653 3918 782 3916 1021 3913 1021 3911 782Z" fill="url(#sg)"/>
<path d="M4060 571 4080 570 4100 583 4079 693Z" fill="#ea1600"/>
<path d="M4719 570 4741 579 4762 560 4740 551Z" fill="#de0000"/>
<path d="M3895 629 3908 629 3905 804 3903 1129 3900 1129 3898 804Z" fill="url(#sg)"/>
<path d="M3821 666 3843 736 3863 693 3842 624Z" fill="#f26200"/>
<path d="M4484 626 4504 639 4523 577 4503 567Z" fill="#f60e00"/>
<path d="M5145 610 5165 671 5185 652 5164 596Z" fill="#fa2e00"/>
<path d="M4245 623 4266 726 4285 549 4266 532Z" fill="#f61600"/>
<path d="M4906 574 4928 601 4949 582 4927 575Z" fill="#f20000"/>
<path d="M4009 627 4029 615 4048 577 4026 600Z" fill="#ee1200"/>
<path d="M4672 681 4690 671 4709 574 4690 562Z" fill="#f22200"/>
<path d="M3770 714 3792 787 3813 719 3791 663Z" fill="#f68e00"/>
<path d="M4432 557 4453 562 4474 583 4452 580Z" fill="#d60000"/>
<path d="M3877 598 3893 598 3888 806 3886 1194 3884 1194 3881 806Z" fill="url(#sg)"/>
<path d="M5094 571 5114 612 5134 612 5113 574Z" fill="#f60200"/>
<path d="M4195 650 4216 649 4235 594 4211 628Z" fill="#ea2a00"/>
<path d="M4855 577 4877 593 4898 589 4876 567Z" fill="#ea0000"/>
<path d="M3959 661 3978 577 3998 602 3978 673Z" fill="#ea2600"/>
<path d="M4243 617 4255 617 4253 758 4250 1021 4248 1021 4246 758Z" fill="url(#sg)"/>
<path d="M4621 697 4640 694 4658 581 4639 573Z" fill="#f63200"/>
<path d="M3720 770 3741 866 3762 777 3740 706Z" fill="#face00"/>
<path d="M4380 569 4402 580 4423 567 4401 556ZM5042 569 5063 592 5085 574 5062 563Z" fill="#e20000"/>
<path d="M4144 575 4165 577 4186 597 4164 610Z" fill="#e60200"/>
<path d="M4804 562 4826 576 4847 567 4825 558Z" fill="#da0000"/>
<path d="M3909 685 3928 570 3946 581 3927 642Z" fill="#e61e00"/>
<path d="M3858 640 3878 640 3871 808 3869 1119 3867 1119 3864 808Z" fill="url(#sg)"/>
<path d="M4570 550 4589 557 4607 646 4588 631Z" fill="#e20600"/>
<path d="M5229 624 5250 686 5270 656 5249 605Z" fill="#fe3600"/>
<path d="M4330 558 4352 577 4372 574 4350 561Z" fill="#de0000"/>
<path d="M4991 578 5013 598 5033 575 5011 591Z" fill="#e60000"/>
<path d="M4092 585 4114 580 4135 594 4113 609Z" fill="#ee0200"/>
<path d="M4755 558 4775 564 4795 604 4774 585Z" fill="#e60000"/>
<path d="M3858 695 3877 603 3896 605 3876 615Z" fill="#ea2a00"/>
<path d="M4517 583 4538 593 4558 547 4537 537Z" fill="#da0000"/>
<path d="M5178 646 5199 699 5220 659 5198 633Z" fill="#fa4a00"/>
<path d="M4279 551 4301 574 4322 564 4300 543Z" fill="#d20000"/>
<path d="M4941 580 4962 620 4983 587 4961 583Z" fill="#f60200"/>
<path d="M4042 579 4063 615 4084 572 4062 571Z" fill="#ee0000"/>
<path d="M4703 578 4724 599 4745 574 4724 565Z" fill="#ea0000"/>
<path d="M3804 720 3826 749 3846 734 3825 664Z" fill="#ee8200"/>
<path d="M4467 577 4487 581 4506 638 4486 627Z" fill="#ee0e00"/>
<path d="M5129 605 5148 662 5167 671 5148 609Z" fill="#f62e00"/>
<path d="M4230 594 4250 591 4267 725 4249 616Z" fill="#ee2a00"/>
<path d="M4889 586 4911 617 4932 598 4910 571Z" fill="#fa0000"/>
<path d="M3991 604 4013 607 4034 610 4012 628Z" fill="#ea1600"/>
<path d="M4655 581 4674 589 4692 670 4673 681Z" fill="#f62600"/>
<path d="M3754 776 3775 871 3796 782 3774 711Z" fill="#f6ce00"/>
<path d="M4414 567 4436 579 4457 566 4435 555Z" fill="#d60000"/>
<path d="M5077 571 5097 618 5117 611 5097 569Z" fill="#f60000"/>
<path d="M4179 592 4199 591 4218 648 4198 651Z" fill="#e61a00"/>
<path d="M4839 565 4861 569 4881 591 4858 583Z" fill="#de0000"/>
<path d="M3941 582 3962 569 3981 578 3961 662Z" fill="#e60600"/>
<path d="M4603 638 4623 654 4642 693 4622 697Z" fill="#ea4e00"/>
<path d="M4364 572 4386 586 4407 575 4385 564Z" fill="#e20000"/>
<path d="M5025 575 5047 616 5068 588 5046 566Z" fill="#ee0000"/>
<path d="M4127 596 4149 594 4169 580 4147 573Z" fill="#e20000"/>
<path d="M4788 602 4809 642 4829 568 4809 558Z" fill="#f60000"/>
<path d="M3889 608 3911 574 3929 571 3910 685Z" fill="#e21200"/>
<path d="M4550 548 4573 563 4593 563 4570 550Z" fill="#c60000"/>
<path d="M5212 656 5233 733 5254 683 5232 622Z" fill="#fa5200"/>
<path d="M4313 561 4335 586 4356 573 4334 556Z" fill="#de0000"/>
<path d="M4975 585 4996 662 5016 591 4995 575Z" fill="#f60a00"/>
<path d="M4076 572 4097 602 4119 584 4095 591Z" fill="#ea0000"/>
<path d="M4737 575 4759 589 4780 567 4758 556Z" fill="#da0000"/>
<path d="M3842 736 3860 617 3878 603 3859 695Z" fill="#e64200"/>
<path d="M4501 638 4521 651 4540 585 4520 576Z" fill="#f61200"/>
<path d="M5162 663 5182 739 5203 697 5182 644Z" fill="#fa5e00"/>
<path d="M4265 725 4284 744 4302 566 4283 548Z" fill="#f63600"/>
<path d="M4924 594 4945 647 4966 617 4944 578Z" fill="#fe0e00"/>
<path d="M4025 611 4047 642 4068 611 4046 576Z" fill="#f60e00"/>
<path d="M4689 671 4708 645 4727 591 4707 574Z" fill="#ee1600"/>
<path d="M3789 787 3809 779 3830 742 3808 715Z" fill="#eea200"/>
<path d="M4449 564 4471 569 4491 588 4469 585Z" fill="#d20000"/>
<path d="M5112 604 5132 667 5151 662 5131 604Z" fill="#f62600"/>
<path d="M4213 647 4233 665 4252 591 4232 594Z" fill="#ee1e00"/>
<path d="M4873 587 4895 590 4914 616 4893 583Z" fill="#ee0000"/>
<path d="M3975 578 3997 594 4016 614 3995 610Z" fill="#e60200"/>
<path d="M4638 694 4657 691 4675 589 4656 581Z" fill="#f62a00"/>
<path d="M3737 859 3758 983 3779 865 3758 773Z" fill="#caf62a"/>
<path d="M4398 575 4420 587 4441 574 4419 563Z" fill="#e20000"/>
<path d="M5061 584 5081 666 5102 614 5080 570Z" fill="#fa0a00"/>
<path d="M4161 580 4182 579 4203 597 4181 600Z" fill="#de0000"/>
<path d="M4822 571 4844 590 4865 573 4843 563Z" fill="#da0000"/>
<path d="M3923 574 3946 572 3966 573 3944 590Z" fill="#d60000"/>
<path d="M4268 714 4282 714 4279 885 4276 1203 4274 1203 4272 885Z" fill="url(#sg)"/>
<path d="M4587 557 4606 564 4624 663 4605 646Z" fill="#e20a00"/>
<path d="M4347 571 4369 592 4390 582 4368 568Z" fill="#e60000"/>
<path d="M5010 590 5030 723 5050 609 5029 573Z" fill="#fa1a00"/>
<path d="M4110 583 4132 603 4153 588 4130 598Z" fill="#ea0000"/>
<path d="M4773 564 4793 574 4811 642 4792 605Z" fill="#ee0000"/>
<path d="M3873 610 3894 586 3914 575 3893 613Z" fill="#e60000"/>
<path d="M4535 591 4555 601 4575 555 4555 545Z" fill="#da0000"/>
<path d="M5196 691 5216 776 5237 732 5216 654Z" fill="#fa7a00"/>
<path d="M4296 569 4318 591 4339 583 4317 558Z" fill="#de0000"/>
<path d="M4958 613 4979 664 4998 662 4978 584Z" fill="#f61e00"/>
<path d="M4059 613 4081 637 4102 596 4080 570Z" fill="#f60600"/>
<path d="M4720 594 4742 629 4762 582 4741 570Z" fill="#f60000"/>
<path d="M3825 749 3843 641 3861 617 3843 736Z" fill="#e25600"/>
<path d="M4485 582 4505 587 4523 651 4504 639Z" fill="#ee0e00"/>
<path d="M5146 654 5166 730 5184 738 5165 662Z" fill="#f66600"/>
<path d="M4249 591 4267 602 4285 744 4266 726Z" fill="#ee4200"/>
<path d="M4907 611 4929 624 4948 646 4928 592Z" fill="#f61200"/>
<path d="M4008 609 4033 617 4050 641 4029 606Z" fill="#ee1600"/>
<path d="M4671 590 4691 599 4711 643 4690 671Z" fill="#ee1a00"/>
<path d="M3774 870 3793 835 3811 771 3792 778Z" fill="#eada00"/>
<path d="M4432 574 4454 586 4475 574 4453 562Z" fill="#d60000"/>
<path d="M5095 609 5115 685 5134 666 5114 603Z" fill="#fa2a00"/>
<path d="M4197 592 4216 596 4235 664 4216 649Z" fill="#ea1a00"/>
<path d="M4856 571 4882 584 4898 597 4876 593Z" fill="#de0000"/>
<path d="M3958 571 3979 601 4000 600 3978 577Z" fill="#e20000"/>
<path d="M4620 656 4641 672 4661 689 4639 694Z" fill="#ea4e00"/>
<path d="M4381 581 4403 597 4424 582 4402 571Z" fill="#e60000"/>
<path d="M5045 608 5064 735 5084 665 5063 583Z" fill="#fa2e00"/>
<path d="M4144 590 4166 595 4187 583 4165 577Z" fill="#de0000"/>
<path d="M4806 641 4827 696 4845 582 4826 567Z" fill="#f61200"/>
<path d="M3906 578 3928 592 3949 576 3927 570Z" fill="#da0000"/>
<path d="M4568 557 4590 571 4610 570 4588 557Z" fill="#c60000"/>
<path d="M4330 581 4352 608 4373 588 4351 568Z" fill="#ea0000"/>
<path d="M4991 658 5014 666 5031 723 5013 589Z" fill="#f63a00"/>
<path d="M4093 596 4115 654 4135 597 4114 580Z" fill="#fa0600"/>
<path d="M4754 585 4776 604 4797 578 4775 564Z" fill="#da0000"/>
<path d="M3857 624 3878 614 3897 587 3874 612Z" fill="#ea0600"/>
<path d="M4519 650 4539 664 4558 593 4538 584Z" fill="#f61600"/>
<path d="M5179 731 5200 818 5219 775 5199 690Z" fill="#fa9e00"/>
<path d="M4283 744 4301 744 4319 582 4301 565Z" fill="#f63a00"/>
<path d="M4941 643 4963 629 4982 663 4962 611Z" fill="#f22200"/>
<path d="M4044 641 4064 588 4084 636 4063 606Z" fill="#ea0e00"/>
<path d="M4705 644 4729 621 4746 625 4724 590Z" fill="#ee0e00"/>
<path d="M3808 779 3827 675 3844 641 3826 749Z" fill="#e26a00"/>
<path d="M4466 571 4489 577 4508 593 4487 590Z" fill="#d20000"/>
<path d="M5129 659 5149 720 5168 730 5148 653Z" fill="#f65a00"/>
<path d="M4231 664 4250 681 4269 602 4250 591Z" fill="#ee1e00"/>
<path d="M4891 592 4913 603 4932 622 4911 617Z" fill="#ee0200"/>
<path d="M3992 595 4013 632 4034 621 4012 607Z" fill="#ee0a00"/>
<path d="M4655 691 4674 690 4693 599 4674 589Z" fill="#f62600"/>
<path d="M3757 983 3776 918 3794 826 3775 862Z" fill="#aeea3e"/>
<path d="M4415 582 4437 594 4458 581 4436 570Z" fill="#de0000"/>
<path d="M5077 660 5098 739 5119 683 5097 609Z" fill="#fa4600"/>
<path d="M4178 582 4200 583 4220 602 4199 600Z" fill="#da0000"/>
<path d="M4839 585 4861 608 4882 585 4860 569Z" fill="#e20000"/>
<path d="M3941 574 3962 609 3983 599 3962 569Z" fill="#e60000"/>
<path d="M5015 688 5037 688 5029 879 5027 1234 5025 1234 5022 879Z" fill="url(#sg)"/>
<path d="M4605 564 4623 571 4641 681 4623 663Z" fill="#e20e00"/>
<path d="M4364 586 4386 610 4407 592 4385 577Z" fill="#ee0000"/>
<path d="M5028 722 5047 667 5066 734 5047 607Z" fill="#f24e00"/>
<path d="M5037 666 5056 666 5050 854 5048 1202 5046 1202 5043 854Z" fill="url(#sg)"/>
<path d="M4127 599 4149 620 4170 589 4148 585Z" fill="#ee0000"/>
<path d="M4791 574 4810 588 4828 695 4809 642Z" fill="#ee1200"/>
<path d="M3890 590 3912 610 3933 587 3911 574Z" fill="#e60000"/>
<path d="M4552 600 4573 610 4593 564 4572 554Z" fill="#da0000"/>
<path d="M4314 585 4335 605 4356 606 4335 577Z" fill="#ea0000"/>
<path d="M4975 661 4997 636 5017 663 4995 662Z" fill="#ee2e00"/>
<path d="M4077 635 4098 595 4117 653 4097 593Z" fill="#ee0e00"/>
<path d="M4738 626 4759 668 4779 596 4758 580Z" fill="#fa0a00"/>
<path d="M3840 649 3861 640 3880 606 3860 617Z" fill="#ea1600"/>
<path d="M4502 588 4522 593 4540 664 4521 651Z" fill="#ee0e00"/>
<path d="M5164 722 5183 784 5201 818 5182 730Z" fill="#f2a200"/>
<path d="M4266 602 4285 632 4302 744 4284 744Z" fill="#ee4a00"/>
<path d="M4925 617 4946 642 4967 634 4945 647Z" fill="#ee1a00"/>
<path d="M4026 621 4047 595 4067 590 4046 642Z" fill="#e60600"/>
<path d="M4688 600 4709 610 4730 620 4708 645Z" fill="#ee0a00"/>
<path d="M3791 835 3810 722 3828 675 3809 779Z" fill="#e28e00"/>
<path d="M4449 581 4471 593 4492 582 4470 569Z" fill="#d60000"/>
<path d="M5111 678 5132 715 5152 719 5131 658Z" fill="#fa5600"/>
<path d="M4214 596 4234 603 4252 681 4233 665Z" fill="#ee1a00"/>
<path d="M4874 583 4895 608 4915 610 4894 590Z" fill="#e60000"/>
<path d="M3976 594 3996 628 4016 630 3996 593Z" fill="#f60200"/>
<path d="M4636 675 4658 694 4679 686 4656 691Z" fill="#ea4a00"/>
<path d="M4398 592 4420 609 4441 589 4419 578Z" fill="#e60000"/>
<path d="M5061 733 5081 739 5101 738 5081 657Z" fill="#f26e00"/>
<path d="M4161 591 4183 598 4204 588 4182 579Z" fill="#de0000"/>
<path d="M4825 695 4844 713 4862 599 4843 581Z" fill="#f22600"/>
<path d="M3924 586 3946 621 3966 606 3945 572Z" fill="#ee0000"/>
<path d="M4585 566 4607 580 4628 577 4606 564Z" fill="#c60000"/>
<path d="M4348 603 4369 638 4391 606 4369 583Z" fill="#fa0000"/>
<path d="M5010 658 5031 649 5052 670 5030 723Z" fill="#ee4200"/>
<path d="M4112 653 4132 649 4153 613 4131 594Z" fill="#f61200"/>
<path d="M4771 600 4793 625 4814 591 4792 574Z" fill="#de0000"/>
<path d="M3873 610 3895 632 3916 605 3894 586Z" fill="#f60000"/>
<path d="M4536 663 4556 678 4575 601 4555 592Z" fill="#f61600"/>
<path d="M4300 744 4319 765 4336 596 4318 582Z" fill="#f23e00"/>
<path d="M4959 631 4980 664 5001 638 4979 664Z" fill="#ee2600"/>
<path d="M4060 591 4081 587 4102 598 4081 637Z" fill="#e20000"/>
<path d="M4721 617 4743 612 4761 668 4742 620Z" fill="#ee1200"/>
<path d="M3824 683 3844 672 3863 632 3843 641Z" fill="#ea2e00"/>
<path d="M4484 579 4508 586 4526 599 4503 596Z" fill="#d20000"/>
<path d="M5147 712 5166 761 5185 784 5166 721Z" fill="#f28600"/>
<path d="M4248 681 4268 692 4288 633 4267 602Z" fill="#ea2600"/>
<path d="M4908 605 4929 634 4949 640 4928 615Z" fill="#ee0a00"/>
<path d="M4009 630 4031 625 4050 596 4029 624Z" fill="#f20600"/>
<path d="M4672 690 4692 694 4710 611 4691 599Z" fill="#f62600"/>
<path d="M3775 918 3793 786 3811 722 3792 835Z" fill="#e2c600"/>
<path d="M4432 590 4454 602 4476 588 4453 577Z" fill="#de0000"/>
<path d="M4837 661 4851 661 4847 833 4845 1152 4843 1152 4840 833Z" fill="url(#sg)"/>
<path d="M5094 736 5115 788 5135 708 5115 676Z" fill="#fa7a00"/>
<path d="M4196 586 4217 589 4238 609 4216 605Z" fill="#d60000"/>
<path d="M4856 603 4878 623 4899 603 4877 581Z" fill="#ea0000"/>
<path d="M3958 603 3980 625 4000 626 3979 592Z" fill="#f60000"/>
<path d="M4622 572 4641 579 4659 694 4640 681Z" fill="#e21200"/>
<path d="M4382 605 4404 645 4424 603 4403 588Z" fill="#fa0000"/>
<path d="M5045 667 5065 684 5084 739 5064 735Z" fill="#e65a00"/>
<path d="M4145 618 4166 631 4186 591 4165 586Z" fill="#ee0000"/>
<path d="M4809 588 4827 606 4845 712 4827 696Z" fill="#ea2200"/>
<path d="M3907 605 3929 630 3950 618 3928 583Z" fill="#f60000"/>
<path d="M4569 608 4590 618 4610 573 4589 562Z" fill="#da0000"/>
<path d="M4332 598 4354 618 4372 637 4352 599Z" fill="#f60000"/>
<path d="M4993 637 5014 673 5035 652 5013 666Z" fill="#f22a00"/>
<path d="M4095 595 4115 600 4135 648 4115 654Z" fill="#ea0a00"/>
<path d="M4757 668 4777 672 4796 618 4776 595Z" fill="#f61600"/>
<path d="M3856 636 3878 656 3899 626 3877 605Z" fill="#f61200"/>
<path d="M4520 593 4539 600 4558 677 4538 664Z" fill="#ea1200"/>
<path d="M4303 739 4325 739 4318 907 4315 1220 4313 1220 4311 907Z" fill="url(#sg)"/>
<path d="M4283 632 4302 677 4320 765 4301 744Z" fill="#ee5a00"/>
<path d="M4942 634 4963 679 4984 662 4962 629Z" fill="#f62200"/>
<path d="M4043 600 4065 616 4085 590 4064 588Z" fill="#de0000"/>
<path d="M4704 614 4726 633 4747 616 4721 617Z" fill="#ee0200"/>
<path d="M3808 731 3827 713 3846 664 3826 675Z" fill="#ea4e00"/>
<path d="M4467 588 4489 600 4510 590 4488 577Z" fill="#d60000"/>
<path d="M5130 707 5150 762 5169 760 5149 711Z" fill="#f67a00"/>
<path d="M4232 603 4251 612 4270 692 4250 681Z" fill="#ea1e00"/>
<path d="M4891 600 4912 627 4932 632 4911 603Z" fill="#f20000"/>
<path d="M3992 623 4014 638 4035 619 4012 632Z" fill="#fa0a00"/>
<path d="M4653 690 4676 696 4696 690 4674 681Z" fill="#ea4600"/>
<path d="M4416 605 4438 624 4459 596 4437 585Z" fill="#ea0000"/>
<path d="M5078 732 5099 728 5117 787 5098 730Z" fill="#ee8200"/>
<path d="M4178 594 4201 603 4221 594 4199 583Z" fill="#da0000"/>
<path d="M4843 712 4861 686 4880 615 4861 599Z" fill="#ee2200"/>
<path d="M3941 617 3963 624 3984 621 3962 600Z" fill="#f60000"/>
<path d="M4602 575 4624 589 4645 584 4623 571Z" fill="#c60000"/>
<path d="M4365 634 4387 648 4407 643 4386 601Z" fill="#f60e00"/>
<path d="M5101 745 5112 745 5110 926 5108 1262 5106 1262 5103 926Z" fill="url(#sg)"/>
<path d="M5028 650 5048 687 5068 692 5047 667Z" fill="#ee3600"/>
<path d="M4128 646 4149 674 4170 624 4149 611Z" fill="#f61600"/>
<path d="M4789 620 4811 673 4831 608 4810 588Z" fill="#f20200"/>
<path d="M3890 628 3912 638 3933 627 3911 601Z" fill="#fa0600"/>
<path d="M4554 677 4573 692 4592 610 4573 601Z" fill="#f61a00"/>
<path d="M4318 765 4336 708 4354 610 4335 596Z" fill="#ee3200"/>
<path d="M4976 658 4997 704 5018 668 4996 636Z" fill="#fa3200"/>
<path d="M4077 589 4099 612 4120 606 4097 595Z" fill="#da0000"/>
<path d="M4740 613 4760 617 4779 672 4759 668Z" fill="#ea1600"/>
<path d="M3840 670 3861 683 3882 650 3861 631Z" fill="#f62a00"/>
<path d="M4501 588 4524 603 4543 606 4518 599Z" fill="#d20000"/>
<path d="M4264 690 4285 704 4306 683 4284 632Z" fill="#e63600"/>
<path d="M4926 626 4947 657 4965 679 4946 633Z" fill="#f21a00"/>
<path d="M4026 620 4048 670 4068 609 4047 595Z" fill="#fa0200"/>
<path d="M4689 693 4709 705 4728 625 4708 610Z" fill="#f62600"/>
<path d="M3791 794 3811 768 3829 705 3810 722Z" fill="#ea7e00"/>
<path d="M4450 597 4472 610 4493 596 4471 584Z" fill="#de0000"/>
<path d="M5113 787 5133 736 5153 759 5132 706Z" fill="#f28200"/>
<path d="M4213 591 4235 598 4255 619 4233 612Z" fill="#d60000"/>
<path d="M4874 619 4896 634 4917 623 4895 599Z" fill="#f60000"/>
<path d="M3975 619 3999 631 4018 635 3996 619Z" fill="#f20600"/>
<path d="M4639 579 4658 587 4676 696 4657 694Z" fill="#e20e00"/>
<path d="M4399 640 4421 701 4440 616 4420 600Z" fill="#fa1200"/>
<path d="M5062 685 5082 687 5102 736 5081 739Z" fill="#e65600"/>
<path d="M4162 629 4184 644 4204 596 4183 589Z" fill="#ee0000"/>
<path d="M4826 606 4845 631 4864 685 4844 713Z" fill="#ee2200"/>
<path d="M3924 627 3947 627 3967 619 3945 612Z" fill="#f60000"/>
<path d="M4587 616 4607 627 4628 582 4607 571Z" fill="#de0000"/>
<path d="M4313 710 4333 710 4327 857 4324 1130 4322 1130 4320 857Z" fill="url(#sg)"/>
<path d="M4349 611 4371 623 4390 646 4369 638Z" fill="#f60600"/>
<path d="M5010 666 5031 704 5052 684 5030 649Z" fill="#fa3600"/>
<path d="M4113 601 4133 623 4152 674 4132 649Z" fill="#ee0e00"/>
<path d="M4773 671 4794 642 4814 672 4793 616Z" fill="#ee1a00"/>
<path d="M4783 635 4804 635 4797 840 4795 1223 4792 1223 4790 840Z" fill="url(#sg)"/>
<path d="M3874 654 3896 650 3916 633 3895 623Z" fill="#f61200"/>
<path d="M4537 600 4557 607 4575 692 4556 678Z" fill="#ea1200"/>
<path d="M4300 678 4319 745 4339 700 4319 765Z" fill="#ee6200"/>
<path d="M4959 673 4981 698 5000 702 4980 655Z" fill="#fa3a00"/>
<path d="M4060 610 4082 662 4103 606 4081 587Z" fill="#f20000"/>
<path d="M4721 629 4743 653 4764 620 4742 612Z" fill="#ee0200"/>
<path d="M3824 712 3845 714 3865 676 3844 663Z" fill="#f24600"/>
<path d="M4484 596 4506 608 4527 599 4505 585Z" fill="#da0000"/>
<path d="M4249 612 4268 622 4287 704 4268 692Z" fill="#e21e00"/>
<path d="M4909 619 4930 647 4950 655 4929 625Z" fill="#f20a00"/>
<path d="M4010 632 4036 640 4050 669 4030 616Z" fill="#f60e00"/>
<path d="M4670 692 4692 678 4713 703 4691 685Z" fill="#ee4200"/>
<path d="M4433 620 4455 641 4476 603 4454 593Z" fill="#ea0000"/>
<path d="M5095 730 5116 718 5137 739 5115 788Z" fill="#e67200"/>
<path d="M4196 599 4218 612 4239 603 4217 589Z" fill="#da0000"/>
<path d="M4859 685 4879 690 4898 626 4878 614Z" fill="#f61a00"/>
<path d="M3959 619 3981 632 4001 628 3979 616Z" fill="#ee0000"/>
<path d="M4620 584 4642 599 4663 592 4641 579Z" fill="#c60000"/>
<path d="M4383 641 4404 630 4423 701 4403 636Z" fill="#ee1a00"/>
<path d="M5044 679 5065 719 5086 691 5064 684Z" fill="#f24600"/>
<path d="M4145 671 4167 720 4186 636 4166 622Z" fill="#f62600"/>
<path d="M4807 671 4828 703 4848 632 4827 606Z" fill="#f61a00"/>
<path d="M3908 635 3930 635 3950 621 3928 621Z" fill="#f60200"/>
<path d="M4571 691 4591 707 4609 618 4590 609Z" fill="#f61e00"/>
<path d="M4335 708 4354 657 4373 624 4353 609Z" fill="#f21600"/>
<path d="M4993 700 5015 727 5036 700 5014 664Z" fill="#fe4a00"/>
<path d="M4095 606 4116 638 4137 630 4115 600Z" fill="#e60000"/>
<path d="M4757 618 4777 627 4798 648 4776 672Z" fill="#ea0e00"/>
<path d="M3858 682 3879 667 3899 642 3878 647Z" fill="#f22200"/>
<path d="M4518 597 4541 612 4561 613 4538 600Z" fill="#d20000"/>
<path d="M4281 697 4303 720 4321 744 4302 677Z" fill="#ea5200"/>
<path d="M4944 648 4964 680 4983 697 4961 679Z" fill="#ee2e00"/>
<path d="M4044 668 4065 676 4086 659 4065 607Z" fill="#f61600"/>
<path d="M4706 704 4726 727 4745 644 4726 624Z" fill="#fa3200"/>
<path d="M3808 767 3828 755 3847 706 3827 704Z" fill="#ee6a00"/>
<path d="M4467 606 4489 619 4510 603 4488 591Z" fill="#de0000"/>
<path d="M4231 600 4255 611 4272 629 4250 621Z" fill="#da0000"/>
<path d="M4891 628 4913 652 4934 644 4912 618Z" fill="#fa0600"/>
<path d="M3993 625 4016 627 4035 642 4011 637Z" fill="#ee0200"/>
<path d="M4657 587 4676 595 4694 686 4675 696Z" fill="#e20a00"/>
<path d="M4418 700 4438 761 4457 633 4438 615Z" fill="#f63200"/>
<path d="M5080 688 5100 734 5121 723 5099 737Z" fill="#ea5a00"/>
<path d="M4180 643 4201 655 4221 604 4200 594Z" fill="#ee0000"/>
<path d="M4843 631 4863 676 4882 688 4861 686Z" fill="#f62600"/>
<path d="M3942 622 3964 637 3985 628 3963 615Z" fill="#f20000"/>
<path d="M4604 625 4625 636 4645 592 4624 580Z" fill="#de0000"/>
<path d="M4366 625 4388 654 4409 634 4386 648Z" fill="#ee0600"/>
<path d="M5027 697 5049 751 5070 716 5048 678Z" fill="#fe5600"/>
<path d="M4131 623 4150 686 4169 720 4149 665Z" fill="#f22a00"/>
<path d="M4412 676 4430 676 4425 849 4422 1171 4420 1171 4418 849Z" fill="url(#sg)"/>
<path d="M4791 644 4811 643 4830 702 4810 673Z" fill="#ee2200"/>
<path d="M3891 647 3913 648 3934 629 3912 630Z" fill="#f60600"/>
<path d="M4555 607 4574 614 4592 707 4573 692Z" fill="#ea1600"/>
<path d="M4317 744 4337 742 4355 649 4336 699Z" fill="#ee4e00"/>
<path d="M4977 690 4998 728 5018 725 4997 695Z" fill="#f65200"/>
<path d="M4078 659 4099 710 4119 630 4099 603Z" fill="#fa1600"/>
<path d="M4739 650 4761 674 4781 629 4760 617Z" fill="#f60a00"/>
<path d="M3842 714 3863 690 3881 659 3861 674Z" fill="#ee3600"/>
<path d="M4501 603 4523 617 4544 608 4522 594Z" fill="#da0000"/>
<path d="M4267 623 4286 634 4304 720 4285 704Z" fill="#e22200"/>
<path d="M4927 639 4947 677 4967 679 4946 648Z" fill="#f21a00"/>
<path d="M4028 637 4049 632 4068 675 4048 670Z" fill="#ea1600"/>
<path d="M4689 680 4710 665 4729 727 4709 705Z" fill="#ee3e00"/>
<path d="M4451 639 4472 660 4493 612 4472 601Z" fill="#ee0000"/>
<path d="M4213 606 4235 622 4256 616 4234 598Z" fill="#da0000"/>
<path d="M4875 688 4896 733 4915 644 4895 625Z" fill="#fa2a00"/>
<path d="M3976 626 3998 640 4019 632 3997 622Z" fill="#f20000"/>
<path d="M4637 594 4659 609 4680 600 4658 587Z" fill="#c60000"/>
<path d="M4403 630 4422 630 4439 760 4421 701Z" fill="#ee2e00"/>
<path d="M5062 712 5083 782 5104 730 5082 687Z" fill="#fa6200"/>
<path d="M4165 720 4184 702 4203 647 4183 635Z" fill="#f62a00"/>
<path d="M4825 702 4845 690 4867 671 4845 631Z" fill="#f62600"/>
<path d="M3925 630 3947 647 3968 632 3946 618Z" fill="#f60000"/>
<path d="M4589 707 4608 723 4627 627 4607 618Z" fill="#f62200"/>
<path d="M4350 656 4371 630 4391 651 4370 623Z" fill="#f20600"/>
<path d="M5011 719 5032 784 5053 749 5031 695Z" fill="#fa6a00"/>
<path d="M4113 630 4134 661 4152 685 4133 623Z" fill="#f20e00"/>
<path d="M4773 629 4795 651 4816 648 4794 651Z" fill="#ee0600"/>
<path d="M3875 664 3896 665 3917 641 3895 641Z" fill="#f61200"/>
<path d="M4536 606 4558 621 4578 620 4556 607Z" fill="#d20000"/>
<path d="M4299 712 4321 724 4341 740 4319 745Z" fill="#ea5e00"/>
<path d="M4313 714 4326 714 4323 879 4321 1186 4318 1186 4316 879Z" fill="url(#sg)"/>
<path d="M4961 672 4981 722 5001 727 4980 689Z" fill="#f24200"/>
<path d="M4061 670 4087 680 4102 710 4082 653Z" fill="#f22a00"/>
<path d="M4724 726 4744 765 4763 666 4743 644Z" fill="#f64200"/>
<path d="M3826 754 3846 721 3864 682 3844 705Z" fill="#ea4e00"/>
<path d="M4485 615 4507 628 4528 612 4506 599ZM4248 612 4270 636 4290 641 4267 623Z" fill="#de0000"/>
<path d="M4909 645 4930 686 4951 675 4930 638Z" fill="#fa1600"/>
<path d="M4010 630 4032 646 4053 636 4030 644Z" fill="#ee0000"/>
<path d="M4674 596 4693 605 4712 673 4692 687Z" fill="#e20200"/>
<path d="M4437 760 4456 741 4474 652 4455 632Z" fill="#ee3a00"/>
<path d="M4198 654 4218 658 4238 614 4218 603Z" fill="#ee0000"/>
<path d="M4859 668 4881 700 4898 732 4879 681Z" fill="#f63a00"/>
<path d="M3959 631 3981 650 4002 636 3980 623Z" fill="#f60000"/>
<path d="M4621 634 4642 645 4662 602 4641 590Z" fill="#de0000"/>
<path d="M4383 649 4405 684 4425 632 4404 630Z" fill="#ee0a00"/>
<path d="M5046 743 5066 837 5087 780 5065 710Z" fill="#fa8600"/>
<path d="M4147 678 4168 710 4189 697 4167 720Z" fill="#ee3e00"/>
<path d="M4809 644 4829 656 4849 688 4828 703Z" fill="#ea2200"/>
<path d="M3908 643 3930 660 3951 642 3929 626Z" fill="#fa0200"/>
<path d="M4572 615 4591 623 4609 723 4591 707Z" fill="#ea1a00"/>
<path d="M4335 742 4354 692 4372 631 4353 648Z" fill="#ea2600"/>
<path d="M4995 720 5015 788 5034 783 5014 718Z" fill="#fa7600"/>
<path d="M4097 710 4117 710 4136 653 4116 629Z" fill="#f62600"/>
<path d="M4756 672 4778 700 4798 643 4777 627Z" fill="#fa1600"/>
<path d="M3858 688 3880 686 3900 658 3879 658Z" fill="#f22200"/>
<path d="M4519 612 4541 626 4562 617 4540 603Z" fill="#da0000"/>
<path d="M4284 634 4303 650 4322 732 4302 720Z" fill="#e22a00"/>
<path d="M4944 669 4964 728 4984 721 4964 672Z" fill="#f63a00"/>
<path d="M4046 633 4067 656 4086 682 4065 676Z" fill="#ee1600"/>
<path d="M4708 665 4727 655 4745 765 4726 727Z" fill="#ee3e00"/>
<path d="M4469 659 4490 669 4510 621 4489 610Z" fill="#f20000"/>
<path d="M4231 616 4253 634 4273 633 4252 610Z" fill="#e20000"/>
<path d="M4893 731 4914 792 4932 677 4913 643Z" fill="#fa4a00"/>
<path d="M3993 634 4015 660 4036 642 4014 627Z" fill="#fa0000"/>
<path d="M4654 604 4676 621 4697 610 4675 595Z" fill="#ca0000"/>
<path d="M4420 631 4439 635 4457 740 4438 761Z" fill="#e62e00"/>
<path d="M4182 701 4202 696 4221 650 4201 646Z" fill="#f21e00"/>
<path d="M4841 685 4863 697 4883 698 4862 667Z" fill="#ee2a00"/>
<path d="M3942 641 3964 663 3985 645 3963 628Z" fill="#fe0200"/>
<path d="M4455 700 4465 700 4463 851 4461 1133 4459 1133 4456 851Z" fill="url(#sg)"/>
<path d="M4606 723 4625 740 4644 637 4625 627Z" fill="#f62600"/>
<path d="M4367 632 4388 630 4407 683 4383 648Z" fill="#f20600"/>
<path d="M5030 775 5049 875 5068 836 5049 742Z" fill="#faae00"/>
<path d="M4130 653 4151 647 4170 710 4150 686Z" fill="#ea1e00"/>
<path d="M4791 644 4812 671 4833 662 4811 643Z" fill="#f20a00"/>
<path d="M3892 661 3914 676 3935 655 3913 639Z" fill="#fa0e00"/>
<path d="M4553 615 4575 631 4596 629 4574 614Z" fill="#d20000"/>
<path d="M4316 730 4337 733 4356 683 4337 742Z" fill="#e64a00"/>
<path d="M4979 713 4998 794 5017 788 4998 719Z" fill="#f67200"/>
<path d="M4081 674 4100 770 4121 703 4099 701Z" fill="#f64a00"/>
<path d="M4741 764 4761 812 4780 691 4760 665Z" fill="#f25a00"/>
<path d="M3842 720 3863 712 3883 678 3862 681Z" fill="#ee3600"/>
<path d="M4502 624 4524 638 4545 621 4523 608Z" fill="#e20000"/>
<path d="M4265 629 4287 657 4307 657 4286 634Z" fill="#ea0000"/>
<path d="M4893 729 4908 729 4904 865 4902 1119 4899 1119 4897 865Z" fill="url(#sg)"/>
<path d="M4927 678 4948 739 4967 727 4947 668Z" fill="#fa3a00"/>
<path d="M4028 639 4049 692 4070 661 4048 632Z" fill="#f60a00"/>
<path d="M4691 606 4710 616 4730 663 4710 674Z" fill="#da0000"/>
<path d="M4454 741 4473 700 4492 661 4472 651Z" fill="#ea2a00"/>
<path d="M4215 656 4236 658 4256 628 4235 613Z" fill="#ee0000"/>
<path d="M4878 692 4897 713 4915 792 4896 724Z" fill="#f25600"/>
<path d="M3977 643 3998 687 4020 656 3998 631Z" fill="#fe0a00"/>
<path d="M4639 644 4660 656 4680 613 4659 600Z" fill="#e20000"/>
<path d="M4401 682 4422 713 4441 635 4421 630Z" fill="#ee1200"/>
<path d="M4163 707 4185 712 4206 690 4184 693Z" fill="#ea3600"/>
<path d="M4826 657 4847 688 4866 695 4845 690Z" fill="#ee2200"/>
<path d="M3926 655 3948 685 3969 658 3947 638Z" fill="#fe0e00"/>
<path d="M4590 623 4609 632 4627 739 4608 723Z" fill="#ea1e00"/>
<path d="M4352 691 4373 658 4391 631 4371 630Z" fill="#ea0200"/>
<path d="M5014 779 5033 889 5051 875 5032 775Z" fill="#f6be00"/>
<path d="M4115 709 4134 660 4154 648 4133 652Z" fill="#ee1600"/>
<path d="M4774 698 4795 735 4815 663 4795 642Z" fill="#fa2600"/>
<path d="M3875 683 3897 694 3918 671 3896 656Z" fill="#fa1e00"/>
<path d="M4536 621 4558 636 4579 627 4557 612Z" fill="#de0000"/>
<path d="M4301 650 4321 670 4339 732 4320 733Z" fill="#e22e00"/>
<path d="M4962 720 4982 810 5001 793 4981 713Z" fill="#f67200"/>
<path d="M4064 656 4083 754 4101 770 4083 674Z" fill="#f64200"/>
<path d="M4726 655 4744 659 4762 812 4744 765Z" fill="#e64600"/>
<path d="M4487 668 4507 670 4527 631 4506 619Z" fill="#f20000"/>
<path d="M4248 627 4270 649 4290 655 4269 627Z" fill="#ea0000"/>
<path d="M4911 792 4931 831 4950 731 4930 677Z" fill="#fa7200"/>
<path d="M4012 653 4032 720 4053 690 4032 637Z" fill="#fe1a00"/>
<path d="M4672 615 4694 633 4715 622 4693 605Z" fill="#ce0000"/>
<path d="M4437 635 4456 641 4476 698 4456 741Z" fill="#ea1a00"/>
<path d="M4198 695 4219 714 4238 650 4218 649Z" fill="#f61a00"/>
<path d="M4859 690 4880 735 4901 719 4879 691Z" fill="#ee3a00"/>
<path d="M3961 655 3982 717 4002 685 3981 641Z" fill="#fe1a00"/>
<path d="M4624 739 4643 756 4661 647 4642 637Z" fill="#f62e00"/>
<path d="M4386 631 4406 637 4424 713 4405 684Z" fill="#ee0e00"/>
<path d="M4148 647 4168 647 4187 711 4167 710Z" fill="#e21a00"/>
<path d="M4808 664 4829 699 4850 685 4829 656Z" fill="#f61600"/>
<path d="M3909 670 3931 709 3952 681 3930 651Z" fill="#fe1a00"/>
<path d="M4570 625 4592 641 4613 638 4591 623Z" fill="#d60000"/>
<path d="M4335 732 4355 726 4373 649 4354 683Z" fill="#ea2e00"/>
<path d="M4997 785 5016 908 5034 888 5015 779Z" fill="#f6c600"/>
<path d="M4098 770 4117 752 4135 661 4117 701Z" fill="#f24600"/>
<path d="M4760 812 4779 792 4798 727 4778 691Z" fill="#ee6600"/>
<path d="M3859 710 3880 716 3901 688 3879 677Z" fill="#fa2e00"/>
<path d="M4519 634 4541 649 4562 631 4540 617Z" fill="#e20000"/>
<path d="M4283 649 4304 700 4325 676 4303 650Z" fill="#ee0e00"/>
<path d="M4946 731 4965 818 4984 809 4964 719Z" fill="#f67a00"/>
<path d="M4047 684 4067 789 4085 754 4066 656Z" fill="#f64600"/>
<path d="M4708 617 4728 630 4747 667 4727 664Z" fill="#da0000"/>
<path d="M4470 699 4491 664 4511 664 4490 660Z" fill="#ea1200"/>
<path d="M4232 655 4253 658 4274 644 4252 625Z" fill="#ee0000"/>
<path d="M4896 713 4916 782 4932 830 4913 792Z" fill="#f27e00"/>
<path d="M3994 681 4016 710 4035 719 4015 652Z" fill="#f62600"/>
<path d="M4656 654 4677 668 4697 626 4676 612Z" fill="#e60000"/>
<path d="M4420 713 4440 730 4458 642 4439 635Z" fill="#f61a00"/>
<path d="M4180 709 4203 709 4223 711 4201 687Z" fill="#ea2e00"/>
<path d="M4843 680 4864 721 4883 734 4863 688Z" fill="#f63200"/>
<path d="M3945 677 3965 753 3985 716 3964 654Z" fill="#fa2e00"/>
<path d="M4607 633 4626 644 4644 756 4625 740Z" fill="#ea2600"/>
<path d="M4367 656 4389 654 4410 640 4388 630Z" fill="#de0000"/>
<path d="M4771 759 4786 759 4782 916 4780 1208 4777 1208 4775 916Z" fill="url(#sg)"/>
<path d="M4130 667 4155 659 4172 650 4150 647Z" fill="#e60000"/>
<path d="M4792 733 4813 781 4832 690 4812 662Z" fill="#fa3e00"/>
<path d="M3893 688 3914 726 3935 706 3913 667Z" fill="#fe2a00"/>
<path d="M4553 631 4575 648 4596 637 4574 622Z" fill="#e20000"/>
<path d="M4318 671 4338 691 4358 724 4337 733Z" fill="#ee3200"/>
<path d="M4980 801 4999 933 5017 908 4998 785Z" fill="#f6d200"/>
<path d="M4081 746 4101 833 4120 744 4100 761Z" fill="#f67a00"/>
<path d="M4094 757 4106 757 4104 877 4101 1100 4099 1100 4097 877Z" fill="url(#sg)"/>
<path d="M4743 659 4762 669 4780 792 4761 812Z" fill="#e24a00"/>
<path d="M4504 669 4525 671 4545 642 4524 629Z" fill="#f20000"/>
<path d="M4267 641 4289 670 4306 699 4286 648Z" fill="#f20600"/>
<path d="M4926 826 4948 939 4969 811 4948 730Z" fill="#fab200"/>
<path d="M4029 712 4050 740 4068 789 4049 683Z" fill="#f24a00"/>
<path d="M4689 628 4711 648 4732 635 4710 616Z" fill="#d60000"/>
<path d="M4453 642 4474 649 4495 669 4473 700Z" fill="#ee0600"/>
<path d="M4217 713 4236 694 4256 650 4236 649Z" fill="#f21200"/>
<path d="M4877 727 4898 792 4917 782 4897 713Z" fill="#f25e00"/>
<path d="M3978 716 4003 700 4020 707 3998 678Z" fill="#f22a00"/>
<path d="M4641 756 4660 773 4678 659 4659 647Z" fill="#f63200"/>
<path d="M4404 637 4423 650 4441 729 4422 713Z" fill="#ee1600"/>
<path d="M4166 647 4186 655 4205 709 4185 712Z" fill="#e21200"/>
<path d="M4826 691 4847 738 4867 719 4846 679Z" fill="#fa3200"/>
<path d="M3928 700 3948 789 3968 752 3947 676Z" fill="#fa4a00"/>
<path d="M4588 635 4610 651 4630 650 4608 632Z" fill="#da0000"/>
<path d="M4353 725 4372 719 4391 645 4371 649Z" fill="#ee1600"/>
<path d="M4116 752 4135 716 4153 652 4134 660Z" fill="#ee2200"/>
<path d="M4776 792 4796 751 4816 779 4795 726Z" fill="#ee6600"/>
<path d="M3876 711 3897 739 3918 724 3897 685Z" fill="#fa3a00"/>
<path d="M4537 644 4559 660 4580 643 4558 627Z" fill="#e60000"/>
<path d="M4300 694 4321 739 4342 695 4320 670Z" fill="#f62600"/>
<path d="M4964 809 4982 930 5000 933 4982 801Z" fill="#f6da00"/>
<path d="M4063 781 4084 845 4103 832 4083 745Z" fill="#ee8e00"/>
<path d="M4725 631 4745 648 4765 677 4744 668Z" fill="#e20000"/>
<path d="M4486 669 4508 658 4529 667 4503 667Z" fill="#ee0200"/>
<path d="M4249 653 4271 647 4291 668 4270 640Z" fill="#e60000"/>
<path d="M4913 774 4932 925 4949 939 4931 822Z" fill="#f2d200"/>
<path d="M4012 704 4033 692 4053 739 4032 720Z" fill="#ea3200"/>
<path d="M4673 666 4694 682 4715 642 4694 624Z" fill="#ea0000"/>
<path d="M4438 729 4457 734 4476 650 4456 641Z" fill="#fa1a00"/>
<path d="M4198 706 4224 700 4240 687 4219 714Z" fill="#ea2600"/>
<path d="M4861 713 4881 770 4899 792 4880 726Z" fill="#f65a00"/>
<path d="M3963 753 3982 704 4002 697 3981 708Z" fill="#ee3600"/>
<path d="M4625 644 4643 657 4661 773 4643 756Z" fill="#ea2a00"/>
<path d="M4384 649 4407 656 4427 656 4405 637Z" fill="#da0000"/>
<path d="M4147 656 4169 671 4190 659 4168 647Z" fill="#e60000"/>
<path d="M4434 693 4446 693 4443 840 4441 1112 4439 1112 4436 840Z" fill="url(#sg)"/>
<path d="M4810 780 4830 804 4850 730 4829 690Z" fill="#fa5a00"/>
<path d="M3912 718 3931 811 3950 789 3931 700Z" fill="#fa5e00"/>
<path d="M4571 642 4593 661 4614 647 4592 632Z" fill="#e60000"/>
<path d="M4334 693 4356 702 4376 716 4355 726Z" fill="#f62e00"/>
<path d="M4099 833 4118 774 4136 708 4117 743Z" fill="#ee6600"/>
<path d="M4760 669 4779 686 4798 759 4778 792Z" fill="#e23a00"/>
<path d="M4520 669 4542 679 4563 654 4541 640Z" fill="#f20000"/>
<path d="M4285 661 4305 732 4324 738 4304 691Z" fill="#f22600"/>
<path d="M4072 810 4087 810 4083 938 4081 1175 4078 1175 4076 938Z" fill="url(#sg)"/>
<path d="M4946 938 4966 949 4985 929 4965 809Z" fill="#f6fa06"/>
<path d="M4048 731 4068 797 4085 845 4066 780Z" fill="#e67600"/>
<path d="M4707 643 4728 667 4749 653 4728 630Z" fill="#e20000"/>
<path d="M4470 652 4494 665 4512 662 4490 673Z" fill="#e60000"/>
<path d="M4234 693 4255 658 4274 649 4253 649Z" fill="#ea0000"/>
<path d="M4896 783 4915 850 4932 925 4914 774Z" fill="#eea600"/>
<path d="M3995 701 4017 683 4038 696 4016 710Z" fill="#ea1e00"/>
<path d="M4659 773 4678 789 4696 673 4677 659Z" fill="#f63a00"/>
<path d="M4938 919 4959 919 4952 1019 4950 1205 4947 1205 4945 1019Z" fill="url(#sg)"/>
<path d="M4421 650 4440 671 4459 733 4439 730Z" fill="#ee1a00"/>
<path d="M4183 655 4203 675 4223 704 4202 709Z" fill="#ea1200"/>
<path d="M4844 730 4864 802 4884 768 4863 712Z" fill="#fa5a00"/>
<path d="M3947 789 3966 718 3984 704 3965 753Z" fill="#ee4a00"/>
<path d="M4605 645 4627 663 4648 663 4626 644Z" fill="#de0000"/>
<path d="M4370 719 4389 707 4408 647 4389 645Z" fill="#f20a00"/>
<path d="M4132 715 4152 750 4171 663 4151 652Z" fill="#f61a00"/>
<path d="M4792 752 4813 744 4832 803 4812 781Z" fill="#ee6600"/>
<path d="M3895 731 3915 810 3933 810 3914 717Z" fill="#fa6a00"/>
<path d="M4554 655 4576 671 4597 657 4575 639Z" fill="#ee0000"/>
<path d="M4317 736 4339 776 4358 703 4338 691Z" fill="#fa3e00"/>
<path d="M4082 845 4101 719 4121 766 4101 833Z" fill="#e67600"/>
<path d="M4742 649 4763 680 4782 694 4760 678Z" fill="#ea0200"/>
<path d="M4503 661 4525 658 4546 677 4521 670Z" fill="#ea0000"/>
<path d="M4268 648 4288 650 4306 731 4287 661Z" fill="#e60200"/>
<path d="M4928 918 4949 956 4970 946 4948 930Z" fill="#d2f622"/>
<path d="M4031 692 4051 731 4069 797 4049 731Z" fill="#e24200"/>
<path d="M4690 679 4712 699 4732 661 4711 639Z" fill="#f60000"/>
<path d="M4928 912 4944 912 4939 1039 4937 1276 4935 1276 4932 1039Z" fill="url(#sg)"/>
<path d="M4455 733 4474 745 4493 658 4474 649Z" fill="#fa1a00"/>
<path d="M4216 704 4237 700 4256 659 4236 694Z" fill="#ea0e00"/>
<path d="M4879 761 4898 844 4917 850 4897 783Z" fill="#f28e00"/>
<path d="M3978 710 4001 692 4020 685 3998 705Z" fill="#ee1a00"/>
<path d="M4642 657 4661 673 4679 789 4660 773Z" fill="#ea3200"/>
<path d="M4402 649 4426 665 4444 678 4423 650Z" fill="#e20000"/>
<path d="M4165 664 4186 710 4207 680 4185 655Z" fill="#f20600"/>
<path d="M4827 803 4847 805 4867 800 4847 729Z" fill="#f67200"/>
<path d="M3930 810 3949 734 3967 718 3948 789Z" fill="#ee5a00"/>
<path d="M4588 656 4610 677 4631 658 4609 642Z" fill="#ea0000"/>
<path d="M4351 706 4375 713 4394 702 4372 719Z" fill="#f22200"/>
<path d="M4116 774 4135 712 4156 747 4135 707Z" fill="#ea3e00"/>
<path d="M4126 719 4144 719 4139 883 4136 1188 4134 1188 4132 883Z" fill="url(#sg)"/>
<path d="M4777 687 4797 713 4816 752 4796 760Z" fill="#e23200"/>
<path d="M4537 676 4559 693 4580 665 4558 651Z" fill="#f60000"/>
<path d="M4302 723 4322 770 4341 776 4321 730Z" fill="#ee4e00"/>
<path d="M4064 796 4085 720 4103 719 4084 845Z" fill="#e25e00"/>
<path d="M4724 661 4746 691 4767 677 4745 648Z" fill="#f20000"/>
<path d="M4487 661 4509 673 4530 663 4507 658Z" fill="#e20000"/>
<path d="M4250 664 4272 650 4292 654 4270 647Z" fill="#d60000"/>
<path d="M4914 842 4932 944 4951 956 4931 925Z" fill="#eaee06"/>
<path d="M4306 731 4329 731 4321 878 4319 1150 4316 1150 4314 878Z" fill="url(#sg)"/>
<path d="M4014 684 4034 722 4053 739 4033 692Z" fill="#ea2200"/>
<path d="M4676 788 4695 804 4713 691 4694 673Z" fill="#f64200"/>
<path d="M4438 671 4458 724 4477 744 4457 734Z" fill="#ee2a00"/>
<path d="M4201 675 4220 766 4240 692 4219 697Z" fill="#f22200"/>
<path d="M4861 794 4881 869 4901 843 4881 761Z" fill="#f69200"/>
<path d="M3962 725 3984 715 4003 694 3981 704Z" fill="#ee2200"/>
<path d="M4623 656 4644 677 4665 679 4643 657Z" fill="#e20000"/>
<path d="M4387 707 4407 692 4427 658 4406 647Z" fill="#f20000"/>
<path d="M4148 748 4169 828 4188 702 4169 662Z" fill="#f23e00"/>
<path d="M4811 745 4831 770 4850 804 4830 804Z" fill="#ee6a00"/>
<path d="M3912 809 3932 749 3951 734 3931 811Z" fill="#ee6200"/>
<path d="M4571 666 4593 684 4614 673 4593 652Z" fill="#f20000"/>
<path d="M4335 775 4356 856 4374 705 4355 702Z" fill="#f65600"/>
<path d="M4097 723 4119 685 4139 715 4118 774Z" fill="#e22e00"/>
<path d="M4760 672 4780 712 4799 721 4779 686Z" fill="#ee1200"/>
<path d="M4521 660 4543 663 4563 692 4541 679Z" fill="#ea0000"/>
<path d="M4286 650 4305 658 4323 770 4304 732Z" fill="#e21600"/>
<path d="M4047 733 4068 731 4087 721 4067 797Z" fill="#e24200"/>
<path d="M4707 696 4729 722 4750 685 4728 658Z" fill="#fa0a00"/>
<path d="M4472 745 4492 776 4510 664 4491 657Z" fill="#f61e00"/>
<path d="M4234 699 4254 691 4274 651 4254 658Z" fill="#ea0000"/>
<path d="M4897 835 4916 956 4934 944 4915 841Z" fill="#f2de00"/>
<path d="M3996 695 4017 728 4038 720 4016 683Z" fill="#fa1e00"/>
<path d="M4660 673 4678 693 4696 804 4678 789Z" fill="#ee3a00"/>
<path d="M4421 657 4441 677 4460 723 4440 671Z" fill="#ee0200"/>
<path d="M4185 702 4204 853 4224 764 4203 675Z" fill="#f24600"/>
<path d="M4845 797 4865 847 4883 868 4864 793Z" fill="#f29600"/>
<path d="M3945 741 3967 733 3986 708 3965 718Z" fill="#ee2e00"/>
<path d="M4606 672 4627 695 4649 672 4627 654Z" fill="#f20000"/>
<path d="M4368 710 4390 724 4410 684 4389 699Z" fill="#f21600"/>
<path d="M4133 713 4153 690 4170 828 4149 749Z" fill="#e63e00"/>
<path d="M4794 713 4814 762 4833 778 4812 745Z" fill="#ea4200"/>
<path d="M4555 689 4577 718 4597 678 4576 662Z" fill="#fa0600"/>
<path d="M4318 763 4339 716 4357 856 4338 767Z" fill="#ee6200"/>
<path d="M4081 728 4102 693 4122 686 4101 728Z" fill="#e21a00"/>
<path d="M4742 684 4763 723 4784 710 4762 671Z" fill="#fa0e00"/>
<path d="M4504 668 4526 678 4547 667 4525 658Z" fill="#de0000"/>
<path d="M4267 654 4289 651 4309 664 4287 650Z" fill="#ce0000"/>
<path d="M4030 715 4051 745 4072 736 4050 740Z" fill="#ee3200"/>
<path d="M4693 804 4712 821 4731 713 4712 690Z" fill="#f64e00"/>
<path d="M4455 716 4475 730 4494 775 4473 736Z" fill="#f23a00"/>
<path d="M4218 766 4238 808 4256 682 4237 691Z" fill="#f23600"/>
<path d="M4880 860 4899 958 4917 956 4898 835Z" fill="#f6e200"/>
<path d="M3979 709 4000 747 4021 725 4000 692Z" fill="#fe2600"/>
<path d="M4640 670 4662 695 4682 700 4661 673ZM4403 689 4424 693 4445 682 4423 656Z" fill="#ee0000"/>
<path d="M4168 827 4187 714 4205 853 4186 701Z" fill="#e65600"/>
<path d="M4829 771 4848 838 4867 846 4847 796Z" fill="#ee8200"/>
<path d="M3928 756 3950 755 3970 726 3949 734Z" fill="#ee3a00"/>
<path d="M4589 679 4611 701 4632 692 4610 668Z" fill="#fa0000"/>
<path d="M4199 811 4216 811 4211 920 4209 1122 4207 1122 4204 920Z" fill="url(#sg)"/>
<path d="M4355 856 4373 863 4391 715 4373 704Z" fill="#ee6600"/>
<path d="M4185 780 4205 780 4199 935 4196 1223 4194 1223 4192 935Z" fill="url(#sg)"/>
<path d="M4114 687 4136 680 4157 694 4135 721Z" fill="#e20a00"/>
<path d="M4777 703 4797 757 4816 762 4796 713Z" fill="#f22e00"/>
<path d="M4539 664 4560 672 4579 717 4559 693Z" fill="#ee0000"/>
<path d="M4304 658 4323 670 4343 723 4322 770Z" fill="#e21200"/>
<path d="M4065 738 4086 713 4105 694 4084 729Z" fill="#ea1e00"/>
<path d="M4725 718 4746 753 4768 719 4746 682Z" fill="#fa1e00"/>
<path d="M4490 775 4509 832 4527 669 4508 664Z" fill="#f63200"/>
<path d="M4251 689 4272 688 4292 652 4271 650Z" fill="#de0000"/>
<path d="M4013 721 4034 757 4055 743 4034 713Z" fill="#fa3200"/>
<path d="M4357 839 4373 839 4368 958 4366 1181 4363 1181 4361 958Z" fill="url(#sg)"/>
<path d="M4677 693 4696 720 4714 821 4695 804Z" fill="#ee4600"/>
<path d="M4439 677 4458 755 4479 738 4457 715Z" fill="#ea2200"/>
<path d="M4202 853 4221 692 4240 807 4220 757Z" fill="#ea5a00"/>
<path d="M4863 838 4882 942 4900 958 4881 860Z" fill="#f2da00"/>
<path d="M3962 727 3984 774 4005 744 3983 706Z" fill="#fe3600"/>
<path d="M4623 690 4645 715 4666 690 4644 668Z" fill="#fe0000"/>
<path d="M4386 722 4407 739 4427 685 4407 683Z" fill="#f21200"/>
<path d="M4151 690 4170 685 4190 715 4169 828Z" fill="#e22600"/>
<path d="M4812 754 4831 824 4850 837 4831 770Z" fill="#f26e00"/>
<path d="M4572 714 4594 747 4614 694 4593 675Z" fill="#fa1200"/>
<path d="M4338 716 4357 701 4374 863 4356 856Z" fill="#e65e00"/>
<path d="M4098 699 4120 698 4140 683 4118 685Z" fill="#ea0000"/>
<path d="M4760 716 4781 769 4800 756 4780 703Z" fill="#fa2e00"/>
<path d="M4521 673 4543 684 4564 677 4542 663Z" fill="#da0000"/>
<path d="M4284 653 4308 659 4326 677 4304 658Z" fill="#ce0000"/>
<path d="M4237 751 4255 751 4250 924 4247 1245 4245 1245 4243 924Z" fill="url(#sg)"/>
<path d="M4047 742 4069 750 4088 714 4065 739Z" fill="#f22e00"/>
<path d="M4710 821 4730 843 4749 745 4729 713Z" fill="#fa5e00"/>
<path d="M4473 731 4492 721 4510 832 4491 776Z" fill="#f24a00"/>
<path d="M4237 807 4255 773 4273 679 4254 682Z" fill="#f22e00"/>
<path d="M3996 741 4018 783 4039 753 4017 719Z" fill="#fe3e00"/>
<path d="M4658 687 4679 720 4699 728 4678 693Z" fill="#ee0e00"/>
<path d="M4421 686 4442 697 4460 755 4441 677Z" fill="#f20e00"/>
<path d="M4184 715 4204 683 4223 692 4204 853Z" fill="#e22a00"/>
<path d="M4847 829 4865 932 4883 942 4865 838Z" fill="#f2c600"/>
<path d="M3946 748 3967 810 3988 771 3966 724Z" fill="#fe4a00"/>
<path d="M4607 694 4628 722 4649 712 4627 686Z" fill="#fe0a00"/>
<path d="M4372 863 4391 835 4409 730 4390 715Z" fill="#ee5e00"/>
<path d="M4132 684 4154 682 4175 690 4152 699Z" fill="#e20000"/>
<path d="M4795 748 4815 823 4833 823 4814 753Z" fill="#f65e00"/>
<path d="M4558 673 4577 688 4596 747 4576 718Z" fill="#ee0a00"/>
<path d="M4320 671 4340 679 4361 708 4339 725Z" fill="#e20000"/>
<path d="M4082 720 4103 718 4123 691 4102 693Z" fill="#ee0a00"/>
<path d="M4742 747 4764 798 4785 767 4763 714Z" fill="#fa3e00"/>
<path d="M4508 832 4526 845 4544 675 4526 669Z" fill="#f23e00"/>
<path d="M4268 686 4289 688 4310 661 4288 650Z" fill="#da0000"/>
<path d="M4030 752 4052 783 4072 743 4051 736Z" fill="#fa3e00"/>
<path d="M4694 720 4713 756 4731 842 4712 821Z" fill="#ee5a00"/>
<path d="M4456 747 4476 887 4494 721 4475 730Z" fill="#ee4e00"/>
<path d="M4219 692 4238 679 4257 773 4238 808Z" fill="#ea2a00"/>
<path d="M3979 768 4001 820 4022 779 4000 738Z" fill="#fa5600"/>
<path d="M4640 710 4662 737 4683 716 4661 686Z" fill="#fe0e00"/>
<path d="M4252 731 4267 731 4263 893 4260 1194 4258 1194 4256 893Z" fill="url(#sg)"/>
<path d="M4405 738 4425 736 4445 699 4424 684Z" fill="#f21200"/>
<path d="M4166 688 4188 685 4208 685 4187 723Z" fill="#e20000"/>
<path d="M4513 818 4523 818 4521 966 4519 1242 4517 1242 4514 966Z" fill="url(#sg)"/>
<path d="M4830 815 4849 916 4867 932 4848 829Z" fill="#f2b600"/>
<path d="M4590 745 4611 773 4632 715 4611 692Z" fill="#fa2200"/>
<path d="M4356 702 4374 709 4392 835 4373 863Z" fill="#e64e00"/>
<path d="M4115 694 4137 699 4158 686 4136 680Z" fill="#ea0000"/>
<path d="M4778 761 4798 836 4817 822 4797 748Z" fill="#fa6200"/>
<path d="M4539 678 4561 692 4581 694 4560 672Z" fill="#da0000"/>
<path d="M4302 661 4324 682 4344 686 4319 672Z" fill="#d60000"/>
<path d="M4065 748 4086 748 4106 711 4085 713Z" fill="#f21e00"/>
<path d="M4727 842 4747 875 4767 790 4746 744Z" fill="#fa7600"/>
<path d="M4491 721 4510 722 4528 845 4509 832Z" fill="#ee5200"/>
<path d="M4253 773 4272 831 4290 679 4272 679Z" fill="#f62a00"/>
<path d="M4013 777 4035 824 4056 778 4034 748Z" fill="#fa5600"/>
<path d="M4676 711 4696 754 4716 764 4695 720Z" fill="#ee2600"/>
<path d="M4462 834 4480 834 4475 963 4472 1204 4470 1204 4468 963Z" fill="url(#sg)"/>
<path d="M4440 697 4459 727 4476 887 4458 746Z" fill="#ee4200"/>
<path d="M4200 688 4222 676 4243 683 4221 701Z" fill="#d60000"/>
<path d="M3963 804 3984 870 4005 815 3984 765Z" fill="#fa7a00"/>
<path d="M4624 716 4645 753 4666 734 4645 706Z" fill="#fe1a00"/>
<path d="M4386 831 4408 1026 4426 727 4407 730Z" fill="#ee8200"/>
<path d="M4149 685 4171 701 4192 689 4169 685Z" fill="#e20000"/>
<path d="M4813 814 4832 921 4850 915 4831 815Z" fill="#f6aa00"/>
<path d="M4575 688 4595 711 4613 773 4594 747Z" fill="#ee1a00"/>
<path d="M4337 681 4358 688 4377 717 4356 710Z" fill="#de0000"/>
<path d="M4099 716 4120 716 4141 692 4119 689Z" fill="#f60000"/>
<path d="M4724 821 4744 821 4738 983 4735 1286 4733 1286 4731 983Z" fill="url(#sg)"/>
<path d="M4761 790 4781 863 4801 835 4780 760Z" fill="#fa7200"/>
<path d="M4526 845 4544 785 4562 683 4543 675Z" fill="#ea2a00"/>
<path d="M4285 685 4307 696 4328 677 4306 659Z" fill="#da0000"/>
<path d="M4049 782 4069 786 4089 740 4068 741Z" fill="#f23e00"/>
<path d="M4712 756 4730 807 4748 875 4730 843Z" fill="#f27600"/>
<path d="M4475 887 4493 755 4511 723 4492 721Z" fill="#ea4600"/>
<path d="M4237 679 4256 686 4273 831 4255 773Z" fill="#ee2600"/>
<path d="M3997 814 4018 876 4040 819 4018 774Z" fill="#fa7a00"/>
<path d="M4658 731 4680 767 4700 752 4679 711Z" fill="#fe2200"/>
<path d="M4421 733 4442 741 4463 733 4441 697Z" fill="#ee1200"/>
<path d="M4183 690 4205 697 4226 679 4200 688Z" fill="#da0000"/>
<path d="M4608 771 4629 794 4649 746 4628 713Z" fill="#fa3200"/>
<path d="M4373 709 4391 730 4408 1026 4390 835Z" fill="#e67200"/>
<path d="M4132 694 4154 711 4175 696 4153 682Z" fill="#ee0000"/>
<path d="M4796 828 4815 937 4834 920 4815 814Z" fill="#f6ae00"/>
<path d="M4557 685 4578 707 4598 718 4577 688Z" fill="#e60000"/>
<path d="M4319 675 4341 696 4361 694 4339 679Z" fill="#da0000"/>
<path d="M4083 747 4103 741 4123 708 4102 709Z" fill="#f21200"/>
<path d="M4743 872 4764 926 4786 858 4764 789Z" fill="#faa200"/>
<path d="M4508 723 4527 738 4548 782 4526 845Z" fill="#e63e00"/>
<path d="M4398 1005 4418 1005 4412 1083 4409 1228 4407 1228 4405 1083Z" fill="url(#sg)"/>
<path d="M4271 831 4290 817 4308 687 4289 679Z" fill="#f22e00"/>
<path d="M4032 823 4052 833 4072 778 4052 774Z" fill="#f66200"/>
<path d="M4694 746 4714 805 4732 815 4713 756Z" fill="#ee4600"/>
<path d="M4528 765 4543 765 4539 964 4536 1334 4534 1334 4532 964Z" fill="url(#sg)"/>
<path d="M4457 727 4476 717 4496 757 4476 887Z" fill="#e63e00"/>
<path d="M4217 679 4241 680 4260 692 4237 679Z" fill="#d20000"/>
<path d="M3980 864 4002 946 4023 871 4001 811Z" fill="#faae00"/>
<path d="M4641 746 4663 792 4684 763 4662 728Z" fill="#fe3200"/>
<path d="M4408 1026 4426 786 4443 732 4425 727Z" fill="#ea6e00"/>
<path d="M4166 696 4188 716 4209 691 4187 685Z" fill="#ea0000"/>
<path d="M4273 803 4289 803 4285 964 4282 1263 4280 1263 4278 964Z" fill="url(#sg)"/>
<path d="M4593 711 4612 743 4631 794 4611 773Z" fill="#ee2e00"/>
<path d="M4354 690 4375 702 4394 738 4373 718Z" fill="#e60000"/>
<path d="M4116 712 4137 725 4159 706 4137 690Z" fill="#f60000"/>
<path d="M4779 855 4799 962 4817 936 4798 827Z" fill="#fac200"/>
<path d="M4542 784 4561 747 4580 698 4560 683Z" fill="#f20e00"/>
<path d="M4302 691 4324 710 4345 691 4323 673Z" fill="#e20000"/>
<path d="M4067 785 4087 773 4106 733 4086 739Z" fill="#f22e00"/>
<path d="M4729 807 4748 888 4766 926 4746 866Z" fill="#f2a600"/>
<path d="M4490 763 4511 755 4532 742 4510 722Z" fill="#e61e00"/>
<path d="M4255 686 4273 712 4291 817 4272 831Z" fill="#ea2e00"/>
<path d="M4015 875 4036 892 4055 825 4035 815Z" fill="#f29200"/>
<path d="M4676 759 4697 809 4716 804 4696 745Z" fill="#fa4600"/>
<path d="M4438 736 4460 761 4480 719 4459 727Z" fill="#ee1600"/>
<path d="M4200 693 4222 701 4243 683 4221 676Z" fill="#da0000"/>
<path d="M4624 791 4646 824 4667 787 4645 744Z" fill="#fa4e00"/>
<path d="M4391 730 4409 777 4427 786 4408 1026Z" fill="#e27200"/>
<path d="M4150 705 4171 737 4193 711 4171 692Z" fill="#fa0000"/>
<path d="M4575 699 4596 730 4615 752 4594 711Z" fill="#f20600"/>
<path d="M4336 689 4358 710 4379 708 4357 688Z" fill="#e20000"/>
<path d="M4099 738 4121 745 4142 719 4120 707Z" fill="#fa0a00"/>
<path d="M4761 919 4782 1009 4801 961 4781 854Z" fill="#faea00"/>
<path d="M4524 739 4545 789 4564 739 4544 785Z" fill="#ee2e00"/>
<path d="M4289 817 4307 773 4326 701 4306 687Z" fill="#ee1a00"/>
<path d="M4050 833 4070 814 4089 765 4069 777Z" fill="#ee5200"/>
<path d="M4712 796 4731 879 4749 888 4730 807Z" fill="#ee7e00"/>
<path d="M4473 719 4494 716 4514 753 4493 764Z" fill="#e61200"/>
<path d="M4235 681 4257 706 4276 719 4255 686Z" fill="#d60000"/>
<path d="M3999 945 4019 967 4038 883 4018 867Z" fill="#f2ce00"/>
<path d="M4284 770 4296 770 4293 959 4291 1311 4289 1311 4286 959Z" fill="url(#sg)"/>
<path d="M4659 786 4680 822 4701 807 4679 758Z" fill="#fe4e00"/>
<path d="M4423 794 4444 767 4464 756 4442 732Z" fill="#f22e00"/>
<path d="M4184 713 4206 728 4226 695 4205 688Z" fill="#ea0000"/>
<path d="M4610 744 4629 808 4648 824 4627 786Z" fill="#f24a00"/>
<path d="M4372 702 4392 720 4410 786 4391 730Z" fill="#e61200"/>
<path d="M4133 719 4155 755 4176 734 4154 702Z" fill="#fe0a00"/>
<path d="M4558 745 4579 754 4600 724 4578 698Z" fill="#f60a00"/>
<path d="M4319 705 4341 721 4362 705 4340 687Z" fill="#ea0000"/>
<path d="M4083 772 4104 770 4124 737 4103 732Z" fill="#f62200"/>
<path d="M4547 747 4558 747 4556 960 4554 1354 4552 1354 4549 960Z" fill="url(#sg)"/>
<path d="M4747 880 4765 996 4783 1009 4764 917Z" fill="#f6ee00"/>
<path d="M4507 748 4528 776 4547 788 4527 738Z" fill="#ee2a00"/>
<path d="M4272 712 4290 817 4311 767 4290 817Z" fill="#e63600"/>
<path d="M4034 891 4053 866 4072 806 4052 824Z" fill="#ee7e00"/>
<path d="M4695 801 4714 875 4733 879 4714 796Z" fill="#f67a00"/>
<path d="M4457 760 4479 738 4497 718 4476 717Z" fill="#ee0a00"/>
<path d="M4218 697 4240 715 4261 702 4239 680Z" fill="#de0000"/>
<path d="M4642 820 4663 861 4685 817 4663 783Z" fill="#fe6a00"/>
<path d="M4404 783 4427 770 4446 759 4425 795Z" fill="#ea3600"/>
<path d="M4167 731 4189 795 4209 721 4188 707Z" fill="#fa1200"/>
<path d="M4283 768 4305 768 4298 910 4296 1176 4293 1176 4291 910Z" fill="url(#sg)"/>
<path d="M4593 721 4614 765 4631 808 4612 743Z" fill="#ee2200"/>
<path d="M4354 703 4375 728 4396 727 4374 702Z" fill="#e60000"/>
<path d="M4116 739 4138 769 4159 752 4137 716Z" fill="#fe1600"/>
<path d="M4541 782 4562 908 4580 746 4561 738Z" fill="#f64a00"/>
<path d="M4305 773 4325 750 4344 713 4324 701Z" fill="#f20a00"/>
<path d="M4067 814 4087 803 4107 762 4086 764Z" fill="#f23e00"/>
<path d="M4635 808 4649 808 4646 963 4643 1251 4641 1251 4639 963Z" fill="url(#sg)"/>
<path d="M4730 870 4748 991 4766 996 4748 879Z" fill="#f2d600"/>
<path d="M4491 717 4511 732 4530 775 4510 755Z" fill="#ea1200"/>
<path d="M4255 697 4274 750 4292 817 4273 712Z" fill="#ee1200"/>
<path d="M4018 966 4036 932 4055 857 4036 883Z" fill="#eeba00"/>
<path d="M4677 814 4698 873 4716 874 4697 800Z" fill="#fa7a00"/>
<path d="M4439 760 4460 841 4479 730 4459 752Z" fill="#f62e00"/>
<path d="M4201 726 4223 741 4244 709 4222 693Z" fill="#ee0000"/>
<path d="M4627 800 4647 875 4666 860 4646 815Z" fill="#f67200"/>
<path d="M4390 720 4410 780 4430 777 4409 786Z" fill="#e62200"/>
<path d="M4153 746 4172 862 4193 792 4171 728Z" fill="#fa3a00"/>
<path d="M4551 826 4573 826 4565 948 4563 1175 4560 1175 4558 948Z" fill="url(#sg)"/>
<path d="M4574 749 4596 778 4617 763 4595 721Z" fill="#f61a00"/>
<path d="M4337 716 4359 739 4380 725 4358 701Z" fill="#f20000"/>
<path d="M4293 786 4305 786 4302 945 4300 1241 4298 1241 4295 945Z" fill="url(#sg)"/>
<path d="M4099 766 4121 786 4142 765 4121 736Z" fill="#fa2600"/>
<path d="M4526 767 4545 805 4563 908 4544 780Z" fill="#ee5a00"/>
<path d="M4288 816 4308 832 4326 741 4307 764Z" fill="#ee3a00"/>
<path d="M4051 865 4071 845 4089 794 4070 805Z" fill="#ee6200"/>
<path d="M4713 866 4732 976 4750 991 4731 870Z" fill="#f2ca00"/>
<path d="M4472 735 4495 738 4515 738 4494 716Z" fill="#ee0000"/>
<path d="M4236 707 4257 756 4277 749 4256 697Z" fill="#f20000"/>
<path d="M4659 857 4681 889 4701 871 4680 813Z" fill="#fa8600"/>
<path d="M4422 773 4444 747 4462 841 4443 758Z" fill="#f23200"/>
<path d="M4186 794 4206 833 4225 733 4205 719Z" fill="#f62a00"/>
<path d="M4611 756 4631 806 4648 875 4629 799Z" fill="#ee4e00"/>
<path d="M4372 720 4394 748 4411 780 4392 720Z" fill="#f20a00"/>
<path d="M4136 760 4155 825 4173 862 4155 746Z" fill="#f64600"/>
<path d="M4561 908 4579 884 4597 770 4579 745Z" fill="#f66200"/>
<path d="M4321 747 4342 745 4363 734 4341 712Z" fill="#fa0000"/>
<path d="M4558 881 4574 881 4570 986 4567 1181 4565 1181 4563 986Z" fill="url(#sg)"/>
<path d="M4083 800 4105 811 4126 780 4104 761Z" fill="#fa3a00"/>
<path d="M4509 733 4529 764 4547 814 4524 769Z" fill="#e62600"/>
<path d="M4273 741 4291 1011 4311 824 4290 808Z" fill="#f27600"/>
<path d="M4035 931 4054 901 4072 836 4053 857Z" fill="#ee9600"/>
<path d="M4696 864 4715 960 4733 976 4714 866Z" fill="#f2be00"/>
<path d="M4459 841 4478 796 4496 729 4477 729Z" fill="#f22a00"/>
<path d="M4219 734 4240 804 4261 753 4240 706Z" fill="#fa0e00"/>
<path d="M4643 868 4664 933 4685 884 4663 852Z" fill="#f69e00"/>
<path d="M4405 775 4427 814 4446 748 4426 770Z" fill="#ee2a00"/>
<path d="M4170 862 4192 830 4211 829 4189 786Z" fill="#f25e00"/>
<path d="M4181 809 4197 809 4193 987 4190 1316 4188 1316 4186 987Z" fill="url(#sg)"/>
<path d="M4593 771 4613 822 4633 814 4613 756Z" fill="#f23600"/>
<path d="M4355 732 4376 771 4397 744 4375 719Z" fill="#fa0600"/>
<path d="M4118 779 4139 818 4158 825 4138 760Z" fill="#f23e00"/>
<path d="M4544 805 4563 884 4583 882 4562 908Z" fill="#ee8200"/>
<path d="M4307 831 4325 757 4344 737 4324 741Z" fill="#f21e00"/>
<path d="M4067 844 4088 846 4108 804 4087 794Z" fill="#f25600"/>
<path d="M4564 863 4578 863 4574 986 4572 1212 4569 1212 4567 986Z" fill="url(#sg)"/>
<path d="M4491 731 4512 758 4531 772 4511 732Z" fill="#f20a00"/>
<path d="M4256 747 4274 870 4292 1011 4274 741Z" fill="#f26a00"/>
<path d="M4679 880 4698 952 4717 960 4698 864Z" fill="#f6ba00"/>
<path d="M4442 748 4461 819 4482 790 4460 841ZM4204 832 4224 839 4245 799 4223 732Z" fill="#f23e00"/>
<path d="M4629 806 4648 884 4665 932 4646 866Z" fill="#ee8600"/>
<path d="M4391 739 4410 816 4429 813 4409 771Z" fill="#f22e00"/>
<path d="M4281 990 4302 990 4295 1061 4292 1195 4290 1195 4288 1061Z" fill="url(#sg)"/>
<path d="M4151 820 4173 780 4194 827 4172 862Z" fill="#ea5200"/>
<path d="M4578 884 4597 863 4617 815 4596 769Z" fill="#f65e00"/>
<path d="M4339 738 4359 796 4380 769 4359 730Z" fill="#fe1200"/>
<path d="M4100 806 4122 830 4143 815 4121 777Z" fill="#f64600"/>
<path d="M4527 764 4546 809 4564 884 4545 805Z" fill="#e64a00"/>
<path d="M4291 1011 4309 848 4326 757 4308 823Z" fill="#ee7a00"/>
<path d="M4051 900 4071 894 4090 838 4070 836Z" fill="#f28200"/>
<path d="M4475 796 4495 773 4516 752 4494 729Z" fill="#f21200"/>
<path d="M4259 820 4281 820 4274 991 4271 1309 4269 1309 4267 991Z" fill="url(#sg)"/>
<path d="M4236 798 4258 795 4276 869 4257 747Z" fill="#ee3e00"/>
<path d="M4464 787 4475 787 4473 925 4470 1181 4468 1181 4466 925Z" fill="url(#sg)"/>
<path d="M4660 926 4682 985 4702 950 4681 880Z" fill="#faca00"/>
<path d="M4424 813 4445 783 4463 818 4443 747Z" fill="#f63200"/>
<path d="M4185 827 4207 791 4227 838 4206 833Z" fill="#e64e00"/>
<path d="M4246 785 4261 785 4257 938 4254 1223 4252 1223 4250 938Z" fill="url(#sg)"/>
<path d="M4611 814 4631 890 4650 883 4630 806Z" fill="#f26a00"/>
<path d="M4372 764 4394 789 4412 815 4393 739Z" fill="#f62200"/>
<path d="M4135 816 4156 784 4176 782 4155 825Z" fill="#e63a00"/>
<path d="M4558 878 4580 922 4599 854 4579 875Z" fill="#f28e00"/>
<path d="M4321 761 4343 772 4362 796 4342 736Z" fill="#f61600"/>
<path d="M4084 844 4105 856 4126 825 4104 802Z" fill="#f65a00"/>
<path d="M4509 750 4529 797 4548 817 4528 764Z" fill="#ee2200"/>
<path d="M4271 862 4292 786 4311 849 4291 1011Z" fill="#e68200"/>
<path d="M4456 814 4478 893 4496 765 4478 787Z" fill="#f24600"/>
<path d="M4222 839 4241 764 4262 799 4239 795Z" fill="#e63200"/>
<path d="M4646 875 4665 982 4683 985 4664 924Z" fill="#f6ca00"/>
<path d="M4406 809 4427 889 4446 783 4427 805Z" fill="#f64e00"/>
<path d="M4169 782 4190 775 4211 796 4189 831Z" fill="#e22e00"/>
<path d="M4593 856 4614 917 4634 888 4613 813Z" fill="#fa7e00"/>
<path d="M4355 790 4377 853 4397 782 4376 762Z" fill="#fa3200"/>
<path d="M4119 829 4140 802 4159 785 4138 818Z" fill="#ee3e00"/>
<path d="M4544 809 4563 852 4581 922 4562 884Z" fill="#ea7600"/>
<path d="M4307 857 4328 799 4345 764 4325 757Z" fill="#ee2e00"/>
<path d="M4068 894 4089 895 4108 848 4088 837Z" fill="#f27a00"/>
<path d="M4491 767 4512 801 4533 795 4512 749Z" fill="#f61a00"/>
<path d="M4253 799 4275 749 4295 788 4274 870Z" fill="#e23200"/>
<path d="M4443 783 4462 874 4480 893 4461 810Z" fill="#f65e00"/>
<path d="M4202 797 4224 763 4244 765 4224 839Z" fill="#e22600"/>
<path d="M4629 881 4648 991 4666 982 4647 875Z" fill="#f6ba00"/>
<path d="M4392 781 4411 892 4429 889 4410 807Z" fill="#f65e00"/>
<path d="M4152 789 4174 792 4194 778 4168 785Z" fill="#ea1e00"/>
<path d="M4576 920 4597 958 4618 913 4597 854Z" fill="#f6a600"/>
<path d="M4341 763 4360 938 4380 851 4359 787Z" fill="#f65600"/>
<path d="M4102 855 4123 838 4142 803 4122 821Z" fill="#f24e00"/>
<path d="M4527 788 4547 844 4565 861 4546 809Z" fill="#ee4600"/>
<path d="M4290 787 4309 857 4328 791 4308 857Z" fill="#ea4200"/>
<path d="M4468 867 4480 867 4478 1016 4475 1292 4473 1292 4471 1016Z" fill="url(#sg)"/>
<path d="M4477 893 4496 843 4515 793 4495 764Z" fill="#f64600"/>
<path d="M4236 768 4258 746 4278 751 4258 804Z" fill="#e20a00"/>
<path d="M4425 889 4445 872 4465 872 4444 783Z" fill="#f66600"/>
<path d="M4186 779 4208 769 4228 765 4207 800Z" fill="#e61600"/>
<path d="M4612 908 4631 1015 4650 991 4631 881Z" fill="#faca00"/>
<path d="M4372 850 4394 849 4412 891 4393 780Z" fill="#f25600"/>
<path d="M4135 809 4157 808 4177 785 4156 784Z" fill="#ee2600"/>
<path d="M4562 853 4581 918 4599 957 4580 922Z" fill="#f29a00"/>
<path d="M4324 791 4343 859 4361 938 4343 763Z" fill="#f25200"/>
<path d="M4086 894 4106 875 4125 830 4105 847Z" fill="#ee6a00"/>
<path d="M4357 896 4371 896 4368 1028 4365 1273 4363 1273 4361 1028Z" fill="url(#sg)"/>
<path d="M4510 793 4530 849 4549 843 4529 788Z" fill="#f63e00"/>
<path d="M4273 750 4292 771 4310 856 4291 787Z" fill="#e62200"/>
<path d="M4458 867 4479 930 4497 834 4478 893Z" fill="#f67e00"/>
<path d="M4412 877 4427 877 4423 996 4420 1217 4418 1217 4416 996Z" fill="url(#sg)"/>
<path d="M4220 769 4242 751 4262 748 4241 773Z" fill="#e60000"/>
<path d="M4406 886 4428 935 4447 864 4427 880Z" fill="#f28a00"/>
<path d="M4169 789 4191 790 4212 772 4189 775Z" fill="#ee1600"/>
<path d="M4595 949 4615 1051 4634 1014 4614 908Z" fill="#f6e600"/>
<path d="M4359 938 4377 843 4397 841 4377 844Z" fill="#f26e00"/>
<path d="M4119 837 4140 831 4160 800 4139 802Z" fill="#ee3a00"/>
<path d="M4545 836 4564 901 4582 917 4563 852Z" fill="#ee7200"/>
<path d="M4305 852 4327 910 4348 855 4326 790Z" fill="#f25a00"/>
<path d="M4492 836 4513 913 4534 844 4512 792Z" fill="#fa5a00"/>
<path d="M4254 748 4276 767 4296 778 4275 749Z" fill="#e60000"/>
<path d="M4442 864 4463 897 4481 929 4461 865Z" fill="#f28200"/>
<path d="M4203 776 4229 768 4245 753 4223 772Z" fill="#ee0000"/>
<path d="M4393 840 4411 983 4431 933 4411 883Z" fill="#f29600"/>
<path d="M4153 805 4174 806 4195 783 4173 783Z" fill="#f21e00"/>
<path d="M4579 909 4598 1017 4616 1051 4597 949Z" fill="#f2de00"/>
<path d="M4340 852 4361 836 4380 844 4360 938Z" fill="#ee6a00"/>
<path d="M4103 874 4123 863 4143 823 4122 829Z" fill="#ee5200"/>
<path d="M4527 841 4547 901 4566 900 4546 835Z" fill="#f66a00"/>
<path d="M4291 771 4310 899 4328 909 4309 848Z" fill="#ea5a00"/>
<path d="M4411 916 4420 916 4419 1077 4417 1375 4414 1375 4412 1077Z" fill="url(#sg)"/>
<path d="M4474 925 4496 1032 4516 906 4496 834Z" fill="#f6a600"/>
<path d="M4237 754 4259 768 4280 764 4258 746Z" fill="#e60000"/>
<path d="M4426 934 4446 888 4467 892 4445 863Z" fill="#ee8200"/>
<path d="M4187 787 4209 784 4229 763 4207 769Z" fill="#f20600"/>
<path d="M4376 843 4395 939 4412 983 4394 840Z" fill="#ee8600"/>
<path d="M4136 829 4158 826 4178 799 4157 799Z" fill="#f22e00"/>
<path d="M4562 892 4581 993 4599 1017 4580 909Z" fill="#eeba00"/>
<path d="M4325 909 4344 832 4364 837 4343 850Z" fill="#ea5a00"/>
<path d="M4509 910 4530 971 4551 895 4530 840Z" fill="#fa8e00"/>
<path d="M4405 962 4418 962 4415 1099 4413 1354 4410 1354 4408 1099Z" fill="url(#sg)"/>
<path d="M4274 759 4295 816 4311 898 4292 771Z" fill="#e62600"/>
<path d="M4461 889 4480 918 4497 1032 4479 921Z" fill="#f2ae00"/>
<path d="M4220 766 4242 776 4263 763 4241 751Z" fill="#ee0000"/>
<path d="M4316 868 4329 868 4326 991 4324 1219 4321 1219 4319 991Z" fill="url(#sg)"/>
<path d="M4410 983 4429 925 4447 888 4428 926Z" fill="#eea200"/>
<path d="M4170 804 4192 802 4212 777 4191 781Z" fill="#f21200"/>
<path d="M4500 950 4518 950 4512 1083 4510 1329 4508 1329 4505 1083Z" fill="url(#sg)"/>
<path d="M4359 837 4379 880 4396 939 4377 843Z" fill="#e66200"/>
<path d="M4120 862 4141 853 4161 819 4140 822Z" fill="#f24200"/>
<path d="M4545 892 4565 979 4583 993 4564 892Z" fill="#f6aa00"/>
<path d="M4307 898 4327 837 4346 833 4326 910Z" fill="#e65a00"/>
<path d="M4495 1032 4514 952 4535 966 4513 904Z" fill="#f6c600"/>
<path d="M4256 760 4276 801 4295 816 4276 758Z" fill="#f20600"/>
<path d="M4514 941 4530 941 4525 1103 4523 1404 4521 1404 4518 1103Z" fill="url(#sg)"/>
<path d="M4441 891 4463 884 4482 926 4462 888Z" fill="#e67a00"/>
<path d="M4204 781 4226 788 4247 770 4225 761Z" fill="#f60000"/>
<path d="M4391 931 4412 966 4432 926 4411 983Z" fill="#e6aa00"/>
<path d="M4154 825 4175 822 4195 794 4174 797Z" fill="#f22200"/>
<path d="M4340 834 4361 833 4380 880 4360 836Z" fill="#e64200"/>
<path d="M4527 969 4548 981 4567 978 4547 892Z" fill="#faba00"/>
<path d="M4291 808 4312 843 4331 839 4310 899Z" fill="#e64200"/>
<path d="M4478 918 4497 943 4518 955 4496 1032Z" fill="#eeba00"/>
<path d="M4239 769 4260 804 4280 800 4259 759Z" fill="#fa0200"/>
<path d="M4427 934 4446 876 4467 887 4445 888Z" fill="#ea7600"/>
<path d="M4187 799 4209 805 4230 782 4208 775Z" fill="#fa0a00"/>
<path d="M4376 872 4396 912 4414 966 4395 939Z" fill="#e68a00"/>
<path d="M4137 851 4158 847 4178 814 4157 817Z" fill="#f23200"/>
<path d="M4323 843 4345 820 4366 839 4343 841Z" fill="#e63200"/>
<path d="M4511 953 4531 1031 4552 976 4530 962Z" fill="#f6ce00"/>
<path d="M4274 793 4294 857 4313 851 4293 807Z" fill="#f22e00"/>
<path d="M4461 885 4480 965 4500 951 4479 918Z" fill="#ee9200"/>
<path d="M4221 782 4243 813 4264 801 4242 767Z" fill="#fe0600"/>
<path d="M4410 966 4430 901 4448 876 4429 934Z" fill="#ea8600"/>
<path d="M4171 819 4192 826 4213 799 4191 793Z" fill="#f61600"/>
<path d="M4360 834 4379 918 4398 921 4378 871Z" fill="#ea6200"/>
<path d="M4307 850 4328 822 4348 822 4327 846Z" fill="#f23200"/>
<path d="M4495 944 4514 1029 4533 1030 4514 952Z" fill="#f2ce00"/>
<path d="M4257 796 4277 863 4296 857 4276 792Z" fill="#fa2a00"/>
<path d="M4444 876 4464 945 4482 965 4463 884Z" fill="#f28200"/>
<path d="M4204 800 4226 826 4247 809 4225 779Z" fill="#fe0e00"/>
<path d="M4393 913 4413 1017 4431 902 4412 966Z" fill="#eea200"/>
<path d="M4154 845 4175 851 4196 819 4175 813Z" fill="#f62a00"/>
<path d="M4343 821 4362 910 4380 917 4361 833Z" fill="#f25200"/>
<path d="M4290 856 4311 832 4331 824 4310 852Z" fill="#fe3200"/>
<path d="M4478 956 4498 1043 4516 1028 4497 943Z" fill="#f6d200"/>
<path d="M4240 804 4260 872 4280 862 4260 795Z" fill="#fe2a00"/>
<path d="M4405 955 4420 955 4416 1076 4414 1300 4411 1300 4409 1076Z" fill="url(#sg)"/>
<path d="M4425 904 4447 935 4466 944 4446 876Z" fill="#f27e00"/>
<path d="M4188 821 4210 844 4231 822 4209 796Z" fill="#fe1e00"/>
<path d="M4377 909 4396 968 4414 1017 4395 912Z" fill="#ee9e00"/>
<path d="M4326 823 4345 887 4363 910 4344 820Z" fill="#f64200"/>
<path d="M4273 861 4296 855 4315 834 4293 857Z" fill="#fe3a00"/>
<path d="M4462 936 4481 1028 4499 1043 4480 956Z" fill="#f2ca00"/>
<path d="M4223 818 4244 884 4263 871 4243 804Z" fill="#fe3200"/>
<path d="M4401 984 4416 984 4412 1075 4410 1245 4407 1245 4405 1075Z" fill="url(#sg)"/>
<path d="M4412 1017 4430 935 4450 928 4429 901Z" fill="#f69a00"/>
<path d="M4171 848 4193 866 4214 838 4192 817Z" fill="#fa2e00"/>
<path d="M4359 902 4380 937 4398 967 4379 909Z" fill="#ee8200"/>
<path d="M4308 833 4329 883 4348 886 4328 822Z" fill="#fa3a00"/>
<path d="M4256 869 4278 873 4298 849 4276 854Z" fill="#fe4200"/>
<path d="M4445 927 4464 1015 4482 1027 4463 936Z" fill="#f2b600"/>
<path d="M4396 960 4413 960 4408 1129 4406 1442 4403 1442 4401 1129Z" fill="url(#sg)"/>
<path d="M4207 836 4227 899 4246 883 4226 817Z" fill="#fe3e00"/>
<path d="M4393 960 4413 998 4432 936 4413 1017Z" fill="#f2b200"/>
<path d="M4343 878 4363 938 4382 936 4362 901Z" fill="#f27200"/>
<path d="M4291 848 4312 893 4332 881 4311 832Z" fill="#fa3e00"/>
<path d="M4239 881 4261 895 4282 867 4260 863Z" fill="#fe4e00"/>
<path d="M4390 971 4411 971 4404 1108 4402 1363 4399 1363 4397 1108Z" fill="url(#sg)"/>
<path d="M4428 936 4447 1018 4466 1014 4447 926Z" fill="#f6ae00"/>
<path d="M4189 859 4210 917 4230 897 4209 835Z" fill="#fe4a00"/>
<path d="M4378 928 4397 1098 4418 993 4396 959Z" fill="#f2c200"/>
<path d="M4326 874 4346 955 4365 937 4345 878Z" fill="#f66a00"/>
<path d="M4274 867 4295 908 4316 890 4294 847Z" fill="#fe4a00"/>
<path d="M4222 894 4244 917 4265 889 4243 875Z" fill="#fe5a00"/>
<path d="M4390 1020 4403 1020 4400 1118 4398 1300 4395 1300 4393 1118Z" fill="url(#sg)"/>
<path d="M4409 992 4431 1068 4451 1016 4430 935Z" fill="#f6ca00"/>
<path d="M4361 929 4380 1045 4397 1098 4379 928Z" fill="#f2c200"/>
<path d="M4310 884 4329 972 4348 954 4328 874Z" fill="#fa7200"/>
<path d="M4257 889 4278 929 4299 905 4278 864Z" fill="#fe5a00"/>
<path d="M4206 912 4228 944 4249 912 4227 890Z" fill="#fe6a00"/>
<path d="M4394 1097 4414 1136 4435 1062 4413 989Z" fill="#e2fa16"/>
<path d="M4344 946 4363 1040 4381 1045 4363 929Z" fill="#f6b600"/>
<path d="M4293 900 4312 990 4331 972 4312 884Z" fill="#fa7e00"/>
<path d="M4240 911 4262 951 4283 926 4261 886Z" fill="#fe6a00"/>
<path d="M4402 1106 4418 1106 4413 1167 4411 1281 4408 1281 4406 1167Z" fill="url(#sg)"/>
<path d="M4378 1036 4398 1099 4416 1136 4396 1098Z" fill="#cef626"/>
<path d="M4327 964 4347 1052 4365 1039 4346 946Z" fill="#f6be00"/>
<path d="M4276 921 4296 1011 4315 989 4295 899Z" fill="#fa8e00"/>
<path d="M4223 938 4245 979 4266 947 4244 908Z" fill="#fe8200"/>
<path d="M4361 1031 4381 1111 4400 1098 4380 1036Z" fill="#eaf20a"/>
<path d="M4310 981 4330 1073 4349 1052 4329 963Z" fill="#faca00"/>
<path d="M4259 942 4279 1031 4298 1011 4278 920Z" fill="#fa9e00"/>
<path d="M4344 1044 4364 1136 4383 1111 4363 1031Z" fill="#e6fa12"/>
<path d="M4294 1003 4313 1100 4332 1073 4312 981Z" fill="#fade00"/>
<path d="M4242 971 4262 1060 4281 1030 4262 942Z" fill="#fab600"/>
<path d="M4328 1065 4347 1164 4366 1135 4346 1043Z" fill="#d6fa26"/>
<path d="M4277 1023 4296 1120 4315 1100 4296 1002Z" fill="#faf200"/>
<path d="M4311 1092 4330 1194 4349 1163 4330 1064Z" fill="#befa3e"/>
<path d="M4260 1052 4280 1146 4299 1119 4279 1022Z" fill="#eefa0e"/>
<path d="M4294 1111 4314 1202 4332 1193 4313 1091Z" fill="#aaf64e"/>
<path d="M4277 1138 4297 1210 4316 1202 4296 1111Z" fill="#9efa5a"/>
</g>
<text x="349.8" y="39.6" font-size="7.3" text-anchor="end">0</text>
<text x="349.8" y="61.5" font-size="7.3" text-anchor="end">-20</text>
<text x="349.8" y="83.3" font-size="7.3" text-anchor="end">-40</text>
<text x="349.8" y="105.2" font-size="7.3" text-anchor="end">-60</text>
<text x="348.2" y="122.9" font-size="7.3" text-anchor="middle">0</text>
<text x="371.8" y="134.3" font-size="7.3" text-anchor="middle">45</text>
<text x="396.7" y="145.8" font-size="7.3" text-anchor="middle">90</text>
<text x="420.5" y="157" font-size="7.3" text-anchor="middle">135</text>
<text x="439.2" y="158.5" font-size="7.3" text-anchor="middle">-90</text>
<text x="463.8" y="152" font-size="7.3" text-anchor="middle">-45</text>
<text x="486.1" y="145.2" font-size="7.3" text-anchor="middle">0</text>
<text x="511.8" y="138.2" font-size="7.3" text-anchor="middle">45</text>
<text x="536.9" y="131" font-size="7.3" text-anchor="middle">90</text>
<text x="378.6" y="161.3" font-size="7.6" text-anchor="middle">&#981; (deg)</text>
<text x="485.6" y="163.3" font-size="7.6" text-anchor="middle">&#952; (deg)</text>
<text transform="translate(336.3 77.6) rotate(-90)" font-size="7.6" text-anchor="middle" textLength="55" lengthAdjust="spacingAndGlyphs">Beampattern (dB)</text>
<text x="430.1" y="183.9" font-size="15" font-weight="bold" textLength="17.6" lengthAdjust="spacingAndGlyphs">(b)</text>
</svg>
</body></html>
